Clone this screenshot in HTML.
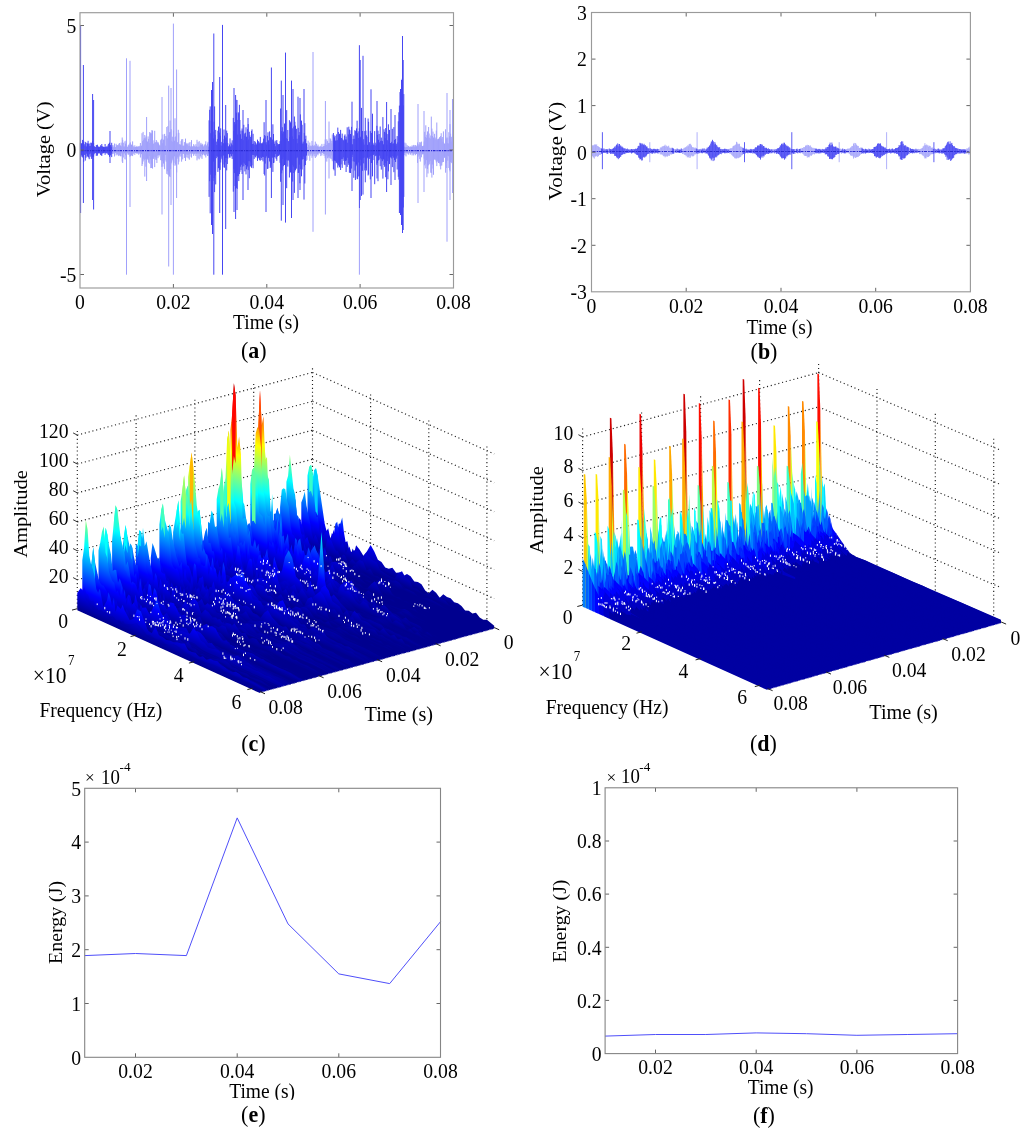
<!DOCTYPE html>
<html lang="en"><head><meta charset="utf-8"><title>Figure</title>
<style>html,body{margin:0;padding:0;background:#fff}svg{display:block}text{font-family:'Liberation Serif', 'Times New Roman', serif;fill:#000}.k0{fill:#0000a2}.k1{fill:#0000c3}.k2{fill:#0000e2}.k3{fill:#0002ff}.k4{fill:#0021ff}.k5{fill:#0041ff}.k6{fill:#0060ff}.k7{fill:#007fff}.k8{fill:#009eff}.k9{fill:#00beff}.k10{fill:#00ddff}.k11{fill:#00fcff}.k12{fill:#1cffe3}.k13{fill:#3cffc3}.k14{fill:#5bffa4}.k15{fill:#7aff85}.k16{fill:#99ff66}.k17{fill:#b9ff46}.k18{fill:#d8ff27}.k19{fill:#f7ff08}.k20{fill:#ffe800}.k21{fill:#ffc800}.k22{fill:#ffa900}.k23{fill:#ff8a00}.k24{fill:#ff6b00}.k25{fill:#ff4c00}.k26{fill:#ff2c00}.k27{fill:#ff0d00}.k28{fill:#ed0000}.k29{fill:#ce0000}.k30{fill:#ae0000}.k31{fill:#8f0000}</style>
</head><body>
<svg width="1024" height="1130" viewBox="0 0 1024 1130">
<rect width="1024" height="1130" fill="#fff"/>
<g id="pa">
<g fill="none" stroke-width="1">
<path stroke="#a0a0fb" d="M112.3 145.1V154M112.8 146.6V153.1M113.4 147.2V152.7M113.9 145.3V154.1M114.5 143.5V156.5M115 146.9V153.1M115.6 147.1V153M116.1 143.8V155.4M116.7 145.4V153.7M117.2 145.1V154.7M117.8 145.2V154.2M118.3 145.3V155.7M118.9 143.9V156.1M119.4 143V155.3M120 147.1V153.2M120.5 145.4V156.2M121.1 142.6V156.3M121.6 146.3V153.5M122.2 137.5V161.6M122.7 139.8V163M123.3 142.7V157.5M123.8 146.5V153.8M124.4 146.5V153.3M124.9 141.3V159.3M125.5 143.6V155.3M126 140.6V159.5M126.6 146.1V154.7M127.1 147V153.4M127.7 146.8V153.3M128.2 145.4V154.9M128.8 144.6V154.1M129.3 145.7V154.4M129.9 143.4V156.7M130.4 142.4V156.1M131 145V155M131.5 144.6V155.6M132.1 145.4V154.3M132.6 141.4V156.1M133.2 145.6V154.3M133.7 147.2V152.9M134.3 147.2V152.8M134.8 145.3V154.9M135.4 146.9V153M135.9 146.9V153.1M136.5 146.7V153M137 145.9V154M137.6 147V153M138.1 146.9V153.2M138.7 146.2V154.7M139.2 146.9V153.4M139.8 145.8V153.6M140.4 143V157.5M140.9 147.1V152.8M141.5 145.6V154.2M142 133.2V166M142.6 141.2V164.2M143.1 131.9V161.5M143.7 139.8V158.8M144.2 138.1V160.2M144.8 135V176.6M145.3 138.4V159.3M145.9 136.5V166.7M146.4 140.7V162.4M147 141V159.4M147.5 142V158.7M148.1 136.4V160.1M148.6 138.9V162.7M149.2 142.9V156M149.7 132V163.7M150.3 133.5V159.6M150.8 132.7V168.1M151.4 133.4V168M151.9 130.1V163.5M152.5 130.6V168.6M153 140.3V157.8M153.6 144V158.9M154.1 142.9V156.7M154.7 130.8V167.1M155.2 142.7V157.5M155.8 142.1V159.6M156.3 140V160M156.9 141.4V163M157.4 142.8V155.7M158 142V158.2M158.5 143.3V155M159.1 144.6V156.5M159.6 145.6V155M160.2 145.5V154.4M160.7 140.2V160.1M161.3 139.1V160.4M161.8 138.7V166.9M162.4 143.2V161M162.9 134.4V166.6M163.5 139.7V163.6M164 139.8V160M164.6 133.9V169.2M165.1 135.9V160.4M165.7 145.6V154.9M166.2 136.2V161.8M166.8 127V173.9M167.3 138.4V171.3M167.9 126.1V174.5M168.4 135.3V174.8M169 140.7V160.9M169.5 132.2V176.3M170.1 120.5V177.1M170.6 131.7V169.2M171.2 129.2V163.4M171.7 140.9V162.3M172.3 136.7V158.7M172.8 141.8V160.4M173.4 130.5V164.9M173.9 137.1V162.9M174.5 140.7V156.4M175 118.3V165.8M175.6 136.5V164.6M176.1 140.7V158.9M176.7 133.2V172.4M177.2 142.8V158.7M177.8 142V156.9M178.3 129.8V164.5M178.9 132.8V161.7M179.4 144.4V155.5M180 144V156.8M180.5 145V153.7M181.1 141.1V156M181.6 139.3V161.7M182.2 145.9V154.1M182.7 139.1V159.4M183.3 145.5V154M183.8 146V153.5M184.4 142.1V157.9M184.9 145.4V155M185.5 138.6V161M186 142.8V157.2M186.6 144.1V154.4M187.1 143.4V157.6M187.7 144.6V154.7M188.2 143.3V158.4M188.8 146.1V154.6M189.3 142.3V159.7M189.9 145.9V153.9M190.4 146.7V153.4M191 142.1V156.7M191.5 140.1V157.6M192.1 146.7V153.2M192.6 146.5V153.7M193.2 146.2V154.2M193.7 144.1V155.9M194.3 145.5V154.4M194.8 146.8V153.6M195.4 146.6V153.5M195.9 144.2V156M196.5 146.3V153.8M197 139.8V160.4M197.6 146.9V153.6M198.1 142.1V158.5M198.7 146.7V153.7M199.2 141.1V159.4M199.8 146.5V153.5M200.3 144.4V156.1M200.9 142.8V157.6M201.4 145V154M202 143.7V158.9M202.5 144.4V155.1M203.1 145.8V154.3M203.6 146.7V153.7M204.2 144.5V155.1M204.7 145.4V155.4M205.3 144V155.4M205.8 141.3V157.5M206.4 145.3V154.4M206.9 146.3V154.4M207.5 143.5V155.9M208 141.8V155.8M208.6 146.5V153.6M307 143.5V159.9M307.6 146.9V153.3M308.1 140.7V155.5M308.7 144.9V155.7M309.2 146.3V153.5M309.8 142.5V160.8M310.3 146.3V154.3M310.9 145.5V155.7M311.4 146.2V153.7M312 140.9V157.8M312.5 145.1V155.9M313.1 146V153.2M313.6 146.3V154.4M314.2 144.8V156.3M314.7 146.2V153.9M315.3 141.6V158M315.8 146.1V153.7M316.4 143.7V156.6M316.9 146.9V153.3M317.5 146.2V154.3M318 144.6V155.3M318.6 146.5V153.6M319.1 147.1V153M319.7 146.5V153.2M320.2 146.8V153.8M320.8 145.7V156.1M321.3 147V153.3M321.9 143.9V155.4M322.4 146.8V153M323 146.9V152.9M323.5 146.1V153.8M324.1 143.8V155.8M324.6 145.8V154M325.2 139.5V158.2M325.7 142.3V156.6M326.3 145V155.2M326.8 139.3V161.6M327.4 140.8V158.3M327.9 144.4V154.4M328.5 143.1V156.7M329 142.8V158.1M329.6 143V156.3M330.1 138.3V157.6M330.7 139.2V158.7M331.2 140.8V155.5M331.8 143.4V159.3M332.3 134.5V161.2M332.9 141V159.8M404.4 146.6V153.2M404.9 142.6V155.2M405.5 147.2V152.8M406 143.4V156.4M406.6 147V153M407.1 145.1V153.6M407.7 146.9V153.1M408.2 145.9V154.5M408.8 146V154.4M409.3 147.1V153.1M409.9 147.1V152.9M410.4 146.4V154.7M411 147.2V153.2M411.5 146.7V153.2M412.1 145.4V155.4M412.6 146.9V153M413.2 145.9V153.9M413.7 144.9V155.4M414.3 147.1V152.8M414.8 145.4V154M415.4 145.1V155.2M415.9 147.1V153.1M416.5 146.3V154.1M417 145.4V153.6M417.6 142.4V162.9M418.1 144.3V156.6M418.7 146.2V153.7M419.2 144.7V155.3M419.8 142.1V159.1M420.3 142.5V161.6M420.9 145V153.6M421.4 141.6V157.3M422 146.2V153.5M422.5 146.1V154.4M423.1 145.8V153.7M423.6 145.7V154.3M424.2 141.5V158.6M424.7 131.8V165.4M425.3 136.9V163.8M425.8 125.3V168.4M426.4 137.7V160.2M426.9 134.8V177.2M427.5 131.4V168.9M428 137.8V173.5M428.6 127V165.4M429.1 133.5V162.4M429.7 137.7V164.3M430.2 138.7V160.8M430.8 135.5V172.6M431.3 116.6V173M431.9 128.6V177.6M432.4 136V164.6M433 131.6V168.6M433.5 137.5V174.8M434.1 139.5V159.8M434.6 133.8V159.3M435.2 137.5V159M435.7 139.4V160.4M436.3 130.5V162.5M436.8 122.5V166.1M437.4 139.2V160.8M437.9 140.4V161.9M438.5 138.7V163M439 138.9V162.2M439.6 137.2V163.5M440.1 137.4V166.2M440.7 136V169.4M441.2 133.2V165.5M441.8 138.6V165.5M442.3 137V162.4M442.9 141.6V161.8M443.4 131.4V162M444 142.9V156.2M444.5 143.9V157.8M445.1 144.1V156.4M445.6 129.3V172.7M446.2 137.5V163M446.7 138.8V168M447.3 143.1V155.7M447.8 137.5V160.7M448.4 143.4V156.3M448.9 132.2V168M449.5 136.2V169.9M450 124.1V171.4M450.6 133.7V162.2M451.1 141.4V159.8M451.7 136.8V162.8M452.2 138.7V163.3M452.8 129.5V171.6M126.5 58.3V274.7M130 60.8V207M146.6 117V181M162 97V214.5M168.7 85.6V266.5M173.4 23.6V274.7M176.6 69.5V198M171 88V205M313 52V231.8M325.4 101V214.5M329 121.5V178.5M418 104V203M424 111V192M447 93V241.7M452.5 99V193M450 110V200M359.4 208V274.7M402.5 36V89"/>
<path stroke="#4646f2" d="M80.4 142.9V159.7M81 143.3V156.1M81.5 143.7V154.9M82 143.2V156.9M82.6 139.9V156.7M83.1 143V158M83.7 141.3V161.8M84.2 144.1V154.7M84.8 145.5V154.9M85.3 141.9V160.6M85.9 142.8V157.9M86.4 146.4V153.7M87 142.8V156.7M87.5 143.6V155.9M88.1 140.8V157.1M88.6 143.7V157.4M89.2 143.5V159.2M89.7 146.1V154.3M90.3 145.9V153.5M90.8 142.7V156.7M91.4 142.8V158.9M91.9 144V155.6M92.5 140.9V157.3M93 145.3V156.5M93.6 143V156.6M94.1 146.1V154.3M94.7 146.6V153.2M95.2 147.1V153.2M95.8 147V153M96.3 145.1V155.9M96.9 145.3V154.6M97.4 144.7V155.7M98 146.2V153.8M98.5 147.1V153M99.1 146.8V153.2M99.6 147.1V153.2M100.2 146.5V153.8M100.7 145.2V155M101.3 146.1V155.3M101.8 144V155.9M102.4 146.6V153.2M102.9 146.3V153.7M103.5 147V153M104 147.2V152.8M104.6 147.1V152.8M105.1 144V154.8M105.7 146.9V153.1M106.2 146.9V153.2M106.8 146.3V153.3M107.3 147.1V152.9M107.9 145.5V154.2M108.4 143.8V155.1M109 146.6V153.9M109.5 142.7V156.8M110.1 146.9V153M110.6 145.1V155.4M111.2 146.9V153.5M111.7 142.8V157.1M209.1 120.3V196.9M209.7 109.8V181.2M210.2 106.4V213.3M210.8 133.2V174.7M211.3 120.9V172M211.9 134.7V167.8M212.4 106.4V174.2M213 131.6V181M213.5 138.4V161.7M214.1 121.7V178.1M214.6 106.4V192.1M215.2 134.9V175.3M215.7 129.9V184.4M216.3 141.6V158.2M216.8 145V155.9M217.4 139.2V156.8M217.9 130.7V171.9M218.5 126.6V168.2M219 144.3V155.4M219.6 132.6V170.1M220.1 135.8V169.9M220.7 128.3V162.5M221.2 145.5V156.6M221.8 141.9V158.7M222.3 143V160.1M222.9 139.2V164.5M223.4 143.2V155.6M224 129.5V167.4M224.5 135.6V167.6M225.1 137.6V162.4M225.6 142.8V158.1M226.2 137.5V158.1M226.7 130.6V170.4M227.3 133.1V164M227.8 143.1V158.5M228.4 146.4V154.2M228.9 146.3V153.7M229.5 144.5V157.4M230 138.4V157.8M230.6 146.4V154.1M231.1 142.7V156.5M231.7 144.2V155.9M232.2 140.3V158.9M232.8 145.2V154M233.3 117.9V191.7M233.9 130.8V169.1M234.4 122.1V173.1M235 125.4V186.1M235.5 124.3V189.3M236.1 99.8V175.8M236.6 112.6V187.9M237.2 119.9V188.9M237.7 134.5V176.3M238.3 112.3V176M238.8 113.5V181.1M239.4 104.8V174.1M239.9 120V171.9M240.5 134.2V166.7M241 130.6V170.1M241.6 138.8V164.8M242.1 128.5V174M242.7 130.6V166.7M243.2 140.1V162.5M243.8 124.8V166.2M244.3 133.5V163.7M244.9 135.7V171.4M245.4 132.7V165M246 127.3V174.4M246.5 136.7V169.4M247.1 140.7V167.3M247.6 129.2V166M248.2 124.1V170.1M248.7 139.4V161.2M249.3 131.8V178.2M249.8 135.3V161.2M250.4 136.9V166.5M250.9 139.6V162.4M251.5 130.9V167.8M252 129.4V165.4M252.6 144V154.9M253.1 133.8V168.2M253.7 143.6V155M254.2 141V158.9M254.8 144.9V155.6M255.3 141.7V157M255.9 143V157.6M256.4 144.7V155.8M257 144.1V154.4M257.5 139.6V160.9M258.1 143.4V157.2M258.6 141.2V157.8M259.2 144V158.8M259.7 142.5V160.2M260.3 136.9V160.6M260.8 143.2V156.9M261.4 143.6V158M261.9 143.2V160M262.5 143.3V156.9M263 141.8V161.4M263.6 138.6V157.1M264.1 122.2V174M264.7 135V175.5M265.2 136.1V163.6M265.8 142.5V158M266.3 144.5V156.6M266.9 142.2V155.8M267.4 135.8V168.9M268 132.3V168.6M268.5 140.3V157.8M269.1 144.5V158.1M269.6 131.4V161.5M270.2 137.1V168M270.7 137.7V166.8M271.3 137.7V164.5M271.8 142.6V156.4M272.4 139.6V157.7M272.9 124.3V171.9M273.5 134V163M274 142.3V162.7M274.6 143.9V157M275.1 140.6V157.7M275.7 146.2V154M276.2 141.4V159M276.8 140V160.8M277.3 143.2V156.7M277.9 144.8V156M278.4 144.2V155.8M279 144.2V155.4M279.5 144V154.6M280.1 141.2V162.8M280.6 108.5V181.8M281.2 140.7V164.9M281.7 131.1V173.3M282.3 127.2V170.4M282.8 133.5V159.2M283.4 131.5V166.2M283.9 138.2V157.2M284.5 123.5V165.1M285 137.2V162.1M285.6 121.9V167.6M286.1 138V159.7M286.7 110.1V188.2M287.2 138.9V160.6M287.8 130V166.6M288.3 141V160M288.9 141.5V160.8M289.4 120.2V177.5M290 137V162M290.5 122.4V172.5M291.1 121.3V167.3M291.6 130.2V175.3M292.2 136.4V165M292.7 128.3V181.6M293.3 139V166.7M293.8 126.6V173M294.4 116.5V192.9M294.9 121.8V171.5M295.5 125.6V170.1M296 138.8V157.8M296.6 128.8V168.7M297.1 138.7V158.2M297.7 143.2V156.9M298.2 127.9V173M298.8 135.2V172.8M299.3 135.3V164.7M299.9 132V183.3M300.4 114.4V169.3M301 142.5V157M301.5 120.6V176.3M302.1 124.8V169.5M302.6 143.5V159.5M303.2 141.6V159M303.7 143.5V156.6M304.3 132.9V166.5M304.8 123.2V183.5M305.4 139V165.1M305.9 135.7V161M306.5 143.3V155.6M333.4 133V169M334 135.3V170.3M334.5 137.3V160.7M335.1 135.8V175.8M335.6 140.6V161.2M336.2 140.7V162.9M336.7 134.3V162.5M337.3 140.2V163.7M337.8 127.6V167.6M338.4 132V165.5M338.9 138.2V162.1M339.5 133.8V167.3M340 135.6V160.1M340.6 129.9V170M341.1 137.9V164.5M341.7 138.1V159M342.2 133.6V167.9M342.8 139.3V159M343.3 140.4V157.5M343.9 140.3V160.9M344.4 135.7V164.5M345 134.4V165.1M345.5 139.4V161M346.1 136.5V172M346.6 139.5V160.5M347.2 127.3V166.9M347.7 142.7V157.8M348.3 134.4V163.3M348.8 126.7V164.9M349.4 129.5V172.8M349.9 130.2V168.7M350.5 134V173M351 136.7V161.1M351.6 126.8V168.6M352.1 144.3V157M352.7 144.4V154.8M353.2 139V161.3M353.8 135.5V177.8M354.3 138.9V161.8M354.9 130.1V170.6M355.4 131.1V180M356 139.6V166.2M356.5 128.4V164.7M357.1 120.7V178.7M357.6 133.2V179.2M358.2 131.3V176.5M358.7 137.9V162.5M359.3 128.3V176.1M359.8 136.1V166.2M360.4 137.6V159.7M360.9 137V165.4M361.5 107.9V195.9M362 140.6V159.3M362.6 131V170.8M363.1 142.5V158M363.7 139.2V163.4M364.2 144.6V157.6M364.8 131.1V170.4M365.3 117.8V182.3M365.9 130.6V168.2M366.4 135.3V170.5M367 136.8V158.5M367.5 144.8V157.7M368.1 118.5V175.5M368.6 121.8V174.5M369.2 143.3V157.1M369.7 142.1V158.9M370.3 131.1V179.4M370.8 145.5V156.2M371.4 132.9V163M371.9 145V155.4M372.5 113.7V176.4M373 142.8V160.1M373.6 144.6V154.9M374.1 144.6V154.3M374.7 131.1V184.2M375.2 145.6V156.2M375.8 142.7V155.5M376.3 144.3V155.6M376.9 125.8V164.8M377.4 135V162.9M378 130.7V181.2M378.5 139.7V160.4M379.1 134V159.7M379.6 142.4V155.7M380.2 126.5V166.2M380.7 140.9V158.4M381.3 137.6V169.6M381.8 140.7V159.2M382.4 141.1V161.2M382.9 117.1V178.6M383.5 144.3V159.4M384 129.3V165M384.6 131.8V166.8M385.1 138.1V163M385.7 128.1V177.2M386.2 132.9V166.3M386.8 144.6V156.3M387.3 140.2V161.1M387.9 134.1V179.3M388.4 124.3V171.4M389 141.7V158.2M389.5 129.9V164.1M390.1 144.5V156.1M390.6 143V157.5M391.2 143.1V157.1M391.7 141.8V158.5M392.3 128.8V167.1M392.8 143.9V156M393.4 143.3V157.7M393.9 127.1V172.2M394.5 139.9V160.1M395 143.5V155.6M395.6 138.9V162M396.1 145.5V156.9M396.7 143.7V158.7M397.2 136.1V169.5M397.8 142.3V155.7M398.3 121.3V176.8M398.9 112.3V179.6M399.4 105.6V213M400 92.1V213M400.5 131.4V172M401.1 132V167.4M401.6 100.8V187.3M402.2 78.8V186.2M402.7 113.1V178.6M403.3 105.4V207.5M403.8 94.1V196.9M80.6 25V213M83.4 65V203M92.6 94V200M93.6 100V209.5M110 131V163M213.8 33.5V274.7M212.5 82V234M211.5 90V225M222.5 24.9V274.7M219.7 77V213M225.7 105V229M234 88V212M235.6 95V219M237 100V210M243 110V200M248 118V190M266 100V212M271.4 67.5V198M281.3 80.6V220.7M285.5 52.6V222.6M283 95V205M291.5 80.6V218M293 89V200M298 96.7V198M300 98V190M304 89V199.6M352 101.7V191M359.4 45.2V208M360.2 60V200M363 55.8V194.6M371 89.3V198M377 101V178.5M386.6 102V192M391 109V185M395 115V180M400.5 89V215M401.5 80V225M402.5 36V233M403.2 60V230"/>
<path stroke="#2c2cd4" stroke-width="1.1" stroke-dasharray="2.5 1 1.2 0.8" d="M81 150.6H452.5"/>
</g>
<path d="M173.4 288v-4M173.4 12.7v4M266.8 288v-4M266.8 12.7v4M360.1 288v-4M360.1 12.7v4M80 25.5h4M453.5 25.5h-4M80 150h4M453.5 150h-4M80 274.5h4M453.5 274.5h-4" stroke="#666" stroke-width="1" fill="none"/>
<rect x="80" y="12.7" width="373.5" height="275.3" fill="none" stroke="#9a9a9a" stroke-width="1.15"/>
<text transform="translate(80 309) scale(1.01 1.11)" font-size="19.5" text-anchor="middle">0</text>
<text transform="translate(173.4 309) scale(1.01 1.11)" font-size="19.5" text-anchor="middle">0.02</text>
<text transform="translate(266.8 309) scale(1.01 1.11)" font-size="19.5" text-anchor="middle">0.04</text>
<text transform="translate(360.1 309) scale(1.01 1.11)" font-size="19.5" text-anchor="middle">0.06</text>
<text transform="translate(453.5 309) scale(1.01 1.11)" font-size="19.5" text-anchor="middle">0.08</text>
<text transform="translate(76.4 32.8) scale(1.01 1.11)" font-size="19.5" text-anchor="end">5</text>
<text transform="translate(76.4 157.3) scale(1.01 1.11)" font-size="19.5" text-anchor="end">0</text>
<text transform="translate(76.4 281.8) scale(1.01 1.11)" font-size="19.5" text-anchor="end">-5</text>
<text transform="translate(266 329.4) scale(1 1.09)" font-size="19.5" text-anchor="middle">Time (s)</text>
<text transform="translate(50 149.3) rotate(-90) scale(1.05 1.02)" font-size="19.5" text-anchor="middle">Voltage (V)</text>
<text transform="translate(253.8 358.4) scale(1 1.085)" font-size="22" text-anchor="middle">(<tspan font-weight="bold">a</tspan>)</text>
</g>
<g id="pb">
<g fill="none" stroke-width="0.9">
<path stroke="#a9a9fb" d="M591.9 146V156.2M592.5 145.4V156M593.1 145.3V157.3M593.7 145.5V157.4M594.3 144.7V158.6M594.9 144.4V156M595.5 144.6V156.6M596.1 144.9V155.9M596.7 144.4V155.9M597.3 146V156.9M597.9 146V156.5M598.5 146.7V156M599.1 147.1V154.9M599.7 147.3V154.9M600.3 148.1V154.9M600.9 148.4V153.8M603.3 149.4V153M604.5 149.6V153M605.7 149.5V153.1M608.1 148.9V152.7M608.7 149.4V153.6M625.5 148.1V153.1M629.1 149.6V152.6M630.9 149.7V152.7M633.3 149.2V152.6M649.5 148.9V153.8M658.5 149V153.7M659.1 149.4V153.2M659.7 149.4V153.1M660.3 147.7V154.4M660.9 147.4V154.2M661.5 147.6V154.2M662.1 146.6V154.8M662.7 146.5V154.6M663.3 146.2V155.9M663.9 145.9V156.3M664.5 145.8V155.7M665.1 144.7V157.3M665.7 146.7V156.2M666.3 145.6V156.5M666.9 146.2V155.6M667.5 147.1V156.6M668.1 146.2V155.5M668.7 145.7V155.5M669.3 147.8V156M669.9 147.6V154.7M670.5 148.3V154.1M671.1 148.7V154.3M671.7 147.8V154.5M674.1 149.5V153.6M674.7 149V152.8M675.3 149.2V152.6M676.5 149.7V153M677.7 148.8V152.6M678.3 149.1V152.8M681.9 149.5V152.8M682.5 149.1V154M683.1 148.9V154M683.7 148.5V153.3M684.3 147.7V154.8M684.9 147.9V154.8M685.5 147.3V154.9M686.1 147.3V156.2M686.7 146.3V155.5M687.3 146.5V157.4M687.9 145.2V156.9M688.5 146.2V156.8M689.1 144.3V157.9M689.7 143.9V156.2M690.3 143.8V157.7M690.9 144.7V156.5M691.5 145.6V155.2M692.1 147V155.9M692.7 147.3V156.4M693.3 147.3V156.2M693.9 147.8V155.7M694.5 148.4V154.2M695.1 147.4V154.7M695.7 148.5V154M697.5 149.2V154M698.7 149.6V153.4M699.9 149.2V153.3M700.5 148.9V152.7M703.5 148.6V152.6M704.7 148.4V153.1M705.3 149.3V153.7M721.5 148.9V154.4M723.9 149.6V152.7M725.1 149.4V153.8M727.5 149.3V153.1M729.3 148.7V152.8M729.9 149.1V153.8M730.5 148.4V153.4M731.1 148.2V153.4M731.7 148.4V154.8M732.3 147.9V155.4M732.9 146.4V156.2M733.5 146.1V156.6M734.1 145.5V156.9M734.7 145.7V158.2M735.3 144.9V158.4M735.9 144.4V158.2M736.5 141.8V158.5M737.1 142.5V157.1M737.7 144.2V158.2M738.3 143.8V158.2M738.9 144.6V157.6M739.5 143.8V157.4M740.1 146.9V156.7M740.7 146.3V157.1M741.3 147.1V155.3M741.9 146.9V155.3M742.5 147.9V154.8M744.3 149V153.1M745.5 149.4V153.1M747.9 149.7V153.6M749.1 149.5V153M752.7 149.2V153.8M770.7 149.7V153.6M772.5 149.7V152.9M773.1 149.7V152.6M773.7 149.1V152.6M774.9 148.9V153.7M775.5 149.5V152.6M790.5 148.7V154.7M791.1 148.8V154.5M794.7 149.2V153M795.3 149.4V153.8M795.9 149.1V152.8M798.3 149V152.9M798.9 149.2V153.2M800.7 148.6V153.4M801.3 149.4V152.9M801.9 147.9V153M802.5 148V153.4M803.1 148.8V153.8M803.7 147.2V154.5M804.3 147V155.5M804.9 147.5V155.9M805.5 145.9V156M806.1 145.1V156M806.7 145.9V156.1M807.3 144.8V157.6M807.9 146.4V156.5M808.5 145V157.1M809.1 146.7V157.4M809.7 145.8V156.3M810.3 145.4V155.3M810.9 146.7V155.5M811.5 147.3V155.7M812.1 148.2V154.2M812.7 147.7V154.6M813.3 148.4V154M813.9 147.9V153.5M814.5 148.4V154.4M815.1 148.4V153.9M821.7 149.4V152.6M822.9 149.4V152.9M839.7 148.1V153.2M840.3 148.9V152.8M840.9 148.8V152.7M841.5 149.6V153.8M843.3 149.4V153.4M845.1 149.4V152.8M846.3 149.2V152.8M846.9 149.3V152.6M847.5 148.7V152.8M848.1 148.8V153.3M848.7 148.7V152.8M849.3 148.5V153.5M849.9 148.6V154.2M850.5 147.5V155.3M851.1 147.7V155.5M851.7 146.4V155.8M852.3 145.9V155.5M852.9 146.2V156.3M853.5 143.8V158.6M854.1 142.9V157.3M854.7 145.3V156.5M855.3 143.1V158M855.9 143.6V157.8M856.5 144.9V157M857.1 145.8V156.7M857.7 145.8V157.1M858.3 146V156.8M858.9 147.7V155.7M859.5 148V155.8M860.1 148.1V155M860.7 147.5V153.7M861.3 148.6V153.5M863.1 149.3V153M864.3 149.4V153.4M868.5 148.5V153.2M870.9 149.3V152.7M891.9 149.7V153M909.3 148.2V154.1M909.9 148.4V153.6M914.1 149V153.2M915.3 149.7V152.9M916.5 149.4V153.2M917.7 149.1V152.7M918.3 148.9V152.9M918.9 149.1V153M919.5 149.4V154.1M920.1 149.3V153.5M920.7 148.9V154.1M921.3 148.6V154M921.9 148.3V154.6M922.5 148V154.9M923.1 146.5V156M923.7 146.3V155.6M924.3 145.3V157.3M924.9 143.2V158.5M925.5 145.2V158.1M926.1 145.4V158.4M926.7 144.5V156.5M927.3 145.5V157.2M927.9 145.3V157M928.5 146.8V156.9M929.1 145.6V156.1M929.7 146V156.1M930.3 146.2V154.7M930.9 147.9V154.1M931.5 147.9V154.3M932.1 147.4V154M932.7 147.8V154.2M933.9 149V153.8M934.5 148.4V153M935.7 149.3V153.5M937.5 149V152.8M940.5 149.6V153.2M958.5 149.1V153.1M966.3 149.6V153.4M966.9 148.3V153.3M967.5 149.1V153.2M968.1 148.1V153.3M968.7 147.4V154.5M969.3 148.5V153.8M969.9 146.6V154.4M649.8 142.2V162.2M697.1 132.2V169.2M839.2 142.2V162.2M886.6 132.2V169.2"/>
<path stroke="#4b4bf3" d="M601.5 148.4V153.5M602.1 149V154M602.7 149.4V153M603.9 148.4V153M605.1 149.3V153M606.3 149.2V152.6M606.9 149.3V153.6M607.5 149.5V153.8M609.3 148.5V152.8M609.9 149.4V152.6M610.5 149.2V153.9M611.1 149.3V152.9M611.7 149.5V153.8M612.3 148.8V153.4M612.9 148.8V153.9M613.5 148.2V153.5M614.1 147.7V154M614.7 146.6V155.8M615.3 147.6V156M615.9 145.8V155.7M616.5 144.6V156.8M617.1 145.3V158.1M617.7 143.4V157.8M618.3 146.3V159.2M618.9 144.2V157.3M619.5 144V158.1M620.1 146.1V156.4M620.7 145.4V156.9M621.3 147.2V155.2M621.9 146.3V155M622.5 147.4V154.4M623.1 147.6V154.2M623.7 148.5V153.6M624.3 148.2V153.8M624.9 149V154.1M626.1 149V153.2M626.7 149.4V152.9M627.3 148.5V152.9M627.9 149.5V152.7M628.5 149.5V152.8M629.7 149.6V152.6M630.3 149.4V152.6M631.5 149V153.5M632.1 149.7V153.1M632.7 149.2V152.7M633.9 149V152.6M634.5 149.5V152.7M635.1 149V153.8M635.7 148.6V153.4M636.3 149V154.5M636.9 148.7V154.9M637.5 148.1V154.9M638.1 146.3V155.4M638.7 145.8V157.5M639.3 146.2V158M639.9 142.8V159.5M640.5 143.5V159.1M641.1 143.3V158.5M641.7 144.5V160.5M642.3 143.5V160.3M642.9 144.5V157.8M643.5 145.1V156.9M644.1 143.8V156.7M644.7 145.3V157.6M645.3 145.1V156.4M645.9 145.9V156.6M646.5 146.9V155.5M647.1 146.5V154.4M647.7 148.2V154M648.3 148.3V153.8M648.9 148.7V153.5M650.1 148V153.1M650.7 149.3V153M651.3 148.9V153.3M651.9 149.6V153.5M652.5 149.6V153.6M653.1 148.9V153.3M653.7 148.9V152.7M654.3 148.9V152.6M654.9 148.9V153.6M655.5 149.4V152.7M656.1 149.1V152.8M656.7 149.7V152.6M657.3 148.8V153.4M657.9 149.1V152.8M672.3 147.8V153.4M672.9 148.4V153.8M673.5 148.6V153.5M675.9 149.6V152.7M677.1 148.6V152.7M678.9 149.5V153M679.5 149.7V153M680.1 149.6V153M680.7 149.7V152.7M681.3 148.4V152.7M696.3 148.5V153.2M696.9 148.8V153.4M698.1 149.5V153.5M699.3 149.4V153.1M701.1 149.5V152.9M701.7 149.7V153.1M702.3 148.5V153.3M702.9 149.7V152.9M704.1 148.6V152.6M705.9 149.5V153.1M706.5 149.3V153.4M707.1 147.7V153.3M707.7 148.4V153.7M708.3 146.9V155.1M708.9 146.9V155.9M709.5 145.6V157.6M710.1 145.5V158.5M710.7 143.6V158.4M711.3 141.6V160.4M711.9 141.6V159.1M712.5 139.8V157.7M713.1 141V161.1M713.7 142.2V157.9M714.3 144.4V160.4M714.9 142.1V157.9M715.5 143.7V156.9M716.1 145.7V156.2M716.7 144.9V157.3M717.3 146.6V155.6M717.9 146.9V155.5M718.5 147.8V154.8M719.1 147.2V154.6M719.7 147.4V153.6M720.3 149.1V153.7M720.9 149.1V153.9M722.1 149.3V153.2M722.7 149.4V152.8M723.3 149.1V152.8M724.5 148.7V153.2M725.7 148.8V153M726.3 149.2V152.7M726.9 149.4V153.2M728.1 149.4V152.9M728.7 149.6V153M743.1 147.8V153.7M743.7 148.3V154M744.9 149V153.7M746.1 148.6V152.8M746.7 149.6V152.8M747.3 149.5V153M748.5 149.7V152.6M749.7 149.7V153M750.3 149.4V153M750.9 148.9V153.2M751.5 149.5V152.8M752.1 149.5V152.6M753.3 149.2V153.3M753.9 149.3V153M754.5 149.3V153.2M755.1 147.8V153.9M755.7 147.2V153.5M756.3 147.8V155.1M756.9 147.1V155.2M757.5 145.8V156.4M758.1 145.3V157.3M758.7 145.8V156.7M759.3 145.9V158M759.9 144.4V158.1M760.5 144V159.6M761.1 145.5V157.7M761.7 144.3V156.6M762.3 144.8V155.8M762.9 146.8V157.6M763.5 146V155.7M764.1 146.3V156.4M764.7 147.9V154.6M765.3 147.7V154.8M765.9 148.4V153.9M766.5 147.8V153.6M767.1 148.8V153.7M767.7 149V153.6M768.3 148.2V154M768.9 149.5V153.8M769.5 149.2V153M770.1 149.3V152.7M771.3 149.7V152.9M771.9 149.1V153.3M774.3 149.7V153.2M776.1 149.1V152.8M776.7 149.5V154M777.3 148.6V153.2M777.9 148.1V153.5M778.5 148.3V154M779.1 147.9V154.2M779.7 147.1V154.8M780.3 145.5V156.3M780.9 145.5V156.7M781.5 144V157.8M782.1 143.4V158.6M782.7 144.5V157.9M783.3 144.4V158M783.9 142.7V158.3M784.5 142.8V159.7M785.1 144.2V158M785.7 144.7V158.5M786.3 146V155.8M786.9 145.4V156.7M787.5 146.6V155.5M788.1 146V154.7M788.7 147.2V155.2M789.3 147.5V154.4M789.9 147.7V154.4M791.7 149V153.2M792.3 149.2V153.3M792.9 149.4V153.3M793.5 149.3V153.8M794.1 149.1V153.9M796.5 149.1V152.6M797.1 148.6V152.6M797.7 149.7V153.3M799.5 149V152.7M800.1 148.8V152.8M815.7 148.7V152.9M816.3 148.7V152.8M816.9 148.9V153.5M817.5 149.6V152.8M818.1 149.7V152.6M818.7 148.9V153.5M819.3 149.2V152.7M819.9 148.9V153.5M820.5 149.7V152.6M821.1 149.7V153.2M822.3 148.9V152.7M823.5 149.4V152.7M824.1 149.5V153.1M824.7 149.4V152.9M825.3 148.8V154.4M825.9 147.5V154.2M826.5 148.7V154.1M827.1 147.1V154.4M827.7 146.9V156.1M828.3 147V156.8M828.9 144.9V155.7M829.5 144.2V158.9M830.1 142.6V159M830.7 145.5V158.4M831.3 145.1V159.2M831.9 142.5V158.8M832.5 144.4V159.3M833.1 146.5V157.4M833.7 146.6V158.2M834.3 146.8V157.3M834.9 146.9V156.9M835.5 146.6V154.8M836.1 146.7V154.8M836.7 148.3V154.6M837.3 147.7V153.8M837.9 148.3V153.8M838.5 148.4V154M839.1 149V153.4M842.1 149.6V152.6M842.7 148.5V152.6M843.9 149.7V153M844.5 149.2V153.4M845.7 149.7V153.4M861.9 147.7V153.8M862.5 148.6V153M863.7 148.9V153.5M864.9 149.6V152.9M865.5 148.8V153.6M866.1 149.6V152.7M866.7 149.2V153.1M867.3 149.7V152.7M867.9 149.7V152.6M869.1 149.7V152.9M869.7 148.9V152.8M870.3 149.7V152.8M871.5 149.6V152.9M872.1 149.1V152.8M872.7 149V153.1M873.3 149.1V153.6M873.9 147.2V153.7M874.5 147V156M875.1 146.8V156.4M875.7 146.9V156.3M876.3 146.2V157.7M876.9 145.5V157.1M877.5 144V156.8M878.1 143.1V156.5M878.7 143.8V157.8M879.3 143.7V157.8M879.9 143.9V158.4M880.5 143.4V157.7M881.1 145.4V156.9M881.7 146V155.2M882.3 147.1V156.1M882.9 146.1V155.6M883.5 147.1V154.7M884.1 147.3V155.1M884.7 148.1V154.6M885.3 147.5V153.9M885.9 148.8V153.7M886.5 149.1V153.1M887.1 149.1V153.5M887.7 149.4V152.8M888.3 149.1V152.7M888.9 149.2V152.9M889.5 148.7V152.7M890.1 149.7V152.6M890.7 149.6V153.5M891.3 148.8V153.1M892.5 148.5V152.6M893.1 149.7V152.6M893.7 149.4V152.6M894.3 149.4V153.4M894.9 149V153.2M895.5 148.2V152.9M896.1 148.2V153.4M896.7 148V154M897.3 147.7V153.6M897.9 148.1V154M898.5 147.1V155.3M899.1 145V156.6M899.7 146V156M900.3 145V159.3M900.9 142.1V159.3M901.5 141.3V159.7M902.1 144.3V160M902.7 141.4V158M903.3 143.8V158.3M903.9 145.9V158.6M904.5 145.6V158.2M905.1 145.3V158.1M905.7 145.5V156.5M906.3 146.5V155.6M906.9 147.7V154.6M907.5 146.8V155.2M908.1 147.5V154.3M908.7 147.3V153.6M910.5 148.3V153M911.1 149V153M911.7 149V152.9M912.3 148.9V153.4M912.9 149.1V153.2M913.5 149.5V152.7M914.7 149.6V153.2M915.9 148.7V152.6M917.1 149.7V152.8M933.3 149V153.5M935.1 148.9V152.8M936.3 149.6V152.7M936.9 149.7V152.7M938.1 148.6V153.1M938.7 148.7V152.7M939.3 149.7V153.4M939.9 149.5V153.1M941.1 149.7V152.8M941.7 149.6V153.5M942.3 149.5V153.5M942.9 148.3V153.1M943.5 148.4V153.1M944.1 148.6V153.5M944.7 147.8V154.4M945.3 146.2V155.1M945.9 145.6V156.9M946.5 144.7V155.5M947.1 143.3V159.8M947.7 142.1V157.6M948.3 141.5V159.7M948.9 143.6V159.8M949.5 144.2V158.9M950.1 141.3V158.5M950.7 144.1V161M951.3 143.4V160.1M951.9 142.9V159.2M952.5 145V158.4M953.1 146.6V158.1M953.7 146.2V157.7M954.3 146.2V155.1M954.9 147.4V155.2M955.5 148.1V154.1M956.1 148.2V154M956.7 148.1V154.2M957.3 148.9V153.2M957.9 148.4V153.3M959.1 149.1V153.8M959.7 149V152.9M960.3 149.2V153.4M960.9 149.5V153.4M961.5 149.6V152.9M962.1 149.7V153.4M962.7 149.4V152.7M963.3 149.4V153.1M963.9 149.5V153.4M964.5 149.5V153.7M965.1 149.6V152.6M965.7 149.6V153.5M602.4 132.2V169.2M744.5 142.2V162.2M791.8 132.2V169.2M933.9 142.2V162.2"/>
<path stroke="#2a2ad0" stroke-width="1.2" stroke-dasharray="3 1.2 1.5 0.8" d="M592.5 151.5H969.4"/>
</g>
<path d="M686.2 291.8v-4M686.2 12.5v4M781 291.8v-4M781 12.5v4M875.7 291.8v-4M875.7 12.5v4M591.5 59.1h4M970.4 59.1h-4M591.5 105.6h4M970.4 105.6h-4M591.5 152.2h4M970.4 152.2h-4M591.5 198.7h4M970.4 198.7h-4M591.5 245.3h4M970.4 245.3h-4" stroke="#666" stroke-width="1" fill="none"/>
<rect x="591.5" y="12.5" width="378.9" height="279.3" fill="none" stroke="#9a9a9a" stroke-width="1.15"/>
<text transform="translate(591.5 313) scale(1.01 1.11)" font-size="19.5" text-anchor="middle">0</text>
<text transform="translate(686.2 313) scale(1.01 1.11)" font-size="19.5" text-anchor="middle">0.02</text>
<text transform="translate(781 313) scale(1.01 1.11)" font-size="19.5" text-anchor="middle">0.04</text>
<text transform="translate(875.7 313) scale(1.01 1.11)" font-size="19.5" text-anchor="middle">0.06</text>
<text transform="translate(970.4 313) scale(1.01 1.11)" font-size="19.5" text-anchor="middle">0.08</text>
<text transform="translate(586.9 19.8) scale(1.01 1.11)" font-size="19.5" text-anchor="end">3</text>
<text transform="translate(586.9 66.4) scale(1.01 1.11)" font-size="19.5" text-anchor="end">2</text>
<text transform="translate(586.9 112.9) scale(1.01 1.11)" font-size="19.5" text-anchor="end">1</text>
<text transform="translate(586.9 159.5) scale(1.01 1.11)" font-size="19.5" text-anchor="end">0</text>
<text transform="translate(586.9 206) scale(1.01 1.11)" font-size="19.5" text-anchor="end">-1</text>
<text transform="translate(586.9 252.6) scale(1.01 1.11)" font-size="19.5" text-anchor="end">-2</text>
<text transform="translate(586.9 299.1) scale(1.01 1.11)" font-size="19.5" text-anchor="end">-3</text>
<text transform="translate(779.5 334.3) scale(1 1.09)" font-size="19.5" text-anchor="middle">Time (s)</text>
<text transform="translate(561.8 151) rotate(-90) scale(1.085 1.02)" font-size="19.5" text-anchor="middle">Voltage (V)</text>
<text transform="translate(764 359.1) scale(1 1.085)" font-size="22" text-anchor="middle">(<tspan font-weight="bold">b</tspan>)</text>
</g>
<g id="pc">
<path d="M77.3 431L77.3 608.7M136.1 415.3L136.1 593M194.9 399.7L194.9 577.4M253.7 384L253.7 561.7M312.5 368.3L312.5 546M77.3 579.8L312.5 517.1M77.3 550.8L312.5 488.1M77.3 521.9L312.5 459.2M77.3 492.9L312.5 430.2M77.3 464L312.5 401.3M77.3 435.1L312.5 372.4M370.6 394.4L370.6 572.1M428.8 420.5L428.8 598.2M486.9 446.5L486.9 624.2M312.5 517.1L494.2 598.6M312.5 488.1L494.2 569.6M312.5 459.2L494.2 540.7M312.5 430.2L494.2 511.7M312.5 401.3L494.2 482.8M312.5 372.4L494.2 453.9" fill="none" stroke="#1e1e1e" stroke-width="1.15" stroke-dasharray="1.1 2.8"/>
<path d="M77.3 579.8l-4.2 -2.2M77.3 550.8l-4.2 -2.2M77.3 521.9l-4.2 -2.2M77.3 492.9l-4.2 -2.2M77.3 464l-4.2 -2.2M77.3 435.1l-4.2 -2.2" fill="none" stroke="#333" stroke-width="1"/>
<defs><linearGradient id="jc" gradientUnits="userSpaceOnUse" x1="0" y1="0" x2="0" y2="-185.2"><stop offset="0" stop-color="#00008f"/><stop offset="0.125" stop-color="#0000ff"/><stop offset="0.375" stop-color="#00ffff"/><stop offset="0.625" stop-color="#ffff00"/><stop offset="0.875" stop-color="#ff0000"/><stop offset="1" stop-color="#800000"/></linearGradient></defs>
<path d="M77.3 608.7L312.5 546L494.2 627.5L260 691.5Z" fill="#00008f"/>
<g fill="url(#jc)">
<path transform="matrix(1 0.4485 0 1 312.5 541.7)" d="M0 5.9l0 -68.7l1.7 -9.5l1.8 -2.7l1.7 6.9l7 44.7l1.8 6.3l1.7 -3.5l1.7 7.6l1.8 2.8l1.7 -11.3l1.8 8.2l1.7 -4.8l1.8 -11.6l1.7 -1.1l1.8 -6.7l1.7 13.7l1.7 9.2l1.8 -1.6l1.7 7.7l1.8 4.8l1.7 -7.4l1.8 2.6l1.7 -7.4l3.6 2.7l3.7 4.5l3.6 -6.3l3.6 -7.7l3.7 4.8l3.6 6.7l3.6 0.5l3.7 3.8l3.6 -0.3l3.6 -2.5l3.7 3.3l3.6 -2l3.6 2.1l3.7 -3.9l3.6 0.8l3.7 3.5l3.6 -1l3.6 0.6l3.7 4.5l3.6 1.2l3.6 -5.1l3.7 1.3l3.6 3.3l3.6 -5l3.7 1.1l3.6 -0.4l3.6 2.4l3.7 -0.7l3.6 1.2l3.6 2.8l3.7 -1.3l3.6 1.2l3.6 -2.4l3.7 3l3.6 0.7l3.6 -1.7l7.3 2.7V5.9z"/>
<path transform="matrix(1 0.4485 0 1 312.5 541.7)" fill="#00d2ff" d="M1.7 -72.3L3.5 -75L5.2 -68.1L5.2 -28.3L3.5 -31.4L1.7 -30.2z"/>
<path transform="matrix(1 0.4486 0 1 311.3 542)" d="M0 5.9l0 -19.8l1.7 -8.3l1.8 -2l5.2 12.7l3.5 6.7l1.8 1l1.7 -0.9l1.7 2.5l1.8 -3.8l1.7 3.7l3.5 -2.2l1.8 -0.4l1.7 -3.9l1.8 2l1.7 3l1.7 -1.5l5.3 3.1l1.7 -1.9l3.5 2.3l7.3 0.2l3.6 -1.7l3.6 0.6l3.7 -0.4l3.6 1l7.3 2.8l3.6 -1.6l7.3 1.1l3.6 -1.2l3.7 0.1l3.6 -1.7l7.3 1.5l3.6 2.5l3.6 0.3l3.7 -1.2l3.6 0.6l3.6 -0.3l7.3 0.5l3.6 -1.4l3.7 0l7.2 2l3.7 -0.2l3.6 0.4l3.6 -0.5l14.6 0l7.2 0.7l7.3 1.4V5.9z"/>
<path transform="matrix(1 0.4486 0 1 310 542.4)" d="M0 5.9l0 -22.6l1.7 -3.1l1.8 -2l3.5 6.2l1.7 5.3l1.8 2.6l1.7 -0.5l1.8 2.6l1.7 -0.2l1.7 0.6l1.8 3.5l1.7 -3.3l1.8 3.8l1.7 -0.2l1.8 -7l3.5 -0.2l1.7 1.7l1.7 4.5l1.8 0.1l1.7 -0.8l3.5 -0.8l1.8 3.7l12.6 -3.4l3.6 0l3.7 0.8l3.6 1.5l7.3 0.3l3.6 1.6l3.7 -1.1l3.6 0.2l3.6 1.5l3.7 -2.1l3.6 -0.5l3.6 0.1l3.7 2.3l7.2 -0.8l3.7 0l3.6 0.9l7.3 -0.4l7.2 0.2l3.7 -0.6l3.6 1.1l3.6 0.5l7.3 0l3.6 -0.5l10.9 0.9l7.3 -0.1l7.3 0.7l3.6 0.8V5.9z"/>
<path transform="matrix(1 0.4486 0 1 308.8 542.7)" d="M0 5.9l0 -20.3l1.7 -3.3l1.8 -5.3l1.7 4.8l1.8 3.2l1.7 2.3l1.8 5.5l1.7 1.7l1.8 1l1.7 -1.9l3.5 2.7l1.7 0.5l1.8 -0.1l1.7 -0.8l1.8 -2.5l1.7 -1.6l1.8 0.8l1.7 3.2l1.7 0.6l1.8 -0.6l1.7 1.1l1.8 0.2l1.7 1.3l1.8 -1.8l1.7 -0.3l3.6 3.4l3.7 -3.1l3.6 -1.7l3.6 -4l3.7 5.9l3.6 2.7l3.7 -1.1l3.6 2.9l3.6 -1l3.7 -0.1l3.6 0.4l3.6 1l7.3 -5.3l7.3 3.4l3.6 0.8l3.6 -0.4l3.7 0.1l3.6 0.4l3.6 1.3l3.7 -0.7l3.6 0.7l3.6 -1.5l3.7 -0.2l3.6 1.3l3.6 0.2l7.3 -0.4l3.6 0.3l3.7 0.9l14.5 -0.4l10.9 1.5V5.9z"/>
<path transform="matrix(1 0.4486 0 1 307.5 543)" d="M0 5.9l0 -73.4l1.7 -9.2l1.8 -3l1.7 7.6l1.8 26.7l1.7 15.6l1.8 -1l1.7 14.8l1.8 -8.4l1.7 9.5l3.5 -6.1l1.7 1.2l1.8 6.5l1.7 -7.7l1.8 1.4l1.7 -12.2l1.8 -2.7l1.7 9.3l1.7 13.6l1.8 -4.3l1.7 2.8l1.8 5.8l3.5 -7.9l1.7 4.6l3.6 -3.2l3.7 -0.9l3.6 5.8l3.7 -7l7.2 4.1l3.7 0l3.6 6.2l7.3 1.6l7.2 0.2l3.7 -7l3.6 -3.3l3.6 4.9l3.7 0.2l3.6 6.6l3.6 -0.9l3.7 1.8l3.6 0.6l3.6 -2.5l7.3 0.6l3.6 -1.9l3.7 0.6l3.6 -0.1l3.6 2.9l3.7 -1.4l3.6 3.2l3.6 -2.5l3.7 -0.5l3.6 0.2l7.3 0.9l3.6 2.1l3.7 1.5l3.6 -0.5l3.6 0.7V5.9z"/>
<path transform="matrix(1 0.4486 0 1 307.5 543)" fill="#35ffca" d="M1.7 -76.7L3.5 -79.7L5.2 -72.1L5.2 -48.4L3.5 -53.7L1.7 -51.6z"/>
<path transform="matrix(1 0.4487 0 1 306.3 543.4)" d="M0 5.9l0 -24.7l1.7 -3.2l1.8 -1.3l1.7 4.8l1.8 -1l1.7 4.5l1.8 6.6l3.5 1.3l1.7 4.5l1.7 -3.5l1.8 4l1.7 -0.3l1.8 2.4l1.7 -5.6l1.8 -1.1l1.7 -5.6l1.8 4.7l1.7 0.2l1.7 3.1l3.5 -0.8l3.5 0l1.8 3l1.7 -1.6l3.6 0.5l3.7 -1.6l3.6 -2.6l3.7 -4.5l3.6 6.3l3.6 2.6l7.3 2.4l3.6 0.1l3.7 -1.6l3.6 3.3l3.6 -2.1l3.7 2.1l3.6 -1.1l7.3 0.9l7.2 -0.3l7.3 1.2l3.6 -2l3.7 1l3.6 0.2l7.3 -1.5l3.6 1.3l3.6 0.1l3.7 0.6l3.6 -0.8l3.7 1.2l3.6 -0.7l3.6 0.1l3.7 0.8l3.6 -0.9l3.6 0.5l3.7 1.3l3.6 -0.2l3.6 0.6V5.9z"/>
<path transform="matrix(1 0.4487 0 1 305 543.7)" d="M0 5.9l0 -16.1l1.7 -1.2l1.8 -2.8l3.5 8.1l1.7 0.6l1.8 2.8l1.7 -0.8l3.5 1l1.7 0.1l1.8 1.2l1.7 -1.4l1.8 -0.5l1.7 0.7l1.8 -0.3l1.7 -3.2l1.8 1.4l3.4 4.2l3.5 0.2l3.5 -1l1.8 2.1l1.7 -1l3.7 -0.3l3.6 0.9l7.3 -4l3.6 2.9l3.6 1.1l3.7 0.3l7.2 -0.2l7.3 0.7l7.3 -1.9l3.6 -2.3l3.6 0.6l3.7 2.9l7.2 1l7.3 0.1l3.6 1.1l7.3 -1.6l7.3 0l3.6 1.1l7.3 -0.3l7.3 0.8l7.2 -0.5l3.7 0.7l3.6 0l3.6 -0.7l3.7 0.7l7.2 0.7V5.9z"/>
<path transform="matrix(1 0.4487 0 1 303.8 544)" d="M0 5.9l0 -11.8l1.7 0.1l1.8 -2.2l1.7 3.3l1.8 0l1.7 1.9l5.3 3.1l6.9 -0.2l1.8 0.4l1.7 -0.7l1.8 -1.3l1.7 1.6l1.8 -1.9l1.7 2l1.7 -0.5l1.8 1.4l1.7 0l1.8 0.7l3.5 -1l1.7 0.1l3.7 1l3.6 -0.2l7.3 -3.4l3.6 2.2l3.6 0.4l3.7 1.5l3.6 -0.7l3.6 0l3.7 0.4l3.6 -0.6l3.6 0.7l3.7 -1.7l3.6 -3.3l3.6 0.5l3.7 3.4l3.6 1.3l3.6 0.5l3.7 0.3l3.6 -1l40 1.1l3.6 -0.4l21.8 1.1V5.9z"/>
<path transform="matrix(1 0.4487 0 1 302.5 544.4)" d="M0 5.9l0 -20.1l1.7 -2.6l1.8 -1.2l1.7 0.4l3.5 10.4l1.8 3l3.5 0.9l1.7 1.4l1.7 -2l1.8 4.8l3.5 -2.6l1.7 1l1.8 -3.6l3.5 -3.6l1.7 4.1l5.2 1.8l3.5 0.1l1.8 0.5l1.7 1.5l3.7 0.8l3.6 -0.9l3.6 -4.7l7.3 1l3.6 3.9l3.7 -0.6l3.6 0.3l3.6 1.4l3.7 -0.4l3.6 1.6l3.6 -2.1l3.7 -0.5l3.6 1.5l3.6 -1.8l3.7 1.7l3.6 0.1l3.6 0.7l3.7 -0.9l3.6 -0.1l7.3 1.3l3.6 -1.1l10.9 0.2l3.7 0.8l7.2 -0.3l3.7 0.4l3.6 -0.5l7.3 1l3.6 -0.7l3.6 0.7l3.7 -0.1l7.2 1V5.9z"/>
<path transform="matrix(1 0.4488 0 1 301.3 544.7)" d="M0 5.9l0 -48.2l1.7 -5.2l1.8 -7.2l1.7 13.4l3.5 15.3l1.8 10l1.7 4.8l1.8 -5.1l1.7 2.4l1.7 4.5l1.8 1.3l1.7 5.5l1.8 -2.4l1.7 -4.5l1.8 -9l1.7 1.7l1.8 -1.6l3.5 7l1.7 2.4l1.7 -0.9l1.8 3.6l1.7 0.3l1.8 -2.9l1.7 0.2l3.7 5.7l3.6 -5.6l3.6 2.5l3.7 -5l3.6 0.4l3.6 7l3.7 -2.9l3.6 4.7l3.6 -0.9l3.7 1.3l3.6 -0.7l3.6 -2.4l3.7 -0.4l3.6 -1.5l3.6 0.6l3.7 3.9l3.6 -1.3l7.3 0.4l3.6 2.3l3.7 -0.1l3.6 -1.4l3.6 -0.9l3.7 -0.2l7.2 0.8l3.7 1.1l3.6 0.4l3.6 1.5l3.7 0l3.6 -0.8l3.6 2l3.7 -1.7l3.6 0.9l3.6 0.3l3.7 1.8l7.2 0.5V5.9z"/>
<path transform="matrix(1 0.4488 0 1 300.1 545)" d="M0 5.9l0 -18.7l1.7 -4.4l3.5 4.5l1.8 -0.2l1.7 6.7l1.8 1.8l1.7 -0.6l1.8 1.1l1.7 0.2l1.7 -0.3l1.8 3.1l1.7 -2.2l1.8 1.4l1.7 -2.3l1.8 -0.4l1.7 -1.7l3.5 2.8l1.8 3l1.7 -0.7l1.7 -1.8l1.8 3l1.7 -0.2l1.8 -1.5l1.7 -0.3l3.7 1.5l3.6 -1.7l3.6 0l3.7 -2l3.6 1.5l3.6 2.3l3.7 -0.8l3.6 0.3l3.6 1.7l3.7 -1.5l3.6 1.7l3.6 -1.5l3.7 -0.9l3.6 -2.5l3.6 0.2l3.7 2.8l3.6 1l10.9 1.5l7.3 -0.2l7.3 -1.3l3.6 -1.3l7.3 1.8l3.6 1.8l7.3 -0.5l3.6 0.8l3.6 -0.6l10.9 -0.2l11 1.7V5.9z"/>
<path transform="matrix(1 0.4488 0 1 298.8 545.3)" d="M0 5.9l0 -18l1.7 -1.9l5.3 4.8l1.7 4.1l1.8 -0.4l1.7 2.8l1.8 2l1.7 -0.8l1.7 -2.4l1.8 1.2l3.5 -0.3l1.7 2.2l1.8 -4l1.7 -0.6l1.8 1.4l1.7 2.5l5.2 0.8l1.8 1.8l1.7 -1.8l3.5 0.2l3.7 -0.8l3.6 0.7l3.6 -2.2l3.7 -4.4l3.6 4.8l3.6 1.5l3.7 0.3l3.6 0.9l3.6 -0.4l3.7 1.3l10.9 -0.5l3.6 0.6l10.9 -0.2l3.7 0.8l3.6 -0.4l3.6 0.9l7.3 0.1l3.6 -2.1l3.7 -1.3l3.6 -0.3l7.3 3.4l3.6 -0.3l14.5 1l7.3 -0.3l10.9 0.6l3.7 0.7V5.9z"/>
<path transform="matrix(1 0.4488 0 1 297.6 545.7)" d="M0 5.9l0 -12.1l1.7 -0.8l1.8 -1.5l3.5 4.4l1.7 1.5l1.8 0.6l1.7 -0.6l1.8 2.3l1.7 -1.2l1.7 1.9l1.8 -0.9l1.7 -0.3l1.8 1.9l3.5 -2.5l3.5 -1.5l1.7 2.5l1.8 1.4l1.7 0l3.5 -0.9l1.7 1.4l1.8 -1.1l1.7 0.7l3.7 -0.1l3.6 -0.8l7.3 -3.4l7.2 4.6l3.7 0.4l3.6 -0.6l7.3 0.7l7.2 -0.5l7.3 -2.7l3.7 -0.6l3.6 3.1l7.3 1.8l18.1 -1.2l3.7 -1.6l3.6 -0.4l7.3 2.6l3.6 0.5l10.9 0.5l3.7 -0.5l7.2 -0.2l14.6 1.2V5.9z"/>
<path transform="matrix(1 0.4489 0 1 296.3 546)" d="M0 5.9l0 -32.6l1.7 1.4l1.8 -4.6l1.7 5.1l1.8 3.3l1.7 6.7l1.8 2.6l3.5 8.3l1.7 -0.4l1.7 -1.7l1.8 6l1.7 -6.1l1.8 3.4l1.7 -0.5l1.8 -5.2l1.7 -3.2l3.5 6.8l5.2 -0.3l1.8 3.1l1.7 -0.2l1.8 -2l1.7 -0.2l3.7 2.2l3.6 1.1l3.6 -0.3l3.7 -5.4l3.6 5.6l3.6 -1.4l7.3 0.7l3.6 1.2l3.7 0.5l3.6 -1.2l3.6 0.6l3.7 -1l3.6 -0.4l7.3 3.7l3.6 -1.6l3.7 1.6l3.6 -1.7l3.6 2.3l3.7 -1.2l3.6 0.7l3.6 -0.8l3.7 -2.5l3.6 0.3l3.6 1.5l3.7 0.5l3.6 1.4l7.3 0.1l3.6 -0.8l3.7 0.5l7.2 -0.3l10.9 2.1l3.7 -0.1V5.9z"/>
<path transform="matrix(1 0.4489 0 1 295.1 546.3)" d="M0 5.9l0 -20.6l3.5 -4.3l3.5 7.2l1.7 4.7l3.5 2.9l1.8 0.7l1.7 2.4l3.5 1.4l1.7 -2.9l1.8 1.7l1.7 1l3.5 -5.2l1.8 -1.4l1.7 4.8l1.8 0.8l1.7 2.2l1.7 -0.2l1.8 -2.6l1.7 1.8l3.5 -1.3l3.7 0.3l3.6 -0.6l7.3 -2.4l3.6 2.3l3.6 1.1l3.7 2.1l3.6 -0.7l3.6 1.2l3.7 -0.1l3.6 -1.3l3.7 -0.4l3.6 -0.9l3.6 -1.6l3.7 0.5l3.6 2.4l3.6 1l3.7 -0.5l7.2 0.3l3.7 0.9l3.6 -0.3l7.3 -2.5l3.6 0.1l3.6 0.1l3.7 2l7.3 0.9l7.2 -0.4l3.7 0.5l10.9 -0.4l10.9 1.3V5.9z"/>
<path transform="matrix(1 0.4489 0 1 293.8 546.7)" d="M0 5.9l0 -22.1l1.7 -1.5l1.8 -3.7l3.5 7.8l3.5 9.7l1.7 1.8l1.8 -1l1.7 0l1.8 3.6l1.7 -2.7l3.5 0.5l1.7 0.7l3.5 -7.3l1.8 4.5l1.7 2.4l1.8 -0.9l1.7 0.5l1.7 1l7 1.8l3.7 -2.2l3.6 3.2l3.6 -2.5l3.7 -3.4l3.6 3.3l3.6 2.1l3.7 -1.8l3.6 0.2l3.6 1.2l3.7 0.7l3.6 -0.4l3.7 0.1l7.2 -2.7l3.7 -0.6l3.6 2.9l3.6 1.5l3.7 -0.1l3.6 -0.6l7.3 1.4l3.6 -1.9l14.6 -0.4l7.2 1.7l3.7 -0.4l3.6 0.7l3.6 -0.3l7.3 0.7l3.6 -0.5l7.3 0.1l3.6 0.7l3.7 0V5.9z"/>
<path transform="matrix(1 0.4489 0 1 292.6 547)" d="M0 5.9l0 -13.7l1.7 -2l5.3 3.3l3.5 6.5l1.7 -1.9l1.8 1.7l1.7 -0.8l1.8 2.3l1.7 -1.9l1.7 0.2l1.8 1.6l1.7 -1.6l1.8 0.1l1.7 -1.3l1.8 0.7l3.5 2.4l1.7 -1.2l3.5 1.5l1.7 -1.2l1.8 -0.1l1.7 -0.1l3.7 0.9l3.6 -0.9l7.3 -3.8l3.6 1.8l3.6 2.6l3.7 0.8l3.6 -0.5l3.6 1.5l3.7 -0.8l3.6 0.6l3.7 -0.1l3.6 -0.5l7.3 0.1l3.6 -0.3l3.6 0.7l7.3 0l7.3 0.7l7.2 -0.9l14.6 0.9l21.8 -0.2l18.2 0.9V5.9z"/>
<path transform="matrix(1 0.4490 0 1 291.3 547.3)" d="M0 5.9l0 -12.9l3.5 -6.5l3.5 5.4l1.7 0.3l1.8 3.8l5.2 3.9l1.8 -2.9l1.7 1.2l1.7 3l1.8 -1.9l1.7 0.7l1.8 1.9l3.5 -1.3l1.7 -2.1l1.8 1l1.7 -0.1l1.7 0.9l1.8 -0.2l1.7 1.9l1.8 -1.8l5.4 2l3.6 -1.5l3.6 -2.1l3.7 -1l3.6 1.5l3.6 2.7l7.3 0.4l3.7 -1.1l3.6 1.2l7.3 0.4l7.2 -5l3.7 0.9l3.6 2.9l3.6 0.9l3.7 -0.3l3.6 1.1l10.9 -0.2l3.7 -0.6l7.2 0.5l7.3 -0.1l3.6 0.6l10.9 -0.1l25.5 0.7V5.9z"/>
<path transform="matrix(1 0.4490 0 1 290.1 547.7)" d="M0 5.9l0 -37l1.7 -13.2l1.8 -2.2l1.7 -4.3l1.8 18.5l3.5 12.6l1.7 1.2l1.8 -1.1l1.7 8.1l1.8 4.1l1.7 -5.8l1.7 1.7l1.8 6.5l1.7 -0.9l1.8 4.6l3.5 -8.7l1.7 8.2l1.8 0.6l1.7 -3.1l1.7 4.5l1.8 -8.5l1.7 7.6l3.5 -2.4l3.7 -3.4l3.6 2.1l3.6 1.2l3.7 -3.8l3.6 0.8l3.6 7.2l3.7 -1.5l3.6 1.2l3.7 -2.8l3.6 -0.5l3.6 4.7l3.7 -2.9l3.6 -1.7l3.6 -0.8l3.7 0.3l3.6 3.7l3.6 0.5l3.7 -0.1l3.6 -1.2l3.6 0.1l3.7 1.8l3.6 0.6l3.7 -1.6l3.6 1.8l3.6 -0.2l7.3 -1.2l3.6 1.4l21.9 0.2l7.2 0.3l7.3 0.9V5.9z"/>
<path transform="matrix(1 0.4490 0 1 290.1 547.7)" fill="#009aff" d="M3.5 -46.5L5.2 -50.8L7 -32.3L7 -15.1L5.2 -24.9L3.5 -22.6z"/>
<path transform="matrix(1 0.4490 0 1 288.9 548)" d="M0 5.9l0 -15.5l1.7 -3.9l1.8 -1.1l1.7 1l1.8 2l1.7 3.5l1.8 1.1l1.7 3.9l1.8 2l3.5 -1.1l1.7 0l1.7 3.2l1.8 -0.8l3.5 1l3.5 -0.5l1.7 1l3.5 -1l1.8 1.1l3.4 0.3l1.8 -0.2l1.7 -0.7l3.7 0.6l3.6 -0.8l7.3 -6.9l7.2 7l3.7 1.2l7.3 -0.3l3.6 0.9l7.3 -1l3.6 -1.2l3.6 -2.6l3.7 -0.1l3.6 3.3l7.3 2.1l3.6 -0.4l10.9 -0.1l3.7 -0.3l3.6 -0.9l7.3 0.3l7.2 1.4l18.2 -0.1l3.7 0.4l14.5 0.4V5.9z"/>
<path transform="matrix(1 0.4490 0 1 287.6 548.4)" d="M0 5.8l0 -21l1.7 -6l1.8 -3.9l1.7 3.5l1.8 0.1l3.5 13.3l1.7 2.4l1.8 -0.9l3.5 5.1l1.7 1.4l1.7 -1l1.8 0.2l1.7 -2l1.8 3.2l1.7 -2.5l1.8 -0.5l1.7 3.9l1.8 -1.1l1.7 -2.9l1.8 3l1.7 -0.5l1.7 -1.2l1.8 2.1l1.7 -0.2l3.7 1.1l7.2 -5.3l3.7 -3.9l3.6 5.3l3.7 1.8l7.2 2.5l3.7 -1.3l3.6 2.2l3.6 -0.8l3.7 0.6l3.6 -3.1l7.3 -0.3l3.6 2.3l3.6 0.6l3.7 -0.1l7.3 0.7l3.6 -0.5l3.6 0.7l3.7 -0.4l3.6 -0.9l3.6 0.9l7.3 0.1l7.3 0.9l7.3 -0.7l3.6 0.6l7.3 -0.2l3.6 0.5l3.6 -0.3l7.3 0.6V5.8z"/>
<path transform="matrix(1 0.4491 0 1 286.4 549)" d="M0 5.6l0 -72.9l1.7 -6.7l1.8 -21.9l3.5 32l1.7 5.8l1.8 19.1l1.7 1.5l1.8 12.8l1.7 6l1.8 4.1l1.7 -4.2l1.7 -2.6l1.8 4.9l1.7 8.2l1.8 -8l1.7 8.8l1.8 0.8l1.7 -3.1l1.8 -5.7l1.7 1.6l1.8 0.9l1.7 -4.9l1.7 4.1l1.8 6.6l1.7 -5.7l3.7 6.5l7.2 -5.3l3.7 1.2l3.6 6.1l3.7 -1l3.6 1.6l3.6 -0.4l7.3 3.3l3.6 0.5l3.7 -4.6l7.2 -7.5l7.3 4.3l3.7 5l3.6 1.9l3.6 -1.1l3.7 1.9l3.6 -1l3.6 0.9l3.7 -0.9l7.2 0.7l7.3 -0.2l3.6 2.6l3.7 -0.3l3.6 0.5l3.7 -1.5l3.6 1.3l3.6 -1l3.7 1.7l3.6 -1.2l3.6 1.5l7.3 0.6V5.6z"/>
<path transform="matrix(1 0.4491 0 1 285.1 549.4)" d="M0 5.5l0 -32.7l1.7 1l1.8 -12l1.7 7.1l1.8 9.8l1.7 -0.5l3.5 5.6l1.8 0.1l1.7 9.4l3.5 -1.9l5.2 3.1l1.8 -4.5l1.7 7.5l1.8 1.2l1.7 -7.6l1.8 3.8l1.7 -2.4l3.5 5.1l1.7 0.1l1.8 -1l1.7 1.1l3.7 -0.3l3.6 -0.6l3.6 -5.8l3.7 -3.8l3.6 3.3l3.7 8.6l3.6 -0.3l3.6 -1.2l3.7 1l3.6 2.6l3.6 -1.8l3.7 0.2l3.6 -1.4l3.6 -2.7l3.7 0.5l7.3 3.7l3.6 0.9l3.6 -1l3.7 0.5l3.6 1.4l3.6 0.4l3.7 -0.4l3.6 -2.1l3.6 0.7l3.7 -0.4l7.3 2.3l3.6 0.2l7.3 -0.6l3.6 0.9l3.6 0.1l7.3 -0.6l3.6 0.8l7.3 0.5V5.5z"/>
<path transform="matrix(1 0.4491 0 1 283.9 550.1)" d="M0 5.1l0 -16.9l1.7 -4.2l1.8 -0.2l1.7 1.5l1.8 -1.7l1.7 5.9l1.8 3.1l1.7 0l3.5 4.6l1.8 -2.2l1.7 4.9l3.5 -4.4l3.5 3.8l1.7 -2.7l1.8 -0.5l3.5 3.9l1.7 -1.1l1.8 0.1l3.4 -1.3l1.8 0.2l1.7 2.9l7.3 -2l3.6 -4.1l3.7 -0.4l3.6 3.1l3.7 2.3l3.6 0.3l3.6 1.7l3.7 -2.3l3.6 1.2l3.6 -0.7l3.7 0.4l3.6 -0.3l3.6 -1.9l3.7 0l3.6 2.5l3.7 0.8l3.6 -0.6l7.3 1l7.2 0l10.9 -3l11 3.2l7.2 0.5l3.7 -0.4l10.9 0.1l14.5 0.8V5.1z"/>
<path transform="matrix(1 0.4491 0 1 282.6 550.7)" d="M0 4.9l0 -18.4l1.7 -2.3l1.8 -1.5l1.7 1.5l1.8 2.4l1.7 3.1l1.8 -0.8l1.7 4l1.8 1.1l1.7 -2.5l1.8 4.9l1.7 1.3l1.7 -1.5l3.5 1.1l1.8 -3.6l1.7 4.2l1.8 -3.3l3.5 1.1l1.7 2.4l1.8 0.5l1.7 -0.8l1.7 0.2l3.5 -1.2l3.7 2.8l3.6 -2.1l3.6 -0.5l3.7 -1.5l3.6 2l3.7 1.3l3.6 2.2l3.6 -2.5l3.7 2.4l7.2 -1.2l7.3 0.8l3.7 -2.5l7.2 1l3.7 1.1l3.6 0.4l3.6 1.3l3.7 -1l3.6 -0.1l3.6 0.7l7.3 -1.3l3.7 -0.2l3.6 1l3.6 -0.3l3.7 1l7.2 0.3l3.7 -0.2l3.6 0.4l3.6 -0.3l18.2 1.1V4.9z"/>
<path transform="matrix(1 0.4492 0 1 281.4 551.2)" d="M0 4.7l0 -13l1.7 -5l1.8 -1.3l3.5 5.3l1.7 -0.3l7 7.5l1.8 -2.2l1.7 2l1.7 -0.2l1.8 2.2l1.7 -1.2l1.8 0.7l1.7 -0.3l1.8 -1.4l1.7 2.2l1.8 -1.8l1.7 2l3.5 0.3l1.7 -1.7l1.8 0l1.7 0.9l3.7 0l3.6 0.6l3.6 -2.6l3.7 -1.8l7.3 3.8l7.2 1.6l3.7 -0.4l3.6 0.3l7.3 -0.8l3.6 -1.1l3.7 -2.6l3.6 0.9l3.6 2.5l3.7 1.4l3.6 -0.3l18.2 0.6l7.3 -0.7l3.6 0.4l3.6 -0.1l3.7 0.9l7.2 0l3.7 -0.5l7.2 0.6l3.7 -0.5l7.3 0.8l7.2 0.3V4.7z"/>
<path transform="matrix(1 0.4492 0 1 280.1 551.3)" d="M0 4.9l0 -49.2l1.7 -18l1.8 -2.4l1.7 0.4l1.8 10.5l1.7 5.2l1.8 19.4l1.7 6.7l1.8 0.7l1.7 2.7l1.8 10.1l1.7 -0.5l1.7 -2.3l1.8 3.3l1.7 -9.9l1.8 5.2l1.7 -2.8l1.8 7.9l1.7 -1.2l1.8 0.6l1.7 -4.2l1.8 6.8l1.7 -7.8l1.7 8.7l1.8 -6.5l1.7 4.3l3.7 2.4l3.6 -6.6l3.7 -2.7l3.6 -0.2l3.6 6l3.7 1.1l3.6 5.5l3.6 -2.7l3.7 3.4l3.6 -1.8l3.6 2.2l3.7 -1.4l3.6 -5.7l3.7 -4.7l7.2 9.2l3.7 3.9l3.6 -1.8l3.6 -0.9l3.7 2.7l3.6 0.1l3.6 -1.4l3.7 0.8l7.3 -2.8l3.6 2.1l7.3 0l3.6 1.2l3.6 -0.3l3.7 0.9l3.6 0.4l3.7 -1.3l3.6 1.9l3.6 -0.8l3.7 0.9l7.2 0.7V4.9z"/>
<path transform="matrix(1 0.4492 0 1 278.9 551.5)" d="M0 5.1l0 -17.2l1.7 -3.3l1.8 -1.1l1.7 0.2l1.8 3.5l1.7 -1.1l1.8 3l1.7 5.3l1.8 2.4l1.7 -0.6l1.8 2.1l1.7 -3.6l1.7 3l1.8 1.5l1.7 -2.7l1.8 -0.7l1.7 2.3l1.8 -0.5l1.7 3.1l1.8 -0.7l3.5 0.3l1.7 -2.4l1.8 -0.6l1.7 3.2l5.4 -2.1l3.6 1.2l3.7 -3.7l3.6 -2.6l3.6 2.6l3.7 4.3l10.9 0.6l3.6 0.6l7.3 -0.2l3.6 0.6l3.7 -0.3l3.6 0.5l3.6 -0.5l3.7 0.2l3.6 -0.6l3.6 1.1l3.7 0.2l3.6 -1.1l7.3 0.6l3.6 -0.4l7.3 0.3l3.6 -0.3l7.3 0.9l21.8 -0.1l10.9 0.8V5.1z"/>
<path transform="matrix(1 0.4492 0 1 277.7 552)" d="M0 4.9l0 -9.1l1.7 -2.4l1.8 -0.2l1.7 0.4l1.8 2.5l1.7 -0.8l1.8 2.9l1.7 1.2l5.3 -0.4l1.7 2.1l1.7 -0.1l1.8 -0.9l1.7 0.8l1.8 -0.8l1.7 0.5l1.8 -0.5l1.7 1.4l1.8 -0.6l1.7 0.4l1.8 -0.6l1.7 0.4l1.8 -0.9l7.1 0.8l3.6 -0.5l7.3 -5.6l7.3 6.2l3.6 0.7l3.6 -0.9l11 1l3.6 -0.5l3.6 0.4l7.3 -0.6l3.6 1l3.7 -0.3l3.6 0.3l3.6 -0.5l3.7 0.8l7.3 -0.6l3.6 0.3l7.3 -0.7l7.2 0.9l18.2 0.3l7.3 -0.3l14.5 0.7V4.9z"/>
<path transform="matrix(1 0.4493 0 1 276.4 552.6)" d="M0 4.6l0 -14.8l1.7 -5l1.8 -0.8l1.7 3.7l1.8 -1.5l1.7 6.6l1.8 0.7l1.7 -1.1l1.8 3.2l1.7 -1.4l1.8 3.1l1.7 0.2l1.7 -1.6l1.8 1.9l1.7 0.2l1.8 -1.1l1.7 2l1.8 0.5l1.7 -0.6l1.8 -2l1.7 -0.2l1.8 3.4l1.7 -1.4l1.8 -0.5l1.7 1.6l1.7 -1.4l3.7 2.2l3.6 -1.1l3.7 -5.1l3.6 -2.4l7.3 7.7l3.6 1.5l3.6 -0.7l3.7 0.5l3.6 -0.6l3.7 0.5l3.6 -1.4l3.6 0.1l3.7 -2.1l3.6 0.4l7.3 3.9l3.6 -0.6l14.6 0.2l3.6 -0.4l3.6 0.2l3.7 -0.6l7.2 1.2l11 0.3l7.2 -0.4l21.9 1.1V4.6z"/>
<path transform="matrix(1 0.4493 0 1 275.2 553.3)" d="M0 4.3l0 -13.9l1.7 -1.4l3.5 -5.4l1.8 5.4l1.7 -0.4l1.8 1.4l1.7 5.1l1.8 0.9l1.7 -0.8l1.8 0l1.7 3.5l1.8 -1.1l1.7 -1.8l1.7 2.8l1.8 -0.9l1.7 -1.6l1.8 2.1l1.7 -0.5l8.8 1.4l3.4 -0.7l7.3 0.9l3.7 -4.4l3.6 -0.8l7.3 5.3l3.6 -0.1l3.6 1l11 0.1l7.2 -0.8l3.7 -3.7l3.6 1.8l7.3 2.4l7.3 0.3l3.6 1l3.6 -0.9l3.7 0.2l3.6 -0.5l7.3 -2.1l3.6 1.7l7.3 1.6l14.5 0.4l7.3 -0.6l14.6 1.1V4.3z"/>
<path transform="matrix(1 0.4493 0 1 273.9 554.4)" d="M0 3.5l0 -44.1l1.7 -0.8l1.8 -6.8l1.7 5.9l1.8 -3.9l1.7 17.4l1.8 6.8l1.7 4.3l1.8 -1.2l1.7 1.9l1.8 7.3l1.7 -3.3l1.8 -4.8l1.7 4.8l1.7 2.6l1.8 4.4l1.7 -8.1l1.8 3.5l1.7 5.4l1.8 -0.6l1.7 2.5l1.8 -5.2l1.7 3.8l1.8 -1.4l1.7 -6l1.7 8.4l3.7 -4.9l3.6 2.9l3.7 -1.3l3.6 -9.3l7.3 12.1l3.6 -1l3.6 2.3l3.7 0.5l3.6 -0.9l3.7 -1.5l3.6 3.1l3.6 -0.7l3.7 -4.3l3.6 3.2l10.9 2.9l18.2 -1.7l3.6 -1.9l3.7 0.4l3.6 1.7l7.3 1.1l3.6 -0.1l3.7 0.8l7.2 0.4l3.7 0.6l3.6 -0.6l14.6 1V3.5z"/>
<path transform="matrix(1 0.4493 0 1 273.9 554.4)" fill="#006bff" d="M1.7 -41.4L3.5 -48.2L5.2 -42.3L5.2 -33.9L3.5 -38.7L1.7 -33.2z"/>
<path transform="matrix(1 0.4493 0 1 272.7 555.6)" d="M0 2.6l0 -15.4l1.7 -1.9l1.8 -4.4l1.7 4.1l1.8 -1.3l1.7 4l1.8 -0.1l3.5 2.4l1.7 3.6l1.8 -0.4l3.5 0.6l1.7 0.7l1.7 2.2l3.5 -1.8l3.5 1.8l1.8 -0.9l1.7 0.5l3.5 -2.5l1.8 2.1l1.7 -1.1l1.7 2.9l3.7 -0.6l3.6 -0.8l3.7 -2.7l3.6 -4.1l7.3 6l3.6 2.3l3.6 -1.7l3.7 2.2l3.6 0l3.7 -0.9l7.2 1.1l3.7 -1.6l3.6 -0.1l3.6 1.5l7.3 0.4l7.3 -0.5l3.6 1.1l3.7 0l7.2 -2.7l3.7 -0.6l10.9 3.8l3.6 -0.4l10.9 0.5l3.7 -0.5l7.3 0.2l10.9 1V2.6z"/>
<path transform="matrix(1 0.4494 0 1 271.4 555.5)" d="M0 3l0 -20.4l1.7 -4.2l3.5 -3.4l1.8 2.8l1.7 4.1l1.8 2l1.7 7.8l1.8 -1.4l1.7 0.2l1.8 1.5l1.7 4l3.5 -2.7l1.7 3l1.8 0.1l1.7 -0.6l1.8 1.5l1.7 -2.2l1.8 2.1l1.7 -1.3l1.8 0.6l1.7 -0.1l1.8 -2l1.7 2.9l1.7 -0.1l3.7 1.4l3.6 -1.9l3.7 -3.1l3.6 -5.6l3.6 5l3.7 4.1l3.6 0l3.6 1.1l14.6 0.5l3.6 -0.9l7.3 -0.3l3.6 1.8l3.7 -1.3l7.3 1.4l3.6 -0.6l3.6 0.5l3.7 -0.3l3.6 0.7l3.6 -1l3.7 0.6l10.9 0.4l3.6 -0.4l3.7 0.2l3.6 0.7l3.6 0.1l3.7 -0.6l3.6 0.6l14.6 0.5V3z"/>
<path transform="matrix(1 0.4494 0 1 270.2 555.6)" d="M0 3.3l0 -13.5l1.7 -3.1l1.8 0.3l1.7 0.6l1.8 2.9l1.7 1.3l1.8 0.4l1.7 2l1.8 0.6l1.7 1.4l1.8 -1.8l1.7 2.9l1.8 -1.6l1.7 1.9l1.7 0.7l1.8 -1.2l1.7 -0.4l1.8 0.1l1.7 1.4l1.8 -0.7l1.7 0.1l1.8 -1.2l1.7 0.1l1.8 1l3.5 0.8l3.6 -1.1l3.6 0.9l3.7 -3.4l3.6 -2.4l3.6 2.5l3.7 3.3l3.6 1.1l3.7 0.5l3.6 -0.7l10.9 0.4l3.6 -1.3l7.3 -0.8l3.7 2.1l7.2 0.3l3.7 0.7l3.6 -0.7l3.6 0.5l3.7 -0.6l3.6 0.2l7.3 -0.7l7.3 1.3l7.2 -0.3l3.7 0.6l18.2 -0.3l3.6 0.7l7.3 0.3V3.3z"/>
<path transform="matrix(1 0.4494 0 1 268.9 555.2)" d="M0 4l0 -12.5l1.7 -3.1l3.5 0.5l1.8 0.5l1.7 2.6l1.8 3.9l1.7 -0.6l3.5 1.4l1.8 1.6l1.7 -2.4l1.8 0.9l1.7 2.3l1.7 0l5.3 -1.5l1.7 2l3.5 0.6l1.8 -0.6l1.7 -1.8l3.5 1.1l5.4 0.5l3.6 -1.2l3.7 -3.4l3.6 -1.4l7.3 6.6l7.3 -0.3l3.6 0.9l3.6 0.1l7.3 -0.4l7.3 -3l3.6 -0.1l3.7 2.8l10.9 1.3l7.2 -0.1l3.7 -0.8l3.6 -0.3l3.7 -1.4l3.6 -0.1l7.3 2.5l3.6 0.4l3.6 -0.2l3.7 0.3l3.6 -0.4l25.5 0.9V4z"/>
<path transform="matrix(1 0.4494 0 1 267.7 555.3)" d="M0 4.2l0 -15.4l3.5 -3.9l1.7 -0.4l1.8 3.7l1.7 -0.9l1.8 6.2l1.7 -0.2l1.8 4.1l3.5 -2.8l1.7 2.1l1.8 -0.9l3.4 2.6l1.8 -1.4l3.5 0.8l1.7 1.4l1.8 -0.2l1.7 1.3l1.8 -1.7l1.7 0.9l1.8 -0.3l1.7 -1.6l1.8 0.8l3.6 0.2l3.6 0.9l3.7 -2l3.6 -0.6l7.3 2.8l3.6 -1.1l3.7 2.1l3.6 -0.8l7.3 -0.4l3.6 0.5l3.6 -0.7l3.7 -2.5l3.6 -0.7l3.7 3l3.6 1.7l7.3 0.4l3.6 -0.9l3.6 0.9l3.7 -0.7l7.3 0.1l3.6 -0.4l3.6 0.9l3.7 0.3l14.5 0.5l14.6 -0.2l10.9 0.6V4.2z"/>
<path transform="matrix(1 0.4495 0 1 266.5 555)" d="M0 4.9l0 -33.1l1.7 -9.4l1.8 -5.2l1.7 4.2l1.8 0.6l1.7 1.5l1.8 15.1l1.7 3.6l3.5 5.4l1.8 6l1.7 -9.8l1.8 12.3l1.7 -1.2l1.7 -8.2l1.8 7.2l1.7 2.8l1.8 -3.4l1.7 -5.3l1.8 5.9l1.7 3.7l1.8 -3.9l1.7 0.2l1.8 3l1.7 -2.4l1.8 4.9l3.6 -4.8l3.6 0.5l3.7 -2.5l7.2 -2.6l3.7 5.1l3.6 -0.4l3.7 4.2l3.6 -2l3.6 -0.9l3.7 0.3l3.6 3.6l3.6 -2.4l3.7 -1.7l3.6 0.1l3.7 2.5l3.6 -0.3l3.6 0.2l3.7 2.2l3.6 -1l3.7 1.6l3.6 0.3l3.6 -0.6l7.3 -4.3l3.6 2.4l3.7 1.2l3.6 0.2l3.7 1.9l10.9 -1.2l7.2 1.4l7.3 -0.2l7.3 0.8V4.9z"/>
<path transform="matrix(1 0.4495 0 1 266.5 555)" fill="#0075ff" d="M1.7 -37.6L3.5 -42.8L5.2 -38.6L5.2 -20.6L3.5 -23L1.7 -20z"/>
<path transform="matrix(1 0.4495 0 1 265.2 555.9)" d="M0 4.3l0 -15.5l1.7 -0.1l1.8 -4.5l1.7 4.2l3.5 2.9l1.8 4l1.7 0.5l1.8 1.3l1.7 -3l1.8 3.2l1.7 1.7l1.8 0.5l1.7 -1l1.7 1l1.8 -1.1l1.7 1l1.8 0.1l1.7 -1.9l1.8 3l1.7 -3.4l1.8 2.6l1.7 0.5l1.8 -1.6l3.5 -0.9l3.6 1.3l3.6 0.5l7.3 -5.5l7.3 4.7l3.6 1l3.7 0l3.6 1.6l3.6 -0.4l3.7 -1.3l3.6 1l3.7 -1.4l3.6 -2.2l3.6 0.3l3.7 2.6l3.6 1.7l3.6 -0.7l11 0.9l7.2 -0.8l3.7 -1.3l10.9 1.6l3.6 -0.2l3.7 0.7l14.5 -0.2l18.2 0.8V4.3z"/>
<path transform="matrix(1 0.4495 0 1 264 556.7)" d="M0 3.8l0 -11.1l1.7 0.8l1.8 -3.8l1.7 3.3l1.8 0.1l1.7 1.3l1.8 2.5l1.7 -1.6l5.3 3.5l1.7 -1l1.8 1.6l1.7 -1.9l1.7 2.6l1.8 -1.5l1.7 1.3l1.8 0.4l3.5 -2.1l1.7 -0.2l1.8 1.7l3.5 -0.8l1.7 1.4l5.4 -0.9l7.3 0.2l3.6 -0.7l3.6 1.3l3.7 -0.1l3.6 -0.6l3.7 0.8l3.6 0.3l3.6 -0.8l36.4 1.5l18.2 -1.2l3.6 0l3.7 1l7.3 0l7.2 0.5l18.2 -0.1l7.3 0.5V3.8z"/>
<path transform="matrix(1 0.4495 0 1 262.7 557.2)" d="M0 3.7l0 -17.4l1.7 0l1.8 -1.6l1.7 -2.5l1.8 2l1.7 3.7l1.8 0.4l1.7 6.2l1.8 1.2l1.7 -3.1l1.8 2.8l1.7 1.3l1.8 -1.8l1.7 -0.6l1.7 2l1.8 -1.2l1.7 2l1.8 -1.5l1.7 1.7l1.8 -2.1l1.7 2.4l1.8 -0.2l5.2 0.6l1.8 -1l3.6 0.9l3.6 0.4l7.3 -3l3.6 2.5l3.7 1.7l3.6 0.2l7.3 -1l3.6 1.6l3.7 -1.4l3.6 0.7l3.7 -1l3.6 -2.9l3.6 0l3.7 3.2l7.2 0.6l3.7 1.1l7.3 0.1l3.6 -0.6l3.6 0.6l3.7 -0.6l7.3 -0.3l10.9 1.2l18.2 -0.1l14.5 0.9V3.7z"/>
<path transform="matrix(1 0.4496 0 1 261.5 558.1)" d="M0 3.1l0 -30.7l1.7 -9.8l3.5 -2.1l5.3 20.1l1.7 5l1.8 -1.3l1.7 -3.1l1.8 9.4l1.7 1.9l1.8 0.1l1.7 -3l3.5 0.6l1.7 1.6l1.8 3.6l1.7 -6.5l1.8 4.1l1.7 -1.9l3.5 2.3l1.8 -2.6l1.7 1.8l1.8 -3.2l3.6 0.4l3.6 1.4l3.7 -0.3l3.6 -5l3.7 4.3l3.6 3.3l7.3 3.8l7.2 -0.5l3.7 -1.5l3.6 1.1l3.7 -1.2l3.6 -3.9l3.6 -0.1l3.7 4.9l3.6 2.4l7.3 -0.9l3.6 1.4l3.7 -0.4l3.6 0.1l3.6 -0.7l3.7 -1.9l3.6 -0.4l3.7 1.9l3.6 0.3l3.6 0.9l3.7 -0.2l3.6 0.5l3.6 1.3l7.3 -0.9l7.3 0.3l3.6 1l7.3 0.1V3.1z"/>
<path transform="matrix(1 0.4496 0 1 260.2 558)" d="M0 3.5l0 -85.3l3.5 -39.8l3.5 35.4l1.7 3.8l1.8 30.7l1.7 4.5l1.8 10.4l1.7 3.1l1.8 -14.5l1.7 25.8l1.8 -23.3l1.7 33.1l1.8 -4.1l1.7 -14.7l1.7 22.5l1.8 -11.3l1.7 -6.1l1.8 14.9l1.7 -24.2l1.8 1l1.7 14l1.8 1.7l1.7 -7.4l1.8 -0.5l3.6 12.7l3.6 -0.7l3.7 -19.2l3.6 3.9l7.3 20.2l3.6 6.9l3.7 -7.6l3.6 -0.6l3.6 1.7l3.7 0.6l3.6 -4l3.7 1.4l3.6 -2.4l3.6 2.5l3.7 3.8l3.6 0.7l3.7 2.6l3.6 -5l3.6 3.4l3.7 1l3.6 -3.7l3.6 1.6l3.7 3.6l7.3 -0.8l3.6 1.7l3.6 -3.5l3.7 2.1l7.3 0l3.6 0.3l3.6 3.2l7.3 0l3.6 -0.7l3.7 1l3.6 0.4V3.5z"/>
<path transform="matrix(1 0.4496 0 1 259 557.9)" d="M0 4l0 -23.8l3.5 -13.7l1.7 0l3.5 18l3.5 6.5l1.8 1.6l1.7 -1l1.8 0.6l1.7 1.4l1.8 -0.6l1.7 2.5l1.8 -1.5l1.7 0l1.7 -3.8l1.8 5l1.7 0.6l1.8 -0.4l1.7 1.7l1.8 -3.8l1.7 4.8l1.8 -6.7l1.7 6.7l1.8 -2l3.6 -2.3l3.6 1.7l3.7 -0.8l3.6 2.9l3.7 -2.8l3.6 1.6l3.6 -1l3.7 2.4l3.6 0.4l3.6 1.7l3.7 -1.8l3.6 1.2l7.3 -4.5l3.6 2.8l7.3 2l7.3 1l7.3 -0.9l3.6 -1l3.6 -0.4l3.7 0.2l3.6 -0.7l7.3 2.6l3.6 0.5l3.7 -0.6l3.6 0.1l3.7 0.9l3.6 -0.6l3.6 0.4l3.7 -0.4l14.5 1.3V4z"/>
<path transform="matrix(1 0.4496 0 1 257.7 557.8)" d="M0 4.4l0 -29l1.7 -7.9l1.8 -1.4l1.7 -8.3l1.8 12l1.7 4.5l1.8 8.8l1.7 4.8l1.8 3.2l1.7 1.6l1.8 0.1l1.7 -3.5l1.8 5.3l1.7 -3.3l1.8 -0.8l1.7 2l1.7 -1.3l1.8 7.6l1.7 -4.7l1.8 2.2l1.7 -6l1.8 4.1l1.7 1.6l3.5 -0.8l1.8 -3.5l3.6 5.3l3.6 -1.1l3.7 0l3.6 -2.7l7.3 3.6l3.6 1.3l3.7 -2.3l3.6 0.8l7.3 2.9l3.6 -1.2l3.7 0.5l3.6 -0.9l7.3 2.2l7.3 -1.7l7.2 2.4l3.7 -0.1l3.6 -1.6l3.7 -0.9l3.6 0.8l3.6 -2.1l3.7 1l7.2 3.4l7.3 -0.8l10.9 1.2l7.3 -0.6l3.7 0.8l7.2 0.3V4.4z"/>
<path transform="matrix(1 0.4496 0 1 257.7 557.8)" fill="#0071ff" d="M3.5 -33.9L5.2 -42.2L7 -30.2L7 -20L5.2 -28.3L3.5 -22.5z"/>
<path transform="matrix(1 0.4497 0 1 256.5 558.3)" d="M0 4.2l0 -100.3l3.5 -73.5l1.7 34.3l1.8 -9.9l1.7 42.7l1.8 -3.6l1.7 42.8l1.8 19l1.7 -27.2l1.8 40.1l1.7 9.4l1.8 -4.3l1.7 -9.4l1.8 -18.2l1.7 26.1l1.7 0.7l3.5 -11.9l1.8 19.6l1.7 -10.4l1.8 9.6l1.7 -10.3l1.8 0.5l1.7 -6.6l1.8 -2.8l3.6 21.6l3.6 2.1l3.7 -16.3l3.6 -7.1l3.7 10.6l3.6 3.4l3.6 8.5l3.7 -4.6l3.6 7.2l3.7 1.9l3.6 3.9l3.6 -7.6l3.7 3.5l3.6 -8.2l3.6 4.9l3.7 7.9l3.6 -1.4l3.7 2l3.6 0.6l3.6 3.6l3.7 -4l3.6 1.1l3.7 2.9l3.6 -4.3l3.6 0.1l3.7 4.2l3.6 0.8l3.7 -2l3.6 -0.7l3.6 1.5l3.7 3.2l3.6 -0.7l3.6 -2.1l3.7 2.5l3.6 -2.9l3.7 1.5l3.6 2.8l3.6 0.3V4.2z"/>
<path transform="matrix(1 0.4497 0 1 256.5 558.3)" fill="#ff4e00" d="M1.7 -129.1L3.5 -169.6L5.2 -135.3L5.2 -87L3.5 -109.3L1.7 -83z"/>
<path transform="matrix(1 0.4497 0 1 255.3 559.2)" d="M0 3.7l0 -43.7l1.7 -6.4l1.8 -13.7l1.7 0.5l1.8 13.5l1.7 20.4l1.8 -13.1l1.7 14.2l1.8 0.1l1.7 10.5l1.8 -0.5l1.7 2.2l1.8 -3.4l1.7 -0.1l1.8 2.5l1.7 0.9l1.7 -3l1.8 -1.1l1.7 2.9l1.8 4.7l1.7 -4.9l1.8 6.6l1.7 -2.6l1.8 -5.4l1.7 11l1.8 -0.8l3.6 1.9l3.6 -10.4l3.7 1.2l3.6 -5.3l7.3 12l3.6 2.5l3.7 -2.3l3.6 2.8l3.7 -2.8l3.6 -1.7l3.6 0.3l3.7 4.6l3.6 -1l3.6 0.8l3.7 1.7l3.6 -0.3l7.3 -2.1l3.6 -0.1l3.7 2.5l3.6 -1.6l3.7 0.3l3.6 -2.1l3.6 -1.2l11 4.3l21.8 1l3.6 -0.6l3.7 1.5l7.2 0.6V3.7z"/>
<path transform="matrix(1 0.4497 0 1 255.3 559.2)" fill="#00c6ff" d="M1.7 -46.4L3.5 -60.1L5.2 -59.6L5.2 -35.5L3.5 -35.8L1.7 -27.5z"/>
<path transform="matrix(1 0.4497 0 1 254 559.7)" d="M0 3.5l0 -94.4l1.7 -36.4l1.8 -7l1.7 2.4l1.8 16.6l1.7 39.4l1.8 7.6l1.7 14.3l1.8 3.9l1.7 -0.6l3.5 29.9l1.8 -4.9l1.7 6l1.8 -5.1l1.7 -12.6l1.7 1.8l1.8 -2l1.7 19.9l1.8 5.4l1.7 -3.5l1.8 -5.4l1.7 4.8l1.8 3.5l1.7 -6.2l1.8 -12.9l3.6 15.6l3.6 -5.2l3.7 -15.3l3.6 9.3l3.7 -0.7l3.6 19l3.6 0.2l3.7 -2.3l3.6 -7.1l3.7 6.6l3.6 3.1l7.3 -9.7l3.6 -2.2l3.7 10.5l3.6 -1.2l3.6 5.6l3.7 -3.5l3.6 -0.7l3.6 6.7l3.7 -7l3.6 8.2l3.7 -3.5l3.6 3.3l3.6 -1.7l3.7 -3.9l7.3 1.5l3.6 3.7l3.6 1.3l3.7 0l3.6 -3.6l3.7 1.4l3.6 2.8l3.6 -0.9l3.7 0.8l3.6 0.2l3.6 1.7V3.5z"/>
<path transform="matrix(1 0.4497 0 1 252.8 561.1)" d="M0 2.4l0 -21.8l3.5 -8.7l1.7 1.2l1.8 8.7l1.7 -1.4l5.3 11.3l1.7 1.8l1.8 -2.2l1.7 2.3l1.8 -0.1l1.7 -3.5l1.8 6.1l1.7 0.4l1.7 -4.6l1.8 4.5l1.7 -1.6l1.8 -0.3l1.7 1.7l1.8 -3.8l1.7 2l1.8 0.4l1.7 1.2l1.8 0.4l3.6 0l3.6 -3.3l3.7 0l3.6 -4l7.3 7.7l3.6 -1l3.7 2.1l7.3 0.2l7.2 -1.9l3.7 -0.3l3.6 -1.9l3.7 1.7l3.6 2.4l3.6 -1l3.7 0.5l3.6 1.3l7.3 -0.5l3.6 0.4l10.9 -1.9l3.7 1.2l3.6 0.3l3.7 1l3.6 -0.6l3.6 0.8l3.7 -0.5l7.3 0.7l7.2 -0.1l11 0.8V2.4z"/>
<path transform="matrix(1 0.4498 0 1 251.5 561.2)" d="M0 2.7l0 -21.9l1.7 -4.4l1.8 -2.2l3.5 6.4l1.7 -0.3l1.8 6.6l1.7 0.3l1.8 3.6l1.7 -1.1l1.8 3l1.7 -4.2l1.8 4l1.7 2.7l1.8 -1.7l1.7 2.7l1.7 -1.6l1.8 -3.3l1.7 4.7l1.8 -3.1l1.7 1.9l1.8 -2.2l1.7 2.6l1.8 -1.9l1.7 1.5l1.8 -1.6l7.2 3.8l3.7 -2.4l7.3 -1.7l3.6 4l3.6 1l3.7 -2.5l3.6 2.4l3.7 1.1l7.2 -1.1l3.7 -1.5l3.6 -5.3l7.3 5.4l7.3 2.7l3.6 0.1l3.7 -1.3l3.6 1.5l3.6 -0.1l3.7 -1.5l7.2 -0.6l3.7 0.3l3.6 1.3l7.3 1l3.6 -0.7l7.3 1.1l10.9 -0.8l7.3 1.1l3.7 0.1V2.7z"/>
<path transform="matrix(1 0.4498 0 1 250.3 561.1)" d="M0 3.1l0 -80.1l1.7 -14.7l1.8 -3.3l3.5 13.2l1.7 29l1.8 1.7l1.7 0.8l1.8 7.9l1.7 -13.3l1.8 37.9l1.7 -10.3l1.8 2.9l1.7 -4.7l1.8 6.7l1.7 4.9l1.7 -7.6l1.8 5l1.7 -17.4l1.8 18.7l1.7 -6.3l1.8 -4.1l3.5 10.9l1.7 -0.1l5.4 6.2l3.7 -4.9l3.6 -12.5l3.6 -1.5l3.7 18.4l3.6 -6l3.6 6.6l3.7 1.5l3.6 1.1l3.7 -4.6l3.6 7.5l3.6 0.1l3.7 -11.1l3.6 6l3.7 -1.8l3.6 2.4l3.6 4.5l3.7 1.6l3.6 -5.1l3.7 0.8l3.6 3.8l3.6 -2.1l3.7 3l3.6 0.3l3.7 -3.6l3.6 0.5l3.6 5.5l3.7 -3.7l7.3 1.3l3.6 3.5l3.6 -2.5l3.7 2.3l3.6 -2.5l3.6 2.2l7.3 2.2l3.7 0.2V3.1z"/>
<path transform="matrix(1 0.4498 0 1 250.3 561.1)" fill="#5cffa3" d="M1.7 -91.7L3.5 -95L5.2 -88.6L5.2 -39.1L3.5 -41.9L1.7 -40.5z"/>
<path transform="matrix(1 0.4498 0 1 249 562.1)" d="M0 2.4l0 -17.9l1.7 -4.3l1.8 -2l1.7 4l1.8 -2.8l3.5 5.5l1.7 4.9l3.5 0.7l1.8 3.5l1.7 -0.8l1.8 0.5l1.7 -1.1l1.8 4.3l1.7 -5.3l1.8 2.4l1.7 0.1l1.7 2.1l1.8 -2.7l3.5 1.3l1.7 -0.6l1.8 1.5l1.7 -1.8l1.8 2.8l3.6 -0.7l7.3 -3l3.6 -2.3l7.3 5.6l10.9 1.4l3.7 -0.1l3.6 -1.2l3.6 2.1l7.3 -6.2l3.7 1.6l7.2 4.2l3.7 0.9l3.6 -1.3l10.9 1l7.3 -1.8l3.7 -0.4l3.6 0.4l3.6 1.9l3.7 1l3.6 -0.5l7.3 0.3l3.6 -0.5l21.9 1.4V2.4z"/>
<path transform="matrix(1 0.4498 0 1 247.8 562.7)" d="M0 2.2l0 -15.5l3.5 -6.1l1.7 0.9l1.8 4.1l1.7 -3.3l1.8 8.2l1.7 -3.1l1.8 4.3l1.7 -2.9l1.8 0.4l1.7 1.4l1.8 0.3l1.7 1.2l1.8 4.4l1.7 -0.2l3.5 -4.2l1.7 4.4l1.8 -4.6l1.7 2.2l1.8 1.5l1.7 -0.8l1.8 -2l1.7 3.2l5.4 -0.6l3.7 0.3l3.6 -3.6l3.6 -2.2l3.7 3.1l3.6 2.2l3.7 1.6l3.6 -0.1l3.6 1l3.7 -1.2l7.2 1.7l7.3 -4.2l7.3 2.1l3.6 1.8l3.7 1l3.6 0.4l3.7 -1l3.6 0.2l14.6 -2.4l3.6 0.9l3.6 1.7l3.7 0.4l18.2 -0.1l3.6 0.7l3.7 -0.2l10.9 0.5V2.2z"/>
<path transform="matrix(1 0.4499 0 1 246.5 563.3)" d="M0 1.9l0 -12.2l1.7 -2.8l1.8 -1.2l3.5 -1.3l1.7 5.5l1.8 -1.7l1.7 3.8l1.8 1.2l3.5 0.4l1.7 -0.3l1.8 -0.9l1.7 2.7l1.8 0.9l1.7 -2.1l1.8 0.6l1.7 1.5l1.7 -1.6l1.8 1.3l1.7 -0.7l1.8 0.1l1.7 1.9l3.5 -1.7l1.8 1.3l3.6 0.1l3.7 1l3.6 -4l3.6 -1.9l3.7 3.1l7.3 3.3l3.6 -1l3.6 0.7l7.3 -0.4l3.7 0.4l3.6 -0.5l3.6 -2.8l3.7 1.6l7.2 2l7.3 0.1l3.7 0.6l7.2 -0.4l3.7 -1.2l7.3 -0.6l7.2 1.7l7.3 0.6l14.6 -0.1l18.2 1.1V1.9z"/>
<path transform="matrix(1 0.4499 0 1 245.3 562.7)" d="M0 2.8l0 -16.8l5.2 -10.5l1.8 9l1.7 -0.7l1.8 3.7l1.7 1.2l1.8 5.3l1.7 0l1.8 1.7l1.7 -2.2l1.8 -0.1l1.7 -1.2l1.8 1l3.5 -0.3l1.7 2l1.7 -1.5l1.8 3.8l1.7 -2l1.8 1.6l1.7 0.4l3.5 -2.9l1.8 2.3l3.6 -1.3l3.7 0.8l3.6 -2.8l3.6 -0.7l3.7 3.4l10.9 1.8l3.6 -1.5l3.7 2l7.3 0.6l3.6 0l3.6 -2l3.7 1.8l3.6 -1.2l3.7 2.1l3.6 -0.1l3.6 -0.9l3.7 1.2l10.9 -0.2l7.3 -1.1l3.6 1.1l3.6 0.5l3.7 -1l10.9 0.3l7.3 0.9l3.6 -0.7l14.6 1.1V2.8z"/>
<path transform="matrix(1 0.4499 0 1 244.1 562.6)" d="M0 3.2l0 -33.4l1.7 -5.7l3.5 -6.3l1.8 3.4l1.7 12.4l1.8 3.7l1.7 7.4l1.8 2.9l1.7 -0.3l1.8 2.3l1.7 -1.3l3.5 4.6l1.8 0.1l1.7 -3l1.8 4.9l1.7 -3.9l3.5 4.9l3.5 -1.8l1.7 -4.4l1.8 5l1.7 1.7l1.8 -4.2l3.6 3.8l3.7 0.7l3.6 -3.1l3.6 -2.1l3.7 0.4l3.6 3.1l3.7 2l3.6 -0.4l3.6 -2.2l3.7 0.2l3.6 3.5l3.7 -3.2l3.6 2.7l3.6 0.2l3.7 -1.2l7.3 2.6l7.2 -0.4l3.7 -0.7l3.6 1.1l3.7 -1.3l3.6 0.4l3.6 -0.9l3.7 -1.8l3.6 1l3.7 2.6l3.6 0.6l7.3 -0.9l3.6 0.9l10.9 0.7l3.7 -0.8l10.9 1.5V3.2z"/>
<path transform="matrix(1 0.4499 0 1 242.8 563.6)" d="M0 2.6l0 -15.1l1.7 -0.9l1.8 -4.8l1.7 4.6l1.8 -1.7l1.7 5.3l1.8 2.3l1.7 -0.2l1.8 1.5l1.7 0.2l1.8 3l3.5 -3.1l1.7 0l1.8 3l1.7 0.2l1.8 -2.2l1.7 2.3l7 -1.1l1.7 -1.5l1.8 3l3.5 0.1l3.6 -0.4l3.7 0.3l3.6 -0.9l3.6 -1.8l7.3 2.9l7.3 0.3l3.6 -0.5l3.7 0.7l7.3 0.5l3.6 -1l3.6 -2.6l3.7 -0.1l7.3 4.5l7.2 -0.7l3.7 0.7l7.3 -0.1l3.6 -1.1l7.3 -0.9l10.9 2.4l3.6 -0.3l7.3 0.1l3.7 0.5l7.2 -0.3l14.6 0.9V2.6z"/>
<path transform="matrix(1 0.4500 0 1 241.6 564.9)" d="M0 1.6l0 -15.3l1.7 -3.2l1.8 -1l1.7 0.3l1.8 3.1l3.5 3.4l1.7 3.8l1.8 0.6l1.7 -3l1.8 1l1.7 4.3l1.8 -2l1.7 -0.7l3.5 2.7l1.8 -1.5l1.7 0.3l1.7 2.6l1.8 -2.9l3.5 0.9l3.5 -0.7l1.7 0.5l1.8 -0.5l3.6 2.8l3.7 -1.4l7.2 -3.9l7.3 4.3l3.7 0.4l3.6 -0.8l3.6 1.2l7.3 0.4l3.7 0.8l3.6 -1l3.6 -0.5l7.3 0.9l10.9 0.2l3.7 1.1l3.6 -0.9l10.9 -0.9l7.3 0.5l3.7 0.9l10.9 0.3l3.6 -0.5l3.7 0.5l3.6 -0.4l7.3 0.2l10.9 1.1V1.6z"/>
<path transform="matrix(1 0.4500 0 1 240.3 566.4)" d="M0 0.4l0 -17.6l1.7 -2.8l1.8 0l1.7 -2.3l1.8 4l1.7 -0.9l3.5 9.1l1.8 -3.5l1.7 6.2l1.8 -4.9l1.7 0.6l1.8 0l1.7 1.6l1.8 0.2l3.5 3.9l1.7 -1.8l1.8 2l1.7 -1.9l1.7 0.8l1.8 -0.7l1.7 1.9l1.8 -0.4l1.7 -1.2l5.4 2.2l3.7 -1l7.2 -4.3l3.7 3.7l7.3 2.2l14.5 -0.3l3.7 0.5l3.6 -1.8l3.6 -3.2l3.7 1.5l3.6 2.6l3.7 2l3.6 -1.2l3.6 1l3.7 -0.6l3.6 0.5l3.7 -0.4l10.9 1l3.6 -1l14.6 1.1l7.3 -0.3l21.8 1.3V0.4z"/>
<path transform="matrix(1 0.4500 0 1 239.1 566.7)" d="M0 0.5l0 -53.3l1.7 -15.8l3.5 4.1l1.8 13.1l1.7 7l1.8 4.5l1.7 15.9l1.8 -4.1l1.7 8.7l1.8 -6l1.7 11.2l1.8 -3l1.7 1.9l1.8 -7.8l1.7 7.5l1.8 -9.6l1.7 4l1.8 10.2l1.7 0l1.7 -2.1l1.8 -3.1l1.7 3.8l1.8 1.8l1.7 -4.5l1.8 2.4l3.6 2.4l3.7 -2.3l7.2 1.3l3.7 -0.1l3.6 0.8l3.7 2.9l3.6 1l3.6 -3.6l3.7 -8.5l3.6 -16.2l3.7 18.4l3.6 6.6l3.6 -4.7l3.7 2.6l3.6 3.3l7.3 3.7l3.6 -1l3.7 -0.1l3.6 -1.2l3.7 2.5l3.6 0.8l3.6 -1.7l3.7 0.3l7.3 -0.3l3.6 2.2l3.6 -1l3.7 0.1l3.6 0.9l3.7 -0.4l3.6 0.8l3.7 -1.5l7.2 2.1l3.7 0.1l3.6 0.8V0.5z"/>
<path transform="matrix(1 0.4500 0 1 237.8 565.9)" d="M0 1.6l0 -16.2l1.7 -1.9l1.8 -5.4l1.7 3.4l1.8 1.1l3.5 7.1l1.7 0.5l1.8 2.6l1.7 -2.9l1.8 4.9l3.5 -0.3l1.7 -1.9l1.8 2.2l1.7 1.1l1.8 -1.4l1.7 0.8l1.8 -0.7l1.7 0.8l1.7 -1l5.3 2.5l1.7 -0.3l1.8 -1.4l3.6 -1l3.7 1.5l3.6 -0.3l3.6 1.1l7.3 -0.1l3.7 0.8l7.2 -1.2l3.7 -18.6l3.6 -49l3.7 50.3l3.6 17l3.6 -2.3l3.7 -0.4l3.6 3.6l3.7 1.2l3.6 0.6l3.7 -0.6l7.2 0.3l7.3 -0.3l3.7 -0.8l7.2 0.6l3.7 0.7l14.5 0.4l7.3 -0.5l3.7 0.6l3.6 -0.1l10.9 0.9V1.6z"/>
<path transform="matrix(1 0.4501 0 1 236.6 564.9)" d="M0 2.9l0 -18.2l3.5 -5.7l1.7 1.7l1.8 2.5l1.7 0.5l1.8 5.3l3.5 2.4l1.7 4l1.8 -0.2l3.5 1.3l1.7 -3l1.8 2.8l1.7 -0.3l1.8 -1.8l1.7 4.2l5.2 -0.9l1.8 -1.2l1.7 1.6l1.8 -2.6l1.7 0.4l1.8 2.4l3.6 -0.5l3.7 0.9l3.6 -1.9l3.6 0.7l7.3 -0.2l3.7 1.7l3.6 0l3.6 0.8l3.7 -10.4l3.6 -24.3l3.7 24.3l3.6 7.7l3.7 -3.7l3.6 1.3l3.6 2.6l3.7 1.6l10.9 1.1l7.3 -0.2l10.9 -1.7l7.3 2l7.3 0.6l10.9 -0.7l3.6 0.6l7.3 -0.2l10.9 0.8V2.9z"/>
<path transform="matrix(1 0.4501 0 1 235.3 563.9)" d="M0 4.3l0 -22.4l1.7 -5.5l1.8 2.3l1.7 1.1l1.8 2.2l1.7 6.6l1.8 -3.4l3.5 9.2l1.7 2.1l1.8 -3.9l1.7 4.3l1.8 -1.2l1.7 2.8l1.8 0.4l1.7 -0.8l1.8 -0.4l1.7 -1.4l1.8 1.8l1.7 -1.6l1.7 2.1l1.8 0.7l1.7 -0.7l5.3 1.3l3.6 -2.1l3.7 0.6l3.6 -2.6l7.3 1.6l3.6 2.6l3.7 -2l3.6 0.3l3.7 1l3.6 -0.5l3.6 2l7.3 -1.6l3.7 -1.8l3.6 0.4l7.3 2.7l3.6 0.5l3.7 -1l3.6 1.3l3.6 -0.7l7.3 0.1l7.3 -2.1l7.3 2.3l3.6 0.6l3.7 -0.3l10.9 0.2l21.8 1.1V4.3z"/>
<path transform="matrix(1 0.4501 0 1 234.1 564.2)" d="M0 4.3l0 -70.1l1.7 -13.3l1.8 -18.2l1.7 8.6l1.8 -1l1.7 15.4l1.8 33.6l1.7 8.2l1.8 2.5l1.7 15.3l1.8 -2.9l1.7 -13l1.8 17.8l1.7 -0.6l1.8 -10.4l1.7 -1.7l1.8 12.8l3.5 -2.2l1.7 -4l1.8 13.4l1.7 -8.4l1.7 4.6l1.8 -3.3l1.7 -1.9l1.8 11.6l3.6 -12.4l3.7 5.6l3.6 -0.6l3.7 -5.1l3.6 3.1l3.6 -0.9l3.7 3.6l3.6 0.3l3.7 2.9l3.6 -1.3l3.6 4.6l3.7 -4.1l3.6 0.3l3.7 -4.8l3.6 0.9l3.6 8.1l3.7 -1.2l7.3 -0.8l3.6 4.8l3.6 -2.7l3.7 2.4l3.6 -0.9l3.7 -1.7l3.6 -0.2l7.3 2.4l3.6 0.6l3.7 -1.2l3.6 0l7.3 2.2l3.6 0.5l11 -0.9l3.6 1l3.6 0.5V4.3z"/>
<path transform="matrix(1 0.4501 0 1 232.9 565.5)" d="M0 3.3l0 -20.7l1.7 -5.1l1.8 -1.5l1.7 2.3l1.8 4.4l1.7 2.4l1.8 1.1l3.5 7.4l5.2 3.5l3.5 0.4l1.8 -1.3l1.7 0.7l1.8 1.7l1.7 -1.1l1.8 0.4l1.7 -0.8l3.5 0.5l3.5 -0.7l7.1 2.4l3.7 -0.3l3.6 -5l3.7 -3.8l3.6 5l3.6 4l3.7 0.4l3.6 -1.1l3.7 1.5l3.6 0.3l3.6 -1.2l7.3 -0.1l3.7 -2l3.6 0.5l3.6 1.7l3.7 0l3.6 0.8l3.7 0.2l3.6 -0.2l7.3 0.4l10.9 -1.3l10.9 1.6l3.7 -0.4l7.3 0.7l10.9 -0.3l14.5 0.7V3.3z"/>
<path transform="matrix(1 0.4502 0 1 231.6 567.1)" d="M0 2.1l0 -51.3l3.5 -10.6l1.7 -2.7l5.3 37.8l1.7 -2.3l1.8 5.4l1.7 3.6l1.8 3.2l1.7 -1.3l3.5 8.3l1.8 -5.5l1.7 6.4l1.8 -5.8l1.7 1.7l1.8 -6l1.7 3.2l1.8 -1.5l1.7 1l1.7 6.4l1.8 -4.8l1.7 0.5l1.8 5.9l3.6 -0.9l3.7 -5l7.3 -2.4l3.6 2.5l3.6 8.1l3.7 -1.1l3.6 1.5l3.7 0l3.6 -2.5l3.6 1.9l7.3 -0.2l3.7 -2.1l3.6 0.5l3.6 2.2l3.7 -1.1l3.6 1.8l3.7 1.2l3.6 -0.8l3.6 -0.2l3.7 0.8l3.6 -1.7l3.7 0.4l3.6 -0.7l3.7 0.5l3.6 1.3l3.6 0.5l11 -0.9l7.2 1.6l3.7 -1.2l3.6 1.5l7.3 -0.1l3.6 0.7V2.1z"/>
<path transform="matrix(1 0.4502 0 1 231.6 567.1)" fill="#00daff" d="M3.5 -59.8L5.2 -62.5L7 -48.1L7 -31.1L5.2 -40.4L3.5 -38.7z"/>
<path transform="matrix(1 0.4502 0 1 230.4 567.4)" d="M0 2.1l0 -139.5l1.7 -15.9l1.8 -32.5l1.7 11.2l1.8 51.7l1.7 -11.9l1.8 17l1.7 63.8l1.8 -1.8l1.7 0l1.8 16.3l1.7 -5.7l1.8 13.8l1.7 0.8l1.8 -8.5l1.7 8.3l1.8 -5.4l1.7 14.2l1.8 -1.5l1.7 -0.2l1.8 -4.7l1.7 -6.7l1.7 13.3l3.5 5l1.8 -13.6l3.6 10.2l3.7 3.4l3.6 -18.3l3.7 -8.3l3.6 5.9l3.6 17.1l3.7 2.3l3.6 5.9l3.7 1.8l3.6 -12.5l3.6 10.3l3.7 4l3.6 -12l3.7 -3.9l3.6 3.3l3.6 9.2l7.3 1.9l3.7 5.3l3.6 -4.9l3.7 4.6l3.6 -7.2l3.6 1.9l3.7 4l3.6 -0.7l3.7 0.3l3.6 1.8l3.6 0.3l3.7 1.4l3.6 -4.6l3.7 2.5l3.6 1.6l3.6 -2.7l3.7 3.3l3.6 -2.8l3.7 4l3.6 -0.7l3.6 2.3V2.1z"/>
<path transform="matrix(1 0.4502 0 1 230.4 567.4)" fill="#ff0500" d="M1.7 -153.3L3.5 -185.8L5.2 -174.6L5.2 -106.3L3.5 -113.1L1.7 -93.3z"/>
<path transform="matrix(1 0.4502 0 1 229.1 567.8)" d="M0 2l0 -31.6l3.5 -14l1.7 0.1l1.8 12.6l1.7 7.4l1.8 -1.9l1.7 5.4l1.8 2l1.7 8.2l1.8 -2.8l1.7 -0.7l1.8 5.8l1.7 2.3l1.8 -5.9l3.5 6.2l3.5 -2.5l1.7 2.5l3.5 -0.7l3.5 -2.3l3.5 3.3l3.6 -2.2l3.7 0.8l3.6 -1.6l3.7 -6.1l3.6 4.4l3.6 5.3l3.7 0.4l3.6 1.2l3.7 -0.7l3.6 0.5l3.6 -0.3l3.7 -1l3.6 -2l3.7 -3.3l3.6 1.4l3.7 3.9l3.6 1.1l3.6 -0.1l3.7 0.3l3.6 1.4l3.7 -0.6l3.6 0.1l10.9 -3.1l7.3 2.3l7.3 1.6l3.6 -1.1l3.7 0.9l3.6 -0.3l3.6 0.5l7.3 -0.5l7.3 1.2l3.7 0.1V2z"/>
<path transform="matrix(1 0.4502 0 1 227.9 568)" d="M0 2.2l0 -14.7l3.5 -7.4l1.7 2.8l1.8 4l1.7 1.3l1.8 3.4l1.7 1l1.8 -1l1.7 4.3l1.8 -2.2l1.7 2.1l3.5 0.5l3.5 -1.6l1.8 0.4l1.7 -1.4l1.8 0.3l1.7 3.3l3.5 -1.3l1.8 2.1l1.7 -3.3l1.7 2.3l1.8 -0.8l3.6 0.5l3.7 -0.5l3.6 -1.4l3.7 -5.3l3.6 5l3.6 2.6l3.7 -0.8l3.6 1.5l3.7 -0.5l3.6 0.8l3.6 -1.5l3.7 1.4l3.6 -0.4l3.7 -2l3.6 0.7l7.3 2.3l10.9 -0.3l10.9 0.3l3.7 -1l7.3 0.1l3.6 0.9l7.3 0.7l7.3 -0.3l25.5 1.2V2.2z"/>
<path transform="matrix(1 0.4502 0 1 226.6 567.9)" d="M0 2.6l0 -38l1.7 -0.3l1.8 -10.2l1.7 3.5l1.8 6.6l1.7 -0.7l1.8 6.1l1.7 10.9l1.8 0.7l1.7 7.5l1.8 -4.8l1.7 9.5l1.8 -7.8l1.7 7.9l1.8 -8.4l1.7 1.5l1.8 5.2l1.7 0.4l1.8 2l1.7 -0.2l1.8 0.9l1.7 -0.9l1.8 -3.6l1.7 3.1l1.7 -3.3l1.8 4.1l3.6 -0.8l3.7 -1.8l7.3 -5.2l3.6 1l3.6 8.4l3.7 -1.2l7.3 2l7.2 -1.1l3.7 -1.9l3.6 1.6l7.3 -2.5l3.7 1.6l3.6 2.6l7.3 -1l3.6 2.8l3.7 -1.5l3.6 1.3l10.9 -1l11 1.5l3.6 -0.6l3.6 0.2l3.7 0.7l3.6 -0.2l3.7 -0.8l3.6 1.3l3.6 -0.8l11 1.4V2.6z"/>
<path transform="matrix(1 0.4502 0 1 226.6 567.9)" fill="#006fff" d="M1.7 -35.7L3.5 -45.9L5.2 -42.4L5.2 -20.3L3.5 -22L1.7 -17z"/>
<path transform="matrix(1 0.4503 0 1 225.4 568.6)" d="M0 2.2l0 -89.3l1.7 -41.9l1.8 -10.6l1.7 35.2l1.8 2.8l1.7 32.2l1.8 3.5l3.5 34.7l1.7 -2.4l1.8 2.5l1.7 -5.8l1.8 19.4l1.7 -18l1.8 12l1.7 7.3l1.8 -7.8l1.7 7.7l1.8 -3.7l1.7 -7.7l1.8 -2l1.7 5l1.8 12.3l3.4 -6.3l1.8 2.1l3.6 0.7l3.7 3.5l3.6 2.3l3.7 -2.5l3.6 5.4l7.3 -8l3.6 7.9l3.7 -7.5l7.3 8.3l3.6 -4.1l7.3 -9.4l3.6 2.9l3.7 6l3.6 4.5l3.6 -1.8l3.7 3.4l3.6 -0.5l3.7 0.9l7.2 -4l3.7 4.4l3.6 -0.5l3.7 0.8l3.6 -0.4l7.3 -1.8l3.6 3.4l3.7 -1.3l3.6 1.1l3.7 -0.1l3.6 1.1l3.6 0.3l3.7 -0.4l3.6 0.6l3.7 1.2V2.2z"/>
<path transform="matrix(1 0.4503 0 1 225.4 568.6)" fill="#e9ff16" d="M1.7 -129L3.5 -139.6L5.2 -104.4L5.2 -46.6L3.5 -62.5L1.7 -57.7z"/>
<path transform="matrix(1 0.4503 0 1 224.1 569.4)" d="M0 1.8l0 -31.3l1.7 -5.5l1.8 0l1.7 2.3l1.8 6.1l3.5 9.2l1.7 -1.7l1.8 1.8l1.7 6.9l1.8 0.6l1.7 2.2l5.3 -3.8l1.7 4.9l1.8 -3.8l3.5 2.6l1.7 -2.4l1.8 3.7l1.7 1.3l3.5 -5.3l1.8 1l1.7 6.8l3.6 -4.3l3.7 1.3l3.6 -0.7l3.7 -4.1l3.6 2.2l3.6 1.6l3.7 3.6l3.6 -0.6l3.7 0.1l3.6 -2.4l7.3 1l3.6 0.1l3.7 0.9l3.6 -0.3l10.9 1.8l3.7 -1.3l3.6 0.1l3.7 2l7.3 -1.5l3.6 0.7l3.6 0.1l3.7 0.7l3.6 0.1l3.7 -1.2l7.2 1.2l3.7 -0.5l3.6 0.9l11 -0.2l10.9 1V1.8z"/>
<path transform="matrix(1 0.4503 0 1 222.9 569.3)" d="M0 2.2l0 -17.9l1.7 -1.4l1.8 -3.8l1.7 -1.1l1.8 3.9l1.7 5.5l1.8 0.9l3.5 3.9l1.7 0.5l3.5 2l1.8 -1.8l1.7 3.1l1.8 -0.2l1.7 0.4l1.8 -1.1l1.7 2.1l1.8 -4.4l1.7 -0.5l1.8 0.5l1.7 3.3l3.5 0.4l1.8 -0.6l1.7 -1.8l3.6 2.5l3.7 0.2l3.6 -1.7l3.7 -2.5l3.6 2.6l3.6 0.1l3.7 1.8l3.6 -0.9l3.7 -0.1l3.6 2.2l3.7 -2l3.6 0.3l3.6 -0.6l3.7 -3.2l3.6 0.8l3.7 2.9l3.6 1.7l3.6 0.4l3.7 -0.9l3.6 -0.2l3.7 0.9l7.3 -0.5l3.6 0.2l3.6 -0.9l7.3 2l3.7 0.3l3.6 -0.5l7.3 0l3.6 0.4l14.6 0.1l7.3 0.8V2.2z"/>
<path transform="matrix(1 0.4503 0 1 221.7 568.2)" d="M0 3.6l0 -61.9l3.5 -33.4l1.7 28.7l1.8 -5.5l1.7 24.9l1.8 -5l1.7 9.2l1.8 -0.5l3.5 19.5l1.7 -1.6l1.8 -3.2l1.7 16.6l1.8 -2.5l1.7 -6.1l1.8 -1.6l1.7 0.3l1.8 9.6l1.7 -13.8l1.8 9.7l1.7 -2.6l1.8 0.1l1.7 6.2l1.8 2.1l1.7 -12.4l3.6 8.9l3.7 -6.5l3.6 9.8l3.7 -3l3.6 3l3.7 -4.6l3.6 4.9l3.6 2.3l3.7 -4.8l3.6 6.1l3.7 1.1l7.2 -2.9l3.7 -3.9l3.6 0.6l3.7 4.8l3.6 0.2l3.7 1.6l3.6 -1.7l7.3 0.9l3.6 1.4l3.7 -0.4l3.6 0.2l7.3 -1.5l3.6 0l3.7 0.2l3.6 1.5l3.7 -0.7l3.6 2.2l3.6 -2.2l3.7 0.4l3.6 1.9l3.7 -0.5l10.9 1.7V3.6z"/>
<path transform="matrix(1 0.4503 0 1 221.7 568.2)" fill="#3bffc4" d="M1.7 -73.4L3.5 -91.7L5.2 -63L5.2 -45.4L3.5 -66.4L1.7 -53z"/>
<path transform="matrix(1 0.4504 0 1 220.4 568.6)" d="M0 3.5l0 -18.6l1.7 -7.5l1.8 -1.4l1.7 3l1.8 -0.8l3.5 11.7l1.7 1.2l3.5 3.9l3.5 1.2l1.8 -0.5l1.7 -3.9l1.8 2.8l1.7 -0.7l3.5 -0.3l1.8 2.2l3.5 0.2l1.7 1.4l1.8 -0.3l1.7 -2.3l1.8 1l1.7 1.8l3.6 0.5l3.7 -1.3l3.6 0.1l3.7 -2l3.6 -0.4l3.7 2.8l3.6 0.7l3.6 1.2l7.3 -0.1l3.7 -0.7l3.6 0.3l3.6 -1.2l3.7 -4.2l3.6 1.5l3.7 3.6l7.3 0.3l3.6 1.1l3.6 -0.8l7.3 1.4l3.7 -0.5l7.2 -0.3l3.7 0.1l3.6 0.7l3.7 -0.7l7.3 1.2l7.2 -0.7l7.3 0.7l3.7 -0.2l10.9 0.7V3.5z"/>
<path transform="matrix(1 0.4504 0 1 219.2 568.7)" d="M0 3.8l0 -13.5l1.7 -0.6l3.5 -2.1l1.8 1.8l1.7 0.7l1.8 4.2l1.7 1.5l1.8 0.6l1.7 -0.5l1.8 -2.4l1.7 2.9l1.8 1.5l1.7 -2.7l1.8 2l3.5 -1.5l1.7 -0.3l1.8 3.4l1.7 -0.4l1.8 0.6l1.7 -1.3l1.8 -0.5l1.7 1.9l1.8 -0.6l5.3 0.2l3.7 -0.7l3.6 -1.5l3.7 1.5l7.3 1.3l3.6 0.2l3.6 -0.6l3.7 0.8l3.6 -0.9l3.7 1.3l3.6 0.6l7.3 -0.9l7.3 0.8l3.6 -0.3l3.7 0.4l7.2 -0.5l7.3 0.2l3.7 -0.5l3.6 -2.3l7.3 1l3.6 1.8l3.7 0.5l18.2 0.4l7.3 -0.2l10.9 0.8V3.8z"/>
<path transform="matrix(1 0.4504 0 1 217.9 569.3)" d="M0 3.5l0 -24.2l1.7 -0.9l1.8 -13.8l3.5 13.2l1.7 -1.3l1.8 6.9l1.7 4.8l1.8 -4.1l1.7 1.8l1.8 10.2l1.7 -8.5l1.8 6.3l1.7 -4.5l1.8 7.1l1.7 -3.5l1.8 2.2l3.5 -0.8l1.7 -1.1l1.8 3.9l1.7 -0.7l1.8 -1.5l1.7 2.4l1.8 -2.1l1.7 2.1l3.6 -1.6l3.7 2.4l3.6 -0.1l7.3 -4l3.7 2l3.6 -0.6l7.3 2.8l3.6 -0.8l3.7 1.7l7.3 -1l3.6 -3l3.6 1l3.7 2.7l3.6 0.4l3.7 -0.8l3.6 1.2l3.6 -0.4l7.3 0.3l3.7 -2l3.6 -0.4l3.7 0.2l3.6 0.9l3.6 0.5l3.7 1.4l7.3 0.7l7.2 -0.8l7.3 0.6l3.7 -0.4l10.9 1.2V3.5z"/>
<path transform="matrix(1 0.4504 0 1 216.7 570)" d="M0 3.1l0 -73.9l1.7 -10.9l1.8 -6.6l1.7 -16.4l3.5 50.5l1.8 -5.8l1.7 22.6l1.8 -1.6l3.5 23.8l1.7 -4.8l1.8 -14.4l1.7 1.3l1.8 12.4l1.7 5.7l1.8 3.8l1.7 -2.7l1.8 -8.9l1.7 -3.6l1.8 0.2l1.7 17.2l1.8 -1.9l1.7 -7.1l1.8 7.6l1.7 -8.2l3.6 8.9l3.7 -6.9l3.6 2.3l3.7 -14.2l3.6 13.2l3.7 6.9l3.6 -3.7l3.6 5.1l3.7 -6.8l3.6 4.2l3.7 2.6l3.6 3.8l3.7 -9.2l3.6 -3.3l3.6 6.5l3.7 3.4l7.3 -2.3l3.6 6.2l3.6 -0.3l3.7 -2.8l3.6 -1.6l3.7 4.1l7.3 -5.3l3.6 4l3.6 -1l11 3.9l3.6 -1.6l3.7 0.5l3.6 -0.7l3.6 2.2l3.7 -1.4l3.6 0.5l3.7 1.7l3.6 0.6V3.1z"/>
<path transform="matrix(1 0.4504 0 1 216.7 570)" fill="#51ffae" d="M3.5 -88.3L5.2 -104.7L7 -81.1L7 -45.6L5.2 -59L3.5 -49.7z"/>
<path transform="matrix(1 0.4505 0 1 215.4 571.8)" d="M0 1.7l0 -24.1l1.7 -2.6l1.8 -13.9l1.7 10.9l1.8 2.1l1.7 8l3.5 -1.9l1.8 7.1l1.7 2.7l1.8 -2.3l1.7 1.3l1.8 -2.1l1.7 6.6l1.8 -6.1l1.7 4.4l1.8 -3.8l1.7 3.5l1.8 0.9l1.7 -3.2l1.8 4.6l1.7 -0.4l1.8 1.1l1.7 -3.6l3.5 -0.2l3.6 4.6l3.7 -1.7l3.6 1.5l3.7 -3.3l3.6 3l3.7 1.5l3.6 -3l3.6 0.9l7.3 -0.3l7.3 2.2l7.3 -6.2l3.6 0.7l3.7 5.8l7.3 0.3l3.6 1l3.7 -0.7l3.6 0.4l3.6 1l3.7 -2l3.6 0.1l3.7 -2l3.6 1.6l7.3 2.3l3.6 -0.3l7.3 0.6l10.9 0l3.7 -0.6l3.6 0.9l7.3 0.7V1.7z"/>
<path transform="matrix(1 0.4505 0 1 214.2 571.3)" d="M0 2.5l0 -20.4l1.7 -3l1.8 -0.5l1.7 3.3l1.8 1.4l1.7 3l1.8 1.5l1.7 3.9l5.3 2.7l1.7 -2.9l1.8 3.8l1.7 0.2l1.8 -1.5l1.7 0.5l1.8 1.7l1.7 -1.2l1.8 -1.8l1.7 3.3l3.5 -3.3l1.8 1.7l1.7 -1.5l1.8 4.1l1.7 -1.8l3.7 -1.3l3.6 0.7l3.6 -2.7l3.7 -0.3l3.6 2.3l3.7 1.7l3.6 -0.5l3.6 1.4l3.7 -0.6l3.6 2l7.3 0l7.3 -1.3l7.3 1.1l7.3 0.1l7.3 1.1l3.6 -0.2l14.6 -3.3l7.3 2.7l7.2 0.9l14.6 0.4l3.6 -0.6l14.6 1.1V2.5z"/>
<path transform="matrix(1 0.4505 0 1 212.9 571.1)" d="M0 3l0 -11.7l1.7 -0.6l1.8 -3.6l1.7 0.2l1.8 0.6l1.7 1.9l3.5 5.7l1.8 -2.3l3.5 2.7l3.5 0.4l1.7 1.4l5.3 -0.7l1.7 -0.6l1.8 1.4l3.5 -0.2l1.7 -0.7l3.5 0.9l1.8 -1l1.7 0.3l3.7 1.6l7.2 -2.3l3.7 -0.1l7.3 1.2l3.6 1.7l7.3 -1l3.6 1.1l11 -1l3.6 -1.9l7.3 1.7l3.6 1.8l11 -0.6l3.6 0.5l7.3 -0.7l3.6 -1.2l3.7 -0.2l3.6 1.1l14.6 1.9l7.3 -0.4l7.3 0.4l3.6 -0.3l3.6 0.5l7.3 0.2V3z"/>
<path transform="matrix(1 0.4505 0 1 211.7 570.9)" d="M0 3.6l0 -10.4l1.7 -5.1l1.8 -1.9l1.7 3.2l1.8 0.2l3.5 5.5l1.7 -1l1.8 1.6l1.7 0.9l1.8 -0.3l1.7 1.8l1.8 -0.8l1.7 -1.9l1.8 0.5l1.7 1.5l1.8 -0.9l1.7 2.8l1.8 -2l1.7 1.1l1.8 -2l1.7 2.2l1.8 -0.6l1.7 0.3l3.5 1.6l3.7 -1l3.6 -0.4l3.6 -3.1l3.7 -0.3l7.3 3.8l3.6 0.9l3.7 -0.6l3.6 0.8l3.6 -0.7l7.3 -0.1l3.7 -0.6l3.6 -2.2l3.6 0.1l3.7 2.4l3.6 1.2l3.7 -0.3l7.3 0.6l7.2 0l3.7 -0.8l3.6 -1.5l3.7 -0.3l10.9 3.3l29.1 0.2l7.3 0.3V3.6z"/>
<path transform="matrix(1 0.4506 0 1 210.5 572.3)" d="M0 2.5l0 -14.7l1.7 -1.4l1.8 -5.3l3.5 7.8l1.7 1l1.8 3.8l1.7 0.3l1.8 -1.2l1.7 1.5l1.8 -0.3l1.7 2.2l1.8 -0.1l3.5 1.2l1.7 -3.5l1.8 3.3l1.7 0.6l1.8 -3l1.7 2.3l1.8 -1.1l1.7 0.7l1.8 1.2l1.7 -0.8l1.8 -1.7l1.7 1.8l7.3 1.5l3.6 -2.4l3.7 -1.7l7.3 2.3l10.9 0.4l3.6 1.2l3.7 0l3.6 0.9l7.3 -4.9l10.9 4.6l11 0l3.6 0.6l3.7 -0.5l3.6 0l7.3 -1.1l3.6 1l7.3 0.6l10.9 0.5l14.6 -0.5l10.9 1V2.5z"/>
<path transform="matrix(1 0.4506 0 1 209.2 571.8)" d="M0 3.3l0 -19.3l1.7 -2.9l1.8 -1.7l1.7 1.8l1.8 -1.6l1.7 8.5l1.8 1.6l1.7 2.5l1.8 0.6l1.7 -0.8l1.8 2.2l1.7 -2.2l1.8 4.5l1.7 -2.2l1.8 0.6l1.7 2.2l1.8 -1.4l5.2 1.5l1.8 -2.4l1.7 2.9l1.8 -2.1l1.7 -0.6l1.8 1.3l1.7 -0.6l3.7 2.7l3.6 -1.4l3.6 -4l3.7 -2.4l3.6 2.4l3.7 3.4l3.6 2.3l3.7 0l3.6 0.7l3.6 -0.6l3.7 0.2l3.6 -1.5l3.7 1.4l3.6 -0.3l3.7 0.5l3.6 -0.7l3.6 1.1l3.7 0.4l3.6 -1l3.7 0.9l7.3 0.2l7.2 -1.9l3.7 0.2l7.3 1.6l3.6 0l3.7 0.7l3.6 -0.2l7.3 0.3l10.9 -0.4l10.9 0.9V3.3z"/>
<path transform="matrix(1 0.4506 0 1 208 572.3)" d="M0 3.2l0 -53.7l1.7 0.6l1.8 -13.5l1.7 2.7l1.8 12.3l1.7 -1.7l3.5 23.3l1.8 -4l1.7 19.1l1.8 -16.8l1.7 14l1.8 2.5l3.5 -6.8l1.7 5.1l1.8 -2.7l3.5 6.5l1.7 -11l1.8 2.1l1.7 12.2l1.8 -7.4l1.7 6.4l1.8 -0.6l1.7 -4.2l3.7 -2.1l3.6 -2.9l3.6 -1.5l3.7 1.3l7.3 11.4l3.6 -0.1l3.7 -4.9l3.6 4.4l3.6 0.1l3.7 5.4l3.6 -4.5l3.7 0.7l3.6 -3.1l3.7 -0.6l3.6 2l3.6 4l3.7 0.6l3.6 -1.3l3.7 1.5l3.6 -3.3l3.7 3.3l3.6 0.6l3.6 -2.6l3.7 0.7l3.6 0.1l3.7 1.3l3.6 -0.7l3.7 -0.1l3.6 1.6l3.6 1l3.7 0l3.6 -1.9l3.7 1.2l3.6 -0.3l3.7 1.4l7.2 0.4V3.2z"/>
<path transform="matrix(1 0.4506 0 1 206.7 571.7)" d="M0 4.1l0 -15.2l1.7 -5.5l1.8 -2.4l1.7 4.9l1.8 3.2l1.7 2.2l1.8 1.5l1.7 0.2l3.5 3.6l1.8 -0.6l1.7 0.6l1.8 -1.5l1.7 2.8l1.8 -2.5l1.7 2.1l3.5 0.4l1.8 0.9l3.5 -1.9l1.7 1.2l1.8 0l1.7 -1.1l1.8 -0.4l5.4 3l3.6 -1.4l3.6 -2.3l3.7 -1.1l10.9 4.5l3.7 0.1l7.2 1.2l7.3 -0.1l3.7 -2.1l3.6 -0.7l10.9 3l3.7 0.2l3.6 -0.6l7.3 0l7.3 1l10.9 -0.3l3.7 0.5l3.6 -0.7l10.9 0.3l3.7 0.5l7.3 -0.2l14.5 0.8V4.1z"/>
<path transform="matrix(1 0.4507 0 1 205.5 573.1)" d="M0 3l0 -9l3.5 -4.4l1.7 0.7l1.8 2.2l1.7 -0.8l1.8 3.2l1.7 -0.9l1.8 -0.4l1.7 3l1.8 -0.3l1.7 2l1.8 -3.1l1.7 1.1l1.8 -0.6l1.7 1.8l1.8 -1.7l3.5 0.8l1.7 0l1.8 0.6l1.7 1.2l1.8 -0.6l1.7 0.8l1.8 -1.7l1.7 1.7l3.7 0.3l7.2 -1.8l3.7 -2.5l7.3 3.2l3.6 0.8l7.3 0.8l10.9 -0.2l7.3 -2.2l7.3 2.1l3.6 0.6l3.7 0.3l3.6 -0.6l3.7 0.6l3.6 0.2l3.7 -0.2l10.9 -3.4l7.3 2.9l7.3 1l10.9 -0.2l21.9 0.7V3z"/>
<path transform="matrix(1 0.4507 0 1 204.2 574)" d="M0 2.5l0 -14.3l1.7 -3.1l1.8 0.7l1.7 -2.5l1.8 4.5l3.5 4.1l1.7 -0.6l1.8 1.5l3.5 1.4l1.7 -0.8l3.5 2.8l3.5 -1.1l1.8 0.4l1.7 -1.7l3.5 3.4l1.8 0.7l5.2 -1.3l1.8 0.7l1.7 -1.9l3.7 1.4l7.2 -3.2l3.7 -2.1l3.6 3.7l3.7 1.8l7.3 1.1l3.6 -0.5l10.9 0.6l3.7 -1.4l3.6 -0.7l3.7 0.3l3.6 1.8l3.7 0.9l7.2 0.2l3.7 -0.6l7.3 0.9l3.6 -1.6l7.3 -0.1l7.3 1.6l25.5 0.2l14.6 0.9V2.5z"/>
<path transform="matrix(1 0.4507 0 1 203 573.9)" d="M0 2.9l0 -17.2l1.7 -7.2l1.8 -2.4l1.7 5.2l3.5 6.8l3.5 -1.8l1.8 1.7l1.7 1.1l1.8 5.2l1.7 0.9l1.8 -0.8l1.7 -2.1l1.8 3.5l1.7 0.1l1.8 -2.6l3.5 3.1l1.7 -2.6l1.8 3.1l1.7 -0.9l1.8 0.3l1.7 -0.2l1.8 0.4l1.7 -1l3.7 2.1l3.6 -2l3.6 0.2l3.7 -1.3l3.6 2.1l14.6 2l3.7 -0.9l3.6 0.6l3.6 -0.9l3.7 1l3.6 0.2l3.7 -0.8l7.3 1.3l3.6 -0.1l3.6 -0.9l3.7 1.2l7.3 0.4l3.6 -1.1l7.3 -0.4l3.6 0.2l7.3 1.5l3.7 0l3.6 -0.6l10.9 1l7.3 -0.3l3.7 0.6l7.3 0.4V2.9z"/>
<path transform="matrix(1 0.4507 0 1 201.7 574.4)" d="M0 2.7l0 -35.3l1.7 -2.4l1.8 -9.5l1.7 -4.6l1.8 14.6l1.7 -1l1.8 7.4l1.7 -0.2l1.8 11.1l1.7 -5.1l1.8 7l1.7 -1.3l1.8 7.5l3.5 -1.7l1.7 -0.2l1.8 0.3l1.7 1.5l1.8 -4.1l1.7 4.7l1.8 -4l1.7 5.7l1.8 -2l1.7 0.4l1.8 -2.4l1.7 6l3.7 -3.6l3.6 2.8l3.7 -9.2l3.6 -1.1l3.6 0.3l3.7 7.3l3.6 -1.3l3.7 2.8l3.6 0.4l3.7 3.1l3.6 -1.3l3.6 1.7l3.7 -4.2l3.6 -3.1l3.7 -0.4l3.6 4.2l3.7 2.5l3.6 0.9l3.6 -0.5l3.7 1.3l3.6 0.1l7.3 -1l7.3 0.1l7.3 1.7l3.6 -0.5l7.3 0.2l3.7 0.7l7.3 0.4l3.6 -0.6l3.6 0.7l3.7 -0.2l7.3 1.3V2.7z"/>
<path transform="matrix(1 0.4508 0 1 200.5 577.2)" d="M0 0.3l0 -15l1.7 -4.7l1.8 3.6l1.7 -1.2l3.5 5.5l1.8 -1.7l1.7 2.4l1.8 0l1.7 1.1l1.8 0.2l1.7 2.2l1.8 0.2l1.7 -0.6l1.8 1.6l1.7 -0.3l1.8 -2.4l1.7 2.5l1.8 -1l3.5 1.1l1.7 -0.7l1.8 0.6l1.7 -1.9l1.8 2l5.4 0.7l3.6 -1l3.7 0.3l3.6 -1.1l3.6 1.2l3.7 0.4l7.3 1.7l3.6 -0.6l3.7 0.9l3.6 -1.2l3.6 0.2l7.3 -2.1l3.7 0.8l3.6 1.7l7.3 1.1l3.6 -0.7l3.7 0.7l3.6 -0.1l11 -1.3l3.6 0l3.7 0.2l3.6 1l3.6 0.4l14.6 0.1l3.7 -0.3l18.2 1.5V0.3z"/>
<path transform="matrix(1 0.4508 0 1 199.3 577.4)" d="M0 0.4l0 -14.2l1.7 -6.5l1.8 2.2l1.7 1.3l1.8 0.5l3.5 7.1l1.7 -4.4l3.5 5.6l1.8 -1.5l1.7 -0.5l3.5 0.3l1.8 2.2l1.7 0l1.8 1.6l5.2 -2.4l1.8 2.7l1.7 -0.3l1.8 -2l1.7 -0.5l1.8 2.8l1.7 -2l3.7 2.2l3.6 -2.1l3.7 0.8l3.6 -1.9l3.6 2.5l3.7 1.7l3.6 0.3l3.7 -2.6l3.6 1.7l3.7 1.1l7.2 -0.4l3.7 -0.9l3.6 -1.8l14.6 3.7l10.9 -0.7l3.7 0.2l3.6 -0.7l7.3 -0.6l3.7 0.5l7.2 1.7l3.7 -0.1l3.6 0.5l3.7 -0.7l3.6 -0.1l7.3 0.6l3.7 -0.2l10.9 1.3V0.4z"/>
<path transform="matrix(1 0.4508 0 1 198 577.4)" d="M0 0.7l0 -14.3l3.5 -5.8l1.7 3.6l1.8 1.4l1.7 -0.3l3.5 1.3l1.8 3.1l1.7 1.4l1.8 -0.9l3.5 3.1l1.7 -3.9l1.8 1.4l1.7 2.3l1.8 -0.3l3.5 0.4l1.7 1.9l1.8 -0.9l1.7 -2.1l1.8 1.1l1.7 -0.7l1.8 0.3l1.7 2.9l3.7 0.6l3.6 -3.6l3.7 -0.1l3.6 -3.1l3.6 1.7l3.7 3.3l7.3 0.7l3.6 0.9l3.7 -1.9l3.6 2l3.6 -0.6l3.7 0.2l3.6 -1.3l3.7 0.4l3.6 1.2l3.7 -0.4l3.6 1.2l3.7 -1l3.6 1.4l3.6 -0.4l3.7 0.2l3.6 -0.8l3.7 -0.2l14.5 0.9l7.3 0l3.7 0.8l3.6 0l3.7 -0.7l3.6 0.7l3.7 -0.2l7.2 0.9l3.7 0.1V0.7z"/>
<path transform="matrix(1 0.4508 0 1 196.8 577.5)" d="M0 1l0 -13.8l1.7 -1.8l1.8 -4.2l1.7 2l1.8 0.5l1.7 4.1l1.8 -0.5l1.7 1.1l1.8 3.1l1.7 1.2l1.8 -1.1l1.7 3.1l1.8 0.7l3.5 -0.6l1.7 -2.6l1.8 2.2l1.7 1.1l1.8 -0.8l1.7 1.3l3.5 -2.6l1.8 -0.1l3.5 2.5l9 -0.9l3.7 -1.8l3.6 -5.5l3.6 5.1l3.7 3.5l3.6 0.6l3.7 -0.4l3.6 0l7.3 0.8l10.9 -1.7l3.7 0.3l7.3 1.6l3.6 0.1l14.6 -0.3l3.6 0.3l3.7 -1l7.3 0.5l3.6 1.2l3.7 -0.7l3.6 0.5l10.9 0.3l7.3 -0.4l14.6 1V1z"/>
<path transform="matrix(1 0.4509 0 1 195.5 575.9)" d="M0 2.9l0 -15.5l1.7 -4.1l1.8 1l1.7 -3.5l1.8 6.7l1.7 1.2l1.8 3.2l1.7 -0.1l1.8 2.1l1.7 0.6l1.8 -0.1l1.7 0.4l3.5 2l3.5 -2l1.8 1.5l1.7 0.6l1.8 -0.1l1.7 -2.1l1.8 1l1.7 2.7l3.5 -3.4l1.8 1l1.7 2.7l3.7 -0.8l3.6 -0.2l3.7 -1.2l7.2 1.3l3.7 -0.6l7.3 1l3.6 -0.7l3.7 0.2l3.6 1.5l7.3 0.5l3.6 -0.6l11 -0.6l3.6 1l7.3 -0.5l7.3 1l3.6 -1.2l7.3 0l3.7 0.7l3.6 -0.1l3.7 0.7l3.6 -0.7l14.6 1l3.6 -0.4l14.6 0.9V2.9z"/>
<path transform="matrix(1 0.4509 0 1 194.3 577.3)" d="M0 1.8l0 -46.7l1.7 -9.2l1.8 -13.4l1.7 -2.4l3.5 30.7l1.8 11.7l1.7 3.8l1.8 -0.9l1.7 5.3l1.8 7.4l1.7 -4.1l5.3 3.3l1.7 0.4l1.8 -3.2l1.7 2.7l1.8 6.3l1.7 -1.9l1.8 -0.4l1.7 -6.8l1.8 9.1l1.7 -8.3l1.8 10.1l1.7 -9.1l3.7 2.7l3.6 4.6l3.7 -11.6l3.6 0.3l3.6 4.5l3.7 7.5l3.6 -1.7l7.3 -0.7l3.7 2.7l3.6 1.4l3.7 -1.1l3.6 -1.9l3.6 -6.2l3.7 2.5l3.6 6.1l3.7 -1.9l3.6 3.5l3.7 0.6l3.6 -0.4l3.7 0.5l3.6 -1.4l3.6 1.2l3.7 -1.2l3.6 0.3l3.7 -1.5l7.3 3.2l3.6 -1.3l3.7 -0.1l3.6 0.6l3.6 -0.1l7.3 1.4l3.7 -0.2l10.9 1.1V1.8z"/>
<path transform="matrix(1 0.4509 0 1 194.3 577.3)" fill="#00f5ff" d="M3.5 -67.5L5.2 -69.9L7 -53.6L7 -34.7L5.2 -45.4L3.5 -43.8z"/>
<path transform="matrix(1 0.4509 0 1 193 576.1)" d="M0 3.3l0 -19.2l1.7 -2l1.8 -7.3l1.7 3.9l1.8 7.9l1.7 -3.9l1.8 8.3l1.7 0.4l1.8 -0.2l1.7 3.8l1.8 1.5l1.7 -3.8l1.8 4.5l1.7 -3.5l1.8 0.1l1.7 2.5l1.8 -2.3l1.7 -0.2l1.8 3l1.7 1.1l1.8 -2.7l1.7 1l1.8 2.1l1.7 -3.1l1.8 2.9l5.4 0.2l3.6 -2.6l7.3 -3.4l3.7 3.5l3.6 2.3l3.6 -0.4l3.7 1.4l10.9 0l3.7 0.5l3.6 -2.1l3.6 -2.8l3.7 -0.4l3.6 4.2l7.3 0.2l3.7 1.2l10.9 0.1l3.6 -1l3.7 0.5l3.6 -0.7l11 1.7l10.9 -0.5l3.6 0.6l11 -0.3l10.9 1.1V3.3z"/>
<path transform="matrix(1 0.4509 0 1 191.8 579.3)" d="M0 0.5l0 -12l1.7 -1.9l3.5 -1.3l1.8 4.2l1.7 -0.4l1.8 2.8l1.7 -0.7l1.8 1.7l7 2.3l1.7 -0.2l5.3 0.8l1.7 -1.2l1.8 0l1.7 0.8l3.5 0.6l1.8 -0.8l1.7 1.2l1.8 -1.2l1.7 0.5l3.7 -0.4l7.3 0.4l3.6 -2.3l3.7 1.7l3.6 1.2l7.3 -0.1l7.3 0.9l3.6 -0.7l3.7 0.8l7.3 -1.8l3.6 0.1l3.6 0.5l3.7 1.1l3.6 -0.3l14.6 0.6l7.3 -1.3l18.2 1.7l18.2 -0.1l14.6 0.9V0.5z"/>
<path transform="matrix(1 0.4510 0 1 190.5 579.5)" d="M0 0.6l0 -14.9l1.7 -2.7l1.8 -1.6l1.7 2l1.8 -1.1l5.2 8.7l1.8 -0.2l1.7 1.6l1.8 -2.2l1.7 2.8l1.8 -0.6l1.7 2.5l1.8 -2.3l1.7 1.9l3.5 0.1l3.5 -0.5l3.5 1.5l1.8 0.1l1.7 -1.5l1.8 -0.3l1.7 0.5l3.7 -1l7.3 -0.7l3.6 -1.6l3.7 2.7l3.6 0.5l3.6 1.8l11 -0.4l3.6 0.8l3.7 -0.7l3.6 1l3.7 -1.1l3.6 -0.5l3.6 0.9l11 1l3.6 -0.2l3.7 0.6l3.6 -1.3l3.7 0.6l7.2 -0.9l7.3 1.3l21.9 0.5l3.6 -0.5l14.6 1.5V0.6z"/>
<path transform="matrix(1 0.4510 0 1 189.3 580.5)" d="M0 -0.1l0 -27.6l1.7 -1l1.8 -7.3l1.7 7.9l1.8 3.4l1.7 4.9l3.5 4.8l3.5 2.8l1.8 -0.1l1.7 4l1.8 -2.2l1.7 2.4l1.8 -3.5l1.7 3l3.5 0l1.8 1.8l1.7 -2.4l1.8 2.4l1.7 -0.9l1.8 -1.9l3.5 2.5l5.4 -0.5l3.6 1.8l3.7 -3.8l3.6 2.6l3.7 1l3.6 -1.3l3.6 1.9l3.7 -1.9l3.6 3.1l3.7 -1l7.3 -0.3l3.6 -1.2l3.7 -3.4l3.6 -0.3l3.6 4.5l7.3 1.4l3.7 -0.3l3.6 0.5l3.7 -0.2l3.6 0.4l14.6 -0.6l3.6 1l7.3 -0.2l3.7 0.6l10.9 -0.3l7.3 0.7l3.6 -0.4l3.7 0.9l3.6 0.1V-0.1z"/>
<path transform="matrix(1 0.4510 0 1 188.1 580.4)" d="M0 0.4l0 -103.7l3.5 -26.2l3.5 30l1.7 20.8l3.5 20.7l1.8 23.1l1.7 -4.4l1.8 4.4l1.7 0.9l3.5 10.9l1.8 -11.3l1.7 11.8l1.8 6.7l1.7 -1.4l1.8 -7.6l1.7 8.9l1.8 -18.1l1.7 4.6l1.8 13.3l1.7 0.7l1.8 -6.3l1.7 -0.5l3.7 -4.6l3.6 -1.6l3.7 -4.3l3.6 8.1l3.7 5.2l3.6 4.3l3.6 1.7l3.7 4.5l3.6 -0.1l3.7 -4.4l3.6 0.9l3.7 -0.4l3.6 -6.9l3.7 -3l3.6 6.1l3.6 4.6l3.7 3.5l3.6 -1.3l3.7 3l3.6 -1.6l3.7 4l3.6 -4.4l3.7 -0.5l3.6 2l3.6 -2.7l3.7 3.5l3.6 1.5l3.7 -0.1l3.6 0.6l3.7 -1.1l3.6 1.1l3.7 -1.5l3.6 0.6l3.7 1.5l3.6 -0.1l3.6 1.2l3.7 0.1l3.6 0.7V0.4z"/>
<path transform="matrix(1 0.4510 0 1 188.1 580.4)" fill="#ffb700" d="M1.7 -115L3.5 -129.5L5.2 -115.4L5.2 -52.6L3.5 -58.9L1.7 -52.4z"/>
<path transform="matrix(1 0.4510 0 1 186.8 580.7)" d="M0 0.4l0 -27.8l1.7 -6.6l1.8 -4.1l1.7 6.2l1.8 3.6l1.7 -2.5l1.8 9l1.7 6l1.8 0.2l1.7 -0.6l1.8 5.9l1.7 -1.3l1.8 -3.1l1.7 5.8l1.8 -4.8l1.7 4.6l1.8 -1.5l1.7 3.1l1.8 -5.5l1.7 6.1l1.8 -0.1l1.7 0.6l1.8 -2.2l1.7 0.9l1.8 -3.6l1.7 4.7l3.7 -3.5l3.6 2.4l3.7 -3.7l3.6 0l3.7 3.2l3.6 1.5l3.6 2.2l7.3 -2.7l3.7 -0.7l3.6 3.3l3.7 -0.1l3.6 -2.4l7.3 -3.5l3.7 3.6l3.6 2.5l3.6 0l3.7 1.1l3.6 -1.7l3.7 1l3.6 -0.5l7.3 -0.2l3.7 -0.8l3.6 0.3l7.3 2.3l14.6 0l3.6 -0.6l3.7 0.9l7.2 0.1l7.3 0.9V0.4z"/>
<path transform="matrix(1 0.4511 0 1 185.6 581.8)" d="M0 -0.4l0 -16.1l1.7 -2l1.8 -4.1l3.5 5.5l1.7 0.6l1.8 2.4l3.5 0.8l1.7 5.6l1.8 0.5l1.7 -3.1l1.8 -0.1l1.7 3l3.5 -2.7l3.5 1.9l1.8 0.2l1.7 -1.4l1.8 2.2l3.5 1.2l1.7 -1.5l3.5 -1.1l3.7 2.2l3.6 -0.7l11 1.4l3.6 -1.3l3.7 2.3l3.6 0.1l7.3 -1.4l3.6 0.8l3.7 -0.1l3.6 0.6l7.3 -0.7l7.3 1.3l7.3 0l7.3 0.7l7.3 -0.6l3.6 -1.3l3.7 -0.5l7.2 2.3l3.7 0.2l7.3 -0.7l3.6 0.6l14.6 -0.1l10.9 1.2V-0.4z"/>
<path transform="matrix(1 0.4511 0 1 184.3 581.7)" d="M0 0.1l0 -70l1.7 -21.9l1.8 -6l1.7 20.5l1.8 -7.7l1.7 24.5l1.8 16.7l3.5 13.2l1.7 0.5l1.8 12.6l1.7 -7.1l1.8 4.9l1.7 -1.6l1.8 3.2l1.7 -5.5l1.8 7.3l1.7 -11.9l1.8 1.6l1.7 9.4l3.5 5.6l1.8 -4.4l1.7 -8.1l1.8 12.4l1.7 -9.7l3.7 7l10.9 -3.4l7.3 5l7.3 -1.6l3.6 -0.3l3.7 5.7l3.6 -2.4l7.3 3.5l3.7 -3.4l3.6 0.4l3.7 3.6l3.6 -2.9l3.6 0.4l3.7 3.1l3.6 0.1l3.7 -1.2l3.6 2.3l3.7 1.2l3.6 -3.1l3.7 0.2l3.6 1.3l7.3 1.2l3.6 0l3.7 -1.4l7.3 1.8l3.6 -0.1l3.7 -1.2l3.6 1.7l3.7 0.2l7.2 1.3V0.1z"/>
<path transform="matrix(1 0.4511 0 1 184.3 581.7)" fill="#40ffbf" d="M1.7 -91.8L3.5 -97.8L5.2 -77.3L5.2 -56.8L3.5 -71.8L1.7 -67.4z"/>
<path transform="matrix(1 0.4511 0 1 183.1 581)" d="M0 1.1l0 -26.3l1.7 -3.5l1.8 -1.8l1.7 0.3l1.8 8.4l1.7 5.8l1.8 -0.4l1.7 0.3l1.8 6.2l1.7 -1.8l3.5 5.4l1.8 -1.3l1.7 0.1l1.8 0.8l1.7 -2.8l1.8 1.2l1.7 -0.9l3.5 4.7l1.8 -0.8l1.7 -4.1l5.3 5.1l1.7 -1.6l7.3 0.6l7.3 -9.8l3.7 5.6l3.6 3.7l3.7 1.1l3.6 -1l3.6 2.8l3.7 -1.1l3.6 0.2l3.7 0.9l3.6 -2.1l3.7 -0.4l3.6 1.4l3.7 0.6l3.6 -0.6l3.7 1.2l3.6 -0.6l7.3 0.8l14.6 -2.4l3.6 1.3l3.7 0.3l3.6 1l3.6 -0.3l7.3 0.6l3.7 -0.4l3.6 0.6l3.7 -0.3l14.6 1.3V1.1z"/>
<path transform="matrix(1 0.4511 0 1 181.8 579.2)" d="M0 3.2l0 -20.7l1.7 -9.1l1.8 -3l1.7 4.2l1.8 7.5l1.7 1.5l1.8 5l1.7 -4.7l1.8 6.6l1.7 -1l1.8 0.1l1.7 6l1.8 -0.7l1.7 1.8l1.8 -5.5l1.7 5l1.8 0.6l1.7 -3l1.8 0.7l1.7 -0.2l1.8 1.6l1.7 -1.6l1.8 0.8l1.7 -1.5l1.8 4.2l5.4 -1.9l3.6 2l3.7 -1.2l3.6 1.8l3.7 -1.3l3.6 -0.2l3.7 1.4l7.2 -1.4l7.3 1.3l3.7 -0.4l3.6 -1.9l3.7 -2.8l3.6 0.6l3.7 3.1l3.6 0.8l3.7 1.9l3.6 0.5l7.3 -1.2l3.6 1.2l7.3 -1.2l3.7 -0.1l3.6 0.8l3.7 -0.6l3.6 0.9l3.6 -0.2l7.3 0.9l11 -0.4l14.6 0.9V3.2z"/>
<path transform="matrix(1 0.4512 0 1 180.6 580.7)" d="M0 2.1l0 -81.6l1.7 -11.4l1.8 -16.2l1.7 18.2l1.8 2.1l1.7 25.8l1.8 18.7l1.7 -22.5l1.8 36.9l1.7 -1l1.8 -0.4l1.7 12.1l1.8 -8.8l1.7 1.6l1.8 -1.7l1.7 -11.8l1.8 26.6l1.7 -16.2l1.8 0.9l1.7 8.3l1.8 -0.4l1.7 9l1.8 -12.3l1.7 6.9l1.8 -1.9l1.7 1.2l3.7 0.2l3.6 3.5l3.7 -11.2l3.6 0.9l3.7 7l3.6 -5.8l3.7 1l3.6 7.4l3.6 6.1l3.7 -2.1l7.3 0.9l3.6 -4.8l3.7 -1l3.6 1.3l3.7 5.4l3.6 -4.6l3.7 5.7l3.6 -3.3l3.6 0.1l3.7 3.8l3.6 0.4l3.7 -0.6l3.6 2.4l3.7 -3.7l3.6 -1.5l3.7 3.8l7.3 2.1l3.6 -0.9l3.6 1l7.3 -0.7l3.7 0.7l3.6 -0.7l7.3 2.6l3.7 0.1V2.1z"/>
<path transform="matrix(1 0.4512 0 1 180.6 580.7)" fill="#95ff6a" d="M1.7 -90.9L3.5 -107.1L5.2 -88.9L5.2 -54L3.5 -65.1L1.7 -55.3z"/>
<path transform="matrix(1 0.4512 0 1 179.3 579.2)" d="M0 3.9l0 -25.6l1.7 -10.6l1.8 -0.2l1.7 2l1.8 5.6l1.7 8l1.8 0.7l1.7 -2.1l1.8 10.6l1.7 -2.8l1.8 2l1.7 -3.9l1.8 1.3l1.7 5.5l1.8 1.7l1.7 -6.2l3.5 6.1l1.8 -1.1l1.7 2l1.8 -5.7l1.7 5.1l1.8 -1.7l1.7 2.7l1.8 -3.1l1.7 1.6l3.7 1.8l3.6 -2.5l7.3 1.4l3.7 -0.2l3.6 1.6l3.7 0.1l3.6 -0.7l7.3 1.7l7.3 -0.2l3.6 -2.7l3.7 -1.7l3.6 0.3l3.7 4.2l3.6 1.7l11 -1.2l3.6 0.7l7.3 -1.6l7.3 -0.7l7.3 2.6l3.6 0.6l7.3 -0.6l10.9 0.9l3.7 -0.8l14.6 1.3V3.9z"/>
<path transform="matrix(1 0.4512 0 1 178.1 580.3)" d="M0 3.1l0 -14.8l1.7 -1.5l1.8 -0.8l3.5 3.2l1.7 3.7l1.8 0.6l1.7 1.4l1.8 0.3l1.7 -0.2l3.5 1l1.8 -0.9l1.7 2.6l1.8 -3l1.7 2.5l1.8 -1l1.7 1.3l1.8 -1.4l1.7 1.9l1.8 -1.4l1.7 0.7l1.8 1.5l1.7 -1.9l1.8 0.3l1.7 1.1l3.7 0.9l7.3 -3.2l3.6 1.4l3.7 0.3l3.6 1.2l3.7 -1.4l3.6 1.8l10.9 -1.2l3.7 1.1l7.3 -3.5l3.6 -0.1l3.7 3.4l7.3 1.2l3.6 -1l14.6 0.8l3.6 -0.9l7.3 0.1l3.7 1.1l3.6 -0.3l14.6 0.6l14.6 0l7.3 0.7V3.1z"/>
<path transform="matrix(1 0.4512 0 1 176.9 581.2)" d="M0 2.6l0 -12.4l1.7 -1.4l1.8 -4.9l3.5 2.3l1.7 5.3l1.8 -0.3l1.7 3.4l1.8 -2.7l3.5 3.5l1.7 -0.1l1.8 0.7l1.7 -0.6l1.8 2.3l1.7 -1.1l1.8 0.8l3.5 -1.9l3.5 2.4l1.7 -1l1.8 0.3l1.7 -0.5l1.8 1.7l1.7 -1.1l7.3 0.8l3.7 -2l7.3 1.7l7.3 0.3l3.6 1.3l3.7 -0.1l3.6 -0.4l3.6 -1.1l3.7 1.1l3.6 -1.7l3.7 -1l3.6 0.3l3.7 1.6l10.9 1.5l7.3 -0.2l3.6 0.3l11 -0.3l3.6 0.4l7.3 -0.3l7.3 0.7l21.9 -0.1l7.3 0.6V2.6z"/>
<path transform="matrix(1 0.4513 0 1 175.6 582.5)" d="M0 1.6l0 -20l1.7 -5.8l1.8 1.6l1.7 2.6l1.8 0.3l1.7 4.7l1.8 -0.4l1.7 5.7l1.8 -0.6l1.7 2.6l1.8 0.1l1.7 -2.5l1.8 0l1.7 2.4l1.8 1.2l1.7 -2.3l1.8 4.2l1.7 -0.6l1.8 -2.6l1.7 2.7l1.8 -0.7l1.7 1.5l1.8 -1.6l1.7 0.9l1.8 -1.3l1.7 1.8l7.3 0.7l7.3 -5.7l3.7 4l3.6 1.6l3.7 0.8l3.6 -0.1l3.7 -0.5l3.6 1.6l3.6 -0.1l7.3 -1.5l3.7 -2.1l3.6 0.7l7.3 3.2l11 -0.1l3.6 -0.7l7.3 1.2l3.6 -0.6l3.7 0.4l7.3 -0.3l3.6 0.9l3.7 -0.6l3.6 0.6l3.7 -0.6l3.6 0.9l3.7 -0.6l18.2 1V1.6z"/>
<path transform="matrix(1 0.4513 0 1 174.4 582.1)" d="M0 2.3l0 -15.5l3.5 -10.6l1.7 1.6l1.8 2.8l1.7 6.6l1.8 -1.7l1.7 5.7l1.8 1l1.7 0.3l1.8 2.6l1.7 -4.6l1.8 1.6l1.7 3.4l1.8 -4.2l1.7 -0.6l1.8 4.8l1.7 -0.7l1.8 1l1.7 -3.2l1.8 3.5l1.7 -2.4l1.8 2.4l3.5 -3.3l1.7 3.9l3.7 -2.4l3.6 3.1l3.7 -2.5l14.6 1.1l3.6 1.7l3.7 0.4l3.6 -0.3l3.7 -0.9l3.6 0.3l3.6 -0.3l3.7 -2l3.6 0.3l3.7 2.1l3.6 1.1l7.3 -0.3l7.3 0.5l7.3 -0.7l3.6 -2.2l3.7 0.4l10.9 3.4l3.7 -0.8l3.6 0.7l18.3 0.2l10.9 0.7V2.3z"/>
<path transform="matrix(1 0.4513 0 1 173.1 584.8)" d="M0 0l0 -52.6l5.3 -34.3l1.7 26.6l1.8 5.4l1.7 -1.1l1.8 17.4l1.7 12.4l1.8 0.6l1.7 4l1.8 5.6l1.7 -15.1l1.8 1l1.7 18.2l1.8 -6.9l1.7 -0.9l1.8 -2.3l1.7 11.5l1.8 -4.1l1.7 4l1.8 -3.9l1.7 -0.3l1.8 -7l1.7 6.1l1.8 0l3.6 4.7l3.6 -1.8l3.7 -5.6l7.3 8.2l3.6 -1.3l3.7 1.7l3.6 -2.5l3.7 0.6l3.6 3.9l3.7 -0.4l3.6 1.9l3.6 -6.9l3.7 -4.2l3.6 4.6l7.3 5l3.7 0.5l3.6 -1.9l3.7 3.3l3.6 -2.2l3.7 1.6l3.6 -3.2l3.7 1.6l3.6 0.1l3.6 1.7l3.7 0.5l3.6 -0.8l3.7 2.7l10.9 -0.7l3.7 0.7l7.3 0.5l3.6 -1l3.6 1.7l3.7 0.3V0z"/>
<path transform="matrix(1 0.4513 0 1 173.1 584.8)" fill="#00fdff" d="M3.5 -75.1L5.3 -86.9L7 -60.3L7 -46.8L5.3 -67.3L3.5 -58.2z"/>
<path transform="matrix(1 0.4513 0 1 171.9 585.2)" d="M0 -0.1l0 -24l3.5 -12.5l1.8 1.2l1.7 7.1l1.8 -1.8l1.7 11.2l1.8 0.8l1.7 -3.4l1.8 1.1l1.7 7.7l1.8 2.5l1.7 -6.5l1.8 4.5l1.7 2.1l1.8 0l1.7 -5.2l1.8 5.8l1.7 -2.9l1.8 3.2l1.7 -2.1l1.8 -0.9l1.7 1.3l1.8 0.1l1.7 1.7l1.8 -0.6l3.6 3.8l3.6 -3.1l3.7 -4l3.6 -2.2l3.7 3.4l3.6 1.1l3.7 3.6l3.6 -1.5l3.7 -0.6l7.3 1l3.6 1.4l3.6 0.3l3.7 -5.5l3.6 1.7l3.7 3.7l3.6 1.8l3.7 0.2l3.6 -0.9l3.7 1.7l3.6 -1.5l11 0.7l3.6 -0.9l3.6 1l3.7 -0.1l3.6 1l7.3 0.2l3.7 -0.9l3.6 0.9l3.7 0.3l3.6 -0.4l3.7 0.1l10.9 1.3V-0.1z"/>
<path transform="matrix(1 0.4514 0 1 170.6 586.1)" d="M0 -0.7l0 -12.2l1.8 -0.7l1.7 -2.7l1.8 2.3l1.7 1.4l3.5 1.4l3.5 2.5l3.5 -1.4l1.8 3.1l1.7 -0.5l5.3 0l1.7 -1.3l1.8 2.1l1.7 0.5l1.8 0.2l1.7 -1.7l1.8 2.6l1.7 -2.2l1.8 0l1.7 1.2l5.4 -1.4l3.6 1.6l7.3 -3.2l3.7 1.1l3.6 2.2l7.3 0.5l3.7 0.8l3.6 -0.3l3.7 -0.9l3.6 0.8l3.7 -1.1l3.6 0.2l3.6 -0.7l3.7 2.1l7.3 0.6l3.6 -0.3l3.7 0.5l3.6 -0.2l7.3 -1.3l3.7 -1.7l3.6 -0.4l3.7 0.7l3.6 1.9l7.3 1.1l3.6 -0.4l7.3 0.3l7.3 -0.4l7.3 1l7.3 0.2V-0.7z"/>
<path transform="matrix(1 0.4514 0 1 169.4 584.4)" d="M0 1.4l0 -11.1l1.8 -3.2l1.7 -1.5l1.8 1.7l3.5 2.5l1.7 2.2l1.8 -0.6l3.5 0.9l1.7 3.5l1.8 -2.3l1.7 1.6l3.5 -0.2l1.8 1l1.7 -2l1.8 1.3l1.7 -0.3l3.5 0.7l1.8 -0.4l1.7 0.9l8.9 0.9l3.6 -1l3.7 -3.4l3.6 -2.5l7.3 6.2l3.7 0.9l3.6 -0.7l3.7 1.1l3.6 -0.6l3.7 0.4l3.6 -0.2l3.7 -1.6l3.6 -2.5l3.6 0.6l3.7 3.3l10.9 1l11 0l10.9 -1l10.9 1.5l11 0.3l3.6 -0.4l3.7 0.5l7.3 -0.4l3.6 0.7l7.3 0.4V1.4z"/>
<path transform="matrix(1 0.4514 0 1 168.1 584)" d="M0 2.1l0 -17.4l1.8 -0.4l1.7 -4.5l3.5 5.8l1.8 -0.8l1.7 4l1.8 -0.2l1.7 3.9l1.8 0.9l1.7 -0.6l1.8 0.1l1.7 2.2l1.8 -2.9l1.7 4.1l1.8 -3l1.7 -0.2l1.8 0.7l1.7 2.4l1.8 0.5l1.7 0.3l1.8 -2.6l1.7 0.9l1.8 -0.1l1.7 1.8l1.8 -2.4l3.6 -0.3l3.6 3.3l3.7 -3.5l3.6 -2.6l3.7 3.2l3.6 2.1l7.3 -0.3l3.7 1.7l3.6 -1.4l3.7 1.1l3.6 0.2l3.7 -0.9l3.6 0.3l3.6 -0.3l3.7 1.1l3.6 0.3l3.7 -1l3.6 0.2l3.7 1l3.6 0.1l7.3 -0.8l3.7 -1.2l3.6 1l11 1.3l3.6 -0.2l10.9 0.4l11 -0.1l10.9 0.9V2.1z"/>
<path transform="matrix(1 0.4514 0 1 166.9 585.1)" d="M0 1.3l0 -18.5l3.5 -3.8l1.8 -0.6l1.7 -0.1l5.3 13.7l1.7 -4.7l1.8 4.3l1.7 1.1l1.8 2.7l1.7 -3.7l3.5 -0.7l1.8 4.1l1.7 -1.2l1.8 -2.3l1.7 3.7l1.8 -0.3l1.7 -2.5l3.5 2.9l1.8 -1.8l1.7 1.5l1.8 -0.2l3.6 1.4l3.6 -0.5l3.7 -4.8l3.6 -1.1l7.3 5.2l7.3 2.4l3.7 -0.1l3.6 -1.6l3.7 -0.3l7.3 0.8l3.6 -2.5l3.7 0.4l7.2 3.6l3.7 -0.4l3.6 0.6l7.3 -0.4l7.3 1l11 -0.8l10.9 0.7l10.9 -0.5l7.3 0.5l3.7 -0.1l10.9 1V1.3z"/>
<path transform="matrix(1 0.4515 0 1 165.7 586.5)" d="M0 0.2l0 -49.7l1.8 -1.9l1.7 -12.5l1.8 2.3l1.7 10.9l3.5 15.5l3.5 9l1.8 -5.5l1.7 17.1l1.8 -12l1.7 9.4l1.8 1.3l1.7 2.2l1.8 -9.4l1.7 13.8l1.8 -3.7l1.7 2l1.8 -3.2l1.7 3.8l1.8 -8.6l3.5 4.3l1.7 -1.9l1.8 7.3l3.6 -6.7l3.7 7.3l3.6 -6l3.6 1.4l3.7 4.7l3.6 2.9l3.7 -1.3l3.6 0.9l3.7 -0.9l3.6 -4.4l3.7 4.8l3.6 1.3l3.7 -1.2l7.3 -3.4l3.6 3.2l3.6 -0.1l7.3 1.6l3.7 -2.3l3.6 3.5l3.7 -3.2l3.6 2.8l3.7 -1.2l3.6 -0.2l3.7 0.4l3.6 -0.8l3.7 0.6l3.6 2.1l3.7 -1.1l3.6 0.8l3.6 -0.3l3.7 0.6l14.6 0.6l3.6 0.9V0.2z"/>
<path transform="matrix(1 0.4515 0 1 164.4 585.3)" d="M0 1.8l0 -16.4l1.8 0.3l1.7 -5.8l1.8 1.9l1.7 0.7l3.5 6.7l1.8 1l1.7 2.1l1.8 0.9l1.7 0.3l1.8 1.8l1.7 -0.7l1.8 1.4l1.7 -0.5l1.8 0.2l1.7 -0.6l1.8 1.2l1.7 -2.4l1.8 2.1l10.5 0.5l3.6 1.2l3.7 -1.3l3.6 -2.7l3.6 -1l7.3 3.6l3.7 1l3.6 0.5l3.7 -0.3l3.6 0.4l11 -0.1l3.6 -0.5l3.7 0.1l3.6 1l7.3 0.5l7.3 -0.8l7.3 0.4l10.9 -1.3l11 1.7l3.6 -0.2l3.7 0.5l3.6 -0.4l7.3 0.1l18.2 1V1.8z"/>
<path transform="matrix(1 0.4515 0 1 163.2 585.3)" d="M0 2.1l0 -19.2l1.8 -3.7l1.7 -1.4l1.8 3.4l1.7 0.6l1.8 1.8l1.7 4.1l1.8 0.2l1.7 6.3l1.8 -0.7l1.7 1.8l1.8 -2.2l1.7 3.2l1.8 0.5l5.2 -0.9l1.8 1.6l1.7 -1.8l1.8 0.9l1.7 -0.2l1.8 0.8l1.7 -1.1l1.8 0.8l1.7 -0.4l1.8 -1.6l3.6 -0.1l3.7 3.4l3.6 -3.3l3.6 -0.7l3.7 2l3.6 0.8l3.7 0l3.6 1.1l3.7 -1l3.6 1.6l11 -1.1l7.3 0.6l3.6 -0.5l3.7 0.9l3.6 0.2l3.6 -0.3l3.7 0.9l3.6 -0.6l3.7 0.2l7.3 -1.6l3.6 -1.2l3.7 0.9l3.6 1.6l7.3 0.7l3.7 -0.3l3.6 0.7l10.9 -0.3l14.6 0.7V2.1z"/>
<path transform="matrix(1 0.4515 0 1 161.9 583.9)" d="M0 3.8l0 -15.7l3.5 -7l1.8 0.4l1.7 3.6l1.8 1.8l1.7 4.6l1.8 3.1l1.7 1.2l1.8 -0.1l1.7 2.1l1.8 1.1l1.7 -2.5l1.8 -0.3l1.7 2l5.3 0.5l1.7 1.2l1.8 -0.9l1.7 1l1.8 -1.8l1.7 -0.5l1.8 2.4l1.7 -2.2l1.8 0.1l3.6 1.3l7.3 -1.6l3.6 -1.7l3.7 0.2l3.6 3.5l3.7 -0.3l3.6 0l3.7 0.6l3.6 -0.2l3.7 0.9l7.3 -0.6l3.6 -0.9l7.3 1.4l11 0l3.6 0.5l7.3 -0.2l3.6 -0.6l3.7 -1.1l3.6 -0.3l3.7 0.4l3.6 1.5l7.3 0.8l3.7 -0.2l29.1 0.7V3.8z"/>
<path transform="matrix(1 0.4516 0 1 160.7 585.3)" d="M0 2.8l0 -18.6l1.8 -3.4l1.7 -4.8l1.8 3.3l3.5 4.2l3.5 8.6l1.7 1.6l1.8 2.7l1.7 -5.2l1.8 3.1l1.7 -0.4l1.8 2l3.5 -1.5l1.7 0.9l1.8 -0.7l1.7 3.3l1.8 -3.4l1.7 2.9l1.8 -3l1.7 1.7l1.8 2.5l1.7 -3.2l5.4 0.7l3.7 -0.5l3.6 -1.9l3.7 -1.2l3.6 3.7l3.6 1.8l3.7 0.6l3.6 -0.3l3.7 1.2l7.3 -0.6l3.6 0.6l3.7 -0.5l3.6 0.5l3.7 -1.1l3.6 -0.1l7.3 1.7l3.7 -0.3l3.6 0.5l7.3 -1.2l7.3 0l3.6 -0.6l14.6 1.8l14.6 0l18.2 0.7V2.8z"/>
<path transform="matrix(1 0.4516 0 1 159.4 586.2)" d="M0 2.2l0 -63.9l1.8 -15.2l1.7 -7.3l1.8 14.8l3.5 10.9l1.7 10.2l1.8 19.5l1.7 3.3l1.8 1.5l1.7 -1.9l1.8 3.3l1.7 7.6l1.8 -2.9l1.7 5.7l1.8 2.7l1.7 -3.1l1.8 3.4l1.7 -7.7l1.8 11.8l1.7 -1.4l3.5 -9l1.8 3.9l1.7 2l1.8 0.9l3.6 -5.8l3.7 10.2l7.3 -12l3.6 1.5l3.6 6.3l3.7 3.6l7.3 -4.5l3.6 3l7.3 2.4l3.7 -3.1l7.3 -0.5l3.6 1l3.7 3.1l3.6 1.1l3.7 -3.1l3.6 2.2l3.7 0.7l3.6 -0.6l3.6 -1.1l3.7 2.3l3.6 0.1l3.7 -1.8l3.6 1.2l3.7 0.1l3.6 1.3l3.7 -1.8l3.6 1.3l7.3 0.9l3.7 -1l7.3 1.2l3.6 -0.1l3.7 0.6V2.2z"/>
<path transform="matrix(1 0.4516 0 1 159.4 586.2)" fill="#44ffbb" d="M1.8 -76.9L3.5 -84.2L5.3 -69.4L5.3 -50.5L3.5 -61.3L1.8 -55.9z"/>
<path transform="matrix(1 0.4516 0 1 158.2 588.4)" d="M0 0.3l0 -19.3l1.8 1.1l1.7 -7.1l1.8 5.7l1.7 0.8l1.8 3.9l1.7 0.3l1.8 3.9l1.7 1.3l3.5 0.9l1.8 2.4l3.5 -2.6l1.7 0.2l1.8 2.8l1.7 -3.1l1.8 2.4l1.7 -0.7l1.8 1l1.7 -1.4l1.8 2l1.7 -0.6l3.5 -0.2l1.8 1.3l3.6 0.2l3.7 -1.5l7.3 -6.9l3.6 4.9l7.3 4.8l7.3 -1.3l7.3 0.3l3.6 0.7l3.7 -0.8l3.6 -0.1l3.7 -0.7l3.6 1.5l3.7 0.6l3.6 -0.7l3.7 -0.1l3.6 0.6l3.7 0.1l7.2 -1l7.3 -1.7l7.3 2.5l7.3 0.7l3.7 -0.2l3.6 0.4l11 -0.2l14.6 0.9V0.3z"/>
<path transform="matrix(1 0.4516 0 1 156.9 590.2)" d="M0 -1.1l0 -15.6l1.8 -1.1l1.7 -2.1l1.8 -0.4l1.7 3.7l1.8 1l1.7 3l1.8 0.2l1.7 2l1.8 -0.4l1.7 2.6l1.8 -1.7l3.5 2.9l3.5 -2l1.7 2.2l3.5 -1.1l1.8 0.1l3.5 -0.6l1.7 1.9l1.8 0.4l1.7 -0.2l1.8 -0.9l3.6 0.3l7.3 -2.5l3.7 -2.1l3.6 3l3.7 2.1l7.2 1l3.7 -1l7.3 0.7l3.6 -0.8l3.7 -1.6l7.3 -1.3l3.6 3.7l3.7 1.2l3.6 -0.6l3.7 0.4l3.6 -0.5l3.7 0.9l7.3 -1.3l3.6 -1.7l3.6 -0.6l7.3 2.8l3.7 0.8l18.2 -0.1l7.3 0.8l3.7 -0.3l7.3 0.8V-1.1z"/>
<path transform="matrix(1 0.4517 0 1 155.7 589.5)" d="M0 -0.1l0 -14.9l1.8 -0.5l1.7 -1.5l1.8 1.1l1.7 3.5l1.8 2l1.7 -0.6l1.8 1.5l1.7 -1.1l1.8 2.8l1.7 1.2l1.8 -0.9l1.7 1.6l1.8 -1.8l1.7 1.6l1.8 -1.6l1.7 2.3l1.8 0.4l1.7 -1.5l1.8 1.4l3.5 0.5l1.7 -0.9l3.5 -0.5l1.8 0.8l3.6 -0.9l3.7 0l3.6 -1.9l3.7 -1.2l3.6 1.6l3.7 2.5l7.2 0.1l3.7 0.9l18.2 0.2l3.7 -0.7l3.6 1.1l3.7 0.3l10.9 -0.4l7.3 0.4l7.3 -1.3l10.9 1.4l3.7 -0.6l7.3 0.7l3.6 -0.2l3.7 0.5l7.3 -0.2l14.6 0.7V-0.1z"/>
<path transform="matrix(1 0.4517 0 1 154.5 588.5)" d="M0 1.2l0 -13l1.8 -2.2l1.7 -3.6l1.8 5.6l1.7 -1.2l1.8 0.6l3.5 6l1.7 0.6l1.8 -0.9l1.7 2l1.8 -1.9l1.7 2l1.8 -1.1l1.7 2.3l1.8 -2.4l1.7 -0.5l1.8 2.6l3.5 -1.7l1.7 1.8l1.8 -1.1l5.2 -0.6l1.8 0.3l3.6 1.7l3.7 -0.7l7.3 -3.7l10.9 4.7l3.6 -0.3l3.7 0.5l7.3 -1l3.6 0.9l3.7 -1.5l3.6 -2.8l3.7 0.2l3.6 2.7l3.7 1.5l3.6 0.4l11 -0.1l3.6 0.7l7.3 -0.7l11 1l3.6 -0.2l7.3 0.4l3.6 -0.5l3.7 0.5l10.9 0l11 0.8V1.2z"/>
<path transform="matrix(1 0.4517 0 1 153.2 588.5)" d="M0 1.6l0 -11.8l1.8 -3.5l1.7 1.6l1.8 -0.4l1.7 1.9l1.8 -0.5l1.7 0.8l1.8 3.1l1.7 -1.6l1.8 2.7l1.7 -1.6l1.8 3.1l1.7 0l1.8 -0.6l1.7 0.7l1.8 1.4l1.7 -2.2l1.8 2.1l1.7 -1.2l5.3 1l1.7 -0.8l1.8 0.9l1.7 -0.9l1.8 0.9l3.6 0l3.7 -0.5l7.3 -5.7l7.3 6l3.6 0.4l3.7 -0.7l7.2 1.7l7.3 -0.1l7.3 -1.4l3.7 0.4l3.6 0.9l14.6 1l11 -1.5l3.6 -1.1l3.7 -0.3l7.3 2.6l10.9 0.7l10.9 -0.7l18.3 1.3V1.6z"/>
<path transform="matrix(1 0.4517 0 1 152 590.4)" d="M0 0l0 -16.8l1.8 -4.1l1.7 -0.8l1.8 1.5l1.7 0.5l1.8 4.8l1.7 -0.1l1.8 6l1.7 -1.7l1.8 1.7l1.7 -1.7l1.8 1.1l1.7 -0.1l1.8 2l3.5 0.2l1.7 1.5l1.8 -1l1.7 0.4l1.8 -1.3l1.7 2.1l1.8 -2.2l1.7 0l1.8 0.5l1.7 2.1l1.8 -1.1l3.6 1.8l7.3 -4.4l3.7 -3.8l3.6 2.2l3.7 5.8l14.5 -0.3l3.7 0.4l3.6 0.8l3.7 -1.8l3.6 -3.9l3.7 0.7l7.3 4.8l18.2 0.5l11 -3.4l3.6 2l7.3 1.8l7.3 0.1l3.6 0.4l11 -0.1l14.6 0.8V0z"/>
<path transform="matrix(1 0.4518 0 1 150.7 590.7)" d="M0 0l0 -32.4l1.8 -16l1.7 3.5l3.5 10.2l1.8 -2.9l1.7 14.1l1.8 0.7l1.7 -0.5l1.8 6.4l1.7 -0.5l1.8 6.7l1.7 -7.2l1.8 4.5l1.7 -1.5l1.8 -2.2l1.7 7.7l1.8 -9l1.7 7.3l1.8 -6.3l1.7 4.6l1.8 0.3l1.7 -4.4l3.5 7.1l5.4 -0.4l3.7 -4.5l3.6 6.7l3.7 -2.6l3.6 1.9l3.7 0.9l3.6 -0.8l3.7 1.7l7.3 -3.3l3.6 1l3.6 2.8l3.7 -1.9l3.6 0.1l7.3 1.2l3.7 2.3l3.6 -2.3l3.7 -0.3l10.9 3.4l7.3 -2l7.3 2.4l3.7 -1.7l3.6 -0.1l3.7 1l10.9 -0.5l3.6 1.5l3.7 0.3l3.6 -1.1l11 1.9V0z"/>
<path transform="matrix(1 0.4518 0 1 149.5 591.2)" d="M0 -0.1l0 -18.9l1.8 -1.4l1.7 -0.8l1.8 3.4l1.7 1.8l1.8 2.6l1.7 -1.5l1.8 4l1.7 -2.4l5.3 5.7l1.7 -3.1l1.8 2.3l1.7 -1.6l1.8 3.1l1.7 -1.1l1.8 -2.8l1.7 3.8l1.8 -1.2l1.7 2.6l1.8 -2l1.7 0.7l1.8 -1.8l3.5 2l3.6 -1.9l3.7 2.8l7.3 -8.9l3.6 3.9l3.7 3.3l7.3 2.3l3.6 -0.4l3.7 0.5l3.6 1l3.6 -0.5l3.7 -1.1l3.6 0.6l3.7 -1.3l3.6 2.3l11 0l3.6 -0.6l3.7 0.9l7.3 -0.5l3.6 0.7l7.3 -0.2l3.7 0.5l10.9 -0.4l3.7 0.5l3.6 -0.4l3.7 0.6l7.2 -0.1l11 1V-0.1z"/>
<path transform="matrix(1 0.4518 0 1 148.2 590.9)" d="M0 0.5l0 -14.6l1.8 -1.8l1.7 -5.1l1.8 4.5l1.7 -1.3l1.8 3.8l1.7 -2.2l1.8 6.5l1.7 -1.5l1.8 3.2l1.7 1.6l1.8 -1.7l1.7 2l1.8 -2.4l1.7 2.1l1.8 -3.3l1.7 2.8l1.8 -1.1l1.7 1.1l3.5 -0.3l1.8 0.5l1.7 -1.4l1.8 1.4l1.7 -1.5l1.8 1.7l3.6 -0.7l3.7 1l3.6 -4.1l3.7 -1.4l3.6 1.6l7.3 5.4l3.7 -0.9l3.6 0.4l3.7 1.7l3.6 -0.9l3.7 0l3.6 -0.7l3.6 -2.6l3.7 -0.3l3.6 2.7l11 1.3l3.6 1.2l3.7 -1l3.6 0.1l7.3 -2.4l3.7 0l3.6 0.6l3.7 1.7l3.6 1.1l3.7 0.3l3.6 -0.6l7.3 0.4l7.3 -0.4l14.6 1.5V0.5z"/>
<path transform="matrix(1 0.4518 0 1 147 593.1)" d="M0 -1.4l0 -11.7l1.8 -0.4l1.7 -4.5l1.8 3.1l1.7 0.7l1.8 3.4l1.7 -0.2l3.5 2.2l3.5 -1l1.8 1.6l1.7 -1.6l1.8 0.7l1.7 1.5l1.8 0.2l3.5 -1.1l3.5 1.6l1.7 -0.7l1.8 0.6l1.7 0.1l1.8 -1.3l1.7 0.7l1.8 1.5l3.6 -1.1l7.3 -0.6l3.7 -1.1l3.6 2.1l7.3 0.5l3.7 -0.7l14.6 0.8l3.6 -0.4l3.6 -2.1l3.7 0.4l3.6 2.7l3.7 -0.2l3.6 0.6l3.7 -0.3l3.6 1.1l3.7 -0.8l3.6 0.1l11 -3l7.3 2.5l7.3 1l7.3 -0.2l3.6 0.4l3.7 -0.5l18.2 1.5V-1.4z"/>
<path transform="matrix(1 0.4519 0 1 145.7 590.4)" d="M0 1.7l0 -17.5l1.8 0l1.7 -1.7l1.8 0.1l1.7 -0.6l1.8 4.7l1.7 1.3l3.5 3.8l1.8 1.4l1.7 -0.7l1.8 -2.2l3.5 3.7l1.7 0.1l1.8 -0.5l3.5 0.5l1.7 1.6l1.8 -3.1l1.7 1l1.8 2l1.7 -2.4l1.8 1.7l1.7 0.2l1.8 -1.2l7.3 2.4l3.6 -3.4l3.7 0l3.6 1.9l7.3 2.3l3.7 -0.9l3.6 -0.4l3.7 1.5l3.6 -1.1l7.3 1.5l3.7 -1.7l3.6 1.6l3.6 0.6l7.3 -0.9l14.6 0.4l3.7 -0.4l3.6 -1l3.7 0l7.3 1.8l7.3 0l3.6 1l14.6 -0.5l14.6 1.1V1.7z"/>
<path transform="matrix(1 0.4519 0 1 144.5 589.3)" d="M0 3.1l0 -9.3l1.8 -2.9l1.7 -2.1l1.8 -0.7l1.7 5.6l1.8 -2.2l1.7 2.3l1.8 -0.5l1.7 0.7l1.8 1.5l3.5 -0.2l1.7 2.1l1.8 -1.5l1.7 0.5l1.8 2.2l3.5 0.1l3.5 -1l1.7 -1l1.8 1.8l1.7 0.1l3.5 -0.7l1.8 1.1l3.6 -0.9l3.7 1.2l3.6 -2.8l3.7 -1l7.3 2.8l3.6 0.1l3.7 1.3l3.6 -0.5l14.6 -0.4l3.7 -1l3.6 0.2l3.7 1.8l7.2 0.5l7.3 -0.9l7.3 0.7l3.7 -1.3l7.3 -1.7l7.3 3l3.6 0.4l3.7 0.2l3.6 -0.6l11 0.6l7.3 -0.3l10.9 0.8V3.1z"/>
<path transform="matrix(1 0.4519 0 1 143.3 588.9)" d="M0 3.8l0 -16.8l3.5 -3.4l5.3 4.6l1.7 -0.2l1.8 5.5l1.7 -0.5l1.8 0.5l1.7 4.2l1.8 -1.9l1.7 1.8l1.8 -0.4l1.7 -1.3l1.8 0.7l1.7 -1.6l1.8 -0.8l1.7 3.1l1.8 -1.9l1.7 1.1l3.5 0.7l3.5 -2.3l1.8 2.2l3.6 1.3l3.7 -1.6l3.6 0.6l3.7 -0.2l3.6 1.6l3.7 0.4l7.3 0.4l3.6 -0.6l3.7 1.1l3.6 0.1l7.3 -0.3l3.7 -0.9l3.6 0.7l3.7 0.1l3.6 -0.4l3.7 0.8l10.9 -0.4l3.6 0.6l11 -0.6l3.6 0.2l3.7 0.6l7.3 0l14.6 0.6l3.6 -0.3l14.6 0.8V3.8z"/>
<path transform="matrix(1 0.4519 0 1 142 589.3)" d="M0 3.7l0 -9.2l3.5 -4.3l1.8 0l1.7 2.9l1.8 1.8l1.7 1l3.5 -0.6l1.8 2.1l1.7 1.1l1.8 0.3l1.7 -0.9l1.8 -0.1l1.7 1.2l1.8 -0.5l1.7 0.5l1.8 -1.6l1.7 2.3l1.8 -0.3l1.7 -1.2l1.8 1l1.7 -0.2l1.8 0.9l1.7 -1.4l1.8 0.9l3.6 0.1l3.7 -0.7l3.6 -0.1l3.7 -2.4l7.3 3.6l3.6 -0.2l3.7 0.8l3.6 0l3.7 -0.9l3.6 -0.1l3.7 0.4l3.6 -1l3.7 -2.7l3.6 0.1l3.7 2.9l3.6 1.1l7.3 0.6l7.3 0.1l14.6 -1.1l14.6 1.4l10.9 0l3.7 -0.4l18.2 0.9V3.7z"/>
<path transform="matrix(1 0.4519 0 1 140.8 591.6)" d="M0 1.8l0 -12.4l1.8 -0.1l1.7 -3.5l1.8 3.2l1.7 1.1l1.8 -1.4l1.7 3.4l1.8 -0.8l1.7 3l1.8 -0.2l1.7 1.9l1.8 -1.4l3.5 1l1.7 1.1l1.8 -0.8l1.7 -1.6l1.8 2.8l1.7 -1.2l3.5 1.1l1.8 0.1l3.5 -0.9l1.7 0.2l1.8 1l3.6 -1l3.7 0.8l7.3 -1.3l3.6 0.6l3.7 1.6l7.3 -0.8l10.9 1.2l14.6 -0.7l7.3 1.1l7.3 -0.2l3.7 -0.6l3.6 1.1l3.7 -0.7l3.6 0.3l3.6 -0.8l14.6 1.2l7.3 -0.4l3.7 0.4l10.9 0l14.6 0.6V1.8z"/>
<path transform="matrix(1 0.4520 0 1 139.5 593.6)" d="M0 0.1l0 -35.1l1.8 -12.4l1.7 -20.1l1.8 17.4l1.7 -5.3l3.5 19.4l1.8 6.7l1.7 9.3l1.8 0.8l1.7 4.6l1.8 0.8l1.7 -10.9l1.8 7.1l1.7 0.9l1.8 5.5l3.5 -5.7l1.7 6.4l1.8 -7.1l1.7 -0.3l1.8 7.4l1.7 -2.5l1.8 3.3l1.7 -1.5l1.8 5.2l3.6 -6.1l3.7 2.2l3.6 -5.6l3.7 2l3.6 5.1l3.7 -5.3l3.6 1.4l3.7 3.1l3.6 -1.5l3.7 4.9l3.6 -3.7l3.7 3.1l3.6 -1.2l3.7 -5.6l3.6 4.1l3.7 2.3l3.6 -1.7l3.7 4.4l3.6 -2.5l3.7 -0.7l3.6 3.3l3.7 -0.3l3.6 -1.3l3.7 -0.4l3.6 1.6l3.7 -0.6l7.2 1.5l3.7 -1.1l3.6 1.5l3.7 -1.2l3.6 1l3.7 0.1l3.6 -0.4l3.7 0.6l3.6 -0.1l3.7 0.9l3.6 -0.1V0.1z"/>
<path transform="matrix(1 0.4520 0 1 138.3 592.8)" d="M0 1.2l0 -14.3l1.8 -0.9l1.7 -4.6l1.8 1.8l1.7 5l1.8 0.1l1.7 3.1l1.8 -0.9l1.7 2.7l1.8 0.1l1.7 -1.3l1.8 3.5l3.5 -1.8l1.7 1.7l1.8 -0.5l1.7 2.1l1.8 -2.9l1.7 0.6l3.5 0.2l1.8 1.3l1.7 -2.5l1.8 1.4l3.5 -0.1l3.6 -0.9l3.7 2.4l3.6 -0.9l3.7 -2.1l3.6 2l7.3 1.4l3.7 -0.4l7.3 0.9l3.6 0l3.7 -0.5l3.6 -1.4l7.3 -1.2l3.7 2.6l3.6 0.5l3.7 -0.1l7.3 0.6l10.9 -0.3l7.3 -0.7l3.7 0.8l3.6 0.1l3.7 0.7l7.3 0.1l3.6 -0.4l3.6 0.5l11 -0.3l3.6 0.6l7.3 0.3V1.2z"/>
<path transform="matrix(1 0.4520 0 1 137 594)" d="M0 0.4l0 -14.4l1.8 -4.8l1.7 -0.6l1.8 3.6l1.7 0l1.8 -1.5l1.7 2l3.5 7.8l1.8 -1.6l1.7 1.1l1.8 1.9l1.7 0.4l1.8 -0.2l1.7 -1l3.5 0.8l1.8 -1.7l1.7 3l1.8 -4.2l1.7 2.2l1.8 1.5l1.7 -1.2l1.8 2.1l1.7 -2.6l1.8 2.8l3.6 -1.2l3.7 0.1l3.6 -4.4l3.7 0l3.6 2.4l3.7 0.9l3.6 1.7l3.7 1.2l7.3 -0.2l7.3 0.6l7.3 -3.7l3.6 0.7l3.7 2l3.6 0.1l3.7 1.4l10.9 -0.8l3.7 0.6l3.6 -0.5l3.7 -1.2l3.6 -0.3l3.7 1.1l10.9 1.5l21.9 -0.3l10.9 1V0.4z"/>
<path transform="matrix(1 0.4520 0 1 135.8 592.8)" d="M0 1.9l0 -51.1l1.8 1.7l1.7 -16.6l1.8 0.6l1.7 9.9l1.8 7.3l1.7 17.7l3.5 8l1.8 -3.1l1.7 10.5l1.8 -15.3l1.7 2.2l1.8 10.6l1.7 3.4l1.8 6.9l1.7 -16.1l1.8 -0.8l1.7 2.9l1.8 10.6l1.7 1.6l1.8 -14.5l1.7 3.2l1.8 8.9l1.7 -6.1l1.8 5l3.6 0.7l3.7 1.4l3.6 -7.3l3.7 -5.2l3.6 3l3.7 10.7l3.6 -6.2l7.3 7.6l3.7 -3.4l3.6 -2l3.7 3.1l3.6 -2.7l3.7 -0.6l3.6 4.9l11 4.3l3.6 -1.6l3.7 -0.4l3.6 -1.2l3.7 2.2l3.6 -0.6l3.7 -1.4l3.6 -2.3l3.7 2.3l3.6 1.4l7.3 -0.1l3.7 2.2l3.6 -1.4l7.3 1.9l3.7 0l3.6 -1l7.3 1.7l3.7 0.1V1.9z"/>
<path transform="matrix(1 0.4520 0 1 135.8 592.8)" fill="#00e2ff" d="M1.8 -47.5L3.5 -64.1L5.3 -63.5L5.3 -48.8L3.5 -49.3L1.8 -36.5z"/>
<path transform="matrix(1 0.4521 0 1 134.5 591.8)" d="M0 3.2l0 -12.6l1.8 -2.8l1.7 -4.4l1.8 -0.2l3.5 3.9l1.7 5.3l1.8 0l1.7 1.9l1.8 -2.2l1.7 4.6l1.8 -2l1.7 1.6l1.8 0.1l1.7 -1.7l1.8 3.3l5.2 -1.3l1.8 1.6l3.5 -0.5l1.7 0.7l3.5 -2.2l1.8 1l3.6 -1.2l3.7 0.2l3.6 -0.4l3.7 -1.1l7.3 4.2l7.3 -1.4l3.6 2.1l3.7 -0.1l3.6 -0.7l3.7 0.3l3.6 -1.9l3.7 -2.6l3.6 -0.4l3.7 3.7l3.6 1.7l14.6 0.7l3.7 -0.2l3.6 -1.1l7.3 -1.3l3.7 0.6l7.3 2l7.3 -0.1l3.6 0.5l14.6 -0.3l11 0.9V3.2z"/>
<path transform="matrix(1 0.4521 0 1 133.3 593)" d="M0 2.4l0 -13.5l1.8 -1.9l1.7 -5.3l1.8 5.6l1.7 0.3l1.8 1.7l3.5 6.2l1.7 0l1.8 -4.8l1.7 4.8l1.8 0.1l1.7 -1l1.8 1.3l1.7 0.5l1.8 -2.7l1.7 0.8l1.8 2.4l1.7 -0.2l1.8 0.8l1.7 -3.4l1.8 3.3l1.7 -0.2l1.8 -1.8l1.7 1.3l1.8 -0.2l3.6 -1.3l3.7 2.9l3.6 -0.3l3.7 -1l3.6 1.3l3.7 0l3.6 -0.5l7.3 1.3l3.7 -1.3l7.3 0.8l3.6 -0.6l3.7 -2.1l3.6 0l7.3 3.2l3.7 -0.6l3.6 0.8l11 0.4l3.6 -1.2l11 -0.4l3.6 1.3l3.7 0.6l3.6 -0.4l11 0.5l3.6 -0.6l3.7 0.8l14.6 0.3V2.4z"/>
<path transform="matrix(1 0.4521 0 1 132.1 593.2)" d="M0 2.5l0 -9.7l1.8 -4.7l1.7 1.5l1.8 -0.9l1.7 3.8l1.8 -0.8l1.7 3.1l1.8 -2.3l3.5 3.7l1.7 0.1l3.5 1l1.8 -1.2l1.7 -0.3l3.5 1.7l1.8 -0.3l1.7 0.7l1.8 -1.2l1.7 -0.6l1.8 1.5l1.7 0l3.5 -1l1.8 0.5l3.6 -0.2l7.3 0.5l3.7 -0.6l3.6 1l3.7 -0.5l3.6 0.3l3.7 1l3.6 0.4l7.3 0l11 -2.8l3.6 0.4l3.7 1.9l3.6 0.6l7.3 0.5l7.3 -0.3l3.7 0.4l3.6 -0.6l7.3 1l7.3 -0.5l14.6 0.4l14.6 -0.1l11 0.7V2.5z"/>
<path transform="matrix(1 0.4521 0 1 130.8 593.7)" d="M0 2.3l0 -10.8l1.8 -0.4l1.7 -2.2l3.5 2.9l1.8 0.5l3.5 2.5l3.5 1.3l1.7 1.4l1.8 0l1.7 -1.4l1.8 1.1l3.5 -1.3l1.7 -0.1l1.8 1l3.5 0.2l1.7 -0.4l1.8 0.5l1.7 -0.4l1.8 1.2l7.1 0.2l3.7 -1l3.6 -0.1l3.7 -1l7.3 2.1l3.6 -0.2l7.3 0.5l3.7 0.7l7.3 -0.7l3.6 -1.5l3.7 -2.2l3.6 0.7l3.7 2.2l3.6 1.3l11 0.5l3.6 -0.4l3.7 0.3l7.3 -2l3.6 -0.3l3.7 0.6l3.6 1.4l3.7 0.6l14.6 0.3l7.3 -0.4l14.6 0.9V2.3z"/>
<path transform="matrix(1 0.4522 0 1 129.6 593.7)" d="M0 2.7l0 -10.9l1.8 -1l1.7 -2l3.5 2.8l3.5 1.1l3.5 3.2l1.8 0.4l1.7 -1.8l1.8 3.4l7 -1.6l1.7 1.5l1.8 -1.3l3.5 1.8l1.7 -1.9l1.8 1.2l1.7 0.2l1.8 -0.6l3.5 0.8l3.6 -1.4l7.3 0.7l3.7 -1.2l3.6 0.9l3.7 1.5l3.6 0.2l11 -0.3l7.3 0.9l7.3 -2.2l3.6 1.2l11 1.6l7.3 -0.7l3.6 0.9l3.7 -0.5l25.5 0.4l3.7 0.4l7.3 -0.4l10.9 0.1l11 0.6V2.7z"/>
<path transform="matrix(1 0.4522 0 1 128.3 593.3)" d="M0 3.4l0 -14.4l3.5 -4.7l1.8 1.4l3.5 6.8l1.7 0.2l1.8 -0.7l1.7 3.7l1.8 0.4l1.7 -1.6l1.8 2.2l1.7 -1.4l1.8 2.2l1.7 0.2l3.5 -2.3l1.8 3.1l1.7 -0.8l3.5 1.2l1.8 -0.5l1.7 -1.8l1.8 1.4l1.7 -1.1l5.4 1.6l3.7 0l3.6 -3.3l3.7 -2.7l3.6 1.8l3.7 4.7l3.6 -0.5l3.7 1l7.3 0.2l7.3 -1.3l3.6 -1.2l3.7 -2.3l3.6 -0.1l3.7 3.4l3.6 1.6l3.7 -0.3l3.6 1.1l7.3 -0.2l3.7 -0.7l3.6 0.2l7.3 -1.4l7.3 1.8l7.3 0.5l7.3 -0.3l25.6 1V3.4z"/>
<path transform="matrix(1 0.4522 0 1 127.1 593.2)" d="M0 3.8l0 -39.2l1.8 -10l1.7 -5.9l1.8 3.6l1.7 9.2l1.8 6.4l1.7 -0.6l1.8 13.1l1.7 -2.4l1.8 11.1l1.7 -4.9l1.8 -2.1l1.7 -4.9l3.5 13.2l1.8 2.3l1.7 -3l1.8 -6.1l1.7 10.4l1.8 -7.9l1.7 5.2l1.8 -7.4l1.7 6.6l1.8 -0.6l1.7 0.2l5.4 3.2l3.7 -1.4l3.6 -3.4l3.7 -7.2l3.6 6.3l3.7 8.7l7.3 -5.8l3.6 6.1l3.7 0.5l7.3 -4.7l3.6 0.4l3.7 -3.7l3.6 -0.2l3.7 8.4l3.6 -2.1l3.7 1.7l3.6 -1.1l3.7 3.1l3.6 1.4l3.7 -3l3.6 1.3l7.3 -2.2l3.7 1.5l3.6 2.2l3.7 -2.1l3.6 1.6l3.7 0.9l3.6 -0.9l18.3 0.9l3.6 1.1l3.7 -0.2V3.8z"/>
<path transform="matrix(1 0.4522 0 1 127.1 593.2)" fill="#00a1ff" d="M1.8 -45.4L3.5 -51.3L5.3 -47.7L5.3 -22.2L3.5 -24L1.8 -21.1z"/>
<path transform="matrix(1 0.4522 0 1 125.8 594.1)" d="M0 3.3l0 -18.6l3.5 -2.2l1.8 1.7l1.7 -2l1.8 2.2l1.7 5.9l1.8 -2.1l1.7 2.2l1.8 0.9l1.7 4.8l3.5 -0.6l1.8 0.9l1.7 -0.9l1.8 0l1.7 2.1l1.8 -1l1.7 1.4l1.8 -1l3.5 0.8l1.7 -1.6l3.5 0.6l1.8 -1.8l3.6 2.4l3.7 0.1l3.6 -3.2l3.7 -1.5l7.3 5.5l7.3 -0.1l3.6 1l7.3 0.1l7.3 -0.8l7.3 1.4l14.6 -0.1l3.7 0.3l3.6 -0.6l3.7 0.1l3.6 -1.1l7.3 -1l7.3 2.3l3.7 0l10.9 0.8l14.6 0l11 0.7V3.3z"/>
<path transform="matrix(1 0.4523 0 1 124.6 595.1)" d="M0 2.6l0 -22.4l1.8 0.5l1.7 -6.2l3.5 5l1.8 3.8l1.7 2l1.8 6.6l1.7 -1.2l1.8 2.7l1.7 -0.7l1.8 2l1.7 1l1.8 -0.3l1.7 1.1l1.8 -5l1.7 3.9l1.8 -3.8l1.7 1.7l1.8 3.5l1.7 -2.8l1.8 1.6l3.5 2l1.7 0.4l1.8 -4.3l3.6 1.6l3.7 0l3.6 -1.2l3.7 -0.1l3.6 2.5l3.7 0.2l3.6 1l3.7 0.5l3.6 -2l7.3 2.5l3.7 -0.3l3.6 -1.6l7.3 -0.5l3.7 2l3.6 -0.6l11 1.6l3.6 -1.2l3.7 1.2l7.3 0.1l7.3 -0.5l7.3 1l3.6 0.1l7.3 -0.3l3.7 0.3l3.6 -0.6l7.3 0.2l11 1.1V2.6z"/>
<path transform="matrix(1 0.4523 0 1 123.3 595.7)" d="M0 2.3l0 -14.2l1.8 -1l1.7 -4.4l1.8 5.8l1.7 -0.6l1.8 2.5l1.7 -1.4l1.8 2.7l1.7 0.1l1.8 1.9l1.7 0.9l3.5 0l1.8 -0.7l1.7 2.1l1.8 -0.3l1.7 -1.4l1.8 0l3.5 3.2l1.7 -1.2l1.8 -0.7l1.7 1.3l1.8 0.8l1.7 -0.9l1.8 0.9l3.7 -2.2l3.6 1.6l3.7 -0.5l3.6 -3.2l3.7 1.5l3.6 2.2l7.3 0.6l3.7 1.3l3.6 -0.3l3.7 -0.9l3.6 0.9l7.3 -4.7l3.7 -0.1l3.6 3.3l7.3 2l3.7 0.3l3.6 -0.7l11 0l3.6 -1.7l3.7 0.2l14.6 2.5l10.9 -0.3l3.7 0.4l3.6 -0.3l14.6 0.9V2.3z"/>
<path transform="matrix(1 0.4523 0 1 122.1 596)" d="M0 2.4l0 -48.4l3.5 -26.5l1.8 10.3l1.7 6.9l1.8 12.8l1.7 2.8l1.8 14.5l1.7 -4.5l1.8 15.6l1.7 -9.4l1.8 10.2l3.5 -5l1.7 6.2l1.8 -3.1l1.7 8.1l1.8 -4.3l1.7 -1.2l1.8 -6.4l1.7 8.2l1.8 1.8l3.5 -0.6l1.8 -2.2l1.7 2.3l11 1.3l3.6 -2l3.7 3.4l3.6 -2.2l3.7 3.5l3.6 -1.2l3.7 2.2l7.3 1.2l7.3 -0.5l3.6 -3.4l3.7 -0.3l3.6 3.6l3.7 1.4l3.6 -0.4l11 0.2l3.6 -1.4l3.7 -0.5l7.3 2.7l3.6 -0.5l7.3 -0.2l3.7 1.5l7.3 0.1l3.6 -0.2l3.7 -0.9l3.6 0.8l3.7 0l10.9 1.6V2.4z"/>
<path transform="matrix(1 0.4523 0 1 122.1 596)" fill="#00f7ff" d="M1.8 -60.5L3.5 -72.5L5.3 -62.2L5.3 -45.2L3.5 -52.7L1.8 -44z"/>
<path transform="matrix(1 0.4523 0 1 120.9 597.7)" d="M0 1l0 -13.9l1.8 -1.6l1.7 -0.1l1.8 -2.7l3.5 8.1l1.7 -0.9l1.8 -2.1l1.7 5.1l1.8 0.1l5.2 1.8l3.5 -1.1l1.8 1.4l1.7 -1.1l1.8 1l1.7 -0.7l3.5 0.4l1.8 1.6l1.7 -2l3.6 0.9l1.7 1.3l3.7 -2l3.6 1l3.7 -3.3l3.6 -1.2l7.3 4.9l3.7 0.7l3.6 -1.2l3.7 1.1l7.3 0.5l7.3 -1.9l3.6 -1.8l3.7 0.2l3.6 2.1l3.7 1.3l3.6 -0.2l7.3 1.5l11 -1l3.6 -0.8l18.3 1.6l14.6 0.4l3.6 -0.5l14.6 1.2V1z"/>
<path transform="matrix(1 0.4524 0 1 119.6 602.1)" d="M0 -3.1l0 -20.9l1.8 2.3l1.7 -5.6l1.8 -0.8l3.5 7.4l3.5 3.6l1.7 3.5l1.8 1.2l1.7 2.7l1.8 -3.4l1.7 -0.9l1.8 4.3l1.7 -0.7l1.8 -2.9l1.7 3.9l1.8 0.5l1.7 -3.9l1.8 0.1l1.7 1.2l1.8 0l1.7 1.1l1.8 0.3l1.8 0l1.7 -0.7l3.7 1.3l3.6 -0.5l3.7 -2.1l3.6 -3.7l3.7 3.8l3.6 1l3.7 3.9l3.6 -0.6l3.7 0.7l3.6 -0.7l3.7 -1.4l3.6 0.4l3.7 -1.4l3.6 -2.3l3.7 0.3l3.6 3.9l7.3 1.1l11 -0.1l3.6 -0.7l7.3 0.8l7.3 -0.8l3.7 0.9l10.9 0.4l3.7 0.5l7.3 -0.6l7.3 0.2l7.3 1.1l3.6 0.1V-3.1z"/>
<path transform="matrix(1 0.4524 0 1 118.4 603.3)" d="M0 -3.9l0 -20.6l3.5 -10.4l1.8 2l1.7 8.9l1.8 2.8l1.7 -0.2l1.8 0.8l3.5 7l1.7 0.9l3.5 -2.8l1.8 3.8l1.7 -1.7l1.8 -0.4l1.7 -2.2l1.8 3.4l1.7 -0.7l1.8 -1.6l1.7 2.3l1.8 -1.7l1.7 2.9l1.8 -2.7l1.8 2.6l1.7 -0.3l3.7 0.5l7.3 -3.5l3.6 0l7.3 1.8l3.7 2.1l7.3 -1.1l3.6 3.4l3.7 -0.7l3.6 -0.1l3.7 -1.8l3.6 0.2l3.7 -1l3.6 2.2l3.7 -0.1l3.6 1.4l3.7 -0.7l7.3 1.6l7.3 -1.1l7.3 -1.6l3.6 1.6l3.7 0.4l3.6 1.2l3.7 -0.7l3.6 0.3l3.7 -0.8l10.9 1.1l3.7 -0.5l3.6 1.2l7.3 0.5V-3.9z"/>
<path transform="matrix(1 0.4524 0 1 117.1 601.8)" d="M0 -2.1l0 -45.7l1.8 -19.6l1.7 1l1.8 11.2l1.7 -0.8l1.8 15.6l1.7 -5l1.8 8.1l1.7 11.9l1.8 -2.1l1.7 1.9l1.8 8.9l1.7 -6.5l1.8 9.8l1.7 -5.7l1.8 4.6l1.7 1.6l1.8 -5.7l1.7 2.7l3.5 -4.8l3.6 8.4l1.7 -3.1l1.8 -4.8l1.7 4.8l3.7 -0.4l3.6 1.4l3.7 -4.8l3.6 -3.1l3.7 5.9l7.3 4.9l3.6 -2.5l3.7 3.5l3.6 -4.3l3.7 1l3.6 1.6l3.7 -4.5l3.6 -1.8l3.7 0.6l3.6 5.7l3.7 3.2l3.6 -2l3.7 3.2l7.3 -0.7l3.6 0.7l3.7 -0.1l3.6 -1.1l3.7 -0.4l3.6 1.9l3.7 0.9l3.6 -2.2l3.7 2.2l3.6 -0.9l3.7 1.7l3.6 -0.6l3.7 0.3l3.6 -1.1l7.3 1.7l7.3 0.9V-2.1z"/>
<path transform="matrix(1 0.4524 0 1 117.1 601.8)" fill="#00bbff" d="M0 -47.8L1.8 -67.4L3.5 -66.4L3.5 -39.4L1.8 -40L0 -28.9z"/>
<path transform="matrix(1 0.4524 0 1 115.9 600.1)" d="M0 -0.1l0 -13.3l1.8 -4.5l1.7 -0.7l1.8 0.6l1.7 -1.3l1.8 2.7l1.7 1.4l1.8 4.1l1.7 2.9l1.8 -0.2l1.7 -1.4l1.8 1l1.7 1.7l1.8 -1.5l3.5 1.2l1.7 -0.3l1.8 2.2l1.7 -1.2l1.8 0.3l1.7 -1l5.3 -0.6l1.8 0.7l1.7 -0.7l3.7 1.4l3.6 -0.4l7.3 -5l11 7.7l3.6 -0.5l11 0.6l7.3 -0.8l7.3 -0.1l3.6 0.6l7.3 0.2l3.7 0.7l3.6 -0.6l3.7 0.6l3.6 -0.8l3.7 0.5l7.3 -1.3l3.6 0.4l3.7 1.3l18.2 0l7.3 0.6l3.7 -0.2l10.9 1V-0.1z"/>
<path transform="matrix(1 0.4525 0 1 114.6 600.2)" d="M0 0.1l0 -16.5l1.8 -2.9l1.7 -4.7l1.8 2.4l1.7 1.2l1.8 5l1.7 0.7l1.8 -1.2l1.7 3.7l1.8 2.3l1.7 -1.5l1.8 3.6l3.5 -1.7l1.7 1.2l1.8 -2.1l1.7 2.3l1.8 0.6l1.7 -1.3l1.8 0.4l1.7 2.2l5.3 -0.8l1.8 0.5l1.7 -0.9l3.7 1.3l3.6 0.1l7.3 -2.5l7.3 3.5l3.7 -0.1l3.6 -1.6l3.7 2.2l3.6 0.1l3.7 -1.5l3.6 1.5l3.7 -1.1l3.6 -2.8l3.7 0.9l3.6 2l7.3 1.3l7.3 0.6l11 -0.8l3.6 -1.6l3.7 -0.1l3.6 1.8l11 1.5l21.9 -0.5l3.6 0.7l7.3 0.7V0.1z"/>
<path transform="matrix(1 0.4525 0 1 113.4 597.2)" d="M0 3.5l0 -24.4l1.8 -2l1.7 -7.1l1.8 4.1l1.7 7.3l1.8 -0.3l1.7 8l1.8 -1.7l1.7 4.6l1.8 -2.1l1.7 5.3l3.5 -4l1.8 0.3l1.7 3.5l1.8 -2.7l1.7 1.9l1.8 0.2l1.7 1.3l1.8 0.3l1.7 -0.9l1.8 2.7l1.8 -1.2l1.7 1l1.8 -1.4l1.7 1.9l3.7 -0.9l3.6 -2.1l3.7 1.3l3.6 -1.2l3.7 0l3.6 1.7l3.7 -0.4l3.6 1.9l3.7 -1.6l3.6 3l3.7 -0.6l3.6 0.2l3.7 -1.8l3.6 -2.4l3.7 0.8l7.3 3.4l3.6 -0.8l14.6 1.7l3.7 -1l3.6 -1.8l11 2.6l3.6 0.4l3.7 -0.8l3.6 0.8l3.7 0.1l3.6 -0.6l7.3 1l7.3 -0.1l7.3 0.6V3.5z"/>
<path transform="matrix(1 0.4525 0 1 112.1 598.5)" d="M0 2.5l0 -60.5l3.5 -36.9l1.8 3.9l3.5 28.6l1.7 5.2l1.8 22.7l1.7 0.9l1.8 4.2l1.7 0.4l1.8 15.3l1.7 -10.1l1.8 -2l1.7 3l1.8 11.5l1.7 -21.3l1.8 10.3l1.7 6.3l1.8 1.7l1.7 -4.2l1.8 -12.9l1.8 0.9l1.7 10l1.8 -9l1.7 1.4l3.7 12.9l3.6 -3.7l3.7 5.8l3.6 -9.6l3.7 -0.3l3.6 13l3.7 -4.4l3.6 -2.9l3.7 8.4l3.6 -7.2l3.7 9l3.6 -3.3l3.7 -4.2l3.6 -3.1l3.7 4.6l3.6 -1.9l3.7 5.5l3.6 3.9l3.7 0.4l3.6 -4.2l3.7 6l3.6 -2.1l7.3 0.8l3.7 -3.1l3.6 3.4l3.7 -2l3.6 2.5l3.7 1.4l3.6 -1.1l3.7 1.1l3.6 -0.2l3.7 -1.7l7.3 3l3.6 -0.2l7.4 1.4V2.5z"/>
<path transform="matrix(1 0.4525 0 1 112.1 598.5)" fill="#25ffda" d="M1.8 -77.7L3.5 -94.9L5.3 -91L5.3 -73.6L3.5 -76.7L1.8 -62.8z"/>
<path transform="matrix(1 0.4525 0 1 110.9 599.4)" d="M0 1.9l0 -15l1.8 -6l1.7 -3l1.8 6.1l1.7 0l1.8 2.4l1.7 4.2l1.8 -0.4l1.7 2.6l1.8 1.6l1.7 -0.4l1.8 -2.1l1.7 3.5l1.8 -3.1l3.5 1.4l1.7 2.7l3.5 -1.5l1.8 0l3.5 2l1.8 -0.7l1.7 -1.3l7.2 1.4l3.6 -0.9l3.7 0.1l3.6 -0.5l3.7 1.5l3.6 -0.3l3.7 0.8l3.6 0l3.7 1.6l3.6 -0.5l3.7 0.3l3.6 -0.7l3.7 -0.1l3.6 -1.1l3.7 0l3.6 0.7l3.7 1.8l10.9 -0.8l3.7 0.8l3.6 -0.2l3.7 -0.4l3.6 -1.3l3.7 -0.2l7.3 1.6l3.6 0l3.7 1l11 -0.4l3.6 0.4l7.3 -0.3l11 0.8V1.9z"/>
<path transform="matrix(1 0.4526 0 1 109.7 601.2)" d="M0 0.5l0 -11.6l1.8 -2.2l1.7 -5.3l1.8 1.9l3.5 5.6l1.7 -0.3l1.8 1.9l1.7 -1.4l1.8 3.4l1.7 -1.3l1.8 2.7l1.7 -0.8l1.8 1.4l1.7 -1l3.5 1.2l1.8 -1.3l1.7 1.3l1.8 -0.5l1.8 1.3l1.7 -1.1l1.8 -0.4l1.7 1l1.8 -1l1.7 1.6l3.7 -0.4l3.6 0.8l3.7 -1.2l3.6 -0.3l3.7 1.8l3.6 -0.8l3.7 -0.2l10.9 1.1l3.7 -0.1l7.3 -1.1l3.6 0.9l3.7 -0.2l3.6 0.8l7.3 0.5l14.6 -0.1l7.3 -0.9l18.3 1.6l14.6 -0.3l11 0.3l7.3 0.7V0.5z"/>
<path transform="matrix(1 0.4526 0 1 108.4 601.3)" d="M0 0.7l0 -23.7l1.8 -6.1l1.7 -0.1l1.8 0.5l3.5 9.8l1.7 2.6l1.8 1.4l1.7 0.6l1.8 4.4l1.7 0l1.8 -1.3l1.7 0l3.5 4.2l1.8 0.1l1.7 -6.7l3.5 1.7l1.8 4.4l1.8 1.5l1.7 -1.1l1.8 1.2l1.7 -1.4l1.8 -0.2l1.7 -3.4l7.3 4.1l7.3 -7.9l7.3 8.6l3.7 1.8l3.6 -2.5l3.7 -0.5l3.6 3.6l7.3 -2l3.7 0.5l7.3 -1.3l3.6 2.1l3.7 0.6l3.6 -0.5l3.7 0.7l3.6 -0.5l3.7 0.9l3.6 0.1l7.3 -2.5l3.7 -0.1l3.7 0.5l3.6 2.3l3.7 0.5l3.6 -0.9l3.7 -0.3l3.6 0.9l3.7 -0.3l14.6 0.7l7.3 1V0.7z"/>
<path transform="matrix(1 0.4526 0 1 107.2 603.5)" d="M0 -1.2l0 -15.8l3.5 -3.8l1.8 0.6l1.7 1.7l1.8 4.7l1.7 0.1l3.5 4.7l1.8 -1l1.7 1.8l3.5 -1.8l1.8 0.5l3.5 2l3.5 -0.8l5.3 2l1.7 -2l1.8 1.5l3.5 -0.1l1.7 -1.4l3.7 1.2l3.6 -0.6l3.7 -3.4l3.6 -4.6l3.7 5.3l3.6 3.8l7.3 0.9l3.7 -0.5l3.6 0.7l3.7 -0.6l3.6 0.6l7.3 -1.8l7.3 1.6l3.7 0l7.3 0.9l3.6 -0.4l11 0.3l3.7 -1.2l3.6 -0.5l7.3 2l21.9 0.2l3.7 0.5l7.3 -0.1l7.3 0.8V-1.2z"/>
<path transform="matrix(1 0.4526 0 1 105.9 605.2)" d="M0 -2.5l0 -13.1l1.8 0.5l1.7 -1.3l1.8 0.8l1.7 -1.5l1.8 0.5l1.7 3.4l1.8 2.1l3.5 -0.9l1.7 2.2l3.5 1.4l1.8 -0.2l1.7 0.4l3.5 -1.7l3.5 1.5l3.6 0.2l1.7 -0.8l1.8 0l1.7 0.9l7.2 1l7.3 -3l3.6 -2l7.3 4.2l3.7 1.4l3.6 -0.8l11 0.5l7.3 -1.4l3.6 -3.7l11 6.1l11 -0.7l7.3 0.4l3.6 -0.6l3.7 -1.8l3.6 -0.3l7.3 2.5l7.3 0.9l3.7 -0.4l3.6 0.4l3.7 -0.4l7.3 0.6l3.6 -0.3l11 1.1V-2.5z"/>
<path transform="matrix(1 0.4527 0 1 104.7 605.1)" d="M0 -2.1l0 -13l1.8 -1.1l1.7 -2.8l1.8 2.4l1.7 1.5l3.5 3.9l1.8 -2.1l1.7 1.8l3.5 0.4l1.8 0.9l1.7 2l1.8 -0.4l1.7 -1.9l1.8 0.6l1.7 1.4l1.8 0.1l5.3 -2.3l1.7 2.8l1.8 -1.4l1.7 -0.2l1.8 0.7l5.4 -0.4l3.6 0.8l3.7 -3.1l3.6 -4.1l3.7 3l3.6 4.8l3.7 -0.4l3.6 1.9l3.7 -0.4l3.6 -1.1l3.7 -0.1l3.6 1.5l3.7 -0.6l3.6 -1.2l7.3 1l3.7 1.2l7.3 -0.4l7.3 1.2l3.7 -0.4l3.6 -1.6l3.7 -1l3.6 0.2l7.3 2.2l3.7 -0.1l3.6 0.8l11 -0.4l3.6 0.7l3.7 -0.4l14.6 1.1V-2.1z"/>
<path transform="matrix(1 0.4527 0 1 103.4 606)" d="M0 -2.7l0 -14.5l1.8 -1.5l1.7 -3.5l1.8 0.6l1.7 3.8l1.8 -2.7l1.7 4.9l1.8 3.3l1.7 -4l1.8 3l1.7 0.8l3.5 0.7l1.8 0.9l3.5 -1.5l1.7 2.1l1.8 0.6l3.5 -0.6l1.8 -2.1l3.5 2.7l3.5 -0.7l1.7 1.2l7.3 0.7l3.7 -1l7.3 0.3l7.3 -0.8l7.3 2.1l3.6 -0.2l3.7 0.4l3.6 -0.5l3.7 0.6l3.6 -2.7l7.3 2.6l7.4 0.2l3.6 1.1l3.7 -0.5l7.3 0.5l3.6 -1.3l7.3 -0.7l3.7 0.5l3.6 1.3l11 0.3l3.6 0.6l14.6 -0.4l3.7 0.9l3.6 0l3.7 0.5V-2.7z"/>
<path transform="matrix(1 0.4527 0 1 102.2 605.8)" d="M0 -2.1l0 -49.9l3.5 -27.6l1.8 6.5l1.7 10.3l1.8 7.6l1.7 15.7l1.8 -2.1l1.7 -0.6l1.8 11.9l1.7 -5.1l3.5 9.2l1.8 10.9l3.5 -7.8l1.7 0.5l1.8 7.3l1.8 -0.4l1.7 -10.7l3.5 13.8l1.8 -6.5l1.7 3l1.8 -0.2l1.7 -0.9l3.7 4.8l3.6 -7.2l3.7 -1.7l7.3 4.3l3.6 0.6l3.7 4.1l3.6 0.4l11 -4l3.6 5.5l3.7 -4.5l3.6 -2.9l3.7 0.4l3.7 2.8l3.6 4.2l3.7 -2l3.6 2.8l3.7 1.6l3.6 0.6l3.7 0.1l3.6 -1.6l3.7 0.8l3.6 -3.1l3.7 1l3.6 3.5l3.7 -2.4l3.6 1.5l7.3 1.3l3.7 -0.6l3.6 0.5l3.7 -0.2l10.9 1.8l3.7 0.1V-2.1z"/>
<path transform="matrix(1 0.4527 0 1 102.2 605.8)" fill="#04fffb" d="M1.8 -64L3.5 -79.6L5.3 -73.1L5.3 -37.7L3.5 -40.9L1.8 -33.2z"/>
<path transform="matrix(1 0.4527 0 1 100.9 608.2)" d="M0 -4.2l0 -16.1l1.8 -3.4l1.7 -2.1l1.8 4.5l1.7 -2l3.5 5.1l1.8 -1.1l1.7 6.1l3.5 -3l1.8 1.2l1.7 3.8l3.5 -4l1.8 4.5l5.3 -0.4l1.7 -3l1.8 4.1l1.7 -2.9l1.8 -0.8l3.5 2.1l1.7 1.7l3.7 -1.1l3.6 0.5l3.7 -1.1l3.6 0.7l3.7 1.5l3.6 -1l3.7 0.8l7.3 -0.6l7.3 0.7l3.6 -0.8l3.7 0.4l3.7 -2.7l3.6 -0.4l3.7 2.7l3.6 1.6l3.7 -0.3l3.6 0.5l3.7 -0.1l3.6 0.7l3.7 -0.1l7.3 -2.3l3.6 0.1l3.7 1.1l3.6 0.6l7.3 0.2l3.7 0.7l3.6 -0.1l7.3 0.6l3.7 -0.8l3.6 0.6l11 0.9V-4.2z"/>
<path transform="matrix(1 0.4528 0 1 99.7 608.5)" d="M0 -4.2l0 -25.5l3.5 -1.7l1.8 0.5l1.7 4.5l1.8 2.6l1.7 -0.5l3.5 8.3l3.5 -3.6l1.8 4.7l1.7 0.9l1.8 1.8l1.7 -4.5l3.5 5.1l1.8 -6.1l1.8 3.7l1.7 -1.3l1.8 1l3.5 4.6l3.5 -4.3l1.7 2l3.7 -0.3l7.3 1l7.3 -1l3.6 2.1l3.7 -0.5l10.9 -0.2l3.7 0.2l3.7 1.4l3.6 -0.3l3.7 -3.1l3.6 2.4l3.7 1.2l14.6 0.3l7.3 0.6l10.9 -2.7l3.7 0.3l3.6 2.5l3.7 -0.2l10.9 0.8l3.7 -0.5l7.3 0.8l3.6 -0.2l3.7 0.6l7.3 0.4V-4.2z"/>
<path transform="matrix(1 0.4528 0 1 98.5 607.7)" d="M0 -3l0 -54.1l1.8 -8.8l1.7 -11.8l1.8 -5.8l1.7 25.5l1.8 4.4l1.7 12.9l1.8 4.7l1.7 3.3l1.8 0.8l1.7 8.3l1.8 -2l1.7 4.6l1.8 -11.2l1.7 10.4l1.8 -8.5l1.7 14.7l1.8 -7.8l1.8 3.7l1.7 2.6l1.8 -3.9l1.7 2.7l1.8 1.4l1.7 0l1.8 2.5l1.7 -5.3l3.7 -1.9l3.6 5.4l7.3 -18.2l3.7 10l3.6 5.7l3.7 1.7l3.6 0.7l7.3 2.8l3.7 -1.1l3.7 0l3.6 -0.8l3.7 -7.5l3.6 3.4l3.7 6.1l3.6 0.8l3.7 2.8l3.6 -0.4l3.7 -1.2l3.6 0l3.7 3.6l3.6 -3l3.7 3.2l7.3 -1.7l3.6 -0.4l3.7 1.5l3.6 0.5l3.7 0.2l7.3 -1.3l7.3 1.2l3.7 -0.5l10.9 2.7V-3z"/>
<path transform="matrix(1 0.4528 0 1 97.2 607.7)" d="M0 -2.7l0 -20.3l1.8 1.9l1.7 -4.3l1.8 1.1l1.7 5l1.8 -2.3l1.7 4.4l1.8 -0.9l1.7 2.3l1.8 3.9l1.7 -3.5l1.8 2.7l1.7 -0.9l3.5 2.9l1.8 -2.3l1.7 3.5l1.8 0l1.8 -3.6l1.7 1.9l3.5 1.5l1.8 -0.6l1.7 0.3l1.8 2l1.7 -3.5l3.7 -0.2l3.6 1.6l3.7 -1.4l3.6 -2.6l7.3 5.5l3.7 -0.1l3.6 -1l3.7 2.2l3.7 1l3.6 -1.4l3.7 0.1l3.6 -0.4l3.7 -1l3.6 0.1l3.7 1.9l3.6 1l3.7 -1.2l3.6 1l3.7 -0.5l7.3 0.7l7.3 -3.4l3.6 0l7.3 2.7l3.7 0.3l3.6 0.9l3.7 0.1l3.6 -0.6l7.4 0.9l3.6 -0.4l14.6 0.9V-2.7z"/>
<path transform="matrix(1 0.4528 0 1 96 604.7)" d="M0 0.6l0 -14.3l1.8 -2.6l3.5 -2.7l1.7 4l5.3 5.2l1.7 0.9l1.8 -1l1.7 2.4l3.5 2.5l1.8 -1.2l1.7 1.4l1.8 -1.6l1.8 0.1l1.7 0.6l1.8 1.7l1.7 -1.1l1.8 0.3l1.7 -1.1l5.3 1.2l1.7 -0.2l3.7 1l3.6 -1.9l3.7 -2.8l3.6 -0.2l7.3 4.1l3.7 0.2l3.6 1.7l3.7 -0.5l3.7 -1.3l7.3 1.3l3.6 -0.5l3.7 -2.1l3.6 -0.3l7.3 3.1l3.7 0.3l3.6 0.1l7.3 -0.6l3.7 0.6l7.3 -1l10.9 1.2l7.3 0.2l3.7 -0.3l3.7 0.7l3.6 -0.5l21.9 1V0.6z"/>
<path transform="matrix(1 0.4529 0 1 94.7 606.2)" d="M0 -0.5l0 -11l1.8 -4.7l1.7 -1.5l1.8 2.2l1.7 0.6l3.5 6.8l1.8 -0.3l3.5 1.1l1.7 -0.1l1.8 1l1.7 -2.8l1.8 3.2l1.7 -2.3l1.8 2.3l3.5 -1l1.8 1l1.7 0.5l1.8 -2.5l1.7 2.6l5.3 -0.6l1.7 0.8l3.7 -1.1l3.6 0.4l3.7 -2.7l3.6 -4.3l3.7 3.6l3.6 4.3l3.7 0.3l7.3 0.4l3.7 -0.7l3.6 0.9l7.3 -0.8l3.7 0.6l3.6 -0.7l11 1.4l3.6 0.2l3.7 -0.6l3.6 0.6l3.7 -0.9l10.9 -1.6l7.3 1.9l7.4 0.8l10.9 -0.2l3.7 0.3l3.6 -0.3l14.6 0.9V-0.5z"/>
<path transform="matrix(1 0.4529 0 1 93.5 604.3)" d="M0 1.7l0 -11.3l3.5 -4.2l1.8 2.1l1.7 -0.1l1.8 1.3l1.7 2.8l1.8 1.1l1.7 -0.4l1.8 1.3l1.7 -0.2l1.8 0.8l3.5 0l1.7 1.9l1.8 -2.6l1.8 0.4l1.7 1.4l1.8 0.7l1.7 -0.5l3.5 1.1l1.8 0.1l1.7 -1.7l1.8 -0.3l1.7 2.3l3.7 -1.7l3.6 0.9l3.7 0.4l3.6 0l3.7 -0.9l3.6 -0.1l11 2l7.3 -0.1l3.7 -1l3.6 0.5l3.7 -1.4l3.6 0.1l3.7 1.3l7.3 0.9l7.3 -0.1l7.3 0.4l7.3 -0.5l14.6 0.9l3.7 0l3.6 -0.6l3.7 0.5l3.6 -0.5l3.7 0.4l10.9 0.1l7.3 0.6V1.7z"/>
<path transform="matrix(1 0.4529 0 1 92.2 605.2)" d="M0 1.1l0 -17l3.5 -6.7l1.8 4.2l1.7 0.1l1.8 4.2l1.7 2.4l1.8 -0.8l1.7 4.8l1.8 1.2l1.7 -0.1l1.8 -2.9l1.7 2.1l1.8 1l1.7 -0.2l1.8 -1.6l3.5 0.9l1.8 0.9l1.7 -0.6l1.8 2.2l1.7 0.5l1.8 -2.2l1.7 0.7l1.8 2.2l1.7 -1.7l3.7 1l7.3 -0.9l3.6 -2.9l3.7 1.8l3.6 2.5l3.7 -0.4l3.7 1.1l3.6 -0.5l3.7 0.6l3.6 -1.5l3.7 1.1l7.3 -3.1l10.9 3.9l7.3 0.3l7.3 -0.5l7.3 0.3l7.4 -0.6l3.6 0.3l3.7 1.1l3.6 -0.4l11 0.2l3.6 0.4l3.7 -0.2l18.2 0.9V1.1z"/>
<path transform="matrix(1 0.4529 0 1 91 604.9)" d="M0 1.8l0 -15.9l1.8 -2.5l1.7 -0.3l1.8 -2.7l1.7 6.4l1.8 2.7l1.7 -0.5l1.8 2.1l1.7 -0.9l5.3 5.1l1.7 0.1l1.8 -2.4l1.7 -0.9l1.8 2.4l1.8 0.8l1.7 -0.4l1.8 -1l1.7 2.6l1.8 -3.1l1.7 2.4l1.8 0.1l1.7 -1.2l1.8 1.7l1.7 -1.6l3.7 2.4l3.6 -0.7l3.7 -3.5l3.6 -1.3l3.7 3.5l3.7 1.9l3.6 0.2l3.7 -0.4l3.6 1.8l3.7 -0.8l7.3 0.3l3.6 -0.8l3.7 -1.5l3.6 -0.2l3.7 1.7l7.3 1.1l3.6 -1l3.7 0.9l7.3 0.1l3.6 -0.4l3.7 -1.8l3.7 0.2l7.3 1.8l7.3 1l3.6 -0.6l7.3 0.1l7.3 0.6l3.7 -0.3l10.9 0.8V1.8z"/>
<path transform="matrix(1 0.4530 0 1 89.7 607.2)" d="M0 -0.2l0 -38.9l1.8 -5.2l1.7 -17.3l1.8 13.9l3.5 14.9l1.7 3.8l1.8 1.6l1.7 -0.4l3.5 4.7l3.5 8.3l1.8 -3.1l1.7 4.9l1.8 -6.4l3.5 9.3l1.8 -3.1l1.7 5.5l1.8 -2.2l1.7 -5l1.8 1.9l1.7 4.3l1.8 -0.2l1.7 -5.8l3.7 5.5l3.6 -0.1l3.7 -2.2l3.6 3.3l3.7 -2.6l3.7 3.9l3.6 0.2l3.7 -0.8l7.3 0.1l3.6 1.7l3.7 -3.5l3.6 1.1l3.7 1.9l3.6 -3.9l3.7 4.5l3.6 -0.6l3.7 3l3.6 -1.2l3.7 1l3.6 -0.3l7.4 -2.3l3.6 -0.6l3.7 -1.3l3.6 0.9l3.7 2.7l3.6 -0.9l3.7 1.5l7.3 -1l3.6 1.7l11 -1.3l7.3 1.9l3.6 0.2V-0.2z"/>
<path transform="matrix(1 0.4530 0 1 89.7 607.2)" fill="#00c4ff" d="M1.8 -44.3L3.5 -61.6L5.3 -47.7L5.3 -24.3L3.5 -31.1L1.8 -22.6z"/>
<path transform="matrix(1 0.4530 0 1 88.5 604.9)" d="M0 2.4l0 -13.8l1.8 -3.2l1.7 -0.6l1.8 -3.3l1.7 5.7l1.8 0.4l1.7 5.5l3.5 0.5l1.8 2.5l1.7 -1l1.8 0.7l1.7 -0.5l1.8 -1.2l1.7 1.9l1.8 0.2l1.8 -1.4l1.7 1.5l1.8 -1.8l1.7 0.3l3.5 3.5l1.8 -1.7l1.7 1.5l1.8 -1.3l5.4 1.5l7.3 -0.9l11 0.3l3.6 1.4l3.7 -0.9l7.3 -0.1l3.6 0.8l3.7 -0.7l3.6 0.5l3.7 -2.4l10.9 2.8l11 -0.3l14.6 0.7l18.3 0l7.3 0.5l3.6 -0.3l7.3 0.4l3.7 -0.2l11 0.7V2.4z"/>
<path transform="matrix(1 0.4530 0 1 87.3 604.5)" d="M0 3.1l0 -9.4l1.8 -1.6l1.7 -0.8l1.8 1.2l1.7 0.2l1.8 2.3l3.5 1.9l1.7 -0.5l1.8 1.9l5.2 -1l1.8 1.2l1.7 -1.1l1.8 -0.2l1.8 0.9l1.7 0.4l5.3 -0.3l1.7 1.2l1.8 -0.7l1.7 0.4l3.5 -0.3l3.7 0.6l3.6 -0.5l3.7 -3.1l3.7 -4.3l3.6 3l3.7 4.6l3.6 0.9l11 0l3.6 -0.4l3.7 0.2l3.6 -0.8l3.7 -2.2l3.6 0.1l3.7 2.4l3.6 1l3.7 -0.4l14.6 0.4l7.3 -2.4l3.7 -0.8l7.3 2.6l3.6 0.6l11 0.6l10.9 -0.2l14.7 0.5V3.1z"/>
<path transform="matrix(1 0.4530 0 1 86 607.2)" d="M0 0.8l0 -12.1l1.8 -3.4l1.7 -4.6l1.8 1.6l1.7 2.4l1.8 3.9l1.7 1.2l1.8 3l1.7 -3l1.8 4.6l1.7 -2.4l1.8 4l1.7 -1.6l1.8 1.3l1.7 -1.1l1.8 1.4l1.8 -1.6l1.7 0.9l1.8 0l1.7 -0.7l1.8 0.3l1.7 -1l1.8 0.7l1.7 -1l1.8 1l1.7 1.8l3.7 -0.2l3.6 -1.7l3.7 0.2l3.7 -0.4l3.6 0.2l3.7 2.3l3.6 -0.4l11 0.5l7.3 -0.5l3.6 0.5l3.7 -0.9l3.6 -0.3l11 2.2l3.7 -0.4l3.6 0.6l7.3 -0.2l3.7 -0.5l7.3 -1.8l3.6 1.2l7.3 1.4l21.9 0l14.7 0.7V0.8z"/>
<path transform="matrix(1 0.4531 0 1 84.8 609.7)" d="M0 -1.4l0 -17.8l1.8 -2.9l1.7 -1.5l1.8 -0.5l1.7 3.5l1.8 5.7l1.7 1l5.3 4.9l1.7 -0.4l1.8 -2.5l1.7 4l3.6 -3.4l1.7 3.3l1.8 1l3.5 -1.7l1.7 0.5l1.8 1.1l1.7 -0.6l1.8 -2.2l1.7 2.1l1.8 -1.3l5.4 1.1l3.6 -0.8l3.7 0.7l3.7 -1l7.3 2.1l3.6 -0.2l3.7 1l7.3 0.6l7.3 -0.7l7.3 -3.2l3.6 0.9l7.3 3.3l3.7 0.3l3.7 -0.4l10.9 0.8l7.3 -1.8l3.7 -0.5l7.3 1.9l10.9 0.6l14.7 -0.2l14.6 1.2V-1.4z"/>
<path transform="matrix(1 0.4531 0 1 83.5 612)" d="M0 -3.4l0 -15.8l1.8 -3.5l1.7 -0.3l1.8 -4.8l3.5 9.1l1.7 2.5l1.8 1.6l3.5 0.7l1.7 -0.2l3.5 0.6l1.8 0.9l1.8 -0.3l1.7 -1.4l1.8 3.9l1.7 -0.7l1.8 1.4l1.7 -2.5l1.8 1.6l1.7 -2.7l1.8 3.1l1.7 1.5l1.8 -4.5l1.7 3.1l3.7 -1.1l3.6 0.4l7.4 -4.5l3.6 1.7l3.7 4.6l3.6 -0.7l11 1.4l10.9 -1l7.3 -0.1l3.7 0.6l3.7 1.2l3.6 -1.1l7.3 1.6l3.7 -0.3l3.6 0.3l7.3 -0.5l3.7 0.4l7.3 -0.5l14.6 0.7l3.7 0.9l3.6 -1.2l3.7 0.8l3.6 0l11 1.1V-3.4z"/>
<path transform="matrix(1 0.4531 0 1 82.3 613.4)" d="M0 -4.4l0 -48.7l1.8 -13.4l1.7 -28.6l1.8 8.7l1.7 25.6l1.8 7.9l1.7 3.4l1.8 6.8l1.7 12l1.8 2.9l1.7 -4.7l3.5 16.4l3.6 -7.6l1.7 -9.4l1.8 5l1.7 7.3l1.8 -9.1l1.7 13.1l1.8 -7.1l3.5 2l1.7 -5l1.8 4.3l5.4 7.9l3.7 -3.1l3.6 -11l3.7 0.1l7.3 16.7l3.6 0.5l3.7 -8.2l3.6 6.8l3.7 0.1l3.6 1.3l3.7 -1.1l3.6 0l3.7 -1.6l3.6 -0.4l3.7 -1.7l3.7 5.4l3.6 -0.1l3.7 -0.9l3.6 2.9l3.7 -2.8l3.6 1.8l3.7 -2.7l3.6 0.2l3.7 -1l3.6 2.5l3.7 0.2l3.6 1.6l3.7 0.5l3.7 -2.4l3.6 0.4l3.7 1.9l3.6 -1.2l3.7 1.4l3.6 -0.1l11 1.6V-4.4z"/>
<path transform="matrix(1 0.4531 0 1 81 610.8)" d="M0 -1.5l0 -16.2l1.8 -4.7l1.7 -2.7l1.8 5.2l1.7 0.4l1.8 4.5l1.7 0.5l1.8 -1.9l1.7 4.1l1.8 1.1l1.7 3.2l1.8 -2.3l1.7 0.2l1.8 1.1l1.8 -1.9l1.7 2.6l1.8 -0.2l1.7 0.7l1.8 -1.6l1.7 0.9l1.8 2l3.5 -2l1.7 1.1l1.8 -1.7l1.7 1.9l3.7 -1l7.3 -3.1l3.7 -0.5l3.6 2.2l3.7 3.7l3.6 -1.5l3.7 1.2l3.6 0.1l3.7 -1.3l3.6 1.8l3.7 -0.1l7.3 -2.9l3.6 0.3l7.4 2.2l10.9 1.3l3.7 -0.6l3.6 0.3l7.3 -1.3l7.3 -0.1l3.7 1.2l3.6 -0.2l7.4 0.8l3.6 -0.6l7.3 0.6l3.7 -0.3l14.6 1.4V-1.5z"/>
<path transform="matrix(1 0.4532 0 1 79.8 609.2)" d="M0 0.4l0 -11.3l1.8 -0.5l1.7 -2.8l1.8 0.6l1.7 -0.1l3.5 5.1l1.8 -0.8l1.7 0l1.8 2.4l1.7 1.1l1.8 -2.1l1.7 2.7l1.8 0.1l1.8 -0.5l1.7 1.3l1.8 -1.1l1.7 -0.4l1.8 0.7l1.7 -0.2l1.8 1.2l5.2 -2.5l1.8 2.1l1.7 0.5l7.4 -1.2l3.6 0l3.7 0.8l3.6 -0.1l7.3 0.6l3.7 -0.7l3.6 1.6l3.7 -0.4l3.6 0.4l3.7 -0.8l11 -0.5l3.6 1l3.7 0.2l21.9 0.5l3.6 -0.4l3.7 0.7l7.3 -0.7l3.7 0.5l10.9 0l3.7 0.5l7.3 -0.7l14.6 1.3V0.4z"/>
<path transform="matrix(1 0.4532 0 1 78.5 609.4)" d="M0 0.6l0 -15l1.8 -1.1l1.7 -3.3l1.8 2.6l3.5 3l1.7 -0.9l3.5 5.9l5.3 -0.7l1.7 2.2l1.8 1l1.8 -1.2l1.7 1.7l1.8 -2.1l3.5 1.9l1.7 -1.7l1.8 -1l1.7 3.9l1.8 -2.7l1.7 2.3l7.2 -1.5l3.7 -0.2l3.6 -4l3.7 -2.5l3.6 3.6l3.7 4.3l3.6 0.6l11 -0.2l3.6 1.2l3.7 -0.5l3.6 -2l3.7 -2.6l3.7 0.3l7.3 4.5l3.6 -0.4l14.6 1.5l7.3 -1.3l3.7 0.5l3.6 -0.4l7.4 1.5l3.6 -0.8l3.7 0.8l3.6 -0.3l3.7 0.4l3.6 -0.5l3.7 0.8l3.6 -0.3l3.7 0.5l7.3 0.2V0.6z"/>
<path transform="matrix(1 0.4532 0 1 77.3 609.9)" d="M0 0.4l0 -17.5l3.5 -6.3l1.8 1.5l3.5 8.4l1.7 0l1.8 3.6l3.5 2.8l1.7 -1.1l1.8 0.8l1.7 0.1l3.6 -1.4l1.7 1.3l1.8 -1.9l3.5 3.4l1.7 -0.2l1.8 -2.5l1.7 1.5l3.5 1l1.8 0.9l9.1 -0.5l7.3 -7.4l7.3 6.7l3.6 1.6l3.7 0.6l3.6 -0.5l11 1.3l3.7 -3.1l3.6 -1.9l3.7 0l7.3 5.2l3.6 -0.9l3.7 0.8l3.6 -0.1l3.7 0.6l3.6 0.1l11 -2.6l7.3 2.1l3.7 0.6l3.6 -0.7l3.7 1l3.6 -0.4l7.3 0l3.7 0.5l3.6 -0.3l11 1V0.4z"/>
</g>
<path d="M150.9 611.7v1.4M158.4 613.2v1.4M163.3 617v1.8M170.2 620.4v1.9M344.5 621.4v1.7M351.4 624.5v2M353.7 624.8v2.3M357.3 625.7v2.3M361.1 629.1v2.5M362.7 632.3v2.3M365.4 632.2v1.5M369.4 633.5v1.9M162.9 621v1.9M167.4 620.9v1.7M169.5 622.5v1.4M170.7 621.6v2M174.1 624.2v1.8M176.4 626.6v1.6M338.3 558.4v2M340.1 557.6v1.7M338.9 558.8v2M339 562.8v1.3M341.4 563.6v1.7M340.7 563.1v1.5M344.7 562.5v2M343 561.1v1.5M343.4 566v1.2M344.1 562.2v1.6M345.3 565v2M153.2 622.1v2.4M152.4 620.8v1.9M153.5 620.9v1.3M155 622v2.3M155.2 624.2v1.9M156.3 624.5v1.3M158.3 623.7v2.3M157.1 625v1M158.3 625.3v1.3M159.8 622.2v2.1M159.1 622.4v1M237.4 641v1.4M237.8 640.2v0.9M237.4 641.4v1.4M239.5 641.5v1.2M243.2 640.8v1.6M240.4 643.5v1.3M245 644v1.3M243.9 644.8v1.8M244.8 645.1v0.9M248.9 645.2v1.4M249.2 645.3v2.2M164.4 584.6v2.1M167.2 587.1v1.5M167.7 588.2v1.8M171.2 587.2v1M172.8 588.5v1.8M175.8 588.2v2.3M176.8 590.5v2.3M180.2 592.9v1M181.1 593.6v2.4M182.7 593.6v2.3M186.3 593.4v1.2M147.5 594.7v1M150.4 595.9v1M154.5 597.6v1.8M156 597.2v2.4M156 598.3v2.5M161.3 602.1v1.8M163.3 600.8v1.6M163 603.8v1M168.9 604.8v2M168.2 603.9v1.5M141.7 596v1.2M141.8 597.6v1.9M144.3 598.6v1.1M147.5 598.8v1.6M150 601.9v2.5M152.1 602.5v2.1M153.6 604.9v1.3M255 624.5v2.4M261.2 625.5v2.1M264.9 630.6v2.2M267.7 631.7v1.6M271.1 630.4v1.8M275.1 631.7v1.7M271.8 602.2v2.5M273.9 604.6v2M271.7 602.9v1.3M276.5 606.3v2.3M279.7 608.7v1.6M280.7 607.9v2.4M282.1 607.1v2.4M284.4 612.2v2.1M287.6 608.5v1.2M288.5 611.6v2.4M290.6 614.4v1.2M235.6 567.6v1.3M235.4 568.2v2.4M238.1 567.9v1.3M237.8 568.8v1M236.5 573.2v2M237.7 569.3v1.7M239.2 571.4v1.1M239.9 569.9v1.6M240.8 569.8v1.1M242.1 572.3v1.5M243.7 572.7v1.4M174.4 594.9v1.6M176.7 597.3v1.2M178.7 599.3v1.6M181.5 598.8v0.9M183.7 600.2v1.6M184 600.1v1.7M187.4 602.7v1M189.9 603.3v1.3M191.1 604.3v2M194.2 604.2v1.1M326.4 555v1.4M336.6 558.6v2M341.4 561.3v1.3M345.8 563.4v2.1M160 618.5v1M163.7 620.1v1.2M165.7 624.4v2.4M169.3 624.8v1.1M173.4 625.9v2M176.5 627.1v1.3M177.5 627.1v1.2M257.8 579.3v2M263.1 580.2v0.9M266.6 581.1v1.8M270.4 585.2v1.5M275.4 585.2v2.2M182.9 608.3v2.1M183.1 608.1v2M184.6 609.3v1.4M186.9 611.6v1M187.2 612.1v2.1M192.4 613v1.8M192.9 612v1M339 614.8v2.2M345.4 616.7v2M343.5 619.9v1M348.4 619.5v2.2M351.5 621.9v2M356.8 623.4v1.8M359 624.5v1.3M361.9 626.8v2.2M345.3 584.7v1.8M348 588.2v1.3M350.4 587.8v1.8M352.9 588.5v1.8M354.4 590.2v1.7M355.9 590.7v1.2M359 591.4v2M361.4 593v0.9M363.5 593.7v1M363.4 596.6v1M187 615.5v1.6M190.2 616.8v2M190.5 618.4v2.3M192.5 617.8v1.2M194.2 619.2v2.4M193.9 618.6v2.1M195 618.9v1.6M196.7 621.7v2.2M274.4 567.7v1M272.9 569.6v2.4M278 572.2v1M278.1 570.9v1.6M279.4 571v2M261.7 623.2v1.3M264.9 622.4v1.3M268.1 623.1v1M269 624.3v1.6M271.1 627.5v1.7M273.5 627.1v1.5M277.6 628.4v2.2M277.1 628.7v2.2M283.3 630.8v1.5M281.4 632v1M232.5 634.3v2.3M233.5 633.7v1.2M233.3 632.5v2.1M234.5 634.2v1.3M235.5 633.9v1.2M237.3 635.1v2.3M238.1 637.7v1.8M239.9 636.9v2.4M242.2 636.2v1.1M242.5 638.1v1.6M242.9 637.6v1.9M133.9 614.6v2.2M137.3 616v1.2M139.1 616.3v1.1M139.5 618.6v2M146 618.5v1.1M145.7 621.7v1M149.5 623.4v1.6M151.1 625.1v2.3M153.1 623.4v1.3M340.9 577v1.4M342.6 580.2v2.1M343.4 578.6v0.9M345.2 577.4v1.7M345.4 578.7v1.8M345.6 578.9v1.6M346.5 579.6v2.2M348.9 580.9v1.7M351.9 583v2.2M351 583.2v1.3M353.1 583.9v1.8M352.2 586.3v2.2M229.8 612.9v1.4M232.2 615.1v2.1M233.3 614.2v2.3M235.5 613v1.5M236.7 615.9v2.3M311.1 624.6v1.9M312.8 624.6v1.2M313 625.1v1.5M316.2 626.2v1.6M318.8 627.8v2.5M320.4 629.2v1.3M323.1 629.8v1M322.7 630v2.4M414.9 603.2v1.4M413.8 605.5v1.4M417.4 604.4v0.9M419.9 603.8v1.2M419.2 605.3v1M422.1 604.8v1.7M425.2 607.4v1.3M424.3 606.7v2.3M425.9 608.2v0.9M429.4 607.2v1.3M308.1 556.9v1.2M314.1 560.2v2.2M317.6 562.8v1.9M321.1 565.1v2M328 565.6v1.2M222.9 602.6v1.1M223.2 600.8v2.4M224 603.3v1.4M227.9 603.7v1.4M227.1 604.7v2.1M227.1 604.7v2.2M229.2 603.8v1.5M230.4 603.9v1M230.2 605v2.2M234 607.1v1.6M233.2 608v1.6M276.2 632.2v2M276.1 634.6v1.4M280.1 633.2v1.9M282.3 635.5v1.7M281.4 636.2v2M286.1 637.8v2.1M288.2 638.9v1.8M291.1 638.4v1.1M230.4 584.1v1.8M236.6 581.3v1.7M237.1 582.9v1.1M240.8 586.7v1.7M242.2 587v1.8M246.1 590.1v1.8M248.2 589.1v1.2M249.9 588.7v1.4M224.8 657.5v1.5M230.7 657.2v1.6M238.1 660.3v2.1M240.9 661.7v1.2M300.4 579.4v1.8M302.7 580.3v1.5M305.2 581.9v2.2M304.1 580.6v1.8M306.7 580.6v1.8M307.8 583.3v1.3M307.9 585.1v1.8M311.8 585v1.5M313.3 584.7v1.3M314.9 587v2.1M316.6 586.4v2.2M283.9 635.8v2M285 636.2v1.8M287.1 635.3v2.5M288.5 636.7v2.4M289.2 639.5v1.9M291.8 640.4v2.2M292.6 640.3v2.4M216.1 589.7v2.4M218.6 590v1.7M221.9 590.3v2.4M223.2 588.9v2M225.4 592.2v1.9M227.3 594.2v1.6M229.7 594.7v1.5M228.5 593.5v1.1M233.6 592.3v1.1M222.6 612.2v1.2M225.5 616.3v1.1M232.2 616.4v2.4M236.8 616.8v2.4M238.4 621.4v1.3M241.2 623.4v1.5M164.7 631.8v1.3M169.2 631.5v1.1M172.4 632.6v1.6M173.1 635.6v1.5M176.7 635.9v2.3M177 638.6v1.6M312.9 603.3v2.2M315.7 603.4v2.1M319.8 606.5v1.7M318.3 608.1v1.5M321.7 606.8v1M321.1 608.5v1.8M326.3 608.4v2M325.8 608.6v1.9M329.4 609.6v2.3M256.9 568.2v1.5M262 569.7v1.8M265.9 574.1v1.8M269.6 576.3v1.7M269.4 576.2v2.2M302.2 616.4v1.4M303 617.4v1.2M306.8 616.7v2.1M306.4 617.3v1.6M307.4 622.8v0.9M309.3 620.5v1.9M309.2 619.2v1.2M312.5 622.8v1.2M313.8 623.9v1.6M314.3 620.1v1M316 621.1v2M318.1 625.1v1.4M157.3 621.3v1.8M155.8 624v1.1M158.4 624.3v1.3M161.2 622.1v1.4M160.6 624.7v2M162.9 623.7v2.2M164.4 626.4v2.5M165 625.9v1.8M165.7 628.9v1.4M168.8 629.2v1.3M169.5 626.2v2.4M171.3 629.7v0.9M266.6 588.8v1.1M266.1 589.4v1.8M269.8 589.3v1.3M267.9 591v1.1M269.8 590.6v1M271.7 589.5v1.4M274.1 589.6v2.1M274.5 590v1.8M275.8 592v1.8M275.5 591.3v1.4M215.4 597.5v2.4M219.6 597.2v1.5M221 598.1v1.6M225.2 598v1.9M223.5 599.7v1.2M227.2 601.9v2M230.5 601.5v2.4M233.4 603.7v1.5M234.6 606.2v0.9M235.3 604.7v2.3M232.2 604.4v1M233.3 605.8v1.7M232.9 603.6v1.5M235.6 605.5v1.4M235.9 607.2v1.9M238.5 607.1v2.4M237.2 606.9v1.9M239 608.8v2.5M223.7 609.4v2M223.4 609.7v1.6M226 611.5v2.5M227.6 611.1v2.3M229.1 611.8v2.4M228.4 612.2v1.3M230.2 613v2.1M231.3 616.3v1.1M233.5 612.4v1.9M232.2 614.6v1.9M236 616.9v1.2M236.2 615.9v1.3M222.9 652.4v2.3M224 655.8v1.3M224.2 657.1v1.7M225.8 657.8v0.9M230.8 655.7v2.4M231.1 657.9v2.4M232.3 657.8v2.3M234.4 658.4v1.3M238.8 662v1.3M238.8 660.4v1.5M240.9 661.3v1M241.5 663.9v1.4M260.6 561.3v1.3M263.2 562.6v2.2M263.5 559.7v2.4M267.5 560.1v2.2M266.9 562.1v1.9M269.8 564.5v1.5M290.8 610.3v1.4M290.1 612.8v2M292.8 611.4v2.3M292.8 613.4v2M294.5 614.8v1.8M296.2 613.8v2M295.9 612.9v1.9M298 611.8v2.4M298.3 613.1v2.1M300.3 615.3v2.2M299.5 616.2v1.6M303 613.8v2M235.3 648.2v0.9M237.5 647.8v0.9M243.5 653.7v2.4M245.4 652.5v1.5M250.3 657.5v1.7M254.8 659.1v1.7M213.6 601v1.9M212.4 604.9v1.5M214.6 602.9v2.3M219.3 601.4v1.7M221 606.4v2.3M222.9 605.6v2.2M221.9 603.2v1.8M221.2 609.7v2.3M186.4 618.6v2.1M187.3 618.9v1.2M188.2 623.8v1.4M190.9 620.2v2.3M193.5 623.4v2M197.2 624.1v1.2M196.2 624.9v1.9M200.7 623.6v1.8M200 625.6v1.2M202 628.3v1.9M208.2 625.6v1.6M291.3 629.2v2M291.3 629.9v1.8M292 628.1v1.8M294.1 627.8v2.3M294.3 630.3v1.4M295.8 628.6v1.6M296.4 631.1v2.1M294.7 629.6v1.3M297.1 628.6v0.9M299.9 630.7v2.1M298 630.8v1.4M300.7 631.4v2.2M289.2 562.1v1M294.3 566.9v1.7M297.7 570.2v1.4M304.9 573.3v1M306.4 571.5v1.4M310.6 576.2v1.7M140.6 596.7v1.8M146.4 600.8v1.4M150.3 600.9v2.2M157 603.1v1M373.6 593.4v2.4M374.6 598.2v2.2M378.2 596.9v2.5M381.4 596.4v2.3M382 601v1.8M288.7 595.6v1.3M289 597.8v1.3M291.8 595.5v2.1M289.8 598.6v2M293 595.7v2.3M294.3 598.7v2M294.9 598.4v2.3M294.7 598.2v1.1M293.6 598.2v1.9M297.9 599.1v2.1M297.2 600.4v1.6M296.4 567.8v2.4M301.3 564.7v1.7M302.1 568.3v1.5M300.4 566.5v1.7M301.6 567.6v1.1M307.1 568.3v1.5M308.6 569.7v1.2M310.1 570.7v1.2M310.2 572.3v1.4M264.5 640.3v1.3M266.9 638.9v2M268.6 642.2v2M270.5 641.4v2.4M266.3 571.6v2.1M267.1 570.6v2M268 572.4v1M268.5 571.7v1.6M268.7 574.5v1.4M270.2 572.6v1.3M271 574.7v1.6M272.7 573v1.7M273.4 574.9v2.2M274.4 573.4v1.9M274.7 572.7v1.5M274.6 574.1v1.1M379.8 581v2.3M378.9 582.1v2M381.5 578.5v1.1M381.5 579.4v2.5M383.3 583.4v1.1M384.9 581v1M385.7 584.9v2.1M388.7 581.9v2.2M388.7 583v2.4M389.3 583.1v1.4M388.6 584.1v1.2M390.4 586.7v0.9M187.4 595.5v2.1M190.1 594.3v1.7M190.6 594.7v2.5M190 596.1v1.8M191.1 595.1v2M192.1 595.8v2.4M191.5 598.7v1.3M193.9 594.8v1M193.4 596.6v0.9M194.6 597.1v1.2M196.9 596.1v2.3M197.1 597.2v1.3M261.7 637.3v1.4M262.9 641.6v2M268.8 640.3v2.3M271.2 644v1M272.5 646.1v1.7M276.8 648v2.3M281.4 649.6v1M283.2 647.4v1.7M180.2 616.8v1M181.1 619.4v2.4M186.8 622.6v1.4M189.9 622.7v1.2M194.6 625.6v1.7M200 625.4v2.1M373.4 608.1v1.5M377.1 607.6v1.5M377.2 609.3v1.8M377.9 610.5v2.2M379.2 609v1.5M378.5 610.1v1.2M380.8 611v1.8M382.1 611.2v1.2M382.9 613.8v1.5M384 612.5v1.9M387.5 613v1.5M386.7 615v1.3M167.8 631.6v0.9M174.9 630.8v1M176.1 630.6v2.3M178.6 635.9v1.2M181.1 634.3v1M185 637.3v2.2M187.8 638.2v2.5M237.8 573.7v2.4M239.2 574.7v0.9M240.1 574.3v1M241.9 575.4v1.5M241.2 575.7v1.3M245.7 578v1.1M245.4 578.9v2M247.5 579.2v2.4M247.7 577.7v1.9M249.7 580.2v1.4M252.8 579.7v1.8M251.7 581.2v1.9M175.9 621.7v2M177.4 623.7v1.6M180 622.8v1.3M183.2 624.4v2.2M97.2 603.4v1.7M104.8 606.9v2.4M107.3 611v1.4M109.7 611.3v2.3M343.2 567.9v1.4M346.6 565.5v1.6M346.3 570.1v2.3M350.3 569.9v2M351.9 569.5v1.5M353.2 570v1.8M354.8 572.9v2.3M358.5 575.7v0.9M359.6 575.6v1.1M371.8 599.6v2.5M376.6 601.1v1.4M379.6 602v1.5M382.5 603.7v1M239.4 599.7v1.1M243.7 600.6v1.7M245.4 602.5v1.1M251.2 603.7v1.2M254.3 605.9v2.4M302.5 633v1.3M302.7 632.5v1M305 636.4v1.2M308.7 635.7v1.2M311.7 635.8v2M314.6 636.6v2.3M315.6 639.4v2.2M319.1 639.7v0.9M329.1 569.9v2.2M329.6 572.3v1.9M332.9 576.6v2.4M334 571.9v2.2M337.3 573v2.5M338.9 575.7v1M341.5 575.9v2.1M343.6 575.2v1.4M344 578.2v1.7M346.4 583.1v2.4M268.2 603.6v1.7M271.6 604.4v1.1M272.7 605v1M274.8 604.4v2.1M274.7 607v2M276.7 605.3v1.9M278.1 607.6v1.7M279.5 606.8v2.3M281.2 609.1v1.1M282.1 609.1v1.9M285 610.4v0.9" stroke="#fff" stroke-width="1" fill="none"/>
<path d="M77.3 608.7l-5.3 1.4M135.8 635.2l-5.3 1.4M194.2 661.7l-5.3 1.4M252.7 688.2l-5.3 1.4M494.2 627.5l5 2.3M435.6 643.5l5 2.3M377.1 659.5l5 2.3M318.6 675.5l5 2.3M260 691.5l5 2.3" fill="none" stroke="#222" stroke-width="1"/>
<text transform="translate(68.5 582.6) scale(1.01 1.11)" font-size="19.5" text-anchor="end">20</text>
<text transform="translate(68.5 553.6) scale(1.01 1.11)" font-size="19.5" text-anchor="end">40</text>
<text transform="translate(68.5 524.7) scale(1.01 1.11)" font-size="19.5" text-anchor="end">60</text>
<text transform="translate(68.5 495.7) scale(1.01 1.11)" font-size="19.5" text-anchor="end">80</text>
<text transform="translate(68.5 466.8) scale(1.01 1.11)" font-size="19.5" text-anchor="end">100</text>
<text transform="translate(68.5 437.9) scale(1.01 1.11)" font-size="19.5" text-anchor="end">120</text>
<text transform="translate(68 628.3) scale(1.01 1.11)" font-size="19.5" text-anchor="end">0</text>
<text transform="translate(122 655.6) scale(1.01 1.11)" font-size="19.5" text-anchor="middle">2</text>
<text transform="translate(178.7 681.7) scale(1.01 1.11)" font-size="19.5" text-anchor="middle">4</text>
<text transform="translate(236.5 709) scale(1.01 1.11)" font-size="19.5" text-anchor="middle">6</text>
<text transform="translate(32.8 682.5) scale(1 1.1)" font-size="21.5">×10<tspan dy="-16" dx="1.5" font-size="13">7</tspan></text>
<text transform="translate(100.8 717.1) scale(1 1.09)" font-size="19.5" text-anchor="middle">Frequency (Hz)</text>
<text transform="translate(503.7 649.4) scale(1.01 1.11)" font-size="19.5">0</text>
<text transform="translate(444.9 665.5) scale(1.01 1.11)" font-size="19.5">0.02</text>
<text transform="translate(386.1 681.6) scale(1.01 1.11)" font-size="19.5">0.04</text>
<text transform="translate(327.3 697.7) scale(1.01 1.11)" font-size="19.5">0.06</text>
<text transform="translate(268.5 713.8) scale(1.01 1.11)" font-size="19.5">0.08</text>
<text transform="translate(398.8 721) scale(1.04 1.09)" font-size="19.5" text-anchor="middle">Time (s)</text>
<text transform="translate(27 514) rotate(-90) scale(1.05 1.02)" font-size="19.5" text-anchor="middle">Amplitude</text>
<text transform="translate(253.4 750.5) scale(1 1.085)" font-size="22" text-anchor="middle">(<tspan font-weight="bold">c</tspan>)</text>
</g>
<g id="pd">
<path d="M582.6 428.5L582.6 605.1M641.6 412.4L641.6 589.9M700.6 396.3L700.6 574.6M759.6 380.1L759.6 559.4M818.6 364L818.6 544.1M582.6 571.5L818.6 509.8M582.6 537.8L818.6 475.5M582.6 504.2L818.6 441.2M582.6 470.5L818.6 406.9M582.6 436.9L818.6 372.6M877 388.9L877 569M935.3 413.8L935.3 593.9M993.7 438.7L993.7 618.8M818.6 509.8L1001 587.6M818.6 475.5L1001 553.3M818.6 441.2L1001 519M818.6 406.9L1001 484.7M818.6 372.6L1001 450.4" fill="none" stroke="#1e1e1e" stroke-width="1.15" stroke-dasharray="1.1 2.8"/>
<path d="M582.6 571.5l-4.2 -2.2M582.6 537.8l-4.2 -2.2M582.6 504.2l-4.2 -2.2M582.6 470.5l-4.2 -2.2M582.6 436.9l-4.2 -2.2" fill="none" stroke="#333" stroke-width="1"/>
<path d="M582.6 605.1L818.6 544.1L1001 621.9L767.5 688.5Z" fill="#0000a2"/>
<g transform="matrix(1 0.4265 0 1 818.6 544.1)"><path class="k0" d="M30.6 1.6V-5.2l1.5 1l5.8 1.1l9.7 -0.6l38.5 0.9l96.3 0.6V1.6z"/><path class="k1" d="M23.3 1.6V-12.4l7.3 7.2V1.6z"/><path class="k2" d="M17.5 1.6V-18.4l5.8 6V1.6z"/><path class="k3" d="M8.8 1.6V-23.7l2.9 1.2l2.9 1.7l2.9 2.4V1.6z"/><path class="k4" d="M5.8 1.6V-24.3l1.5 -1l1.5 1.6V1.6z"/><path class="k5" d="M4.4 1.6V-33.3l1.4 9V1.6z"/><path class="k6" d="M2.9 1.6V-42.2l1.5 8.9V1.6z"/><path class="k8" d="M0 1.6V-52.8l1.5 0l1.4 10.6V1.6z"/></g>
<g transform="matrix(1 0.4267 0 1 817.4 544.4)"><path class="k0" d="M30.6 1.6V-5.8l1.5 1l1.5 0.1l1.4 1l1.5 -1.1l1.4 0.7l9.7 -0.4l9.6 0.9l19.3 -0.2l19.2 0.5l9.7 -0.2l9.6 0.8l28.9 -0.3l28.9 0.7l9.6 -0.1V1.6z"/><path class="k1" d="M23.3 1.6V-12.3l7.3 6.5V1.6z"/><path class="k2" d="M17.5 1.6V-17.4l1.5 0.7l4.3 4.4V1.6z"/><path class="k3" d="M14.6 1.6V-24.3l2.9 6.9V1.6z"/><path class="k4" d="M13.1 1.6V-31l1.5 6.7V1.6z"/><path class="k5" d="M8.8 1.6V-36.4l1.4 9.1l1.5 -6.8l1.4 3.1V1.6z"/><path class="k10" d="M5.8 1.6V-59l1.5 -5.3l1.5 27.9V1.6z"/><path class="k11" d="M4.4 1.6V-71.4l1.4 12.4V1.6z"/><path class="k21" d="M2.9 1.6V-136.8l1.5 65.4V1.6z"/><path class="k27" d="M0 1.6V-171l1.5 0l1.4 34.2V1.6z"/></g>
<g transform="matrix(1 0.4268 0 1 816.2 544.7)"><path class="k0" d="M30.6 1.6V-5.5l1.5 1.1l1.5 0.3l1.4 -0.2l1.5 0.9l1.4 -0.6l9.7 0.9l9.6 -0.3l9.6 0.5l9.7 -0.3l28.9 0.5l9.6 -0.2l28.9 0.6l19.3 -0.2l19.2 0.2V1.6z"/><path class="k1" d="M23.4 1.6V-12.4l4.3 4.4l2.9 2.5V1.6z"/><path class="k2" d="M17.5 1.6V-18l5.9 5.6V1.6z"/><path class="k3" d="M16.1 1.6V-19.2l1.4 1.2V1.6z"/><path class="k4" d="M13.1 1.6V-29.2l1.5 2.2l1.5 7.8V1.6z"/><path class="k5" d="M5.8 1.6V-32.7l1.5 0.8l1.5 3V1.6zM11.7 1.6V-36.8l1.4 7.6V1.6z"/><path class="k6" d="M8.8 1.6V-28.9l1.4 -11.9l1.5 4V1.6z"/><path class="k10" d="M4.4 1.6V-68.1l1.4 35.4V1.6z"/><path class="k15" d="M2.9 1.6V-98.7l1.5 30.6V1.6z"/><path class="k19" d="M0 1.6V-123.4l1.5 0l1.4 24.7V1.6z"/></g>
<g transform="matrix(1 0.4269 0 1 815 545)"><path class="k0" d="M24.8 1.6V-6.2l4.4 2.8l1.4 0.5l5.9 -0.1l1.4 0.4l28.9 0.2l9.7 -0.2l38.5 0.5l67.4 0V1.6z"/><path class="k1" d="M20.4 1.6V-9.8l1.5 1.5l2.9 2.1V1.6z"/><path class="k2" d="M14.6 1.6V-13l1.5 -5.5l1.4 7.2l1.5 -2.7l1.4 4.2V1.6z"/><path class="k3" d="M10.2 1.6V-21.9l1.5 7.1V1.6z"/><path class="k4" d="M11.7 1.6V-14.8l1.4 -11l1.5 12.8V1.6z"/><path class="k6" d="M8.8 1.6V-40.8l1.4 18.9V1.6z"/><path class="k7" d="M5.8 1.6V-22.6l1.5 -21.5l1.5 3.3V1.6z"/><path class="k8" d="M2.9 1.6V-31.3l1.5 -24.6l1.4 33.3V1.6z"/><path class="k9" d="M1.5 1.6V-62.2l1.4 30.9V1.6z"/><path class="k11" d="M0 1.6V-70.2l1.5 8V1.6z"/></g>
<g transform="matrix(1 0.4270 0 1 813.9 545.3)"><path class="k0" d="M26.3 1.6V-5.4l4.4 2.7l2.9 0.3l1.4 -0.3l12.6 0.4l19.2 0.1l115.7 0.2V1.6z"/><path class="k1" d="M19 1.6V-11.5l7.3 6.1V1.6z"/><path class="k2" d="M0 1.6V-18l1.5 0V1.6zM5.8 1.6V-17.8l3 0.6l2.9 1l2.9 1.5l4.4 3.2V1.6z"/><path class="k3" d="M1.5 1.6V-18l1.4 -5.4l1.5 2.1l1.4 3.5V1.6z"/></g>
<g transform="matrix(1 0.4272 0 1 812.7 545.6)"><path class="k0" d="M27.7 1.6V-6.2l3 2l1.4 0.4l1.5 -0.1l1.4 0.5l1.5 -0.3l1.5 0.5l19.2 0l28.9 0.6l19.3 -0.2l19.3 0.5l28.9 -0.2l28.9 0.4V1.6z"/><path class="k1" d="M20.4 1.6V-12.5l7.3 6.3V1.6z"/><path class="k2" d="M10.2 1.6V-18.6l4.4 1.9l5.8 4.2V1.6z"/><path class="k3" d="M0 1.6V-19.8l4.4 0.1l5.8 1.1V1.6z"/></g>
<g transform="matrix(1 0.4273 0 1 811.5 545.9)"><path class="k0" d="M32.1 1.6V-5.2l1.5 -0.3l1.4 1l1.5 -0.8l1.5 -0.3l19.2 1.4l19.3 -0.2l28.9 1.5l9.6 -0.8l19.3 1l9.6 -0.3l19.3 0.4l9.6 -0.3l9.7 0.4V1.6z"/><path class="k1" d="M23.4 1.6V-12.3l8.7 7.1V1.6z"/><path class="k2" d="M14.6 1.6V-18.4l4.4 2.6l4.4 3.5V1.6z"/><path class="k3" d="M11.7 1.6V-21.3l1.4 2.2l1.5 0.7V1.6z"/><path class="k4" d="M7.3 1.6V-30l1.5 5.7l1.4 -4.8l1.5 7.8V1.6z"/><path class="k5" d="M5.8 1.6V-35.5l1.5 5.5V1.6z"/><path class="k6" d="M4.4 1.6V-38.2l1.4 2.7V1.6z"/><path class="k7" d="M1.5 1.6V-23.5l1.4 -21.9l1.5 7.2V1.6z"/><path class="k9" d="M0 1.6V-58.8l1.5 35.3V1.6z"/></g>
<g transform="matrix(1 0.4274 0 1 810.3 546.2)"><path class="k0" d="M30.7 1.6V-6l1.4 -0.2l1.5 1.7l1.4 -1.4l1.5 1.6l11.1 -0.7l9.6 1l9.7 -0.4l9.6 0.1l9.6 0.9l9.7 -0.7l9.6 0.6l9.6 -0.4l9.7 1.1l19.2 -0.3l9.7 0.3l19.3 -0.2l9.6 0.4V1.6z"/><path class="k1" d="M23.4 1.6V-11.6l7.3 5.6V1.6z"/><path class="k2" d="M10.2 1.6V-18.7l5.9 2.2l2.9 1.7l4.4 3.2V1.6z"/><path class="k3" d="M0 1.6V-19.5l7.3 0.3l2.9 0.5V1.6z"/></g>
<g transform="matrix(1 0.4275 0 1 809.1 546.6)"><path class="k0" d="M30.7 1.6V-5.2l1.4 1l1.5 -0.3l1.4 1.2l3 0.1l19.2 0l9.7 -0.6l57.8 1.2l38.5 0l19.3 0.4V1.6z"/><path class="k1" d="M23.4 1.6V-11.5l4.3 4l3 2.3V1.6z"/><path class="k2" d="M14.6 1.6V-18.5l4.4 3.1l4.4 3.9V1.6z"/><path class="k3" d="M0 1.6V-21.6l5.8 0.2l3 0.5l5.8 2.4V1.6z"/></g>
<g transform="matrix(1 0.4277 0 1 807.9 546.9)"><path class="k0" d="M27.7 1.6V-6.1l3 2.2l1.4 0.6l1.5 0.2l1.4 -0.3l1.5 0.5l20.7 0.2l9.7 -0.3l28.9 0.5l86.7 0.5V1.6z"/><path class="k1" d="M21.9 1.6V-11.5l5.8 5.4V1.6z"/><path class="k2" d="M16.1 1.6V-17l5.8 5.5V1.6z"/><path class="k3" d="M11.7 1.6V-19.4l1.4 0.7l1.5 -1.3l1.5 3V1.6z"/><path class="k5" d="M7.3 1.6V-28l1.5 -8.2l1.4 4.7l1.5 12.1V1.6z"/><path class="k6" d="M0 1.6V-40.1l1.5 11.5l1.4 -9.7V1.6z"/><path class="k7" d="M5.8 1.6V-46.2l1.5 18.2V1.6z"/><path class="k8" d="M2.9 1.6V-38.3l1.5 -13.1l1.4 5.2V1.6z"/></g>
<g transform="matrix(1 0.4278 0 1 806.7 547.2)"><path class="k0" d="M26.3 1.6V-6.2l4.4 3l2.9 0.4l42.9 0.5l28.9 -0.3l77.1 0.6V1.6z"/><path class="k1" d="M19 1.6V-12.2l7.3 6V1.6z"/><path class="k2" d="M13.1 1.6V-16.1l1.5 -2l2.9 4.7l1.5 1.2V1.6z"/><path class="k4" d="M8.8 1.6V-29.5l1.4 4.1l1.5 -0.5l1.4 9.8V1.6z"/><path class="k5" d="M0 1.6V-30.4l1.5 -2.4V1.6zM5.8 1.6V-28.1l1.5 -8.2l1.5 6.8V1.6z"/><path class="k7" d="M4.4 1.6V-45.4l1.4 17.3V1.6z"/><path class="k8" d="M1.5 1.6V-32.8l1.4 -20.6l1.5 8V1.6z"/></g>
<g transform="matrix(1 0.4279 0 1 805.6 547.5)"><path class="k0" d="M27.7 1.6V-5.6l4.4 3l1.5 -0.2l4.4 0.4l144.5 0.4V1.6z"/><path class="k1" d="M21.9 1.6V-11.4l5.8 5.8V1.6z"/><path class="k2" d="M14.6 1.6V-18.5l4.4 4l2.9 3.1V1.6z"/><path class="k3" d="M5.8 1.6V-24.8l1.5 2.2V1.6zM11.7 1.6V-20.4l1.4 -1.1l1.5 3V1.6z"/><path class="k4" d="M7.3 1.6V-22.6l1.5 -3l1.4 -0.4l1.5 5.6V1.6z"/><path class="k5" d="M0 1.6V-35.9l1.5 -0.8l1.4 0.3l1.5 0.9l1.4 10.7V1.6z"/></g>
<g transform="matrix(1 0.4280 0 1 804.4 547.8)"><path class="k0" d="M26.3 1.6V-5.8l2.9 2.4l2.9 1.4l150.5 0.2V1.6z"/><path class="k1" d="M20.4 1.6V-12.4l5.9 6.6V1.6z"/><path class="k2" d="M16.1 1.6V-17.4l4.3 5V1.6z"/><path class="k3" d="M10.2 1.6V-22.2l2.9 2l3 2.8V1.6z"/><path class="k4" d="M8.8 1.6V-28l1.4 5.8V1.6z"/><path class="k5" d="M0 1.6V-24.1l1.5 -9.8V1.6z"/><path class="k6" d="M1.5 1.6V-33.9l1.4 -7V1.6zM5.8 1.6V-28.4l1.5 -10.4l1.5 10.8V1.6z"/><path class="k7" d="M2.9 1.6V-40.9l1.5 -7.6l1.4 20.1V1.6z"/></g>
<g transform="matrix(1 0.4282 0 1 803.2 548.1)"><path class="k0" d="M26.3 1.6V-3.8l2.9 -0.1l1.5 1.4l4.4 0.7l147.5 0.1V1.6z"/><path class="k1" d="M19 1.6V-10.5l1.4 1.7l1.5 -0.3l1.5 3l1.4 -0.2l1.5 2.5V1.6z"/><path class="k2" d="M14.6 1.6V-14l1.5 1.2l1.4 -1.3l1.5 3.6V1.6z"/><path class="k3" d="M13.1 1.6V-20.4l1.5 6.4V1.6z"/><path class="k4" d="M10.2 1.6V-27.1l1.5 0.8l1.4 5.9V1.6z"/><path class="k5" d="M5.8 1.6V-36.9l1.5 1.3l1.5 0.4l1.4 8.1V1.6z"/><path class="k6" d="M4.4 1.6V-37.6l1.4 0.7V1.6z"/><path class="k9" d="M2.9 1.6V-59.2l1.5 21.6V1.6z"/><path class="k11" d="M0 1.6V-74l1.5 0l1.4 14.8V1.6z"/></g>
<g transform="matrix(1 0.4283 0 1 802 548.4)"><path class="k0" d="M26.3 1.6V-6l1.5 1.2l1.4 0.6l1.5 -0.5l1.4 2.3l4.4 0.4l1.5 -0.3l9.6 0.3l28.9 0.1l106.1 0.1V1.6z"/><path class="k1" d="M20.4 1.6V-11.9l1.5 0l4.4 5.9V1.6z"/><path class="k2" d="M16.1 1.6V-16.7l1.4 1.5l1.5 -0.3l1.4 3.6V1.6z"/><path class="k4" d="M10.2 1.6V-29l1.5 5.4V1.6zM14.6 1.6V-30.1l1.5 13.4V1.6z"/><path class="k5" d="M11.7 1.6V-23.6l1.4 -8.4l1.5 1.9V1.6z"/><path class="k8" d="M7.3 1.6V-51.3l1.5 1l1.4 21.3V1.6z"/><path class="k10" d="M4.4 1.6V-51.8l1.4 -16.2l1.5 16.7V1.6z"/><path class="k18" d="M2.9 1.6V-118l1.5 66.2V1.6z"/><path class="k23" d="M0 1.6V-147.5l1.5 0l1.4 29.5V1.6z"/></g>
<g transform="matrix(1 0.4284 0 1 800.8 548.7)"><path class="k0" d="M26.3 1.6V-5.2l1.5 0.2l1.4 1.5l1.5 -0.8l1.4 1.5l3 -0.5l2.9 0.4l9.6 0.2l19.3 -0.3l9.6 0.5l9.7 -0.4l28.9 0.6l19.3 -0.2l9.6 0.4l38.6 -0.1V1.6z"/><path class="k1" d="M19 1.6V-11.6l2.9 2l1.5 2.3l1.4 0.6l1.5 1.5V1.6z"/><path class="k2" d="M17.5 1.6V-14l1.5 2.4V1.6z"/><path class="k3" d="M14.6 1.6V-12.4l1.5 -9.6l1.4 8V1.6z"/><path class="k5" d="M10.2 1.6V-37l1.5 20.2l1.4 -15.6l1.5 20V1.6z"/><path class="k8" d="M4.4 1.6V-54l1.4 -1.9l1.5 -0.2l1.5 5.3l1.4 13.8V1.6z"/><path class="k9" d="M2.9 1.6V-59.9l1.5 5.9V1.6z"/><path class="k13" d="M0 1.6V-74.8l1.5 -11.9l1.4 26.8V1.6z"/></g>
<g transform="matrix(1 0.4285 0 1 799.6 549)"><path class="k0" d="M30.7 1.6V-5.5l2.9 1.9l2.9 -1.2l1.5 0.5l9.6 0.2l9.7 -0.2l9.6 0.9l19.3 -0.3l9.6 0.8l9.7 -0.4l9.6 0.6l67.5 0.3V1.6z"/><path class="k1" d="M23.4 1.6V-11.7l7.3 6.2V1.6z"/><path class="k2" d="M14.6 1.6V-18.3l4.4 2.9l4.4 3.7V1.6z"/><path class="k3" d="M10.2 1.6V-23.6l1.5 3.3l1.4 1.3l1.5 0.7V1.6z"/><path class="k4" d="M7.3 1.6V-20.9l1.5 -5.3l1.4 2.6V1.6z"/><path class="k5" d="M5.8 1.6V-34.8l1.5 13.9V1.6z"/><path class="k6" d="M2.9 1.6V-37.3l1.5 -4.9l1.4 7.4V1.6z"/><path class="k7" d="M0 1.6V-46.7l1.5 0l1.4 9.4V1.6z"/></g>
<g transform="matrix(1 0.4287 0 1 798.4 549.3)"><path class="k0" d="M27.8 1.6V-6.1l1.4 0.4l1.5 0l2.9 1.3l2.9 -0.7l1.5 0.5l9.6 0.8l9.7 -0.5l9.6 0.8l9.7 0l9.6 -0.6l9.6 0.4l29 0.4l9.6 0.5l9.6 -0.3l19.3 0.7l9.7 -0.2l9.6 0.2V1.6z"/><path class="k1" d="M17.5 1.6V-12.4l10.3 6.3V1.6z"/><path class="k2" d="M7.3 1.6V-14.8l1.5 0.1V1.6zM11.7 1.6V-15.5l1.4 0.1l1.5 2.2l2.9 0.8V1.6z"/><path class="k3" d="M5.8 1.6V-23.7l1.5 8.9V1.6z"/><path class="k4" d="M8.8 1.6V-14.7l1.4 -12.7l1.5 11.9V1.6z"/><path class="k5" d="M2.9 1.6V-26.2l1.5 -7.5l1.4 10V1.6z"/><path class="k8" d="M0 1.6V-48.3l1.5 -2.4l1.4 24.5V1.6z"/></g>
<g transform="matrix(1 0.4288 0 1 797.3 549.6)"><path class="k0" d="M32.1 1.6V-5.2l1.5 -0.4l4.4 0.7l9.6 -0.2l9.7 1.6l19.3 -0.5l9.6 0.8l9.6 -0.8l9.7 0.5l38.6 0.3l9.6 0.5l9.6 -0.3l9.7 0.4l9.6 -0.1V1.6z"/><path class="k1" d="M24.8 1.6V-11.3l7.3 6.1V1.6z"/><path class="k2" d="M16.1 1.6V-18.2l2.9 2l5.8 4.9V1.6z"/><path class="k3" d="M5.8 1.6V-23l1.5 1.6l1.5 0.3l1.4 -3l1.5 1.5l1.4 2.9l3 1.5V1.6z"/><path class="k6" d="M1.5 1.6V-33.8l1.4 -9.4l1.5 0.7l1.4 19.5V1.6z"/><path class="k8" d="M0 1.6V-52.7l1.5 18.9V1.6z"/></g>
<g transform="matrix(1 0.4289 0 1 796.1 549.9)"><path class="k0" d="M26.3 1.6V-5.9l1.5 0.7l4.3 0.5l1.5 0.1l1.5 -0.5l1.4 0.5l1.5 -0.4l9.6 1.4l19.3 0.1l9.7 -0.4l19.2 0l19.3 0.4l19.3 0.9l9.7 -0.6l9.6 0.1l9.7 0.7l19.2 0V1.6z"/><path class="k1" d="M10.2 1.6V-12.4l5.9 1.5l4.4 1.9l5.8 3.1V1.6z"/><path class="k2" d="M5.8 1.6V-16.3l1.5 -1.9l1.5 2.2l1.4 3.6V1.6z"/><path class="k3" d="M0 1.6V-17.1l1.5 -6.3l1.4 8.6l1.5 -8l1.4 6.5V1.6z"/></g>
<g transform="matrix(1 0.4290 0 1 794.9 550.2)"><path class="k0" d="M30.7 1.6V-5.4l1.4 -0.4l1.5 1.4l1.5 -0.8l2.9 -0.6l19.3 1.8l9.6 -0.9l9.7 0.1l9.6 1.5l9.7 -1l38.5 1.4l19.3 -0.4l9.7 0.8l19.3 -0.3V1.6z"/><path class="k1" d="M20.5 1.6V-12.2l10.2 6.8V1.6z"/><path class="k2" d="M8.8 1.6V-16.7l5.8 1.5l5.9 3V1.6z"/><path class="k3" d="M5.8 1.6V-23.6l1.5 2.6l1.5 4.3V1.6z"/><path class="k4" d="M1.5 1.6V-18l1.4 -9.8l1.5 1.5l1.4 2.7V1.6z"/><path class="k5" d="M0 1.6V-32.6l1.5 14.6V1.6z"/></g>
<g transform="matrix(1 0.4292 0 1 793.7 550.5)"><path class="k0" d="M33.6 1.6V-5.5l1.5 0.6l1.4 -0.7l1.5 0.4l9.6 -0.5l9.7 1.3l9.6 0.4l9.7 -0.9l19.3 1.4l9.6 -0.6l9.7 0.8l9.6 -0.3l19.3 0.6l9.6 -0.2l19.3 0.7l9.7 -0.6V1.6z"/><path class="k1" d="M26.3 1.6V-11.3l5.8 5l1.5 0.8V1.6z"/><path class="k2" d="M17.5 1.6V-18.6l3 2.1l5.8 5.2V1.6z"/><path class="k3" d="M10.2 1.6V-22l3 1l1.4 -0.6l1.5 2l1.4 1V1.6z"/><path class="k6" d="M8.8 1.6V-39l1.4 17V1.6z"/><path class="k7" d="M0 1.6V-46.1l1.5 -2.2V1.6zM5.8 1.6V-49.8l3 10.8V1.6z"/><path class="k8" d="M4.4 1.6V-55.4l1.4 5.6V1.6z"/><path class="k9" d="M1.5 1.6V-48.3l1.4 -12.1l1.5 5V1.6z"/></g>
<g transform="matrix(1 0.4293 0 1 792.5 550.8)"><path class="k0" d="M27.8 1.6V-6.1l2.9 1.7l2.9 0.1l1.5 -1.1l12.5 1.7l9.7 -0.9l9.6 0.8l9.7 -0.4l9.6 1.1l19.3 0.1l9.7 -0.5l38.5 1l9.7 -0.5l9.6 0.6l9.7 -0.3V1.6z"/><path class="k1" d="M17.5 1.6V-12.3l4.4 2.4l5.9 3.8V1.6z"/><path class="k2" d="M2.9 1.6V-17.6l1.5 2V1.6zM7.3 1.6V-17.9l1.5 2.8l4.4 1l4.3 1.8V1.6z"/><path class="k3" d="M4.4 1.6V-15.6l1.4 -4.5l1.5 2.2V1.6z"/><path class="k4" d="M0 1.6V-22.1l1.5 -4.4l1.4 8.9V1.6z"/></g>
<g transform="matrix(1 0.4294 0 1 791.3 551.2)"><path class="k0" d="M26.3 1.6V-5.8l2.9 1.8l1.5 0.2l5.8 0l11.1 0.7l9.7 -0.2l19.3 0.7l9.6 -0.4l9.7 0.5l9.6 -0.3l19.3 0.5l38.6 -0.2l19.3 0.4V1.6z"/><path class="k1" d="M16.1 1.6V-12.2l10.2 6.4V1.6z"/><path class="k2" d="M10.2 1.6V-14.3l3 0.8l2.9 1.3V1.6z"/><path class="k3" d="M1.5 1.6V-21.5l1.4 6.3V1.6zM7.3 1.6V-14.9l1.5 -7l1.4 7.6V1.6z"/><path class="k4" d="M2.9 1.6V-15.2l1.5 -16l1.4 4.1l1.5 12.2V1.6z"/><path class="k5" d="M0 1.6V-37.3l1.5 15.8V1.6z"/></g>
<g transform="matrix(1 0.4295 0 1 790.1 551.5)"><path class="k0" d="M26.3 1.6V-5.7l2.9 2l3 1.2l5.8 -0.4l9.6 0.5l9.7 0.1l19.3 -0.2l9.6 0.3l96.5 0.2V1.6z"/><path class="k1" d="M19 1.6V-11.8l7.3 6.1V1.6z"/><path class="k2" d="M10.2 1.6V-18.4l1.5 1.9l2.9 1.1l4.4 3.6V1.6z"/><path class="k4" d="M8.8 1.6V-30.7l1.4 12.3V1.6z"/><path class="k5" d="M7.3 1.6V-34.9l1.5 4.2V1.6z"/><path class="k6" d="M2.9 1.6V-38.2l1.5 6.3l1.4 -7.4l1.5 4.4V1.6z"/><path class="k7" d="M1.5 1.6V-48.5l1.4 10.3V1.6z"/><path class="k8" d="M0 1.6V-54.2l1.5 5.7V1.6z"/></g>
<g transform="matrix(1 0.4297 0 1 789 551.8)"><path class="k0" d="M24.8 1.6V-5.4l1.5 0.6l1.5 1.4l1.4 0.7l1.5 0.3l2.9 -0.1l1.5 -0.4l2.9 0.5l28.9 -0.2l9.7 0.4l106.1 0.2V1.6z"/><path class="k1" d="M19 1.6V-11.1l1.5 3.3l1.4 0.9l1.5 0l1.4 1.5V1.6z"/><path class="k2" d="M13.2 1.6V-14.8l2.9 4.1l1.4 -3.2l1.5 2.8V1.6z"/><path class="k3" d="M10.2 1.6V-22.4l3 7.6V1.6z"/><path class="k5" d="M7.3 1.6V-13.2l1.5 -21.1l1.4 11.9V1.6z"/><path class="k6" d="M5.8 1.6V-40l1.5 26.8V1.6z"/><path class="k7" d="M4.4 1.6V-50l1.4 10V1.6z"/><path class="k8" d="M2.9 1.6V-54.7l1.5 4.7V1.6z"/><path class="k9" d="M0 1.6V-50.5l1.5 -11.6l1.4 7.4V1.6z"/></g>
<g transform="matrix(1 0.4298 0 1 787.8 552.1)"><path class="k0" d="M27.8 1.6V-6.2l1.4 1.1l1.5 0.2l1.5 1.3l1.4 -0.6l4.4 1.1l9.7 -0.3l9.6 0.6l9.7 -0.4l9.6 0.5l19.3 0.3l28.9 -0.2l29 0.4l28.9 -0.1V1.6z"/><path class="k1" d="M23.4 1.6V-9.8l4.4 3.6V1.6z"/><path class="k2" d="M20.5 1.6V-16.9l1.4 0.8l1.5 6.3V1.6z"/><path class="k3" d="M16.1 1.6V-20.7l2.9 -2.5l1.5 6.3V1.6z"/><path class="k5" d="M13.2 1.6V-29.5l1.4 -6.7l1.5 15.5V1.6z"/><path class="k6" d="M11.7 1.6V-39.4l1.5 9.9V1.6z"/><path class="k8" d="M8.8 1.6V-52.4l1.4 -0.8l1.5 13.8V1.6z"/><path class="k10" d="M7.3 1.6V-66.1l1.5 13.7V1.6z"/><path class="k11" d="M5.8 1.6V-71.2l1.5 5.1V1.6z"/><path class="k13" d="M4.4 1.6V-81.5l1.4 10.3V1.6z"/><path class="k18" d="M2.9 1.6V-116.9l1.5 35.4V1.6z"/><path class="k23" d="M0 1.6V-146.1l1.5 0l1.4 29.2V1.6z"/></g>
<g transform="matrix(1 0.4299 0 1 786.6 552.4)"><path class="k0" d="M30.7 1.6V-6.1l2.9 1.8l1.5 -1l1.4 0.7l1.5 -0.5l19.3 0.9l9.7 0l9.6 0.9l9.7 0.2l9.6 -0.9l19.3 1l19.3 -0.4l48.2 1V1.6z"/><path class="k1" d="M23.4 1.6V-12.1l7.3 6V1.6z"/><path class="k2" d="M16.1 1.6V-17.5l2.9 1.7l4.4 3.7V1.6z"/><path class="k3" d="M14.6 1.6V-19.3l1.5 1.8V1.6z"/><path class="k4" d="M13.2 1.6V-29.5l1.4 10.2V1.6z"/><path class="k5" d="M11.7 1.6V-36.2l1.5 6.7V1.6z"/><path class="k6" d="M8.8 1.6V-20.2l1.4 -19.5l1.5 3.5V1.6z"/><path class="k8" d="M7.3 1.6V-51.9l1.5 31.7V1.6z"/><path class="k9" d="M4.4 1.6V-61.5l2.9 9.6V1.6z"/><path class="k11" d="M2.9 1.6V-74.5l1.5 13V1.6z"/><path class="k13" d="M0 1.6V-86.6l1.5 0l1.4 12.1V1.6z"/></g>
<g transform="matrix(1 0.4300 0 1 785.4 552.7)"><path class="k0" d="M33.6 1.6V-5.9l1.5 0.3l1.5 -0.5l1.4 1.3l9.7 -1l9.6 0.2l9.7 1.3l9.6 -0.6l9.7 0.5l9.6 0.9l9.7 -0.1l9.6 0.3l9.7 -0.5l9.6 0.8l9.7 -0.4l9.6 0.6l9.7 -0.4l19.3 0.3V1.6z"/><path class="k1" d="M26.3 1.6V-11.6l5.9 5.2l1.4 0.5V1.6z"/><path class="k2" d="M19 1.6V-18.1l7.3 6.5V1.6z"/><path class="k3" d="M7.3 1.6V-23.3l2.9 0.6l3 1.1l2.9 1.5l2.9 2V1.6z"/><path class="k5" d="M5.8 1.6V-34.6l1.5 11.3V1.6z"/><path class="k7" d="M2.9 1.6V-39.9l1.5 -4.8l1.4 10.1V1.6z"/><path class="k8" d="M1.5 1.6V-51.2l1.4 11.3V1.6z"/><path class="k9" d="M0 1.6V-56.3l1.5 5.1V1.6z"/></g>
<g transform="matrix(1 0.4302 0 1 784.2 553)"><path class="k0" d="M27.8 1.6V-6.2l2.9 1.9l1.5 -0.4l1.4 0.5l4.4 -0.3l9.7 0.7l19.3 0.5l57.9 0.7l28.9 -0.1l9.7 0.4l9.6 -0.3l9.7 0.4V1.6z"/><path class="k1" d="M19 1.6V-12.4l8.8 6.2V1.6z"/><path class="k2" d="M1.5 1.6V-17.3l4.3 0.2l5.9 1.1l4.4 1.9l2.9 1.7V1.6z"/><path class="k3" d="M0 1.6V-23l1.5 5.7V1.6z"/></g>
<g transform="matrix(1 0.4303 0 1 783 553.3)"><path class="k0" d="M26.3 1.6V-6.2l4.4 3.1l2.9 0.7l14.1 -0.2l9.6 0.3l9.7 -0.2l9.6 0.3l19.3 -0.2l86.9 0.5V1.6z"/><path class="k1" d="M20.5 1.6V-11.6l5.8 5.4V1.6z"/><path class="k2" d="M11.7 1.6V-18.4l4.4 2.9l4.4 3.9V1.6z"/><path class="k3" d="M10.2 1.6V-19l1.5 0.6V1.6z"/><path class="k4" d="M7.3 1.6V-19.9l1.5 -7.1l1.4 8V1.6z"/><path class="k5" d="M4.4 1.6V-20.3l1.4 -14.2l1.5 14.6V1.6z"/><path class="k6" d="M2.9 1.6V-42.1l1.5 21.8V1.6z"/><path class="k7" d="M0 1.6V-24.6l1.5 -20.9l1.4 3.4V1.6z"/></g>
<g transform="matrix(1 0.4304 0 1 781.8 553.6)"><path class="k0" d="M24.9 1.6V-6.1l2.9 2.2l2.9 1.6l4.4 0.2l2.9 -0.2l29 0.3l115.8 0.1V1.6z"/><path class="k1" d="M19 1.6V-11.3l5.9 5.2V1.6z"/><path class="k2" d="M8.8 1.6V-17.8l4.4 2l5.8 4.5V1.6z"/><path class="k3" d="M5.8 1.6V-24.2l1.5 2.6l1.5 3.8V1.6z"/><path class="k4" d="M2.9 1.6V-18.6l1.5 -11.1l1.4 5.5V1.6z"/><path class="k5" d="M0 1.6V-36.8l1.5 5.2l1.4 13V1.6z"/></g>
<g transform="matrix(1 0.4305 0 1 780.7 553.9)"><path class="k0" d="M26.3 1.6V-6.1l4.4 3l2.9 0.5l14.1 -0.2l135.1 0.8V1.6z"/><path class="k1" d="M19 1.6V-12.5l7.3 6.4V1.6z"/><path class="k2" d="M8.8 1.6V-18.4l2.9 1l2.9 1.6l4.4 3.3V1.6z"/><path class="k3" d="M5.8 1.6V-19l3 0.6V1.6z"/><path class="k4" d="M2.9 1.6V-19.2l1.5 -9.4l1.4 9.6V1.6z"/><path class="k5" d="M1.5 1.6V-37.1l1.4 17.9V1.6z"/><path class="k6" d="M0 1.6V-38.9l1.5 1.8V1.6z"/></g>
<g transform="matrix(1 0.4306 0 1 779.5 554.2)"><path class="k0" d="M27.8 1.6V-6.2l4.4 3l4.4 0.1l1.4 -0.3l48.3 0.9l9.6 -0.3l19.3 0.2l9.7 0.4l57.9 0V1.6z"/><path class="k1" d="M21.9 1.6V-11.7l5.9 5.5V1.6z"/><path class="k2" d="M14.6 1.6V-18l1.5 -0.6l1.5 2.8l4.3 4.1V1.6z"/><path class="k3" d="M10.2 1.6V-20.8l1.5 -2.1l1.5 4l1.4 0.9V1.6z"/><path class="k4" d="M0 1.6V-29.1l1.5 -1.1V1.6z"/><path class="k6" d="M8.8 1.6V-39.7l1.4 18.9V1.6z"/><path class="k7" d="M5.9 1.6V-26.9l1.4 -18.2l1.5 5.4V1.6z"/><path class="k8" d="M4.4 1.6V-50.4l1.5 23.5V1.6z"/><path class="k9" d="M1.5 1.6V-30.2l1.4 -31.8l1.5 11.6V1.6z"/></g>
<g transform="matrix(1 0.4308 0 1 778.3 554.5)"><path class="k0" d="M24.9 1.6V-5.6l4.4 2.5l2.9 0.6l2.9 -0.5l1.5 0.5l1.4 -0.3l48.3 0.5l96.5 0.3V1.6z"/><path class="k1" d="M17.6 1.6V-10.7l7.3 5.1V1.6z"/><path class="k2" d="M8.8 1.6V-14.4l2.9 1V1.6zM14.6 1.6V-12.2l1.5 -1.5l1.5 3V1.6z"/><path class="k3" d="M4.4 1.6V-22l1.5 7.4V1.6zM11.7 1.6V-13.4l1.5 -5.6l1.4 6.8V1.6z"/><path class="k5" d="M2.9 1.6V-37.4l1.5 15.4V1.6zM5.9 1.6V-14.6l1.4 -18.7l1.5 18.9V1.6z"/><path class="k7" d="M0 1.6V-48.1l1.5 -1.2l1.4 11.9V1.6z"/></g>
<g transform="matrix(1 0.4309 0 1 777.1 554.8)"><path class="k0" d="M23.4 1.6V-5.6l4.4 2.7l1.5 0.7l1.4 0.1l152.1 0.3V1.6z"/><path class="k1" d="M13.2 1.6V-12.4l1.4 0.5l8.8 6.3V1.6z"/><path class="k2" d="M5.9 1.6V-14.5l1.4 0.2V1.6zM10.2 1.6V-16.8l1.5 3.8l1.5 0.6V1.6z"/><path class="k3" d="M4.4 1.6V-24.2l1.5 9.7V1.6zM7.3 1.6V-14.3l1.5 -7.2l1.4 4.7V1.6z"/><path class="k5" d="M1.5 1.6V-27.9l1.4 -5.6l1.5 9.3V1.6z"/><path class="k6" d="M0 1.6V-37.9l1.5 10V1.6z"/></g>
<g transform="matrix(1 0.4310 0 1 775.9 555.1)"><path class="k0" d="M24.9 1.6V-6l1.4 1.2l4.4 2.7l7.3 0.2l144.9 0.1V1.6z"/><path class="k1" d="M19 1.6V-11.6l5.9 5.6V1.6z"/><path class="k2" d="M8.8 1.6V-18.7l4.4 2.1l5.8 5V1.6z"/><path class="k3" d="M4.4 1.6V-19.6l1.5 -1.3l1.4 1.7l1.5 0.5V1.6z"/><path class="k4" d="M0 1.6V-19.7l1.5 -7.8l1.4 2l1.5 5.9V1.6z"/></g>
<g transform="matrix(1 0.4311 0 1 774.7 555.4)"><path class="k0" d="M24.9 1.6V-6l4.4 2.7l2.9 0.9l1.4 -0.5l1.5 0.5l22.2 -0.2l125.6 0.6V1.6z"/><path class="k1" d="M17.6 1.6V-11.3l7.3 5.3V1.6z"/><path class="k2" d="M10.2 1.6V-14.8l1.5 -2.2l1.5 3.3l1.4 -2.4l1.5 3.2l1.5 1.6V1.6z"/><path class="k4" d="M7.3 1.6V-28.3l1.5 -0.9l1.4 14.4V1.6z"/><path class="k5" d="M5.9 1.6V-33.9l1.4 5.6V1.6z"/><path class="k6" d="M4.4 1.6V-38.9l1.5 5V1.6z"/><path class="k7" d="M1.5 1.6V-38l1.4 -8.2l1.5 7.3V1.6z"/><path class="k8" d="M0 1.6V-52.3l1.5 14.3V1.6z"/></g>
<g transform="matrix(1 0.4313 0 1 773.5 555.7)"><path class="k0" d="M29.3 1.6V-6.2l1.4 2.2l1.5 0.8l1.4 -0.2l1.5 0.3l1.5 -0.4l1.4 0.6l29 0.2l9.7 -0.4l9.6 0.3l9.7 -0.2l9.6 0.6l77.3 0.2V1.6z"/><path class="k1" d="M21.9 1.6V-10.9l1.5 1.4l1.5 0.5l1.4 -0.1l3 2.9V1.6z"/><path class="k2" d="M19 1.6V-14.7l1.5 -3.9l1.4 7.7V1.6z"/><path class="k3" d="M16.1 1.6V-23.8l1.5 -0.2l1.4 9.3V1.6z"/><path class="k4" d="M11.7 1.6V-30.8l1.5 9.3V1.6z"/><path class="k5" d="M13.2 1.6V-21.5l1.4 -11.1l1.5 8.8V1.6z"/><path class="k6" d="M10.2 1.6V-42.7l1.5 11.9V1.6z"/><path class="k7" d="M8.8 1.6V-49.4l1.4 6.7V1.6z"/><path class="k9" d="M4.4 1.6V-55.4l1.5 -6.8V1.6z"/><path class="k11" d="M5.9 1.6V-62.2l1.4 -10.7l1.5 23.5V1.6z"/><path class="k16" d="M2.9 1.6V-104.4l1.5 49V1.6z"/><path class="k20" d="M0 1.6V-130.5l1.5 0l1.4 26.1V1.6z"/></g>
<g transform="matrix(1 0.4314 0 1 772.3 556.1)"><path class="k0" d="M29.3 1.6V-5.7l4.4 2.7l1.4 -0.8l1.5 0l1.4 0.7l19.4 -0.4l38.6 1l19.3 -0.3l29 0.6l38.6 -0.1V1.6z"/><path class="k1" d="M21.9 1.6V-12.3l7.4 6.6V1.6z"/><path class="k2" d="M17.6 1.6V-16.8l1.4 0.7l1.5 2.4l1.4 1.4V1.6z"/><path class="k4" d="M14.6 1.6V-29.6l1.5 2l1.5 10.8V1.6z"/><path class="k5" d="M11.7 1.6V-32.5l1.5 -3.1l1.4 6V1.6z"/><path class="k7" d="M10.2 1.6V-45.5l1.5 13V1.6z"/><path class="k8" d="M7.3 1.6V-54.1l1.5 1.7l1.4 6.9V1.6z"/><path class="k11" d="M5.9 1.6V-74.4l1.4 20.3V1.6z"/><path class="k12" d="M4.4 1.6V-76.4l1.5 2V1.6z"/><path class="k14" d="M1.5 1.6V-78.4l1.4 -12.3l1.5 14.3V1.6z"/><path class="k15" d="M0 1.6V-98.8l1.5 20.4V1.6z"/></g>
<g transform="matrix(1 0.4315 0 1 771.2 556.4)"><path class="k0" d="M24.9 1.6V-5.1l2.9 1.4l1.5 0l1.4 0.7l1.5 0.3l2.9 0.2l1.5 -0.4l1.4 0.3l19.4 0.2l9.6 -0.2l29 0.1l9.6 0.3l77.3 0.2V1.6z"/><path class="k1" d="M20.5 1.6V-10.1l1.4 3.2l1.5 0.1l1.5 1.7V1.6z"/><path class="k2" d="M13.2 1.6V-16.1l1.4 2.9l1.5 -4.5l1.5 3.8l1.4 1.2l1.5 2.6V1.6z"/><path class="k4" d="M7.3 1.6V-26.3l1.5 -4.2V1.6zM11.7 1.6V-26.7l1.5 10.6V1.6z"/><path class="k5" d="M8.8 1.6V-30.5l1.4 -2.1l1.5 5.9V1.6z"/><path class="k6" d="M2.9 1.6V-43l1.5 24.5V1.6z"/><path class="k7" d="M4.4 1.6V-18.5l1.5 -28.9l1.4 21.1V1.6z"/><path class="k8" d="M0 1.6V-53.7l1.5 0l1.4 10.7V1.6z"/></g>
<g transform="matrix(1 0.4316 0 1 770 556.7)"><path class="k0" d="M24.9 1.6V-5.7l4.4 2.9l1.4 0.5l1.5 0.1l5.8 -0.2l19.4 0.3l125.5 0.2V1.6z"/><path class="k1" d="M17.6 1.6V-11.9l1.4 1.6l5.9 4.6V1.6z"/><path class="k2" d="M13.2 1.6V-17.9l1.4 4.4l3 1.6V1.6z"/><path class="k3" d="M11.7 1.6V-22.8l1.5 4.9V1.6z"/><path class="k4" d="M0 1.6V-27l1.5 -1V1.6zM8.8 1.6V-30.2l2.9 7.4V1.6z"/><path class="k5" d="M7.3 1.6V-34.3l1.5 4.1V1.6z"/><path class="k6" d="M1.5 1.6V-28l1.4 -12.9l1.5 -2l2.9 8.6V1.6z"/></g>
<g transform="matrix(1 0.4318 0 1 768.8 557)"><path class="k0" d="M23.4 1.6V-5.4l5.9 3.1l4.4 0.1l4.3 -0.3l19.4 0.4l125.5 0.2V1.6z"/><path class="k1" d="M17.6 1.6V-10.5l1.4 2.4l3 1.6l1.4 1.1V1.6z"/><path class="k2" d="M11.7 1.6V-16.3l1.5 -2.2l1.4 6.1l1.5 -1l1.5 2.9V1.6z"/><path class="k3" d="M8.8 1.6V-23.6l1.4 -1.3l1.5 8.6V1.6z"/><path class="k5" d="M5.9 1.6V-36.4l1.4 4l1.5 8.8V1.6z"/><path class="k6" d="M2.9 1.6V-33.5l1.5 -7l1.5 4.1V1.6z"/><path class="k7" d="M0 1.6V-43.2l1.5 -4.8l1.4 14.5V1.6z"/></g>
<g transform="matrix(1 0.4319 0 1 767.6 557.3)"><path class="k0" d="M24.9 1.6V-6l2.9 2.1l2.9 1.6l4.4 0.2l1.5 -0.3l40.1 0.4l106.2 0.1V1.6z"/><path class="k1" d="M17.6 1.6V-12.3l7.3 6.3V1.6z"/><path class="k2" d="M0 1.6V-18l5.9 0.2l2.9 0.6l4.4 1.9l4.4 3V1.6z"/></g>
<g transform="matrix(1 0.4320 0 1 766.4 557.6)"><path class="k0" d="M22 1.6V-6.2l4.3 2.9l3 1.3l153.7 0.2V1.6z"/><path class="k1" d="M17.6 1.6V-10.9l1.4 2.6l3 2.1V1.6z"/><path class="k2" d="M8.8 1.6V-16.4l1.4 3V1.6zM13.2 1.6V-17.9l4.4 7V1.6z"/><path class="k3" d="M10.2 1.6V-13.4l1.5 -7.5l1.5 3V1.6z"/><path class="k4" d="M0 1.6V-28.8l1.5 -0.1V1.6zM7.3 1.6V-26.7l1.5 10.3V1.6z"/><path class="k5" d="M5.9 1.6V-35.4l1.4 8.7V1.6z"/><path class="k6" d="M1.5 1.6V-28.9l1.4 -14.3l3 7.8V1.6z"/></g>
<g transform="matrix(1 0.4321 0 1 765.2 557.9)"><path class="k0" d="M24.9 1.6V-6l2.9 2.5l2.9 1.7l152.3 0.1V1.6z"/><path class="k1" d="M20.5 1.6V-11.1l4.4 5.1V1.6z"/><path class="k2" d="M14.6 1.6V-18.1l5.9 7V1.6z"/><path class="k3" d="M2.9 1.6V-23.8l3 0.3l2.9 1l2.9 1.8l2.9 2.6V1.6z"/><path class="k4" d="M0 1.6V-23.9l1.5 -4.2l1.4 4.3V1.6z"/></g>
<g transform="matrix(1 0.4323 0 1 764 558.2)"><path class="k0" d="M26.3 1.6V-5l4.4 2.9l3 0.2l149.3 0.1V1.6z"/><path class="k1" d="M20.5 1.6V-10.9l5.8 5.9V1.6z"/><path class="k2" d="M13.2 1.6V-18l2.9 2.5l4.4 4.6V1.6z"/><path class="k3" d="M0 1.6V-21.7l1.5 -2.5l1.4 1.8l1.5 0.9l4.4 1l2.9 1.4l1.5 1.1V1.6z"/></g>
<g transform="matrix(1 0.4324 0 1 762.9 558.5)"><path class="k0" d="M26.4 1.6V-5.7l4.3 2.8l1.5 0.4l1.5 -0.4l1.4 0.4l1.5 -0.4l11.1 0.4l58 0.4l77.3 0.1V1.6z"/><path class="k1" d="M19 1.6V-11.7l7.4 6V1.6z"/><path class="k2" d="M2.9 1.6V-18.1l1.5 0.1V1.6zM10.2 1.6V-17.2l4.4 2.3l4.4 3.2V1.6z"/><path class="k3" d="M0 1.6V-18.1l1.5 -3.5l1.4 3.5V1.6zM7.3 1.6V-22.4l2.9 5.2V1.6z"/><path class="k4" d="M4.4 1.6V-18l1.5 -7.2l1.4 2.8V1.6z"/></g>
<g transform="matrix(1 0.4325 0 1 761.7 558.8)"><path class="k0" d="M29.3 1.6V-5.5l4.4 2.5l1.4 0l1.5 -0.7l1.5 0.5l9.6 0.4l29 0l9.7 0.3l9.6 -0.2l19.4 0.4l67.6 0V1.6z"/><path class="k1" d="M22 1.6V-12.2l7.3 6.7V1.6z"/><path class="k2" d="M17.6 1.6V-16.1l4.4 3.9V1.6z"/><path class="k3" d="M14.6 1.6V-22.2l3 6.1V1.6z"/><path class="k4" d="M1.5 1.6V-26.2l1.4 -1.8V1.6zM11.7 1.6V-19.9l1.5 -6.1l1.4 3.8V1.6z"/><path class="k5" d="M10.2 1.6V-35l1.5 15.1V1.6z"/><path class="k6" d="M0 1.6V-42.6l1.5 16.4V1.6zM7.3 1.6V-42.9l1.5 2.8l1.4 5.1V1.6z"/><path class="k8" d="M2.9 1.6V-28l1.5 -26.3l1.5 3.1l1.4 8.3V1.6z"/></g>
<g transform="matrix(1 0.4326 0 1 760.5 559.1)"><path class="k0" d="M27.8 1.6V-5.4l2.9 1.8l1.5 0.3l5.9 -0.3l19.3 0.7l9.7 -0.4l19.3 0.5l9.6 -0.1l9.7 0.5l29 -0.2l19.3 0.5l19.4 -0.3l9.6 0.3V1.6z"/><path class="k1" d="M19 1.6V-12l8.8 6.6V1.6z"/><path class="k2" d="M7.3 1.6V-16.9l5.9 1.6l5.8 3.3V1.6z"/><path class="k3" d="M2.9 1.6V-17.3l1.5 -7.5l1.5 2.5l1.4 5.4V1.6z"/><path class="k4" d="M0 1.6V-30.7l1.5 2l1.4 11.4V1.6z"/></g>
<g transform="matrix(1 0.4328 0 1 759.3 559.4)"><path class="k0" d="M24.9 1.6V-6l1.5 1.4l1.4 0.2l1.5 1.3l2.9 0l1.5 0.4l1.4 -0.4l1.5 0l11.1 0.1l9.7 0.5l9.7 -0.5l9.6 0.6l9.7 0.1l29 -0.2l67.6 0.5V1.6z"/><path class="k1" d="M20.5 1.6V-11.5l1.5 4.3l1.4 -1.2l1.5 2.4V1.6z"/><path class="k2" d="M16.1 1.6V-15.8l1.5 6.1l1.4 -4.6l1.5 2.8V1.6z"/><path class="k3" d="M11.7 1.6V-20.8l2.9 -1.1l1.5 6.1V1.6z"/><path class="k5" d="M10.2 1.6V-32l1.5 11.2V1.6z"/><path class="k6" d="M7.3 1.6V-26.8l1.5 -13.7l1.4 8.5V1.6z"/><path class="k7" d="M4.4 1.6V-29.1l1.5 -15.2l1.4 17.5V1.6z"/><path class="k12" d="M2.9 1.6V-75.5l1.5 46.4V1.6z"/><path class="k15" d="M0 1.6V-94.4l1.5 0l1.4 18.9V1.6z"/></g>
<g transform="matrix(1 0.4329 0 1 758.1 559.7)"><path class="k0" d="M29.3 1.6V-4.4l8.8 2.1l144.9 0.4V1.6z"/><path class="k1" d="M23.4 1.6V-6.8l1.5 0.6l1.5 -2.9l2.9 4.7V1.6z"/><path class="k2" d="M17.6 1.6V-15.2l1.4 -1.8l1.5 4.7l1.5 -0.7l1.4 6.2V1.6z"/><path class="k3" d="M16.1 1.6V-24l1.5 8.8V1.6z"/><path class="k4" d="M14.6 1.6V-28.5l1.5 4.5V1.6z"/><path class="k5" d="M10.3 1.6V-35l1.4 3.2l1.5 -3.5l1.4 6.8V1.6z"/><path class="k8" d="M5.9 1.6V-43.3l1.4 -12.4V1.6z"/><path class="k9" d="M4.4 1.6V-60.5l1.5 17.2V1.6zM7.3 1.6V-55.7l1.5 -3l1.5 23.7V1.6z"/><path class="k22" d="M2.9 1.6V-137.6l1.5 77.1V1.6z"/><path class="k27" d="M0 1.6V-172l1.5 0l1.4 34.4V1.6z"/></g>
<g transform="matrix(1 0.4330 0 1 756.9 560)"><path class="k0" d="M24.9 1.6V-5.8l1.5 0.4l1.4 1.4l1.5 0.1l1.5 1.2l1.4 0.6l1.5 -0.7l1.4 0.6l1.5 0.2l146.5 0.2V1.6z"/><path class="k1" d="M19 1.6V-11.8l1.5 2.2l1.5 1.3l1.4 0.5l1.5 2V1.6z"/><path class="k2" d="M14.6 1.6V-14.5l1.5 -0.4l1.5 -1.9l1.4 5V1.6z"/><path class="k3" d="M11.7 1.6V-16.3l1.5 -3l1.4 4.8V1.6z"/><path class="k5" d="M8.8 1.6V-31.7l1.5 -3.6l1.4 19V1.6z"/><path class="k6" d="M4.4 1.6V-39.5l1.5 0.1l1.4 -1.2l1.5 8.9V1.6z"/><path class="k12" d="M2.9 1.6V-75.4l1.5 35.9V1.6z"/><path class="k15" d="M0 1.6V-94.2l1.5 0l1.4 18.8V1.6z"/></g>
<g transform="matrix(1 0.4331 0 1 755.7 560.3)"><path class="k0" d="M24.9 1.6V-5.1l1.5 -0.7l1.4 2.5l3 0.1l1.4 0.8l1.5 0.2l4.4 0.1l19.3 -0.2l125.7 0.4V1.6z"/><path class="k1" d="M20.5 1.6V-8.2l1.5 0.4l1.4 -0.4l1.5 3.1V1.6z"/><path class="k2" d="M17.6 1.6V-17.6l2.9 9.4V1.6z"/><path class="k3" d="M13.2 1.6V-12.7l1.4 -9l3 4.1V1.6z"/><path class="k4" d="M10.3 1.6V-21.6l1.4 -6.1l1.5 15V1.6z"/><path class="k5" d="M4.4 1.6V-35.1l1.5 11.9l1.4 -8.6l1.5 -2.8l1.5 13V1.6z"/><path class="k8" d="M0 1.6V-54.2l1.5 0V1.6z"/><path class="k9" d="M1.5 1.6V-54.2l1.4 -3l1.5 22.1V1.6z"/></g>
<g transform="matrix(1 0.4333 0 1 754.6 560.7)"><path class="k0" d="M29.3 1.6V-5.6l2.9 2.1l3 0.1l1.4 0.5l1.5 -0.2l19.3 0.4l19.3 -0.2l58 0.8l48.4 0V1.6z"/><path class="k1" d="M23.4 1.6V-11.3l5.9 5.7V1.6z"/><path class="k2" d="M16.1 1.6V-18.6l7.3 7.3V1.6z"/><path class="k3" d="M7.3 1.6V-24.9l1.5 2.1l2.9 1.2l4.4 3V1.6z"/><path class="k5" d="M1.5 1.6V-23.7l1.4 -12.5l1.5 5.1l1.5 -3l1.4 9.2V1.6z"/><path class="k7" d="M0 1.6V-48.1l1.5 24.4V1.6z"/></g>
<g transform="matrix(1 0.4334 0 1 753.4 561)"><path class="k0" d="M29.3 1.6V-5.4l1.5 1.1l2.9 1.4l1.5 -0.3l2.9 0.4l29 -0.2l29 0.6l19.3 -0.2l19.4 0.4l48.3 0V1.6z"/><path class="k1" d="M22 1.6V-12.4l7.3 7V1.6z"/><path class="k2" d="M16.1 1.6V-18.5l1.5 1.9l4.4 4.2V1.6z"/><path class="k3" d="M5.9 1.6V-22.4l1.4 -1l1.5 1.6V1.6zM11.7 1.6V-20.7l1.5 -0.6l1.4 2.4l1.5 0.4V1.6z"/><path class="k5" d="M8.8 1.6V-21.8l1.5 -12.1l1.4 13.2V1.6z"/><path class="k8" d="M2.9 1.6V-22.6l1.5 -33.4l1.5 33.6V1.6z"/><path class="k10" d="M1.5 1.6V-66.3l1.4 43.7V1.6z"/><path class="k11" d="M0 1.6V-69.4l1.5 3.1V1.6z"/></g>
<g transform="matrix(1 0.4335 0 1 752.2 561.3)"><path class="k0" d="M26.4 1.6V-5.7l2.9 2.1l2.9 1.2l1.5 -0.3l1.5 0.3l2.9 -0.3l9.7 0.4l29 0.2l29 -0.2l77.3 0.4V1.6z"/><path class="k1" d="M19 1.6V-12.1l7.4 6.4V1.6z"/><path class="k2" d="M10.3 1.6V-17.8l4.3 2.2l4.4 3.5V1.6z"/><path class="k3" d="M7.3 1.6V-19l1.5 -4.2l1.5 5.4V1.6z"/><path class="k4" d="M4.4 1.6V-19.1l1.5 -10.6l1.4 10.7V1.6z"/><path class="k5" d="M2.9 1.6V-36.3l1.5 17.2V1.6z"/><path class="k6" d="M0 1.6V-22.7l1.5 -16.4l1.4 2.8V1.6z"/></g>
<g transform="matrix(1 0.4336 0 1 751 561.6)"><path class="k0" d="M24.9 1.6V-5.3l1.5 0.4l4.4 2.4l1.4 0.3l5.9 -0.4l38.7 0.5l106.3 0.1V1.6z"/><path class="k1" d="M17.6 1.6V-11.4l1.4 1.9l5.9 4.2V1.6z"/><path class="k2" d="M16.1 1.6V-18l1.5 6.6V1.6z"/><path class="k3" d="M10.3 1.6V-24.9l1.4 11.3V1.6zM14.6 1.6V-20.6l1.5 2.6V1.6z"/><path class="k4" d="M11.7 1.6V-13.6l1.5 -12.9l1.4 5.9V1.6z"/><path class="k6" d="M7.3 1.6V-14.7l1.5 -26.2l1.5 16V1.6z"/><path class="k8" d="M2.9 1.6V-33.9l1.5 -16.8l1.5 -1.6l1.4 37.6V1.6z"/><path class="k11" d="M0 1.6V-38.3l1.5 -30.6l1.4 35V1.6z"/></g>
<g transform="matrix(1 0.4338 0 1 749.8 561.9)"><path class="k0" d="M26.4 1.6V-5.9l4.4 2.5l1.4 -0.7l1.5 0.6l4.4 -0.4l9.7 0.6l9.6 -0.2l29 0.9l9.7 -0.5l9.7 0.6l19.3 -0.2l9.7 0.3l48.3 0V1.6z"/><path class="k1" d="M16.1 1.6V-12.2l10.3 6.3V1.6z"/><path class="k2" d="M7.3 1.6V-14.9l4.4 0.9l4.4 1.8V1.6z"/><path class="k3" d="M2.9 1.6V-23.6l1.5 -0.3l1.5 -1l1.4 10V1.6z"/><path class="k4" d="M0 1.6V-21.7l1.5 -4.4l1.4 2.5V1.6z"/></g>
<g transform="matrix(1 0.4339 0 1 748.6 562.2)"><path class="k0" d="M30.8 1.6V-5.9l1.4 1V1.6zM36.6 1.6V-4.9l1.5 -0.8l19.3 1.4l9.7 -1.1l19.3 1.8l9.7 -0.3l9.7 0.4l9.7 -0.7l9.6 0.9l29 0.5l9.7 -0.5l19.3 0.2V1.6z"/><path class="k1" d="M20.5 1.6V-12.1l8.8 5.6l1.5 0.6V1.6zM32.2 1.6V-4.9l1.5 -1.5l1.5 0l1.4 1.5V1.6z"/><path class="k2" d="M11.7 1.6V-15.8l5.9 2.1l2.9 1.6V1.6z"/><path class="k5" d="M8.8 1.6V-16.3l1.5 -15.5l1.4 16V1.6z"/><path class="k6" d="M7.3 1.6V-41.5l1.5 25.2V1.6z"/><path class="k7" d="M5.9 1.6V-46.7l1.4 5.2V1.6z"/><path class="k8" d="M4.4 1.6V-51.9l1.5 5.2V1.6z"/><path class="k9" d="M0 1.6V-29.2l1.5 -29.8l1.4 2l1.5 5.1V1.6z"/></g>
<g transform="matrix(1 0.4340 0 1 747.4 562.5)"><path class="k0" d="M33.7 1.6V-5.7l1.5 -0.5V1.6zM47.8 1.6V-6l9.6 1.3l9.7 -1l9.7 1.4l9.6 0.6l9.7 -1l9.7 0.2l19.3 1.3l9.7 0l9.7 -0.5l9.6 0.9l9.7 -0.4l9.7 0.6l9.7 -0.4V1.6z"/><path class="k1" d="M24.9 1.6V-12.4l7.3 6l1.5 0.7V1.6zM35.2 1.6V-6.2l2.9 -0.4l9.7 0.6V1.6z"/><path class="k2" d="M17.6 1.6V-17.9l7.3 5.5V1.6z"/><path class="k3" d="M13.2 1.6V-21.9l1.5 2.4l2.9 1.6V1.6z"/><path class="k4" d="M10.3 1.6V-26.3l1.4 -1.1l1.5 5.5V1.6z"/><path class="k5" d="M8.8 1.6V-36.3l1.5 10V1.6z"/><path class="k6" d="M5.9 1.6V-34.4l1.4 -6.9l1.5 5V1.6z"/><path class="k8" d="M2.9 1.6V-44.2l1.5 -7.4l1.5 17.2V1.6z"/><path class="k9" d="M0 1.6V-30.7l1.5 -30.4l1.4 16.9V1.6z"/></g>
<g transform="matrix(1 0.4341 0 1 746.3 562.8)"><path class="k0" d="M29.3 1.6V-5.8l2.9 1.8l1.5 -0.4l1.5 0.6l1.4 0.1l1.5 -0.4l9.7 -0.7l9.6 1.2l9.7 -0.7l9.7 1.1l19.3 -0.4l9.7 0.5l9.7 -0.3l9.6 0.4l19.4 0l19.3 0.6l19.4 -0.3V1.6z"/><path class="k1" d="M20.5 1.6V-12.2l8.8 6.4V1.6z"/><path class="k2" d="M14.7 1.6V-15.6l1.4 -0.5l1.5 2l2.9 1.9V1.6z"/><path class="k3" d="M13.2 1.6V-20.9l1.5 5.3V1.6z"/><path class="k4" d="M10.3 1.6V-23.6l1.4 -2.3l1.5 5V1.6z"/><path class="k5" d="M5.9 1.6V-34.7l1.4 2l1.5 -1.6l1.5 10.7V1.6z"/><path class="k6" d="M4.4 1.6V-40.9l1.5 6.2V1.6z"/><path class="k8" d="M0 1.6V-52.3l1.5 25.8l1.4 -27l1.5 12.6V1.6z"/></g>
<g transform="matrix(1 0.4342 0 1 745.1 563.1)"><path class="k0" d="M30.8 1.6V-5.2l2.9 1.8l14.1 0.5l9.6 -0.8l9.7 0.9l9.7 -0.6l9.7 0.8l19.3 0.1l9.7 -0.4l9.6 0.5l19.4 -0.2l19.3 0.4l19.4 0V1.6z"/><path class="k1" d="M23.4 1.6V-11.9l4.4 4.3l3 2.4V1.6z"/><path class="k2" d="M16.1 1.6V-18.6l3 2.4l4.3 4.3V1.6z"/><path class="k3" d="M1.5 1.6V-23.1l2.9 0.1l4.4 0.7l4.4 1.8l2.9 1.9V1.6z"/><path class="k4" d="M0 1.6V-29.4l1.5 6.3V1.6z"/></g>
<g transform="matrix(1 0.4344 0 1 743.9 563.4)"><path class="k0" d="M30.8 1.6V-5.1l2.9 1.9l1.5 -0.6l1.4 0.5l1.5 -0.6l9.7 0.8l19.3 0.3l9.7 -0.5l19.3 0.4l9.7 -0.1l19.4 0.6l19.3 -0.2l9.7 0.3l29 0V1.6z"/><path class="k1" d="M23.4 1.6V-11.9l7.4 6.8V1.6z"/><path class="k2" d="M17.6 1.6V-17.5l5.8 5.6V1.6z"/><path class="k3" d="M11.7 1.6V-21.3l1.5 0.8V1.6zM16.1 1.6V-18.8l1.5 1.3V1.6z"/><path class="k4" d="M13.2 1.6V-20.5l1.5 -5.8l1.4 7.5V1.6z"/><path class="k5" d="M8.8 1.6V-26.7l1.5 -7.6l1.4 13V1.6z"/><path class="k6" d="M4.4 1.6V-41.6l1.5 4.4V1.6z"/><path class="k7" d="M5.9 1.6V-37.2l1.4 -7.9l1.5 18.4V1.6z"/><path class="k11" d="M2.9 1.6V-71.5l1.5 29.9V1.6z"/><path class="k13" d="M0 1.6V-84.9l1.5 0l1.4 13.4V1.6z"/></g>
<g transform="matrix(1 0.4345 0 1 742.7 563.7)"><path class="k0" d="M30.8 1.6V-5.3l2.9 1.9l1.5 -0.4l1.4 0.7l1.5 0.1l9.7 -0.5l19.3 0.7l19.4 -0.1l48.3 0.6l48.4 0V1.6z"/><path class="k1" d="M23.5 1.6V-12.1l1.4 0.2l1.5 2.9l1.4 -0.4l1.5 3.1l1.5 1V1.6z"/><path class="k2" d="M19.1 1.6V-18.5l2.9 4.9l1.5 1.5V1.6z"/><path class="k3" d="M16.1 1.6V-19.9l1.5 -4.4l1.5 5.8V1.6z"/><path class="k4" d="M10.3 1.6V-27.3l1.4 2.3l1.5 -2.8l1.5 1.1l1.4 6.8V1.6z"/><path class="k8" d="M7.3 1.6V-26.8l1.5 -23.8l1.5 23.3V1.6z"/><path class="k11" d="M4.4 1.6V-57l1.5 -12.3l1.4 42.5V1.6z"/><path class="k23" d="M2.9 1.6V-147.8l1.5 90.8V1.6z"/><path class="k29" d="M0 1.6V-184.8l1.5 0l1.4 37V1.6z"/></g>
<g transform="matrix(1 0.4346 0 1 741.5 564)"><path class="k0" d="M30.8 1.6V-3.8l1.4 0.8l1.5 -1.2l1.5 1.4l1.4 0.4l20.9 -0.3l38.7 0.5l87 0.2V1.6z"/><path class="k1" d="M24.9 1.6V-8.9l1.5 1.1l1.4 1.7l1.5 -1l1.5 3.3V1.6z"/><path class="k2" d="M19.1 1.6V-16.9l1.4 3.2l1.5 -1.7l2.9 6.5V1.6z"/><path class="k3" d="M16.1 1.6V-20.8l1.5 1.1l1.5 2.8V1.6z"/><path class="k5" d="M13.2 1.6V-35.7l1.5 3.3l1.4 11.6V1.6z"/><path class="k6" d="M11.7 1.6V-37.8l1.5 2.1V1.6z"/><path class="k7" d="M8.8 1.6V-35.7l1.5 -12.5l1.4 10.4V1.6z"/><path class="k11" d="M7.3 1.6V-71.6l1.5 35.9V1.6z"/><path class="k13" d="M4.4 1.6V-62.3l1.5 -21.5l1.4 12.2V1.6z"/><path class="k18" d="M2.9 1.6V-114.1l1.5 51.8V1.6z"/><path class="k22" d="M0 1.6V-142.6l1.5 0l1.4 28.5V1.6z"/></g>
<g transform="matrix(1 0.4347 0 1 740.3 564.3)"><path class="k0" d="M23.5 1.6V-5.6l4.4 2.6l2.9 0.8l5.8 -0.2l20.9 0.3l125.7 0.2V1.6z"/><path class="k1" d="M14.7 1.6V-11.8l1.4 -0.2l1.5 2.5l1.5 -0.1l1.4 2l3 2V1.6z"/><path class="k2" d="M11.7 1.6V-14.4l3 2.6V1.6z"/><path class="k3" d="M5.9 1.6V-19.5l1.4 -0.1l1.5 2.3l1.5 -4.6l1.4 7.5V1.6z"/><path class="k5" d="M4.4 1.6V-35.5l1.5 16V1.6z"/><path class="k6" d="M2.9 1.6V-42.1l1.5 6.6V1.6z"/><path class="k8" d="M0 1.6V-52.6l1.5 0l1.4 10.5V1.6z"/></g>
<g transform="matrix(1 0.4349 0 1 739.1 564.6)"><path class="k0" d="M26.4 1.6V-5.8l4.4 2.8l1.5 0.4l1.4 -0.3l1.5 0.4l1.4 -0.4l1.5 0.3l29 -0.1l19.4 0.5l96.7 0.2V1.6z"/><path class="k1" d="M19.1 1.6V-11.8l1.4 0.6l1.5 1.8l4.4 3.6V1.6z"/><path class="k2" d="M17.6 1.6V-13l1.5 1.2V1.6z"/><path class="k3" d="M11.7 1.6V-23.3l1.5 3.8l1.5 -3.2l1.4 3.5l1.5 6.2V1.6z"/><path class="k5" d="M8.8 1.6V-22.2l1.5 -13.6l1.4 12.5V1.6z"/><path class="k7" d="M2.9 1.6V-47.9l1.5 1.7l1.5 28.2l1.4 -28.6l1.5 24.4V1.6z"/><path class="k9" d="M0 1.6V-61.9l1.5 1.5l1.4 12.5V1.6z"/></g>
<g transform="matrix(1 0.4350 0 1 738 564.9)"><path class="k0" d="M27.9 1.6V-5.9l1.4 1l1.5 0.6l1.5 0l1.4 0.9l1.5 -0.7l12.6 0.7l19.3 -0.4l19.4 1.1l9.7 -0.6l19.3 0.7l19.4 -0.2l19.3 0.4l29.1 0V1.6z"/><path class="k1" d="M19.1 1.6V-12l8.8 6.1V1.6z"/><path class="k2" d="M5.9 1.6V-16.7l4.4 0.7l2.9 0.9l5.9 3.1V1.6z"/><path class="k3" d="M0 1.6V-23.3l1.5 1.8l1.4 4.7l1.5 -2l1.5 2.1V1.6z"/></g>
<g transform="matrix(1 0.4351 0 1 736.8 565.3)"><path class="k0" d="M32.3 1.6V-5.8l1.4 -0.1l3 0.5l1.4 1.2l19.4 -0.7l19.3 0.2l9.7 1.4l19.4 -0.7l9.6 0.6l19.4 0.6l9.7 -0.4l9.6 0.5l29.1 0.1V1.6z"/><path class="k1" d="M24.9 1.6V-11.6l4.4 3.8l3 2V1.6z"/><path class="k2" d="M16.1 1.6V-18.1l4.4 2.9l4.4 3.6V1.6z"/><path class="k3" d="M11.7 1.6V-21.6l1.5 2.1l2.9 1.4V1.6z"/><path class="k4" d="M7.3 1.6V-21.1l1.5 -7.6l2.9 7.1V1.6z"/><path class="k5" d="M0 1.6V-35.2l1.5 11.3V1.6zM5.9 1.6V-36.7l1.4 15.6V1.6z"/><path class="k6" d="M1.5 1.6V-23.9l1.4 -16.3l1.5 -0.6l1.5 4.1V1.6z"/></g>
<g transform="matrix(1 0.4352 0 1 735.6 565.6)"><path class="k0" d="M29.3 1.6V-6l1.5 -0.2l1.5 0.2l1.4 1.6l1.5 -1l1.5 0.5l11.1 0.7l9.7 -0.9l9.7 1l19.3 0.7l9.7 -0.8l9.7 0.1l9.6 1l29.1 -0.2l38.7 0.6V1.6z"/><path class="k1" d="M14.7 1.6V-11.5l5.8 2.2l5.9 2.9l1.5 -0.2l1.4 0.6V1.6z"/><path class="k2" d="M4.4 1.6V-12.9l1.5 -5V1.6zM8.8 1.6V-18.1l1.5 0.3l1.4 3.5l1.5 1.1l1.5 1.7V1.6z"/><path class="k3" d="M2.9 1.6V-20.7l1.5 7.8V1.6zM5.9 1.6V-17.9l1.4 -0.8l1.5 0.6V1.6z"/><path class="k5" d="M0 1.6V-35.9l1.5 1.6l1.4 13.6V1.6z"/></g>
<g transform="matrix(1 0.4354 0 1 734.4 565.9)"><path class="k0" d="M32.3 1.6V-5.5l1.4 1l1.5 -0.6l1.5 1l11.1 0.6l9.7 -0.9l9.7 1l19.3 0.3l9.7 -0.4l9.7 0.6l9.6 -0.4l19.4 0.1l9.7 0.5l19.3 -0.2l19.4 0.3V1.6z"/><path class="k1" d="M24.9 1.6V-12l7.4 6.5V1.6z"/><path class="k2" d="M17.6 1.6V-18.6l7.3 6.6V1.6z"/><path class="k3" d="M4.4 1.6V-23.4l1.5 -0.8V1.6zM8.8 1.6V-24.7l1.5 -0.1l1.4 2.9l3 1.4l2.9 1.9V1.6z"/><path class="k5" d="M0 1.6V-23.5l1.5 -9.8V1.6zM5.9 1.6V-24.2l1.4 -9l1.5 8.5V1.6z"/><path class="k7" d="M1.5 1.6V-33.3l1.4 -12.3l1.5 22.2V1.6z"/></g>
<g transform="matrix(1 0.4355 0 1 733.2 566.2)"><path class="k0" d="M26.4 1.6V-6.1l2.9 1.7l1.5 0l1.5 0.6l2.9 -0.7l1.5 0.4l1.4 -0.3l9.7 0.2l9.7 0.9l9.7 0.3l29 0.3l19.4 -0.4l48.3 0.8l19.4 -0.2V1.6z"/><path class="k1" d="M16.1 1.6V-12.2l3 1.5l7.3 4.6V1.6z"/><path class="k2" d="M4.4 1.6V-14.9l2.9 0.1l3 0.6l5.8 2V1.6z"/><path class="k3" d="M0 1.6V-23l1.5 2.7l1.4 0l1.5 5.4V1.6z"/></g>
<g transform="matrix(1 0.4356 0 1 732 566.5)"><path class="k0" d="M26.4 1.6V-5.7l2.9 1.8l3 1.1l1.4 0l1.5 -0.6l1.5 -0.1l1.4 0.8l19.4 -0.3l19.3 0.5l9.7 -0.2l19.4 0.4l29 -0.2l48.4 0.4V1.6z"/><path class="k1" d="M17.6 1.6V-11.9l8.8 6.2V1.6z"/><path class="k2" d="M2.9 1.6V-16.6l3 0.6V1.6zM8.8 1.6V-16.5l1.5 1.3l4.4 1.6l2.9 1.7V1.6z"/><path class="k3" d="M5.9 1.6V-16l1.4 -2.7l1.5 2.2V1.6z"/><path class="k4" d="M0 1.6V-20.6l1.5 -4.7l1.4 8.7V1.6z"/></g>
<g transform="matrix(1 0.4357 0 1 730.8 566.8)"><path class="k0" d="M27.9 1.6V-5.7l2.9 2.3l1.5 0.8l1.4 -0.1l1.5 0.4l1.5 -0.3l49.8 0.5l9.7 -0.2l9.7 0.3l77.4 0V1.6z"/><path class="k1" d="M22 1.6V-11.7l5.9 6V1.6z"/><path class="k2" d="M16.1 1.6V-17.9l5.9 6.2V1.6z"/><path class="k3" d="M0 1.6V-23.6l1.5 0V1.6zM4.4 1.6V-23.4l1.5 0.1l1.4 -0.5l1.5 1.3l4.4 2.2l2.9 2.4V1.6z"/><path class="k4" d="M1.5 1.6V-23.6l1.4 -4.8l1.5 5V1.6z"/></g>
<g transform="matrix(1 0.4359 0 1 729.7 567.1)"><path class="k0" d="M26.4 1.6V-6l2.9 2.4l3 1.5l5.8 -0.2l9.7 0.3l19.4 -0.2l29 0.3l87.1 0V1.6z"/><path class="k1" d="M20.5 1.6V-12.1l5.9 6.1V1.6z"/><path class="k2" d="M14.7 1.6V-18.1l5.8 6V1.6z"/><path class="k3" d="M7.3 1.6V-22.1l1.5 0.5l1.5 -0.8l1.4 -1.9l1.5 5.1l1.5 1.1V1.6z"/><path class="k5" d="M4.4 1.6V-22.6l1.5 -14l1.4 14.5V1.6z"/><path class="k6" d="M2.9 1.6V-41.7l1.5 19.1V1.6z"/><path class="k8" d="M1.5 1.6V-52.1l1.4 10.4V1.6z"/><path class="k9" d="M0 1.6V-56.3l1.5 4.2V1.6z"/></g>
<g transform="matrix(1 0.4360 0 1 728.5 567.4)"><path class="k0" d="M27.9 1.6V-5.3l1.4 0l1.5 2.2l1.5 -1l1.4 1.4l1.5 -0.3l2.9 0.8l145.3 0.4V1.6z"/><path class="k1" d="M23.5 1.6V-10.8l1.4 2.3l1.5 0.6l1.5 2.6V1.6z"/><path class="k2" d="M19.1 1.6V-15l1.4 1.7l1.5 -2.6l1.5 5.1V1.6z"/><path class="k3" d="M16.1 1.6V-18.1l1.5 -5.7l1.5 8.8V1.6z"/><path class="k4" d="M13.2 1.6V-20.8l1.5 -4.9l1.4 7.6V1.6z"/><path class="k5" d="M10.3 1.6V-34.4l1.4 1.3l1.5 12.3V1.6z"/><path class="k6" d="M8.8 1.6V-39.3l1.5 4.9V1.6z"/><path class="k8" d="M4.4 1.6V-55l1.5 10.6V1.6z"/><path class="k9" d="M5.9 1.6V-44.4l1.4 -12.5l1.5 17.6V1.6z"/><path class="k21" d="M2.9 1.6V-134.4l1.5 79.4V1.6z"/><path class="k26" d="M0 1.6V-168l1.5 0l1.4 33.6V1.6z"/></g>
<g transform="matrix(1 0.4361 0 1 727.3 567.7)"><path class="k0" d="M24.9 1.6V-4.9l1.5 0.8l1.5 -0.1l1.4 0.7l1.5 0.1l2.9 0.9l4.4 -0.3l19.4 0.5l9.7 -0.2l9.7 0.3l106.5 0.2V1.6z"/><path class="k1" d="M22 1.6V-9l1.5 1.7l1.4 2.4V1.6z"/><path class="k2" d="M14.7 1.6V-16l1.4 -1.2l1.5 7.9l1.5 -5.8l1.4 1.4l1.5 4.7V1.6z"/><path class="k4" d="M11.7 1.6V-24.7l1.5 -2.4l1.5 11.1V1.6z"/><path class="k5" d="M8.8 1.6V-28.4l1.5 -8l1.4 11.7V1.6z"/><path class="k8" d="M5.9 1.6V-32.1l1.4 -20.8l1.5 24.5V1.6z"/><path class="k11" d="M2.9 1.6V-68.5l1.5 -0.2l1.5 36.6V1.6z"/><path class="k13" d="M0 1.6V-85.8l1.5 0.2l1.4 17.1V1.6z"/></g>
<g transform="matrix(1 0.4362 0 1 726.1 568)"><path class="k0" d="M27.9 1.6V-5.2l2.9 1.8l1.5 0.5l4.4 -0.5l20.8 0.8l125.9 0.5V1.6z"/><path class="k1" d="M19.1 1.6V-12.2l8.8 7V1.6z"/><path class="k2" d="M14.7 1.6V-17.6l1.4 2.6l1.5 1.7l1.5 1.1V1.6z"/><path class="k3" d="M10.3 1.6V-21l1.4 3.5l1.5 -1.8l1.5 1.7V1.6z"/><path class="k4" d="M5.9 1.6V-28.7l1.4 -0.5l3 8.2V1.6z"/><path class="k6" d="M4.4 1.6V-43.5l1.5 14.8V1.6z"/><path class="k7" d="M0 1.6V-48.1l1.5 0l1.4 3.6l1.5 1V1.6z"/></g>
<g transform="matrix(1 0.4363 0 1 724.9 568.3)"><path class="k0" d="M29.3 1.6V-5.4l3 2l1.4 -0.1l1.5 0.6l1.5 -0.5l1.4 0l19.4 0.6l29.1 -0.2l19.3 0.6l9.7 -0.2l9.7 0.4l29 -0.2l29.1 0.4V1.6z"/><path class="k1" d="M22 1.6V-11.9l7.3 6.5V1.6z"/><path class="k2" d="M14.7 1.6V-18l2.9 2.1l4.4 4V1.6z"/><path class="k3" d="M0 1.6V-21.4l7.3 0.4l3 0.8l4.4 2.2V1.6z"/></g>
<g transform="matrix(1 0.4365 0 1 723.7 568.6)"><path class="k0" d="M24.9 1.6V-6.1l5.9 3.1l4.4 -0.6l1.5 0.1l1.4 0.6l9.7 -0.6l9.7 0.8l9.7 -0.2l58.1 0.7l58.1 0V1.6z"/><path class="k1" d="M14.7 1.6V-12l2.9 1.4l7.3 4.5V1.6z"/><path class="k2" d="M0 1.6V-16.5l1.5 1.3l1.4 0.2l1.5 0.8l1.5 -2.1l1.4 2.4l3 0.5l4.4 1.4V1.6z"/></g>
<g transform="matrix(1 0.4366 0 1 722.5 568.9)"><path class="k0" d="M29.3 1.6V-5.4l3 2.1l1.4 0.3l1.5 -0.2l1.5 0.4l11.1 -0.2l9.7 0.4l19.4 -0.3l29 0.5l19.4 -0.2l9.7 0.4l48.4 0V1.6z"/><path class="k1" d="M22 1.6V-12.2l7.3 6.8V1.6z"/><path class="k2" d="M16.1 1.6V-17.6l5.9 5.4V1.6z"/><path class="k3" d="M0 1.6V-22.3l1.5 0l1.4 -0.9l1.5 1l4.4 0.7l4.4 1.9l2.9 2V1.6z"/></g>
<g transform="matrix(1 0.4367 0 1 721.4 569.2)"><path class="k0" d="M26.4 1.6V-5.3l4.4 2.4l1.5 -0.2l5.9 0.4l19.3 -0.4l9.7 0.4l29.1 0l9.6 0.4l19.4 -0.2l58.1 0.4V1.6z"/><path class="k1" d="M19.1 1.6V-10.2l7.3 4.9V1.6z"/><path class="k2" d="M17.6 1.6V-12.7l1.5 2.5V1.6z"/><path class="k3" d="M14.7 1.6V-22.7l1.4 3.5l1.5 6.5V1.6z"/><path class="k4" d="M10.3 1.6V-27.4l1.4 5.6l1.5 -4.8l1.5 3.9V1.6z"/><path class="k5" d="M0 1.6V-20.1l1.5 -12.1l1.4 -3.8V1.6z"/><path class="k6" d="M5.9 1.6V-32.5l1.4 -10.9l1.5 2.4l1.5 13.6V1.6z"/><path class="k9" d="M2.9 1.6V-36l1.5 -22.3l1.5 25.8V1.6z"/></g>
<g transform="matrix(1 0.4368 0 1 720.2 569.5)"><path class="k0" d="M27.9 1.6V-5.9l4.4 2.7l1.5 0.2l1.4 -0.7l1.5 -0.1l1.5 0.3l19.3 0.6l9.7 -0.3l29.1 0.7l19.3 -0.2l19.4 0.4l48.4 0V1.6z"/><path class="k1" d="M20.5 1.6V-11.9l7.4 6V1.6z"/><path class="k2" d="M7.3 1.6V-18.5l3 0.7l2.9 1.1l2.9 1.6l4.4 3.2V1.6z"/><path class="k3" d="M0 1.6V-18.9l1.5 -4.8l1.4 4.8l1.5 -1.1l1.5 1.3l1.4 0.2V1.6z"/></g>
<g transform="matrix(1 0.4370 0 1 719 569.8)"><path class="k0" d="M29.4 1.6V-5.7l2.9 2l1.5 -0.3l1.4 0.6l3 -0.2l9.6 0.7l19.4 0.1l9.7 -0.3l19.4 0.5l87.2 0.3V1.6z"/><path class="k1" d="M22 1.6V-12.1l7.4 6.4V1.6z"/><path class="k2" d="M13.2 1.6V-18.6l4.4 2.8l4.4 3.7V1.6z"/><path class="k3" d="M4.4 1.6V-20.9l2.9 0.4l1.5 -2.9l1.5 3l2.9 1.8V1.6z"/><path class="k4" d="M1.5 1.6V-26.8l1.4 1.3l1.5 4.6V1.6z"/><path class="k6" d="M0 1.6V-41.3l1.5 14.5V1.6z"/></g>
<g transform="matrix(1 0.4371 0 1 717.8 570.2)"><path class="k0" d="M27.9 1.6V-6.1l4.4 2.8l1.5 -0.2l2.9 0.3l11.1 -0.7l19.4 0.7l19.4 -0.2l19.4 0.7l77.5 0.4V1.6z"/><path class="k1" d="M20.5 1.6V-11.7l7.4 5.6V1.6z"/><path class="k2" d="M1.5 1.6V-18l1.4 0V1.6zM5.9 1.6V-17.9l4.4 0.8l2.9 1l4.4 2.4l2.9 2V1.6z"/><path class="k3" d="M2.9 1.6V-18l1.5 -6.8l1.5 6.9V1.6z"/><path class="k4" d="M0 1.6V-30.7l1.5 12.7V1.6z"/></g>
<g transform="matrix(1 0.4372 0 1 716.6 570.5)"><path class="k0" d="M29.4 1.6V-5.7l2.9 1.9l1.5 -0.3l1.4 0.6l1.5 -0.5l1.5 0.8l9.7 -0.8l19.3 0.5l9.7 0.6l19.4 -0.3l19.4 0.2l9.7 0.6l58.1 0V1.6z"/><path class="k1" d="M22 1.6V-11.7l7.4 6V1.6z"/><path class="k2" d="M13.2 1.6V-17.8l4.4 2.6l4.4 3.5V1.6z"/><path class="k4" d="M10.3 1.6V-23.8l1.4 -7.1l1.5 13.1V1.6z"/><path class="k6" d="M7.3 1.6V-20.8l1.5 -17.1l1.5 14.1V1.6z"/><path class="k8" d="M4.4 1.6V-27.8l1.5 -24.4l1.4 31.4V1.6z"/><path class="k10" d="M2.9 1.6V-62.8l1.5 35V1.6z"/><path class="k11" d="M0 1.6V-72l1.5 3l1.4 6.2V1.6z"/></g>
<g transform="matrix(1 0.4373 0 1 715.4 570.8)"><path class="k0" d="M29.4 1.6V-5.5l2.9 1.8l1.5 0l1.4 -0.6l1.5 0.9l1.5 -0.4l9.7 0.6l19.3 0.2l19.4 -0.4l9.7 0.1l9.7 0.6l9.7 -0.3l9.7 0.4l58.1 0.4V1.6z"/><path class="k1" d="M22 1.6V-11.4l7.4 5.9V1.6z"/><path class="k2" d="M8.8 1.6V-18.6l2.9 0.8l3 1.3l4.4 2.8l2.9 2.3V1.6z"/><path class="k3" d="M5.9 1.6V-19.2l1.4 -3.4l1.5 4V1.6z"/><path class="k4" d="M1.5 1.6V-26.2l1.4 6.3l1.5 -8.4l1.5 9.1V1.6z"/><path class="k5" d="M0 1.6V-35l1.5 8.8V1.6z"/></g>
<g transform="matrix(1 0.4375 0 1 714.2 571.1)"><path class="k0" d="M26.4 1.6V-6.2l3 2l1.4 -0.3l3 0.6l1.4 0.6l1.5 -0.5l11.2 0.1l9.6 0.7l9.7 -0.5l58.2 0.6l9.7 0.4l9.6 -0.3l19.4 0.6l19.4 -0.2V1.6z"/><path class="k1" d="M19.1 1.6V-12.2l1.5 0.7l1.4 3l3 1.8l1.4 0.5V1.6z"/><path class="k2" d="M13.2 1.6V-17.3l1.5 5V1.6zM17.6 1.6V-15.7l1.5 3.5V1.6z"/><path class="k3" d="M14.7 1.6V-12.3l1.4 -8.2l1.5 4.8V1.6z"/><path class="k4" d="M7.3 1.6V-30.3l1.5 1.8V1.6z"/><path class="k5" d="M11.7 1.6V-34.4l1.5 17.1V1.6z"/><path class="k6" d="M8.8 1.6V-28.5l1.5 -10.8l1.4 4.9V1.6z"/><path class="k7" d="M4.4 1.6V-38.4l1.5 -10.2l1.4 18.3V1.6z"/><path class="k11" d="M0 1.6V-46.9l1.5 -24l1.4 1.6l1.5 30.9V1.6z"/></g>
<g transform="matrix(1 0.4376 0 1 713.1 571.4)"><path class="k0" d="M27.9 1.6V-5.9l2.9 1.8l1.5 -0.3l1.5 0.3l1.4 0.8l3 -0.9l9.7 1.1l38.7 -0.1l19.4 0.5l9.7 -0.3l9.7 0.6l38.7 0.2l19.4 -0.2V1.6z"/><path class="k1" d="M20.6 1.6V-11.3l2.9 2.2l1.5 -0.3l1.4 2.5l1.5 1V1.6z"/><path class="k2" d="M16.1 1.6V-16.8l1.5 -0.2l1.5 1.8l1.5 3.9V1.6z"/><path class="k4" d="M13.2 1.6V-18.9l1.5 -7.5l1.4 9.6V1.6z"/><path class="k5" d="M11.7 1.6V-34.9l1.5 16V1.6z"/><path class="k6" d="M7.3 1.6V-41.7l1.5 8V1.6z"/><path class="k7" d="M8.8 1.6V-33.7l1.5 -11.8l1.4 10.6V1.6z"/><path class="k10" d="M4.4 1.6V-62.6l1.5 -0.8l1.4 21.7V1.6z"/><path class="k19" d="M2.9 1.6V-120.7l1.5 58.1V1.6z"/><path class="k24" d="M0 1.6V-150.9l1.5 0l1.4 30.2V1.6z"/></g>
<g transform="matrix(1 0.4377 0 1 711.9 571.7)"><path class="k0" d="M27.9 1.6V-6.1l1.5 0.5l1.4 1.7l3 -0.3l1.4 0.5l1.5 0.1l1.5 -0.5l9.7 1.1l29 -0.3l58.2 0.9l9.7 -0.2l38.7 0.3V1.6z"/><path class="k1" d="M22 1.6V-10l3 1.8l1.4 1.5l1.5 0.6V1.6z"/><path class="k2" d="M16.2 1.6V-15.3l1.4 2.3l1.5 -2.5l1.5 1.6l1.4 3.9V1.6z"/><path class="k3" d="M13.2 1.6V-20.5l1.5 -4.1l1.5 9.3V1.6z"/><path class="k6" d="M10.3 1.6V-36.5l1.4 -5.5l1.5 21.5V1.6z"/><path class="k7" d="M4.4 1.6V-47l1.5 10.3V1.6z"/><path class="k8" d="M8.8 1.6V-52.8l1.5 16.3V1.6z"/><path class="k9" d="M5.9 1.6V-36.7l1.4 -21l1.5 4.9V1.6z"/><path class="k13" d="M2.9 1.6V-84.7l1.5 37.7V1.6z"/><path class="k17" d="M0 1.6V-105.9l1.5 0l1.4 21.2V1.6z"/></g>
<g transform="matrix(1 0.4378 0 1 710.7 572)"><path class="k0" d="M29.4 1.6V-6.2l2.9 2.2l1.5 0.5l2.9 0.3l1.5 -0.6l19.4 0.8l19.3 -0.1l9.7 0.5l19.4 0.2l9.7 -0.4l19.4 0.5l48.4 0.1V1.6z"/><path class="k1" d="M23.5 1.6V-11.7l5.9 5.5V1.6z"/><path class="k2" d="M16.2 1.6V-18.5l7.3 6.8V1.6z"/><path class="k3" d="M8.8 1.6V-22.1l1.5 -1l1.4 2l4.5 2.6V1.6z"/><path class="k4" d="M4.4 1.6V-26.3l1.5 -0.6l1.4 -3.8l1.5 8.6V1.6z"/><path class="k8" d="M2.9 1.6V-51.3l1.5 25V1.6z"/><path class="k10" d="M0 1.6V-64.2l1.5 0l1.4 12.9V1.6z"/></g>
<g transform="matrix(1 0.4380 0 1 709.5 572.3)"><path class="k0" d="M29.4 1.6V-5.7l4.4 2.8l1.4 -0.5l3 0.4l9.7 -0.3l19.4 0.7l9.6 -0.4l19.4 0.6l87.3 0.1V1.6z"/><path class="k1" d="M23.5 1.6V-11.3l5.9 5.6V1.6z"/><path class="k2" d="M16.2 1.6V-18.2l7.3 6.9V1.6z"/><path class="k3" d="M10.3 1.6V-21.6l4.4 2.1l1.5 1.3V1.6z"/><path class="k4" d="M4.4 1.6V-28.3l1.5 5.6V1.6z"/><path class="k5" d="M8.8 1.6V-35.3l1.5 13.7V1.6z"/><path class="k6" d="M5.9 1.6V-22.7l1.4 -17.5l1.5 4.9V1.6z"/><path class="k8" d="M2.9 1.6V-55.2l1.5 26.9V1.6z"/><path class="k9" d="M1.5 1.6V-59.5l1.4 4.3V1.6z"/><path class="k10" d="M0 1.6V-62.3l1.5 2.8V1.6z"/></g>
<g transform="matrix(1 0.4381 0 1 708.3 572.6)"><path class="k0" d="M29.4 1.6V-5.1l2.9 2l1.5 0.4l4.4 -0.4l9.7 0.6l29.1 -0.2l48.4 0.6l58.2 0V1.6z"/><path class="k1" d="M22 1.6V-12.2l4.4 4.6l3 2.5V1.6z"/><path class="k2" d="M16.2 1.6V-18l5.8 5.8V1.6z"/><path class="k3" d="M2.9 1.6V-23.1l1.5 -0.5V1.6zM7.3 1.6V-22.6l4.4 1.6l4.5 3V1.6z"/><path class="k4" d="M4.4 1.6V-23.6l1.5 -1.5l1.4 2.5V1.6z"/><path class="k5" d="M0 1.6V-23.2l1.5 -9.6l1.4 9.7V1.6z"/></g>
<g transform="matrix(1 0.4382 0 1 707.1 572.9)"><path class="k0" d="M25 1.6V-5.4l4.4 2.6l1.4 0.4l4.4 -0.1l3 0.3l9.7 -0.2l38.8 0.4l9.6 -0.2l87.3 0.3V1.6z"/><path class="k1" d="M16.2 1.6V-11.6l8.8 6.2V1.6z"/><path class="k2" d="M8.8 1.6V-14.7l1.5 0l5.9 3.1V1.6z"/><path class="k3" d="M4.4 1.6V-22.9l1.5 3.4l1.4 -0.9l1.5 5.7V1.6z"/><path class="k4" d="M0 1.6V-27.2l1.5 -3l1.4 2.2l1.5 5.1V1.6z"/></g>
<g transform="matrix(1 0.4383 0 1 705.9 573.2)"><path class="k0" d="M23.5 1.6V-5.8l4.4 2.8l2.9 1l7.4 -0.2l145.4 0.4V1.6z"/><path class="k1" d="M14.7 1.6V-12l8.8 6.2V1.6z"/><path class="k2" d="M2.9 1.6V-18.1l1.5 3V1.6zM8.8 1.6V-17.2l1.5 3.2l4.4 2V1.6z"/><path class="k3" d="M4.4 1.6V-15.1l1.5 -3.6l1.4 -0.8l1.5 2.3V1.6z"/><path class="k4" d="M0 1.6V-30.3l1.5 1.4l1.4 10.8V1.6z"/></g>
<g transform="matrix(1 0.4384 0 1 704.8 573.5)"><path class="k0" d="M23.5 1.6V-5.7l5.9 3.5l2.9 0.3l5.9 -0.2l145.4 0.3V1.6z"/><path class="k1" d="M14.7 1.6V-12.1l8.8 6.4V1.6z"/><path class="k2" d="M8.8 1.6V-14.7l3 1.1l2.9 1.5V1.6z"/><path class="k3" d="M7.3 1.6V-21.8l1.5 7.1V1.6z"/><path class="k4" d="M2.9 1.6V-22.3l1.5 -2.9l1.5 -1.9l1.4 5.3V1.6z"/><path class="k5" d="M0 1.6V-26.6l1.5 -9.1l1.4 13.4V1.6z"/></g>
<g transform="matrix(1 0.4386 0 1 703.6 573.8)"><path class="k0" d="M25 1.6V-5.6l4.4 2.6l2.9 0.7l3 -0.3l2.9 0.2l9.7 -0.2l9.7 0.4l9.7 -0.3l19.4 0.4l96.9 0.2V1.6z"/><path class="k1" d="M16.2 1.6V-11.9l8.8 6.3V1.6z"/><path class="k2" d="M0 1.6V-17.7l1.5 1.5V1.6zM4.4 1.6V-15.6l5.9 1l2.9 1.1l3 1.6V1.6z"/><path class="k3" d="M1.5 1.6V-16.2l1.4 -2.6l1.5 3.2V1.6z"/></g>
<g transform="matrix(1 0.4387 0 1 702.4 574.1)"><path class="k0" d="M26.4 1.6V-5.6l4.5 2.2l1.4 -1.1l1.5 1.1l1.5 0.2l1.4 -1l1.5 0.3l29.1 0.9l9.7 -0.5l9.7 0.8l9.7 -0.2l19.4 0.5l19.4 -0.4l19.3 0.1l9.7 0.4l19.4 -0.2V1.6z"/><path class="k1" d="M13.2 1.6V-12.4l4.4 1.8l8.8 5V1.6z"/><path class="k2" d="M10.3 1.6V-14.9l1.5 2.1l1.4 0.4V1.6z"/><path class="k3" d="M2.9 1.6V-24.7l1.5 10.9l1.5 -10.3l2.9 5.4l1.5 3.8V1.6z"/><path class="k4" d="M1.5 1.6V-25.8l1.4 1.1V1.6z"/><path class="k5" d="M0 1.6V-31.6l1.5 5.8V1.6z"/></g>
<g transform="matrix(1 0.4388 0 1 701.2 574.4)"><path class="k0" d="M32.3 1.6V-5.5l1.5 0.2l1.5 -0.3l1.4 1.3l11.2 -0.9l9.7 1l9.7 0.4l9.7 -0.6l9.7 1l19.4 0.4l9.7 -0.9l9.7 0.8l9.7 0.2l9.7 -0.4l19.4 0.8l19.3 -0.4V1.6z"/><path class="k1" d="M25 1.6V-11.3l7.3 5.8V1.6z"/><path class="k2" d="M14.7 1.6V-18.5l5.9 3.6l4.4 3.6V1.6z"/><path class="k3" d="M5.9 1.6V-23.8l1.4 0.9l1.5 2.5l3 0.7l2.9 1.2V1.6z"/><path class="k4" d="M4.4 1.6V-29l1.5 5.2V1.6z"/><path class="k5" d="M0 1.6V-36l1.5 7.8l1.4 -3.7l1.5 2.9V1.6z"/></g>
<g transform="matrix(1 0.4389 0 1 700 574.8)"><path class="k0" d="M27.9 1.6V-5.8l3 1.1l1.4 -1.2l1.5 -0.3V1.6zM36.7 1.6V-4.7l11.2 -1.3l19.4 0.6l9.7 1.2l38.8 0.6l9.7 0.5l29.1 -0.3l19.4 0.6l9.7 -0.1V1.6z"/><path class="k1" d="M17.6 1.6V-10.5l10.3 4.7V1.6zM33.8 1.6V-6.2l1.5 -0.1l1.4 1.6V1.6z"/><path class="k2" d="M16.2 1.6V-16.3l1.4 5.8V1.6z"/><path class="k3" d="M11.8 1.6V-21.2l1.4 0.1l1.5 1l1.5 3.8V1.6z"/><path class="k4" d="M10.3 1.6V-27.1l1.5 5.9V1.6z"/><path class="k5" d="M7.3 1.6V-33.5l1.5 -2.9l1.5 9.3V1.6z"/><path class="k7" d="M4.4 1.6V-34.8l1.5 -8.8l1.4 10.1V1.6z"/><path class="k11" d="M2.9 1.6V-71.4l1.5 36.6V1.6z"/><path class="k14" d="M0 1.6V-89.3l1.5 0l1.4 17.9V1.6z"/></g>
<g transform="matrix(1 0.4391 0 1 698.8 575.1)"><path class="k0" d="M30.9 1.6V-6l2.9 1.5l1.5 -1l2.9 0.3l9.7 -0.8l9.7 1.9l9.7 -0.6l9.7 0.7l9.7 -0.3l9.7 0.9l19.4 -0.7l9.7 0.7l19.4 -0.1l9.7 0.6l9.7 -0.3l19.4 0.3V1.6z"/><path class="k1" d="M25 1.6V-10.2l5.9 4.2V1.6z"/><path class="k2" d="M22 1.6V-15.8l1.5 1.6l1.5 4V1.6z"/><path class="k3" d="M16.2 1.6V-15.7l1.4 -6l1.5 3.3l1.5 -0.8l1.4 3.4V1.6z"/><path class="k4" d="M11.8 1.6V-19.8l1.4 -7V1.6z"/><path class="k5" d="M13.2 1.6V-26.8l1.5 -7.5l1.5 18.6V1.6z"/><path class="k6" d="M5.9 1.6V-39.9l1.4 14.4V1.6z"/><path class="k8" d="M10.3 1.6V-52.9l1.5 33.1V1.6z"/><path class="k10" d="M7.3 1.6V-25.5l1.5 -36.7l1.5 9.3V1.6z"/><path class="k11" d="M4.4 1.6V-73.1l1.5 33.2V1.6z"/><path class="k22" d="M2.9 1.6V-137.6l1.5 64.5V1.6z"/><path class="k27" d="M0 1.6V-172l1.5 0l1.4 34.4V1.6z"/></g>
<g transform="matrix(1 0.4392 0 1 697.6 575.4)"><path class="k0" d="M30.9 1.6V-6l1.4 0.9l3 0.2l1.4 0.5l1.5 -0.7l9.7 0.2l19.4 1.6l29.1 -0.7l9.7 1.2l9.7 -0.6l9.7 0.6l29.1 0.3l9.7 -0.4l19.4 0.2V1.6z"/><path class="k1" d="M23.5 1.6V-11.9l7.4 5.9V1.6z"/><path class="k2" d="M17.6 1.6V-16.4l5.9 4.5V1.6z"/><path class="k3" d="M14.7 1.6V-21.4l1.5 -1.1l1.4 6.1V1.6z"/><path class="k4" d="M7.3 1.6V-28.3l1.5 -0.1V1.6zM13.2 1.6V-26.5l1.5 5.1V1.6z"/><path class="k5" d="M4.4 1.6V-35.4l2.9 7.1V1.6z"/><path class="k6" d="M8.8 1.6V-28.4l1.5 -10.6l1.5 1.3l1.4 11.2V1.6z"/><path class="k11" d="M2.9 1.6V-72.2l1.5 36.8V1.6z"/><path class="k14" d="M0 1.6V-90.3l1.5 0l1.4 18.1V1.6z"/></g>
<g transform="matrix(1 0.4393 0 1 696.4 575.7)"><path class="k0" d="M29.4 1.6V-5.7l2.9 1.9l1.5 -0.2l1.5 0.6l1.4 -0.6l1.5 0l38.8 1.1l9.7 -0.5l19.4 0.6l9.7 -0.2l19.4 0.7l9.7 -0.4l9.7 0.5l29.1 0V1.6z"/><path class="k1" d="M22 1.6V-11.8l7.4 6.1V1.6z"/><path class="k2" d="M11.8 1.6V-18.5l5.8 3.2l4.4 3.5V1.6z"/><path class="k3" d="M8.8 1.6V-19.3l3 0.8V1.6z"/><path class="k4" d="M5.9 1.6V-24.2l1.4 -4.7l1.5 9.6V1.6z"/><path class="k6" d="M2.9 1.6V-42.3l1.5 1.8l1.5 16.3V1.6z"/><path class="k8" d="M0 1.6V-54.8l1.5 1.9l1.4 10.6V1.6z"/></g>
<g transform="matrix(1 0.4394 0 1 695.3 576)"><path class="k0" d="M29.4 1.6V-5.6l2.9 2l3 -0.1l1.4 0.6l30.6 -0.2l19.4 0.8l19.4 -0.3l38.8 0.6l38.8 0.1V1.6z"/><path class="k1" d="M22 1.6V-12.3l7.4 6.7V1.6z"/><path class="k2" d="M14.7 1.6V-18.4l4.4 3.4l2.9 2.7V1.6z"/><path class="k3" d="M10.3 1.6V-20.5l4.4 2.1V1.6z"/><path class="k4" d="M7.3 1.6V-21.3l1.5 -7l1.5 7.8V1.6z"/><path class="k6" d="M4.4 1.6V-36.2l1.5 -2.4l1.4 17.3V1.6z"/><path class="k7" d="M0 1.6V-47.4l1.5 -1.1l1.4 3.8l1.5 8.5V1.6z"/></g>
<g transform="matrix(1 0.4396 0 1 694.1 576.3)"><path class="k0" d="M29.4 1.6V-5.4l2.9 1.9l1.5 0.4l2.9 -0.6l1.5 0.3l9.7 -0.1l19.4 0.7l19.4 -0.3l9.7 0.5l87.3 0.4V1.6z"/><path class="k1" d="M22 1.6V-11.7l7.4 6.3V1.6z"/><path class="k2" d="M14.7 1.6V-17.8l1.5 -0.5l1.4 3l4.4 3.6V1.6z"/><path class="k4" d="M8.8 1.6V-22.9l1.5 -2.2l2.9 -0.2l1.5 7.5V1.6z"/><path class="k7" d="M2.9 1.6V-44.4l1.5 15.8V1.6zM7.3 1.6V-44.3l1.5 21.4V1.6z"/><path class="k8" d="M4.4 1.6V-28.6l1.5 -21.2l1.4 5.5V1.6z"/><path class="k10" d="M1.5 1.6V-65.6l1.4 21.2V1.6z"/><path class="k11" d="M0 1.6V-68.7l1.5 3.1V1.6z"/></g>
<g transform="matrix(1 0.4397 0 1 692.9 576.6)"><path class="k0" d="M26.5 1.6V-5.7l2.9 1.8l2.9 0.2l1.5 0.8l1.5 0l1.4 -0.7l1.5 0.4l9.7 -0.1l19.4 0.7l48.5 0.3l19.4 -0.3l48.5 0.6V1.6z"/><path class="k1" d="M16.2 1.6V-12.3l10.3 6.6V1.6z"/><path class="k2" d="M11.8 1.6V-18.2l1.4 4.6l3 1.3V1.6z"/><path class="k3" d="M5.9 1.6V-19.3l1.4 0.8l1.5 -3.6l1.5 1.1l1.5 2.8V1.6z"/><path class="k5" d="M2.9 1.6V-22.7l1.5 -11.5l1.5 14.9V1.6z"/><path class="k6" d="M0 1.6V-42.4l1.5 1.9l1.4 17.8V1.6z"/></g>
<g transform="matrix(1 0.4398 0 1 691.7 576.9)"><path class="k0" d="M29.4 1.6V-5.2l2.9 2l1.5 0.3l2.9 -0.4l1.5 0.5l9.7 -0.2l9.7 0.5l9.7 -0.4l19.4 0.6l38.8 -0.2l58.2 0.4V1.6z"/><path class="k1" d="M22 1.6V-12.1l7.4 6.9V1.6z"/><path class="k2" d="M16.2 1.6V-17.5l5.8 5.4V1.6z"/><path class="k3" d="M14.7 1.6V-20.8l1.5 3.3V1.6z"/><path class="k4" d="M2.9 1.6V-28.5l1.5 -1.1V1.6zM7.3 1.6V-21.9l1.5 -4.8l1.5 5.7l1.5 -8.2l2.9 8.4V1.6z"/><path class="k6" d="M4.4 1.6V-29.6l1.5 -8.5l1.4 16.2V1.6z"/><path class="k7" d="M1.5 1.6V-47.8l1.4 19.3V1.6z"/><path class="k8" d="M0 1.6V-51.3l1.5 3.5V1.6z"/></g>
<g transform="matrix(1 0.4399 0 1 690.5 577.2)"><path class="k0" d="M29.4 1.6V-5.6l2.9 2l1.5 0.6l4.4 -0.3l77.6 1l68 0.1V1.6z"/><path class="k1" d="M23.5 1.6V-11.1l5.9 5.5V1.6z"/><path class="k2" d="M16.2 1.6V-17.9l7.3 6.8V1.6z"/><path class="k3" d="M7.4 1.6V-22l4.4 1.4l4.4 2.7V1.6z"/><path class="k4" d="M5.9 1.6V-25.4l1.5 3.4V1.6z"/><path class="k5" d="M2.9 1.6V-35.7l1.5 3.2l1.5 7.1V1.6z"/><path class="k6" d="M0 1.6V-22.5l1.5 -19.3l1.4 6.1V1.6z"/></g>
<g transform="matrix(1 0.4400 0 1 689.3 577.5)"><path class="k0" d="M32.3 1.6V-5.2l1.5 0.3l1.5 1l1.5 0.5l1.4 -1.4l19.4 1.5l9.7 -0.2l9.7 0.4l19.4 -0.3l29.2 0.9l9.7 -0.2l48.5 0.2V1.6z"/><path class="k1" d="M25 1.6V-12l4.4 4.4l2.9 2.4V1.6z"/><path class="k2" d="M19.1 1.6V-17.8l5.9 5.8V1.6z"/><path class="k3" d="M13.2 1.6V-22.1l3 1.9l2.9 2.4V1.6z"/><path class="k4" d="M8.8 1.6V-29.7l1.5 -0.2l2.9 7.8V1.6z"/><path class="k6" d="M5.9 1.6V-38.9l1.5 1.1l1.4 8.1V1.6z"/><path class="k7" d="M2.9 1.6V-24.6l1.5 -23.3l1.5 9V1.6z"/><path class="k9" d="M0 1.6V-37.7l1.5 -19.9l1.4 33V1.6z"/></g>
<g transform="matrix(1 0.4402 0 1 688.1 577.8)"><path class="k0" d="M33.8 1.6V-5.8l1.5 -0.1l1.5 1.4l11.1 0.7l9.7 -0.6l19.4 0.9l9.7 -0.6l9.7 0.8l9.8 0.2l9.7 -0.3l19.4 0.6l9.7 -0.2l9.7 0.4l9.7 -0.3l19.4 0.5V1.6z"/><path class="k1" d="M26.5 1.6V-11.6l5.8 5.3l1.5 0.5V1.6z"/><path class="k2" d="M19.1 1.6V-18.5l7.4 6.9V1.6z"/><path class="k3" d="M1.5 1.6V-24.5l4.4 0.2V1.6zM10.3 1.6V-23.5l4.4 2l4.4 3V1.6z"/><path class="k4" d="M0 1.6V-29.9l1.5 5.4V1.6zM5.9 1.6V-24.3l1.5 -6.5l2.9 7.3V1.6z"/></g>
<g transform="matrix(1 0.4403 0 1 687 578.1)"><path class="k0" d="M27.9 1.6V-5.4l1.5 -0.4l1.5 1l2.9 -1l1.5 1.3l1.5 -0.9l1.4 -0.1l9.7 1.2l29.1 -0.4l9.8 0.9l9.7 0.1l9.7 0.6l9.7 -0.7l9.7 0.7l58.2 0.3V1.6z"/><path class="k1" d="M11.8 1.6V-12.2l2.9 0.7l4.4 1.6l8.8 4.5V1.6z"/><path class="k2" d="M2.9 1.6V-13l1.5 -2.8l3 3l4.4 0.6V1.6z"/><path class="k3" d="M0 1.6V-15.1l1.5 -3.7l1.4 5.8V1.6z"/></g>
<g transform="matrix(1 0.4404 0 1 685.8 578.4)"><path class="k0" d="M30.9 1.6V-5.8l1.5 0.8l2.9 0.6l1.5 -1.1l1.4 1.4l19.4 -0.6l9.7 1.1l9.8 -0.7l29.1 1.2l9.7 -0.2l9.7 0.6l29.1 -0.3l9.7 0.5l9.7 -0.4l9.7 0.4V1.6z"/><path class="k1" d="M23.5 1.6V-11.6l7.4 5.8V1.6z"/><path class="k2" d="M13.2 1.6V-18.1l4.4 2.2l5.9 4.3V1.6z"/><path class="k3" d="M0 1.6V-20l1.5 0l1.4 -2.7l1.5 2.8l1.5 -0.3l7.3 2.1V1.6z"/></g>
<g transform="matrix(1 0.4405 0 1 684.6 578.7)"><path class="k0" d="M27.9 1.6V-5.7l1.5 0.9l1.5 -0.2l1.5 1.2l1.4 -1.1l3 0.5l1.4 0.7l9.7 -0.9l19.5 0.7l9.7 0.9l29.1 -0.6l9.7 0.8l9.7 0.2l58.2 0.3V1.6z"/><path class="k1" d="M17.6 1.6V-11.8l10.3 6.1V1.6z"/><path class="k2" d="M13.2 1.6V-13.6l4.4 1.8V1.6z"/><path class="k3" d="M4.4 1.6V-21.2l1.5 0.2l1.5 4.5V1.6zM10.3 1.6V-17.5l1.5 -6l1.4 9.9V1.6z"/><path class="k4" d="M7.4 1.6V-16.5l1.4 -13.9l1.5 12.9V1.6z"/><path class="k7" d="M2.9 1.6V-46.2l1.5 25V1.6z"/><path class="k8" d="M0 1.6V-54.2l1.5 0.7l1.4 7.3V1.6z"/></g>
<g transform="matrix(1 0.4407 0 1 683.4 579)"><path class="k0" d="M29.4 1.6V-5.1l1.5 -0.5l1.5 2.2l1.4 -0.7l1.5 0l1.5 0.9l1.4 -0.5l9.7 0.6l9.7 -0.6l9.8 0.9l9.7 -0.6l9.7 0.5l19.4 0.3l38.8 0.2l9.7 -0.2l29.1 0.4V1.6z"/><path class="k1" d="M25 1.6V-8.4l1.5 1.1l1.4 0.2l1.5 2V1.6z"/><path class="k2" d="M19.1 1.6V-13l1.5 1.1l1.5 -0.6l1.4 -3.5l1.5 7.6V1.6z"/><path class="k4" d="M13.2 1.6V-30.9l1.5 2.4V1.6zM17.6 1.6V-27.8l1.5 14.8V1.6z"/><path class="k5" d="M14.7 1.6V-28.5l1.5 -4.2l1.4 4.9V1.6z"/><path class="k7" d="M11.8 1.6V-46.3l1.4 15.4V1.6z"/><path class="k8" d="M10.3 1.6V-52.1l1.5 5.8V1.6z"/><path class="k9" d="M7.4 1.6V-45.7l1.4 -10.6l1.5 4.2V1.6z"/><path class="k14" d="M4.4 1.6V-57.2l1.5 -30.2l1.5 41.7V1.6z"/><path class="k23" d="M2.9 1.6V-148.3l1.5 91.1V1.6z"/><path class="k29" d="M0 1.6V-185.3l1.5 0l1.4 37V1.6z"/></g>
<g transform="matrix(1 0.4408 0 1 682.2 579.4)"><path class="k0" d="M29.4 1.6V-3.9l1.5 -1.7l1.5 2.1l1.4 -0.8l1.5 1.6l1.5 -0.5l1.4 0.3l9.7 0.3l9.8 -0.3l29.1 0.7l9.7 -0.4l19.4 0.5l67.9 0V1.6z"/><path class="k1" d="M25 1.6V-12.1l1.5 3.9l1.4 1.4l1.5 2.9V1.6z"/><path class="k2" d="M17.6 1.6V-16.2l1.5 3.1V1.6zM22.1 1.6V-10.2l1.4 -2.4l1.5 0.5V1.6z"/><path class="k3" d="M19.1 1.6V-13.1l1.5 -7.6l1.5 10.5V1.6z"/><path class="k4" d="M16.2 1.6V-26.2l1.4 10V1.6z"/><path class="k5" d="M13.2 1.6V-32l1.5 0.6l1.5 5.2V1.6z"/><path class="k7" d="M7.4 1.6V-29.2l1.4 -15.4V1.6zM11.8 1.6V-48.7l1.4 16.7V1.6z"/><path class="k9" d="M8.8 1.6V-44.6l1.5 -11.4l1.5 7.3V1.6z"/><path class="k11" d="M4.4 1.6V-59.5l1.5 -14.5l1.5 44.8V1.6z"/><path class="k18" d="M2.9 1.6V-112.7l1.5 53.2V1.6z"/><path class="k22" d="M0 1.6V-140.9l1.5 0l1.4 28.2V1.6z"/></g>
<g transform="matrix(1 0.4409 0 1 681 579.7)"><path class="k0" d="M29.4 1.6V-5l3 2l2.9 0.4l1.5 -0.3l69.4 0.5l9.7 0.3l68 0.1V1.6z"/><path class="k1" d="M23.5 1.6V-10.8l5.9 5.8V1.6z"/><path class="k2" d="M16.2 1.6V-18.5l7.3 7.7V1.6z"/><path class="k3" d="M11.8 1.6V-21.8l4.4 3.3V1.6z"/><path class="k4" d="M8.8 1.6V-23.1l1.5 -6.1l1.5 7.4V1.6z"/><path class="k5" d="M7.4 1.6V-33l1.4 9.9V1.6z"/><path class="k7" d="M2.9 1.6V-47l1.5 -0.9l1.5 2l1.5 12.9V1.6z"/><path class="k9" d="M1.5 1.6V-58.7l1.4 11.7V1.6z"/><path class="k11" d="M0 1.6V-68.9l1.5 10.2V1.6z"/></g>
<g transform="matrix(1 0.4410 0 1 679.8 580)"><path class="k0" d="M27.9 1.6V-6.1l4.5 2.8l2.9 -0.6l2.9 0.6l19.5 0l9.7 0.6l19.4 -0.2l9.7 0.3l9.7 -0.3l9.7 0.4l29.1 0.3l38.9 -0.1V1.6z"/><path class="k1" d="M20.6 1.6V-12.2l7.3 6.1V1.6z"/><path class="k2" d="M16.2 1.6V-15.5l1.5 0.1l1.4 2l1.5 1.2V1.6z"/><path class="k3" d="M11.8 1.6V-17.7l2.9 -3.9l1.5 6.1V1.6z"/><path class="k5" d="M2.9 1.6V-33.4l1.5 -0.3V1.6zM10.3 1.6V-34.1l1.5 16.4V1.6z"/><path class="k6" d="M4.4 1.6V-33.7l1.5 -4.9l1.5 -2.5l1.4 2l1.5 5V1.6z"/><path class="k10" d="M1.5 1.6V-65.8l1.4 32.4V1.6z"/><path class="k11" d="M0 1.6V-68.9l1.5 3.1V1.6z"/></g>
<g transform="matrix(1 0.4412 0 1 678.7 580.3)"><path class="k0" d="M30.9 1.6V-6l1.5 0.8l1.4 -0.2l1.5 0.5l1.5 0.9l11.2 -0.8l9.7 1.2l9.7 -0.8l9.7 0l9.7 0.9l9.7 -0.1l9.7 0.6l77.7 0.5V1.6z"/><path class="k1" d="M23.5 1.6V-12l7.4 6V1.6z"/><path class="k2" d="M14.7 1.6V-18.1l3 1.7l5.8 4.4V1.6z"/><path class="k3" d="M8.8 1.6V-20.2l1.5 -3l1.5 3.8l2.9 1.3V1.6z"/><path class="k4" d="M7.4 1.6V-30.2l1.4 10V1.6z"/><path class="k5" d="M5.9 1.6V-34l1.5 3.8V1.6z"/><path class="k6" d="M2.9 1.6V-25.4l1.5 -12.4l1.5 3.8V1.6z"/><path class="k7" d="M0 1.6V-24.9l1.5 -19.9l1.4 19.4V1.6z"/></g>
<g transform="matrix(1 0.4413 0 1 677.5 580.6)"><path class="k0" d="M32.4 1.6V-6.1l1.4 1l1.5 -0.7l1.5 1.4l1.5 0.1l19.4 -1l9.7 1.6l19.4 -0.7l9.7 0.3l9.7 0.9l19.4 -0.5l58.3 1.2V1.6z"/><path class="k1" d="M25 1.6V-12.3l7.4 6.2V1.6z"/><path class="k2" d="M17.7 1.6V-18.1l7.3 5.8V1.6z"/><path class="k3" d="M5.9 1.6V-22.2l1.5 0.2l1.4 -2.7l1.5 3.3l1.5 0l5.9 3.3V1.6z"/><path class="k6" d="M2.9 1.6V-33.5l1.5 -6.8l1.5 18.1V1.6z"/><path class="k7" d="M1.5 1.6V-47.7l1.4 14.2V1.6z"/><path class="k8" d="M0 1.6V-49.9l1.5 2.2V1.6z"/></g>
<g transform="matrix(1 0.4414 0 1 676.3 580.9)"><path class="k0" d="M30.9 1.6V-5.7l1.5 0.7l1.4 -0.2l1.5 0.5l3 -0.5l9.7 0.9l9.7 0.4l9.7 -0.9l9.7 1.2l9.7 -0.3l9.7 0.6l29.1 0l19.5 0.6l19.4 -0.3l19.4 0.5V1.6z"/><path class="k1" d="M22.1 1.6V-11.9l8.8 6.2V1.6z"/><path class="k2" d="M13.2 1.6V-16.5l3 -0.5l1.5 2.4l4.4 2.7V1.6z"/><path class="k4" d="M5.9 1.6V-25.9l1.5 4.8V1.6zM11.8 1.6V-26l1.4 9.5V1.6z"/><path class="k5" d="M7.4 1.6V-21.1l1.4 -13.8l1.5 3.2l1.5 5.7V1.6z"/><path class="k6" d="M1.5 1.6V-39.3l1.4 7.6V1.6z"/><path class="k7" d="M0 1.6V-44.3l1.5 5V1.6z"/><path class="k8" d="M2.9 1.6V-31.7l1.5 -19.9l1.5 25.7V1.6z"/></g>
<g transform="matrix(1 0.4415 0 1 675.1 581.2)"><path class="k0" d="M28 1.6V-5.4l1.4 -0.1l3 1.4l1.4 0.2l1.5 -0.6l1.5 0.7l1.5 -0.7l19.4 0.9l19.4 -0.3l9.7 0.5l9.7 -0.5l9.7 0.7l19.5 0.4l19.4 -0.3l19.4 0.5l9.7 -0.3l9.7 0.4V1.6z"/><path class="k1" d="M14.7 1.6V-12l4.4 1.8l8.9 4.8V1.6z"/><path class="k3" d="M10.3 1.6V-16.1l1.5 -8.3l1.4 3.4l1.5 9V1.6z"/><path class="k5" d="M5.9 1.6V-17.1l1.5 -16.2l1.4 0.9l1.5 16.3V1.6z"/><path class="k6" d="M2.9 1.6V-16l1.5 -27.1l1.5 26V1.6z"/><path class="k7" d="M0 1.6V-22.8l1.5 -21.1l1.4 27.9V1.6z"/></g>
<g transform="matrix(1 0.4416 0 1 673.9 581.5)"><path class="k0" d="M29.4 1.6V-6.1l1.5 1.1l1.5 0.3l1.4 1.3l1.5 -1.1l1.5 1.1l1.5 -1.2l9.7 0.7l19.4 0.6l19.4 -0.2l19.4 0.2l9.8 0.7l19.4 -0.3l48.5 0.7V1.6z"/><path class="k1" d="M22.1 1.6V-12.1l7.3 6V1.6z"/><path class="k2" d="M11.8 1.6V-18.6l5.9 3.1l4.4 3.4V1.6z"/><path class="k3" d="M0 1.6V-20l7.4 0.3l4.4 1.1V1.6z"/></g>
<g transform="matrix(1 0.4418 0 1 672.7 581.8)"><path class="k0" d="M26.5 1.6V-5.6l2.9 1.6l1.5 -0.2l1.5 0.8l4.4 -0.7l1.5 0.4l9.7 0.3l19.4 -0.2l9.7 0.5l38.9 0.2l9.7 0.4l58.2 0.3V1.6z"/><path class="k1" d="M16.2 1.6V-11.5l10.3 5.9V1.6z"/><path class="k2" d="M5.9 1.6V-14l2.9 0.3V1.6zM11.8 1.6V-15.7l1.4 3.1l1.5 -1.2l1.5 2.3V1.6z"/><path class="k3" d="M8.8 1.6V-13.7l1.5 -8.1l1.5 6.1V1.6z"/><path class="k4" d="M1.5 1.6V-28.4l1.4 7.4V1.6z"/><path class="k5" d="M2.9 1.6V-21l1.5 -10.6l1.5 17.6V1.6z"/><path class="k7" d="M0 1.6V-44.1l1.5 15.7V1.6z"/></g>
<g transform="matrix(1 0.4419 0 1 671.5 582.1)"><path class="k0" d="M26.5 1.6V-6l4.4 2.7l1.5 0.3l4.4 -0.4l1.5 0.5l19.4 0.2l19.4 -0.4l68 0.9l9.7 -0.2l19.4 0.4l9.8 -0.2V1.6z"/><path class="k1" d="M19.1 1.6V-11.1l7.4 5.1V1.6z"/><path class="k2" d="M16.2 1.6V-16.9l2.9 5.8V1.6z"/><path class="k3" d="M11.8 1.6V-24.4l1.4 8.7l1.5 -4.3l1.5 3.1V1.6z"/><path class="k5" d="M8.8 1.6V-21.6l1.5 -9.9l1.5 7.1V1.6z"/><path class="k6" d="M7.4 1.6V-41l1.4 19.4V1.6z"/><path class="k7" d="M4.4 1.6V-36l1.5 -10.2l1.5 5.2V1.6z"/><path class="k9" d="M1.5 1.6V-30.9l1.4 -25.5l1.5 20.4V1.6z"/><path class="k10" d="M0 1.6V-63.7l1.5 32.8V1.6z"/></g>
<g transform="matrix(1 0.4420 0 1 670.4 582.4)"><path class="k0" d="M26.5 1.6V-5.3l1.5 0.3l1.4 1.5l1.5 0.7l1.5 -0.2l54.4 0.7l38.9 -0.1l19.4 0.4l9.7 -0.2l29.2 0.2V1.6z"/><path class="k1" d="M17.7 1.6V-11.6l4.4 3.1l1.4 0.3l1.5 1.9l1.5 1V1.6z"/><path class="k2" d="M14.7 1.6V-17.8l1.5 5.3l1.5 0.9V1.6z"/><path class="k4" d="M5.9 1.6V-29.6l1.5 3.9l1.4 -1.4l1.5 -2.4l1.5 6.6l1.4 -4.3l1.5 9.4V1.6z"/><path class="k8" d="M2.9 1.6V-46.8l1.5 -3.6l1.5 20.8V1.6z"/><path class="k9" d="M1.5 1.6V-58.5l1.4 11.7V1.6z"/><path class="k11" d="M0 1.6V-71.1l1.5 12.6V1.6z"/></g>
<g transform="matrix(1 0.4421 0 1 669.2 582.7)"><path class="k0" d="M28 1.6V-5.7l1.4 1.2l1.5 0.4l1.5 -0.2l1.5 1.8l1.4 -0.5l32.1 0.8l9.7 -0.2l19.5 0.3l87.4 0.1V1.6z"/><path class="k1" d="M23.5 1.6V-9.1l4.5 3.4V1.6z"/><path class="k2" d="M20.6 1.6V-12.3l1.5 -0.3l1.4 3.5V1.6z"/><path class="k3" d="M16.2 1.6V-24.8l1.5 13.1l1.4 -7.8l1.5 7.2V1.6z"/><path class="k4" d="M14.7 1.6V-28.6l1.5 3.8V1.6z"/><path class="k5" d="M11.8 1.6V-35.5l1.4 2.2l1.5 4.7V1.6z"/><path class="k7" d="M10.3 1.6V-45.9l1.5 10.4V1.6z"/><path class="k8" d="M5.9 1.6V-44.4l1.5 -7.5l1.4 -0.4l1.5 6.4V1.6z"/><path class="k10" d="M4.4 1.6V-66.1l1.5 21.7V1.6z"/><path class="k17" d="M2.9 1.6V-109.5l1.5 43.4V1.6z"/><path class="k22" d="M0 1.6V-136.9l1.5 0l1.4 27.4V1.6z"/></g>
<g transform="matrix(1 0.4423 0 1 668 583)"><path class="k0" d="M28 1.6V-5l1.4 1l5.9 1.5l3 -0.5l9.7 0.6l9.7 -0.4l9.7 0.4l9.7 -0.2l29.2 0.4l77.7 0.2V1.6z"/><path class="k1" d="M23.6 1.6V-10.3l4.4 5.3V1.6z"/><path class="k2" d="M19.1 1.6V-12.5l1.5 1.2l1.5 -1.5l1.5 2.5V1.6z"/><path class="k3" d="M16.2 1.6V-16.5l1.5 -5.9l1.4 9.9V1.6z"/><path class="k5" d="M11.8 1.6V-33.6l1.4 -1.3l1.5 3.3l1.5 15.1V1.6z"/><path class="k6" d="M5.9 1.6V-41.3l1.5 2.6l1.4 -0.6V1.6z"/><path class="k7" d="M8.8 1.6V-39.3l1.5 -9.5l1.5 15.2V1.6z"/><path class="k12" d="M2.9 1.6V-66.4l1.5 -10.2l1.5 35.3V1.6z"/><path class="k13" d="M0 1.6V-83l1.5 -2.8l1.4 19.4V1.6z"/></g>
<g transform="matrix(1 0.4424 0 1 666.8 583.3)"><path class="k0" d="M29.4 1.6V-5.6l3 2l2.9 0.6l1.5 -0.7l1.5 0.4l38.8 0.7l19.5 -0.3l38.8 0.7l9.7 -0.3l38.9 0.4V1.6z"/><path class="k1" d="M23.6 1.6V-11l5.8 5.4V1.6z"/><path class="k2" d="M16.2 1.6V-17.7l7.4 6.7V1.6z"/><path class="k3" d="M8.8 1.6V-21.4l1.5 0.5V1.6zM14.7 1.6V-21.8l1.5 4.1V1.6z"/><path class="k4" d="M10.3 1.6V-20.9l1.5 -9.2l2.9 8.3V1.6z"/><path class="k7" d="M5.9 1.6V-24.8l1.5 -19.7l1.4 23.1V1.6z"/><path class="k8" d="M4.4 1.6V-52.8l1.5 28V1.6z"/><path class="k10" d="M1.5 1.6V-43.5l1.4 -22.2l1.5 12.9V1.6z"/><path class="k11" d="M0 1.6V-71.5l1.5 28V1.6z"/></g>
<g transform="matrix(1 0.4425 0 1 665.6 583.6)"><path class="k0" d="M26.5 1.6V-6l2.9 1.8l1.5 0l3 1.1l4.4 -0.6l9.7 0.8l9.7 -0.8l9.7 0.1l9.7 0.8l38.9 -0.1l29.2 0.6l38.8 0.2V1.6z"/><path class="k1" d="M16.2 1.6V-12.4l10.3 6.4V1.6z"/><path class="k2" d="M2.9 1.6V-15.3l1.5 0l3 -1.5l1.4 2l3 0.7l4.4 1.7V1.6z"/><path class="k4" d="M0 1.6V-17.1l1.5 -7.8l1.4 9.6V1.6z"/></g>
<g transform="matrix(1 0.4426 0 1 664.4 583.9)"><path class="k0" d="M29.4 1.6V-5.4l3 1.9l1.5 0.4l1.4 -0.2l1.5 0.3l1.5 -0.6l9.7 0l9.7 0.7l29.2 -0.1l38.8 0.7l19.5 -0.2l38.8 0.4V1.6z"/><path class="k1" d="M22.1 1.6V-11.7l7.3 6.3V1.6z"/><path class="k2" d="M14.7 1.6V-17.4l3 2l4.4 3.7V1.6z"/><path class="k3" d="M7.4 1.6V-20.1l1.4 -1.5l1.5 2.2l1.5 0.6l1.5 -0.5l1.4 1.9V1.6z"/><path class="k4" d="M4.4 1.6V-26l1.5 -2.2l1.5 8.1V1.6z"/><path class="k7" d="M2.9 1.6V-45.9l1.5 19.9V1.6z"/><path class="k8" d="M0 1.6V-32.1l1.5 -17.9l1.4 4.1V1.6z"/></g>
<g transform="matrix(1 0.4428 0 1 663.2 584.3)"><path class="k0" d="M29.4 1.6V-5.4l3 2l1.5 0.3l1.4 0l1.5 -0.5l1.5 0.3l9.7 -0.1l9.7 0.6l9.7 -0.2l9.8 0.4l29.1 0.3l19.4 -0.3l58.3 0.5V1.6z"/><path class="k1" d="M22.1 1.6V-12.1l7.3 6.7V1.6z"/><path class="k2" d="M14.7 1.6V-18.3l3 2.2l4.4 4V1.6z"/><path class="k3" d="M11.8 1.6V-19.9l1.5 0.3l1.4 1.3V1.6z"/><path class="k5" d="M0 1.6V-25.6l1.5 -5.4V1.6zM5.9 1.6V-24l1.5 -12.3l1.4 1.6l1.5 3.7l1.5 11.1V1.6z"/><path class="k6" d="M4.4 1.6V-38.6l1.5 14.6V1.6z"/><path class="k8" d="M1.5 1.6V-31l1.4 -24.5l1.5 16.9V1.6z"/></g>
<g transform="matrix(1 0.4429 0 1 662.1 584.6)"><path class="k0" d="M29.4 1.6V-5.3l3 2l1.5 0.1l1.4 0.5l22.4 -0.4l9.7 0.4l9.8 -0.1l29.1 0.5l77.8 0.2V1.6z"/><path class="k1" d="M22.1 1.6V-12.2l7.3 6.9V1.6z"/><path class="k2" d="M16.2 1.6V-17.7l5.9 5.5V1.6z"/><path class="k3" d="M11.8 1.6V-20.5l2.9 1.5l1.5 1.3V1.6z"/><path class="k4" d="M8.8 1.6V-27.9l1.5 0.4l1.5 7V1.6z"/><path class="k7" d="M0 1.6V-47.8l1.5 4.3l1.4 -0.8V1.6zM5.9 1.6V-22.2l1.5 -23.2l1.4 17.5V1.6z"/><path class="k9" d="M2.9 1.6V-44.3l1.5 -11.5l1.5 33.6V1.6z"/></g>
<g transform="matrix(1 0.4430 0 1 660.9 584.9)"><path class="k0" d="M29.5 1.6V-5.5l2.9 2l2.9 0.5l1.5 -0.5l1.5 0l19.4 0.8l29.2 -0.2l9.7 0.5l19.4 -0.2l19.5 0.1l9.7 0.4l38.9 -0.1V1.6z"/><path class="k1" d="M23.6 1.6V-11l5.9 5.5V1.6z"/><path class="k2" d="M16.2 1.6V-17.8l7.4 6.8V1.6z"/><path class="k3" d="M0 1.6V-22.5l4.4 0.1l3 0.4l2.9 0.8l3 1.4l2.9 2V1.6z"/></g>
<g transform="matrix(1 0.4431 0 1 659.7 585.2)"><path class="k0" d="M28 1.6V-5.9l2.9 2.1l1.5 0.3l15.6 0.6l9.7 0.2l9.7 -0.3l38.9 0.6l29.2 -0.1l48.6 0.4V1.6z"/><path class="k1" d="M20.6 1.6V-12.2l7.4 6.3V1.6z"/><path class="k2" d="M11.8 1.6V-18.2l5.9 3.5l2.9 2.5V1.6z"/><path class="k3" d="M0 1.6V-21.2l1.5 1.2l5.9 0.5l4.4 1.3V1.6z"/></g>
<g transform="matrix(1 0.4432 0 1 658.5 585.5)"><path class="k0" d="M28 1.6V-5.8l4.4 3l2.9 -0.2l3 0.3l38.9 0.5l19.4 -0.2l19.5 0.3l68 0.1V1.6z"/><path class="k1" d="M22.1 1.6V-11.4l5.9 5.6V1.6z"/><path class="k2" d="M16.2 1.6V-17l5.9 5.6V1.6z"/><path class="k3" d="M13.3 1.6V-21.8l1.4 0.1l1.5 4.7V1.6z"/><path class="k4" d="M8.8 1.6V-28.8l1.5 -1.9l1.5 1.1l1.5 7.8V1.6z"/><path class="k5" d="M4.4 1.6V-33.7l1.5 8.9V1.6z"/><path class="k6" d="M5.9 1.6V-24.8l1.5 -18.2l1.4 14.2V1.6z"/><path class="k9" d="M2.9 1.6V-61.1l1.5 27.4V1.6z"/><path class="k10" d="M0 1.6V-47.7l1.5 -18.2l1.4 4.8V1.6z"/></g>
<g transform="matrix(1 0.4434 0 1 657.3 585.8)"><path class="k0" d="M23.6 1.6V-6.1l5.9 3.3l1.4 0.2l1.5 -0.5l1.5 0.4l1.4 -0.3l1.5 0.3l20.9 0l9.8 0.4l29.1 -0.2l48.6 0.5l38.9 -0.1V1.6z"/><path class="k1" d="M14.7 1.6V-11.1l1.5 -1.1l1.5 2.6l5.9 3.5V1.6z"/><path class="k2" d="M5.9 1.6V-15.9l1.5 2.8V1.6zM10.3 1.6V-17.3l1.5 3.5l1.5 -1.8l1.4 4.5V1.6z"/><path class="k4" d="M4.4 1.6V-25.4l1.5 9.5V1.6zM7.4 1.6V-13.1l1.4 -12.9l1.5 8.7V1.6z"/><path class="k5" d="M0 1.6V-36.4l1.5 17.2V1.6z"/><path class="k6" d="M1.5 1.6V-19.2l1.4 -21.4l1.5 15.2V1.6z"/></g>
<g transform="matrix(1 0.4435 0 1 656.1 586.1)"><path class="k0" d="M29.5 1.6V-5.9l2.9 2.2l5.9 0.9l19.4 -0.5l9.8 0.7l9.7 0.1l9.7 -0.4l9.7 0.5l19.5 -0.2l9.7 0.4l58.3 0.1V1.6z"/><path class="k1" d="M23.6 1.6V-11.8l5.9 5.9V1.6z"/><path class="k2" d="M17.7 1.6V-17.8l5.9 6V1.6z"/><path class="k3" d="M0 1.6V-24.4l7.4 0.7l2.9 0.9l3 1.5l4.4 3.5V1.6z"/></g>
<g transform="matrix(1 0.4436 0 1 654.9 586.4)"><path class="k0" d="M29.5 1.6V-5.6l2.9 2.1l4.4 0.8l1.5 -0.2l9.7 0.3l9.7 -0.6l9.8 0.7l19.4 0.1l9.7 -0.3l9.8 0.4l77.7 0.1V1.6z"/><path class="k1" d="M23.6 1.6V-11.1l5.9 5.5V1.6z"/><path class="k2" d="M16.2 1.6V-18.2l7.4 7.1V1.6z"/><path class="k3" d="M11.8 1.6V-21l1.5 -0.3l1.4 2l1.5 1.1V1.6z"/><path class="k4" d="M8.8 1.6V-29.4l1.5 1.6l1.5 6.8V1.6z"/><path class="k6" d="M4.4 1.6V-30.9l1.5 -8V1.6z"/><path class="k7" d="M0 1.6V-39.7l1.5 -6.5V1.6zM5.9 1.6V-38.9l1.5 -5.1l1.4 14.6V1.6z"/><path class="k9" d="M1.5 1.6V-46.2l1.4 -13.2l1.5 28.5V1.6z"/></g>
<g transform="matrix(1 0.4437 0 1 653.8 586.7)"><path class="k0" d="M29.5 1.6V-5.1l1.4 1.9l1.5 -0.2l1.5 0.7l2.9 0.4l147.3 0.4V1.6z"/><path class="k1" d="M23.6 1.6V-10.9l1.4 2.4l1.5 0l3 3.4V1.6z"/><path class="k2" d="M17.7 1.6V-13.1l1.5 -5.2l1.4 7.9l1.5 -2.3l1.5 1.8V1.6z"/><path class="k3" d="M14.7 1.6V-22l1.5 -1.6l1.5 10.5V1.6z"/><path class="k4" d="M11.8 1.6V-26.4l1.5 -4.1l1.4 8.5V1.6z"/><path class="k8" d="M8.8 1.6V-30.9l1.5 -24.4l1.5 28.9V1.6z"/><path class="k11" d="M4.4 1.6V-50.9l1.5 -19.6l1.5 -2.5l1.4 42.1V1.6z"/><path class="k16" d="M2.9 1.6V-101.9l1.5 51V1.6z"/><path class="k20" d="M0 1.6V-127.4l1.5 0l1.4 25.5V1.6z"/></g>
<g transform="matrix(1 0.4439 0 1 652.6 587)"><path class="k0" d="M28 1.6V-4.4l1.5 0.3l1.4 1.1l1.5 0l1.5 0.8l1.5 -0.1l1.4 0.6l147.4 0V1.6z"/><path class="k1" d="M22.1 1.6V-10.8l1.5 3.4l1.4 -1.5l3 4.5V1.6z"/><path class="k2" d="M16.2 1.6V-13.7l1.5 1.5l1.5 -1.8l1.4 0l1.5 3.2V1.6z"/><path class="k3" d="M13.3 1.6V-23l1.4 -1.7l1.5 11V1.6z"/><path class="k5" d="M11.8 1.6V-32.1l1.5 9.1V1.6z"/><path class="k6" d="M10.3 1.6V-37.9l1.5 5.8V1.6z"/><path class="k7" d="M7.4 1.6V-41.4l1.4 -7.2l1.5 10.7V1.6z"/><path class="k9" d="M4.4 1.6V-37.8l1.5 -22.8l1.5 19.2V1.6z"/><path class="k13" d="M2.9 1.6V-80.9l1.5 43.1V1.6z"/><path class="k16" d="M0 1.6V-101.2l1.5 0l1.4 20.3V1.6z"/></g>
<g transform="matrix(1 0.4440 0 1 651.4 587.3)"><path class="k0" d="M26.5 1.6V-5.2l4.4 3.1l5.9 0.3l147.4 0.1V1.6z"/><path class="k1" d="M20.6 1.6V-11.7l5.9 6.5V1.6z"/><path class="k2" d="M14.7 1.6V-18.4l5.9 6.7V1.6z"/><path class="k3" d="M10.3 1.6V-23.7l1.5 2.8l2.9 2.5V1.6z"/><path class="k4" d="M8.8 1.6V-25.8l1.5 2.1V1.6z"/><path class="k5" d="M5.9 1.6V-26.7l1.5 -5.5l1.4 6.4V1.6z"/><path class="k6" d="M1.5 1.6V-43.1l1.4 8.6l1.5 -6.4l1.5 14.2V1.6z"/><path class="k7" d="M0 1.6V-47.2l1.5 4.1V1.6z"/></g>
<g transform="matrix(1 0.4441 0 1 650.2 587.6)"><path class="k0" d="M26.5 1.6V-5.9l4.4 2.9l1.5 0.5l1.5 0l1.5 -0.5l2.9 0l9.7 0.5l19.5 -0.2l9.7 0.3l107 0.5V1.6z"/><path class="k1" d="M19.2 1.6V-11.8l7.3 5.9V1.6z"/><path class="k2" d="M16.2 1.6V-14l1.5 0.3l1.5 1.9V1.6z"/><path class="k3" d="M13.3 1.6V-22.5l1.4 3.3l1.5 5.2V1.6z"/><path class="k4" d="M5.9 1.6V-29.3l1.5 0V1.6zM10.3 1.6V-16.9l1.5 -9.2l1.5 3.6V1.6z"/><path class="k5" d="M7.4 1.6V-29.3l1.4 -5.3l1.5 17.7V1.6z"/><path class="k7" d="M2.9 1.6V-44.7l1.5 -4.5l1.5 19.9V1.6z"/><path class="k8" d="M1.5 1.6V-54.2l1.4 9.5V1.6z"/><path class="k9" d="M0 1.6V-61l1.5 6.8V1.6z"/></g>
<g transform="matrix(1 0.4442 0 1 649 587.9)"><path class="k0" d="M29.5 1.6V-5.9l2.9 2l1.5 0.6l1.5 -0.4l1.4 0.5l11.2 0.3l9.8 -0.6l9.7 0.4l19.4 -0.2l19.5 0.7l9.7 -0.2l19.5 0.4l9.7 -0.3l38.9 0.5V1.6z"/><path class="k1" d="M22.1 1.6V-12.3l7.4 6.4V1.6z"/><path class="k2" d="M14.7 1.6V-18l3 1.9l4.4 3.8V1.6z"/><path class="k3" d="M11.8 1.6V-23.3l1.5 4.5l1.4 0.8V1.6z"/><path class="k4" d="M5.9 1.6V-28l1.5 -0.4l1.4 8l1.5 -6.5l1.5 3.6V1.6z"/><path class="k5" d="M2.9 1.6V-25.9l1.5 -6l1.5 3.9V1.6z"/><path class="k8" d="M0 1.6V-33.9l1.5 -18.1l1.4 26.1V1.6z"/></g>
<g transform="matrix(1 0.4443 0 1 647.8 588.2)"><path class="k0" d="M29.5 1.6V-5.6l2.9 1.7l25.4 -0.3l9.7 0.7l9.7 -0.3l9.7 0.8l9.8 0.2l9.7 -0.4l9.7 0.6l9.8 -0.5l9.7 0.1l9.7 0.7l9.7 -0.3l29.2 0.3V1.6z"/><path class="k1" d="M20.6 1.6V-12.2l8.9 6.6V1.6z"/><path class="k2" d="M5.9 1.6V-18.1l4.4 0.7l3 1l2.9 1.4l4.4 2.8V1.6z"/><path class="k4" d="M1.5 1.6V-25.7l1.4 2.7l1.5 -4l1.5 8.9V1.6z"/><path class="k5" d="M0 1.6V-33.4l1.5 7.7V1.6z"/></g>
<g transform="matrix(1 0.4445 0 1 646.6 588.5)"><path class="k0" d="M29.5 1.6V-5.7l1.4 1l1.5 0.1l1.5 0.8l2.9 -0.2l1.5 0.7l9.7 -0.4l19.5 0.7l9.7 -0.5l9.8 0.4l19.4 -0.1l48.6 0.8l29.2 -0.1V1.6z"/><path class="k1" d="M22.1 1.6V-11.6l7.4 5.9V1.6z"/><path class="k2" d="M13.3 1.6V-17.4l4.4 2.5l4.4 3.3V1.6z"/><path class="k3" d="M10.3 1.6V-18.4l1.5 -1.9l1.5 2.9V1.6z"/><path class="k4" d="M5.9 1.6V-22.7l1.5 -7.9l1.4 3.7l1.5 8.5V1.6z"/><path class="k5" d="M1.5 1.6V-32.1l1.4 10.3l1.5 -15.2l1.5 14.3V1.6z"/><path class="k6" d="M0 1.6V-38.6l1.5 6.5V1.6z"/></g>
<g transform="matrix(1 0.4446 0 1 645.5 588.9)"><path class="k0" d="M29.5 1.6V-5.7l2.9 2.1l4.4 0.6l21 -0.2l29.2 0.3l9.7 0.4l87.5 0.3V1.6z"/><path class="k1" d="M23.6 1.6V-11l5.9 5.3V1.6z"/><path class="k2" d="M16.2 1.6V-17.7l3 2.4l4.4 4.3V1.6z"/><path class="k3" d="M5.9 1.6V-22l2.9 0.6l3 1.1l4.4 2.6V1.6z"/><path class="k4" d="M2.9 1.6V-22.2l1.5 -2.9l1.5 3.1V1.6z"/><path class="k5" d="M0 1.6V-32.1l1.5 0.6l1.4 9.3V1.6z"/></g>
<g transform="matrix(1 0.4447 0 1 644.3 589.2)"><path class="k0" d="M26.5 1.6V-5.7l3 2.1l2.9 1.2l25.4 -0.2l48.6 0.5l77.8 0.2V1.6z"/><path class="k1" d="M19.2 1.6V-11.9l7.3 6.2V1.6z"/><path class="k2" d="M10.3 1.6V-17.5l4.4 2.2l4.5 3.4V1.6z"/><path class="k3" d="M5.9 1.6V-18.5l1.5 -2.6l1.4 2.2l1.5 1.4V1.6z"/><path class="k4" d="M0 1.6V-27.3l1.5 -0.4l1.4 -1.8l1.5 4.4l1.5 6.6V1.6z"/></g>
<g transform="matrix(1 0.4448 0 1 643.1 589.5)"><path class="k0" d="M26.5 1.6V-5.5l3 2.1l2.9 1.2l151.9 0.4V1.6z"/><path class="k1" d="M20.6 1.6V-11.1l5.9 5.6V1.6z"/><path class="k2" d="M11.8 1.6V-18.2l4.4 3l4.4 4.1V1.6z"/><path class="k3" d="M4.4 1.6V-20.3l1.5 -3.9l1.5 4.3l4.4 1.7V1.6z"/><path class="k5" d="M0 1.6V-27.1l1.5 -9.3l1.4 5.2l1.5 10.9V1.6z"/></g>
<g transform="matrix(1 0.4450 0 1 641.9 589.8)"><path class="k0" d="M28 1.6V-5.5l3 2.1l1.4 0.5l5.9 0.5l19.5 -0.3l29.2 0.5l97.3 0.2V1.6z"/><path class="k1" d="M20.6 1.6V-12.3l7.4 6.8V1.6z"/><path class="k2" d="M16.2 1.6V-16.2l4.4 3.9V1.6z"/><path class="k3" d="M13.3 1.6V-18.2l1.4 -4.8l1.5 6.8V1.6z"/><path class="k5" d="M10.3 1.6V-36.2l1.5 4.9l1.5 13.1V1.6z"/><path class="k6" d="M7.4 1.6V-24.3l1.4 -17.2l1.5 5.3V1.6z"/><path class="k8" d="M5.9 1.6V-53l1.5 28.7V1.6z"/><path class="k9" d="M2.9 1.6V-49.5l1.5 -9.5l1.5 6V1.6z"/><path class="k11" d="M0 1.6V-73.1l1.5 3.3l1.4 20.3V1.6z"/></g>
<g transform="matrix(1 0.4451 0 1 640.7 590.1)"><path class="k0" d="M28 1.6V-5.8l3 2l1.4 0.5l4.5 -0.2l1.4 0.3l9.8 0.4l29.2 0.3l9.7 -0.4l19.4 0.4l19.5 -0.1l29.2 0.5l29.2 0V1.6z"/><path class="k1" d="M20.6 1.6V-11.9l7.4 6.1V1.6z"/><path class="k2" d="M14.7 1.6V-18.3l3 4.1l2.9 2.3V1.6z"/><path class="k3" d="M11.8 1.6V-20l1.5 -1l1.4 2.7V1.6z"/><path class="k4" d="M10.3 1.6V-25.4l1.5 5.4V1.6z"/><path class="k5" d="M7.4 1.6V-29l1.4 -8l1.5 11.6V1.6z"/><path class="k6" d="M4.4 1.6V-40.6l1.5 -0.5l1.5 12.1V1.6z"/><path class="k9" d="M2.9 1.6V-57l1.5 16.4V1.6z"/><path class="k11" d="M0 1.6V-71.3l1.5 0l1.4 14.3V1.6z"/></g>
<g transform="matrix(1 0.4452 0 1 639.5 590.4)"><path class="k0" d="M26.5 1.6V-6.1l1.5 1.4V1.6zM31 1.6V-3.4l1.4 -0.1l4.5 0.6l11.2 0.3l136.2 0.5V1.6z"/><path class="k1" d="M23.6 1.6V-9.6l1.5 -0.6l1.4 4.1V1.6zM28 1.6V-4.7l1.5 -1.5l1.5 2.8V1.6z"/><path class="k2" d="M17.7 1.6V-15.3l1.5 4.6l2.9 -5.3l1.5 6.4V1.6z"/><path class="k3" d="M16.2 1.6V-23.7l1.5 8.4V1.6z"/><path class="k5" d="M13.3 1.6V-28.4l1.4 -4.9l1.5 9.6V1.6z"/><path class="k6" d="M8.8 1.6V-41.8l1.5 7.4V1.6z"/><path class="k7" d="M10.3 1.6V-34.4l1.5 -10.7l1.5 16.7V1.6z"/><path class="k9" d="M7.4 1.6V-57.7l1.4 15.9V1.6z"/><path class="k11" d="M5.9 1.6V-70.8l1.5 13.1V1.6z"/><path class="k13" d="M4.4 1.6V-85.3l1.5 14.5V1.6z"/><path class="k22" d="M2.9 1.6V-141.3l1.5 56V1.6z"/><path class="k28" d="M0 1.6V-176.6l1.5 0l1.4 35.3V1.6z"/></g>
<g transform="matrix(1 0.4453 0 1 638.3 590.7)"><path class="k0" d="M29.5 1.6V-5.3l2.9 2.1l1.5 0.6l1.5 0.1l2.9 -0.6l48.7 0.8l38.9 -0.1l9.8 0.3l48.6 0.1V1.6z"/><path class="k1" d="M23.6 1.6V-11l2.9 3.1l1.5 1l1.5 1.6V1.6z"/><path class="k2" d="M17.7 1.6V-17.3l5.9 6.3V1.6z"/><path class="k3" d="M16.2 1.6V-22.6l1.5 5.3V1.6z"/><path class="k4" d="M13.3 1.6V-20.9l1.4 -5.8l1.5 4.1V1.6z"/><path class="k5" d="M11.8 1.6V-35.9l1.5 15V1.6z"/><path class="k7" d="M4.4 1.6V-38.2l1.5 -9.9l1.5 24.7l1.4 -20.9l1.5 -3.2l1.5 11.6V1.6z"/><path class="k16" d="M2.9 1.6V-99l1.5 60.8V1.6z"/><path class="k20" d="M0 1.6V-123.8l1.5 0l1.4 24.8V1.6z"/></g>
<g transform="matrix(1 0.4454 0 1 637.2 591)"><path class="k0" d="M29.5 1.6V-5.3l2.9 1.8l1.5 0.2l4.4 -0.3l19.5 0.6l9.7 -0.2l19.5 0.8l9.7 -0.4l9.8 0.5l19.4 -0.3l29.2 0.5l29.2 -0.1V1.6z"/><path class="k1" d="M22.1 1.6V-11.8l7.4 6.5V1.6z"/><path class="k2" d="M14.7 1.6V-18.4l7.4 6.6V1.6z"/><path class="k3" d="M11.8 1.6V-19.4l2.9 1V1.6z"/><path class="k4" d="M10.3 1.6V-28.6l1.5 9.2V1.6z"/><path class="k5" d="M8.8 1.6V-33.9l1.5 5.3V1.6z"/><path class="k6" d="M7.4 1.6V-38.9l1.4 5V1.6z"/><path class="k7" d="M5.9 1.6V-44.2l1.5 5.3V1.6z"/><path class="k8" d="M4.4 1.6V-52.6l1.5 8.4V1.6z"/><path class="k9" d="M2.9 1.6V-57.1l1.5 4.5V1.6z"/><path class="k11" d="M0 1.6V-71.4l1.5 0l1.4 14.3V1.6z"/></g>
<g transform="matrix(1 0.4456 0 1 636 591.3)"><path class="k0" d="M26.5 1.6V-6.1l4.5 2.4l1.4 -1.1l3 0.1l1.5 0.8l1.4 -0.4l9.8 -0.1l19.4 1.3l29.2 -0.4l29.2 0.8l29.2 0.3l29.2 -0.2V1.6z"/><path class="k1" d="M16.2 1.6V-11.8l5.9 3l4.4 2.7V1.6z"/><path class="k2" d="M0 1.6V-16.3l1.5 -1.2l1.4 1.7l1.5 -1.4V1.6zM8.8 1.6V-14.9l1.5 1.3l1.5 -1l1.5 1.7l2.9 1.1V1.6z"/><path class="k3" d="M4.4 1.6V-17.2l1.5 -6.7l1.5 2l1.4 7V1.6z"/></g>
<g transform="matrix(1 0.4457 0 1 634.8 591.6)"><path class="k0" d="M26.5 1.6V-6l1.5 0.8l1.5 0.3l1.5 0.1l1.4 -0.4l3 1.4l1.5 -1.4l1.4 1.2l9.8 0.6l9.7 -0.9l9.7 0.5l19.5 0.1l19.5 0.9l9.7 -0.3l19.5 0.3l9.7 -0.2l9.7 0.6l29.2 -0.2V1.6z"/><path class="k1" d="M13.3 1.6V-12.2l5.9 2.3l7.3 3.9V1.6z"/><path class="k2" d="M8.8 1.6V-13.1l1.5 -4.9l1.5 5.3l1.5 0.5V1.6z"/><path class="k3" d="M2.9 1.6V-16.7l1.5 -5.9V1.6z"/><path class="k4" d="M4.4 1.6V-22.6l1.5 -5.8l1.5 3.2l1.4 12.1V1.6z"/><path class="k5" d="M0 1.6V-21.1l1.5 -13.1l1.4 17.5V1.6z"/></g>
<g transform="matrix(1 0.4458 0 1 633.6 591.9)"><path class="k0" d="M28 1.6V-6.1l4.4 2.7l1.5 -0.9l3 1l1.4 -1.1l9.8 1l9.7 -0.3l9.7 0.5l9.8 0.1l9.7 -0.4l19.5 0.9l19.5 0.1l9.7 -0.4l19.5 0.5l9.7 -0.2l19.5 0.3V1.6z"/><path class="k1" d="M19.2 1.6V-12.3l8.8 6.2V1.6z"/><path class="k2" d="M7.4 1.6V-16.9l5.9 1.5l5.9 3.1V1.6z"/><path class="k3" d="M0 1.6V-17.2l1.5 -4.3l1.4 0.6l1.5 3.8l1.5 -4.8l1.5 5V1.6z"/></g>
<g transform="matrix(1 0.4459 0 1 632.4 592.2)"><path class="k0" d="M28 1.6V-5.9l3 1.7l1.4 0.3l1.5 -0.7l1.5 0.9l1.5 0.2l11.2 -0.1l9.7 0.6l9.8 -0.9l9.7 1.1l19.5 -0.6l9.7 0.7l9.7 -0.2l48.7 0.7l19.5 0V1.6z"/><path class="k1" d="M19.2 1.6V-11.9l8.8 6V1.6z"/><path class="k2" d="M10.3 1.6V-15.8l1.5 0.4l1.5 -0.4l1.4 1.5l4.5 2.4V1.6z"/><path class="k3" d="M5.9 1.6V-24.2l1.5 7.8V1.6z"/><path class="k4" d="M7.4 1.6V-16.4l1.4 -11.5l1.5 12.1V1.6z"/><path class="k6" d="M4.4 1.6V-39.7l1.5 15.5V1.6z"/><path class="k7" d="M0 1.6V-45.3l1.5 7.6l1.4 -5.8l1.5 3.8V1.6z"/></g>
<g transform="matrix(1 0.4461 0 1 631.2 592.5)"><path class="k0" d="M32.5 1.6V-5.2l25.3 1.5l19.5 0.1l9.7 0.6l9.8 -0.4l48.6 0.7l39 0V1.6z"/><path class="k1" d="M25.1 1.6V-11.4l4.4 4l3 2.2V1.6z"/><path class="k2" d="M17.7 1.6V-17.8l3 2.3l4.4 4.1V1.6z"/><path class="k3" d="M0 1.6V-22.7l5.9 0.2l3 0.5l4.4 1.5l4.4 2.7V1.6z"/></g>
<g transform="matrix(1 0.4462 0 1 630 592.8)"><path class="k0" d="M28 1.6V-5.5l1.5 0.9l3 0.7l2.9 0.2l1.5 -0.3l1.5 0.4l9.7 -0.3l19.5 1l19.4 -0.3l9.8 0.4l38.9 0l9.8 0.4l9.7 -0.3l9.7 0.5l19.5 -0.2V1.6z"/><path class="k1" d="M17.7 1.6V-12l10.3 6.5V1.6z"/><path class="k2" d="M8.9 1.6V-15.1l2.9 0.7l1.5 -2l1.5 3l2.9 1.4V1.6z"/><path class="k3" d="M7.4 1.6V-21.1l1.5 6V1.6z"/><path class="k5" d="M0 1.6V-24.8l1.5 -8.8l1.5 18.1l1.4 -20.4l1.5 3.6l1.5 11.2V1.6z"/></g>
<g transform="matrix(1 0.4463 0 1 628.9 593.1)"><path class="k0" d="M25.1 1.6V-6.1l5.9 3.5l4.4 -0.3l22.4 0.6l9.8 -0.3l9.7 0.3l9.7 -0.2l97.4 0.6V1.6z"/><path class="k1" d="M17.7 1.6V-11.5l7.4 5.4V1.6z"/><path class="k2" d="M7.4 1.6V-16.4l1.5 0.9V1.6zM13.3 1.6V-14l1.5 -0.4l2.9 2.9V1.6z"/><path class="k3" d="M8.9 1.6V-15.5l1.4 -9.1l1.5 4.3l1.5 6.3V1.6z"/><path class="k5" d="M5.9 1.6V-36l1.5 19.6V1.6z"/><path class="k6" d="M3 1.6V-31.5l1.4 -8.6l1.5 4.1V1.6z"/><path class="k7" d="M0 1.6V-44.3l1.5 -3.1l1.5 15.9V1.6z"/></g>
<g transform="matrix(1 0.4464 0 1 627.7 593.5)"><path class="k0" d="M26.6 1.6V-5.3l4.4 3l1.5 0.3l151.9 0.2V1.6z"/><path class="k1" d="M20.7 1.6V-11.1l5.9 5.8V1.6z"/><path class="k2" d="M13.3 1.6V-18l2.9 2.4l4.5 4.5V1.6z"/><path class="k3" d="M8.9 1.6V-21.7l1.4 0.5l1.5 2.2l1.5 1V1.6z"/><path class="k4" d="M1.5 1.6V-27.7l1.5 -1.6V1.6zM5.9 1.6V-21.1l1.5 -6.5l1.5 5.9V1.6z"/><path class="k5" d="M0 1.6V-34.5l1.5 6.8V1.6zM3 1.6V-29.3l1.4 -5.3l1.5 13.5V1.6z"/></g>
<g transform="matrix(1 0.4465 0 1 626.5 593.8)"><path class="k0" d="M26.6 1.6V-5.6l2.9 2.2l3 1.4l2.9 -0.2l149 0.4V1.6z"/><path class="k1" d="M20.7 1.6V-11.5l5.9 5.9V1.6z"/><path class="k2" d="M13.3 1.6V-18.3l1.5 1.1l5.9 5.7V1.6z"/><path class="k3" d="M7.4 1.6V-21.1l1.5 -1.2l1.4 0.5l1.5 2.5l1.5 1V1.6z"/><path class="k4" d="M1.5 1.6V-29.8l1.5 0V1.6zM5.9 1.6V-26.9l1.5 5.8V1.6z"/><path class="k5" d="M3 1.6V-29.8l1.4 -2l1.5 4.9V1.6z"/><path class="k6" d="M0 1.6V-40.8l1.5 11V1.6z"/></g>
<g transform="matrix(1 0.4467 0 1 625.3 594.1)"><path class="k0" d="M23.6 1.6V-5.5l1.5 0.4l1.5 1.4l2.9 0.7l1.5 0.9l1.5 0.1l5.9 -0.2l146 0.4V1.6z"/><path class="k1" d="M17.7 1.6V-10.3l1.5 0.9l1.5 1.8l2.9 2.1V1.6z"/><path class="k2" d="M13.3 1.6V-17l1.5 4.2l1.4 -2.7l1.5 5.2V1.6z"/><path class="k3" d="M10.3 1.6V-22.6l1.5 -1.3l1.5 6.9V1.6z"/><path class="k4" d="M8.9 1.6V-29.8l1.4 7.2V1.6z"/><path class="k6" d="M4.4 1.6V-38l1.5 18.7l1.5 -18.3l1.5 7.8V1.6z"/><path class="k7" d="M3 1.6V-46.7l1.4 8.7V1.6z"/><path class="k8" d="M0 1.6V-54.3l3 7.6V1.6z"/></g>
<g transform="matrix(1 0.4468 0 1 624.1 594.4)"><path class="k0" d="M28 1.6V-5.7l1.5 2.8l1.5 -2.4l1.5 1.9l1.4 0.4l1.5 -0.1l1.5 1.2l1.5 0.1l146.1 0.1V1.6z"/><path class="k1" d="M23.6 1.6V-7.7l1.5 -2.8l2.9 4.8V1.6z"/><path class="k2" d="M19.2 1.6V-16.4l2.9 1.1l1.5 7.6V1.6z"/><path class="k3" d="M14.8 1.6V-21.2l1.4 5l1.5 -6.6l1.5 6.4V1.6z"/><path class="k5" d="M13.3 1.6V-32.9l1.5 11.7V1.6z"/><path class="k6" d="M11.8 1.6V-41.4l1.5 8.5V1.6z"/><path class="k7" d="M10.3 1.6V-43.4l1.5 2V1.6z"/><path class="k8" d="M5.9 1.6V-50.1l1.5 -1l1.5 -0.5l1.4 8.2V1.6z"/><path class="k14" d="M4.4 1.6V-87.8l1.5 37.7V1.6z"/><path class="k19" d="M3 1.6V-120.5l1.4 32.7V1.6z"/><path class="k24" d="M0 1.6V-150.6l1.5 0l1.5 30.1V1.6z"/></g>
<g transform="matrix(1 0.4469 0 1 622.9 594.7)"><path class="k0" d="M28 1.6V-5.5l1.5 0.9l1.5 1.6l1.5 0.5l2.9 -0.3l1.5 1.1l147.6 0V1.6z"/><path class="k1" d="M22.1 1.6V-10.5l1.5 1.1l1.5 2.4l1.5 0.4l1.4 1.1V1.6z"/><path class="k2" d="M17.7 1.6V-12.6l1.5 -5.7l2.9 7.8V1.6z"/><path class="k3" d="M16.2 1.6V-21.2l1.5 8.6V1.6z"/><path class="k4" d="M13.3 1.6V-27.7l1.5 1.9l1.4 4.6V1.6z"/><path class="k5" d="M11.8 1.6V-37l1.5 9.3V1.6z"/><path class="k7" d="M5.9 1.6V-43.3l1.5 0.5l1.5 -6.3l1.4 1.1l1.5 11V1.6z"/><path class="k12" d="M4.4 1.6V-80.2l1.5 36.9V1.6z"/><path class="k13" d="M3 1.6V-84.2l1.4 4V1.6z"/><path class="k17" d="M0 1.6V-105.2l1.5 0l1.5 21V1.6z"/></g>
<g transform="matrix(1 0.4470 0 1 621.7 595)"><path class="k0" d="M25.1 1.6V-4.7l1.5 0.1l1.4 1.7l1.5 -0.1l3 1.1l152 0.2V1.6z"/><path class="k1" d="M19.2 1.6V-9.4l1.5 1.2l1.4 -0.6l1.5 1.7l1.5 2.4V1.6z"/><path class="k2" d="M13.3 1.6V-16l1.5 3.2l1.4 1l1.5 -4.6l1.5 7V1.6z"/><path class="k3" d="M5.9 1.6V-22.7l1.5 -0.2V1.6zM11.8 1.6V-24.1l1.5 8.1V1.6z"/><path class="k4" d="M10.3 1.6V-27.8l1.5 3.7V1.6z"/><path class="k5" d="M4.4 1.6V-35.4l1.5 12.7V1.6zM7.4 1.6V-22.9l1.5 -9.1l1.4 4.2V1.6z"/><path class="k7" d="M1.5 1.6V-35.3l1.5 -10.1l1.4 10V1.6z"/><path class="k12" d="M0 1.6V-74.9l1.5 39.6V1.6z"/></g>
<g transform="matrix(1 0.4472 0 1 620.5 595.3)"><path class="k0" d="M26.6 1.6V-5.4l4.4 2.6l1.5 0.1l1.4 -0.4l14.2 0.6l136.4 0.6V1.6z"/><path class="k1" d="M17.7 1.6V-11.7l8.9 6.3V1.6z"/><path class="k2" d="M7.4 1.6V-15.9l2.9 0.6l1.5 -1.7l1.5 2.4l4.4 2.9V1.6z"/><path class="k4" d="M4.4 1.6V-24.4l1.5 -4.4l1.5 12.9V1.6z"/><path class="k5" d="M3 1.6V-35.2l1.4 10.8V1.6z"/><path class="k6" d="M0 1.6V-25.2l1.5 -12.8l1.5 2.8V1.6z"/></g>
<g transform="matrix(1 0.4473 0 1 619.4 595.6)"><path class="k0" d="M28 1.6V-5.4l3 1.8l1.5 0l1.4 0.5l24 -0.4l9.7 0.8l9.7 -0.4l29.3 0.5l19.5 -0.1l29.2 0.5l29.2 0V1.6z"/><path class="k1" d="M19.2 1.6V-11.6l8.8 6.2V1.6z"/><path class="k2" d="M7.4 1.6V-16.3l2.9 0.6l1.5 -2.7l1.5 3.6l5.9 3.2V1.6z"/><path class="k5" d="M3 1.6V-36.6l1.4 15.6l1.5 -10.1l1.5 14.8V1.6z"/><path class="k6" d="M0 1.6V-42.9l3 6.3V1.6z"/></g>
<g transform="matrix(1 0.4474 0 1 618.2 595.9)"><path class="k0" d="M28 1.6V-6l4.5 3l2.9 0.4l3 -0.3l9.7 0l39 0.7l19.5 -0.3l29.2 0.4l48.7 0.1V1.6z"/><path class="k1" d="M22.1 1.6V-11.6l5.9 5.6V1.6z"/><path class="k2" d="M16.2 1.6V-17.2l5.9 5.6V1.6z"/><path class="k3" d="M8.9 1.6V-22l1.4 1.5V1.6zM14.8 1.6V-22.8l1.4 5.6V1.6z"/><path class="k4" d="M4.4 1.6V-25.1l1.5 -4.9V1.6zM13.3 1.6V-26.7l1.5 3.9V1.6z"/><path class="k5" d="M10.3 1.6V-20.5l1.5 -10.7l1.5 4.5V1.6z"/><path class="k7" d="M5.9 1.6V-30l1.5 -16.9l1.5 24.9V1.6z"/><path class="k8" d="M0 1.6V-46.1l1.5 -7.2V1.6z"/><path class="k10" d="M1.5 1.6V-53.3l1.5 -11.2l1.4 39.4V1.6z"/></g>
<g transform="matrix(1 0.4475 0 1 617 596.2)"><path class="k0" d="M26.6 1.6V-5l4.4 2.8l1.5 0.3l2.9 -0.2l42 0.3l107.1 0V1.6z"/><path class="k1" d="M19.2 1.6V-12.2l7.4 7.2V1.6z"/><path class="k2" d="M11.8 1.6V-18.5l4.4 3l3 3.3V1.6z"/><path class="k3" d="M8.9 1.6V-19.8l1.4 -2.5l1.5 3.8V1.6z"/><path class="k6" d="M5.9 1.6V-42.3l1.5 4.7l1.5 17.8V1.6z"/><path class="k7" d="M4.4 1.6V-47l1.5 4.7V1.6z"/><path class="k8" d="M1.5 1.6V-48.8l1.5 -2.8l1.4 4.6V1.6z"/><path class="k9" d="M0 1.6V-58.3l1.5 9.5V1.6z"/></g>
<g transform="matrix(1 0.4476 0 1 615.8 596.5)"><path class="k0" d="M22.1 1.6V-5.6l4.5 2.6l2.9 1.1l155 0.2V1.6z"/><path class="k1" d="M11.8 1.6V-11.6l1.5 0.7l1.5 0.1l1.4 1.4l5.9 3.8V1.6z"/><path class="k2" d="M10.3 1.6V-17.1l1.5 5.5V1.6z"/><path class="k3" d="M7.4 1.6V-12.7l1.5 -6.9l1.4 2.5V1.6z"/><path class="k4" d="M3 1.6V-30.5l2.9 5.5l1.5 12.3V1.6z"/><path class="k5" d="M0 1.6V-31.8l1.5 -1.1l1.5 2.4V1.6z"/></g>
<g transform="matrix(1 0.4478 0 1 614.6 596.8)"><path class="k0" d="M29.5 1.6V-5.7l3 2.2l1.5 0.4l2.9 -0.3l21 0.8l19.5 -0.2l19.5 0.5l9.7 -0.3l9.7 0.4l9.8 -0.3l58.5 0.5V1.6z"/><path class="k1" d="M23.6 1.6V-11.5l5.9 5.8V1.6z"/><path class="k2" d="M17.7 1.6V-17.6l5.9 6.1V1.6z"/><path class="k3" d="M0 1.6V-24l3 0l4.4 0.5l2.9 0.9l3 1.5l4.4 3.5V1.6z"/></g>
<g transform="matrix(1 0.4479 0 1 613.4 597.1)"><path class="k0" d="M32.5 1.6V-5.3l1.5 1l1.4 -0.9l1.5 -0.1l1.5 1.2l9.7 -0.9l9.8 0.4l9.7 1.3l19.5 0.2l19.5 -0.7l9.8 0.4l9.7 -0.1l9.7 0.8l9.8 0.2l39 -0.1V1.6z"/><path class="k1" d="M25.1 1.6V-11.4l4.4 3.9l3 2.2V1.6z"/><path class="k2" d="M16.2 1.6V-18.3l3 2l5.9 4.9V1.6z"/><path class="k3" d="M4.4 1.6V-24l1.5 2.4V1.6zM11.8 1.6V-23.9l1.5 3.4l1.5 1.4l1.4 0.8V1.6z"/><path class="k4" d="M10.3 1.6V-27.6l1.5 3.7V1.6z"/><path class="k5" d="M5.9 1.6V-21.6l1.5 -14.4l1.5 5l1.4 3.4V1.6z"/><path class="k8" d="M0 1.6V-45.5l1.5 -7.6l1.5 3.7l1.4 25.4V1.6z"/></g>
<g transform="matrix(1 0.4480 0 1 612.2 597.4)"><path class="k0" d="M32.5 1.6V-6.1l4.4 1.8l1.5 -0.8l9.7 -0.6l9.8 1.3l9.7 0.3l9.8 -0.1l19.5 0.7l19.5 -0.2l9.7 0.8l9.8 -0.5l19.4 0.1l9.8 0.7l9.7 -0.5l9.8 0.4V1.6z"/><path class="k1" d="M23.6 1.6V-11.7l7.4 5.5l1.5 0.1V1.6z"/><path class="k2" d="M13.3 1.6V-17.7l4.4 2l5.9 4V1.6z"/><path class="k3" d="M7.4 1.6V-19.2l1.5 0.3l1.4 -3.1l1.5 2.9l1.5 1.4V1.6z"/><path class="k4" d="M0 1.6V-27.1l1.5 5.6V1.6z"/><path class="k5" d="M1.5 1.6V-21.5l1.5 -14.9l1.4 0.2l1.5 3.7l1.5 13.3V1.6z"/></g>
<g transform="matrix(1 0.4481 0 1 611.1 597.7)"><path class="k0" d="M34 1.6V-5.2l1.4 -0.8l3 1.8l9.7 -1.6l9.8 1.2l9.7 0.7l9.8 0.3l9.7 -0.9l9.8 1l9.7 0.4l9.8 -0.8l29.2 1.2l39 -0.3V1.6z"/><path class="k1" d="M26.6 1.6V-11.3l4.4 3.9l3 2.2V1.6z"/><path class="k2" d="M19.2 1.6V-17.7l3 2.3l4.4 4.1V1.6z"/><path class="k3" d="M13.3 1.6V-21.3l5.9 3.6V1.6z"/><path class="k4" d="M8.9 1.6V-29.8l1.4 7.5l1.5 -2.6l1.5 3.6V1.6z"/><path class="k5" d="M7.4 1.6V-34.7l1.5 4.9V1.6z"/><path class="k6" d="M4.4 1.6V-39.8l1.5 0.6l1.5 4.5V1.6z"/><path class="k10" d="M3 1.6V-63l1.4 23.2V1.6z"/><path class="k12" d="M0 1.6V-78.7l1.5 0l1.5 15.7V1.6z"/></g>
<g transform="matrix(1 0.4483 0 1 609.9 598)"><path class="k0" d="M32.5 1.6V-5.9l1.5 1l1.4 0V1.6zM38.4 1.6V-5.5l9.7 1l9.8 -0.9l9.7 0.4l19.5 1.6l29.3 0.2l9.7 -0.4l9.8 0.1l9.7 0.6l39 0.1V1.6z"/><path class="k1" d="M25.1 1.6V-11.8l7.4 5.9V1.6zM35.4 1.6V-4.9l1.5 -1.4l1.5 0.8V1.6z"/><path class="k2" d="M19.2 1.6V-16.4l1.5 0.8l1.5 1.4l1.4 0.2l1.5 2.2V1.6z"/><path class="k3" d="M17.7 1.6V-21.2l1.5 4.8V1.6z"/><path class="k4" d="M16.2 1.6V-29.7l1.5 8.5V1.6z"/><path class="k5" d="M14.8 1.6V-35.5l1.4 5.8V1.6z"/><path class="k6" d="M11.8 1.6V-32.8l1.5 -8l1.5 5.3V1.6z"/><path class="k7" d="M8.9 1.6V-41l1.4 -5.7l1.5 13.9V1.6z"/><path class="k9" d="M7.4 1.6V-58l1.5 17V1.6z"/><path class="k10" d="M5.9 1.6V-63.9l1.5 5.9V1.6z"/><path class="k11" d="M4.4 1.6V-68.1l1.5 4.2V1.6z"/><path class="k23" d="M3 1.6V-144.3l1.4 76.2V1.6z"/><path class="k29" d="M0 1.6V-180.3l1.5 0l1.5 36V1.6z"/></g>
<g transform="matrix(1 0.4484 0 1 608.7 598.4)"><path class="k0" d="M34 1.6V-4.5l1.4 -1.1l1.5 -0.5l1.5 1.5l9.7 0.3l9.8 -0.5l9.7 1.1l9.8 0l9.7 0.4l9.8 -0.8l9.7 0.4l9.8 -0.1l19.5 0.8l9.7 0.1l9.8 -0.4l9.7 0.6l19.5 0.1V1.6z"/><path class="k1" d="M22.2 1.6V-12.3l8.8 6.3l1.5 -0.3l1.5 1.8V1.6z"/><path class="k2" d="M17.7 1.6V-16.2l1.5 2l1.5 -0.6l1.5 2.5V1.6z"/><path class="k3" d="M14.8 1.6V-16.8l1.4 -5.7l1.5 6.3V1.6z"/><path class="k4" d="M10.3 1.6V-28.6l1.5 8.8V1.6z"/><path class="k5" d="M11.8 1.6V-19.8l1.5 -12.9l1.5 15.9V1.6z"/><path class="k8" d="M7.4 1.6V-32.8l1.5 -19.1l1.4 23.3V1.6z"/><path class="k9" d="M5.9 1.6V-55.5l1.5 22.7V1.6z"/><path class="k11" d="M4.4 1.6V-71.1l1.5 15.6V1.6z"/><path class="k18" d="M3 1.6V-113.2l1.4 42.1V1.6z"/><path class="k22" d="M0 1.6V-141.5l1.5 0l1.5 28.3V1.6z"/></g>
<g transform="matrix(1 0.4485 0 1 607.5 598.7)"><path class="k0" d="M32.5 1.6V-5.7l1.5 1l1.5 0.3l1.4 -0.8l11.3 1.5l19.5 0.4l9.7 -0.5l29.2 0.2l29.3 1l9.7 -0.4l9.8 0.4l9.7 -0.3l9.8 0.6l9.7 0V1.6z"/><path class="k1" d="M26.6 1.6V-10.9l5.9 5.2V1.6z"/><path class="k2" d="M19.2 1.6V-17.8l7.4 6.9V1.6z"/><path class="k3" d="M14.8 1.6V-20.9l1.4 0.7l3 2.4V1.6z"/><path class="k4" d="M5.9 1.6V-23.7l1.5 -6.4V1.6zM11.8 1.6V-22.3l1.5 -3.6l1.5 5V1.6z"/><path class="k6" d="M7.4 1.6V-30.1l1.5 -10.9l1.4 3.7l1.5 15V1.6z"/><path class="k9" d="M3 1.6V-42.2l1.4 -18.3l1.5 36.8V1.6z"/><path class="k11" d="M0 1.6V-72.9l1.5 2.7l1.5 28V1.6z"/></g>
<g transform="matrix(1 0.4486 0 1 606.3 599)"><path class="k0" d="M29.5 1.6V-6.1l3 2.1l1.5 0.5l1.5 -0.6l1.4 0.8l1.5 -0.7l9.8 0.8l19.5 0.3l29.2 -0.1l9.8 0.4l9.7 -0.2l19.5 0.4l9.8 -0.2l19.4 0.5l19.5 0V1.6z"/><path class="k1" d="M23.6 1.6V-11.5l5.9 5.4V1.6z"/><path class="k2" d="M16.2 1.6V-18l7.4 6.5V1.6z"/><path class="k3" d="M7.4 1.6V-21.8l1.5 -0.6l1.4 1.3l3 1.3l2.9 1.8V1.6z"/><path class="k4" d="M0 1.6V-26.4l1.5 4.1V1.6zM5.9 1.6V-24.7l1.5 2.9V1.6z"/><path class="k5" d="M1.5 1.6V-22.3l1.5 -12.6l1.4 3.1l1.5 7.1V1.6z"/></g>
<g transform="matrix(1 0.4487 0 1 605.1 599.3)"><path class="k0" d="M29.5 1.6V-5.2l3 2.1l1.5 0.5l2.9 -0.5l1.5 0.4l9.8 0.2l29.2 -0.2l19.5 0.4l87.8 0.2V1.6z"/><path class="k1" d="M23.6 1.6V-10.8l5.9 5.6V1.6z"/><path class="k2" d="M16.3 1.6V-18.2l7.3 7.4V1.6z"/><path class="k3" d="M1.5 1.6V-23.4l1.5 0V1.6zM8.9 1.6V-22.5l2.9 1.2l4.5 3.1V1.6z"/><path class="k4" d="M0 1.6V-25.7l1.5 2.3V1.6zM3 1.6V-23.4l1.4 -5.5l1.5 -0.3l3 6.7V1.6z"/></g>
<g transform="matrix(1 0.4489 0 1 603.9 599.6)"><path class="k0" d="M26.6 1.6V-6l4.4 3.1l1.5 0.5l3 0.2l1.4 -0.3l1.5 0.3l19.5 -0.2l29.3 0.4l19.5 -0.2l78 0.3V1.6z"/><path class="k1" d="M20.7 1.6V-11.6l5.9 5.6V1.6z"/><path class="k2" d="M13.3 1.6V-17.8l3 2.2l4.4 4V1.6z"/><path class="k3" d="M5.9 1.6V-20.5l3 0.7l1.4 -0.8l1.5 2l1.5 0.8V1.6z"/><path class="k4" d="M4.4 1.6V-29l1.5 8.5V1.6z"/><path class="k5" d="M3 1.6V-36.8l1.4 7.8V1.6z"/><path class="k6" d="M0 1.6V-34.1l1.5 -5.6l1.5 2.9V1.6z"/></g>
<g transform="matrix(1 0.4490 0 1 602.8 599.9)"><path class="k0" d="M26.6 1.6V-6l4.4 3.2l1.5 0.4l5.9 0.2l146.3 0.4V1.6z"/><path class="k1" d="M20.7 1.6V-11.8l5.9 5.8V1.6z"/><path class="k2" d="M13.3 1.6V-18.3l3 2.2l4.4 4.3V1.6z"/><path class="k3" d="M4.4 1.6V-21.4l1.5 0.2l1.5 -1.4l1.5 2.1l4.4 2.2V1.6z"/><path class="k6" d="M1.5 1.6V-38.9l1.5 -2.2l1.4 19.7V1.6z"/><path class="k8" d="M0 1.6V-51.4l1.5 12.5V1.6z"/></g>
<g transform="matrix(1 0.4491 0 1 601.6 600.2)"><path class="k0" d="M29.6 1.6V-5.2l2.9 2.1l3 0.1l1.4 0.4l1.5 -0.4l39 0.6l107.3 0.5V1.6z"/><path class="k1" d="M23.6 1.6V-11l6 5.8V1.6z"/><path class="k2" d="M17.7 1.6V-17.3l5.9 6.3V1.6z"/><path class="k3" d="M0 1.6V-24.2l5.9 0.3l3 0.7l4.4 2.2l4.4 3.7V1.6z"/></g>
<g transform="matrix(1 0.4492 0 1 600.4 600.5)"><path class="k0" d="M31 1.6V-5.9l3 2.1l1.5 -0.1l1.4 -0.5l1.5 0.9l9.8 -0.6l9.7 1.1l19.5 -0.5l29.3 0.9l29.2 -0.2l19.6 0.5l29.2 0.1V1.6z"/><path class="k1" d="M25.1 1.6V-11.5l5.9 5.6V1.6z"/><path class="k2" d="M19.2 1.6V-17.4l5.9 5.9V1.6z"/><path class="k3" d="M13.3 1.6V-23.6l1.5 2.7l4.4 3.5V1.6z"/><path class="k4" d="M11.8 1.6V-27.6l1.5 4V1.6z"/><path class="k5" d="M8.9 1.6V-30.2l1.4 -1.7l1.5 4.3V1.6z"/><path class="k6" d="M3 1.6V-28.8l1.4 -13.6l1.5 18.2l1.5 -16.2l1.5 10.2V1.6z"/><path class="k9" d="M1.5 1.6V-61.5l1.5 32.7V1.6z"/><path class="k10" d="M0 1.6V-64.4l1.5 2.9V1.6z"/></g>
<g transform="matrix(1 0.4494 0 1 599.2 600.8)"><path class="k0" d="M31 1.6V-5.9l1.5 0.7l1.5 0.2l1.5 -0.9l1.4 0.6l1.5 -0.6l9.8 2.1l9.7 -1.4l19.5 1.1l9.8 -0.2l9.7 0.8l9.8 -0.2l19.5 0.7l29.3 -0.1l29.2 0.4V1.6z"/><path class="k1" d="M23.6 1.6V-11.3l7.4 5.4V1.6z"/><path class="k2" d="M8.9 1.6V-18.4l2.9 0.7l4.5 1.7l7.3 4.7V1.6z"/><path class="k3" d="M0 1.6V-21l1.5 0.3l1.5 1.8l5.9 0.5V1.6z"/></g>
<g transform="matrix(1 0.4495 0 1 598 601.1)"><path class="k0" d="M32.5 1.6V-5.7l3 1.6l2.9 -0.6l9.8 0.6l9.7 -0.6l19.5 1.3l19.5 -0.6l9.8 1l9.8 0.2l48.7 -0.2l19.5 0.6V1.6z"/><path class="k1" d="M25.1 1.6V-12l7.4 6.3V1.6z"/><path class="k2" d="M17.7 1.6V-18.2l4.5 3.5l2.9 2.7V1.6z"/><path class="k3" d="M0 1.6V-23.4l1.5 0.7l4.4 0.1l4.4 0.8l4.5 1.8l2.9 1.8V1.6z"/></g>
<g transform="matrix(1 0.4496 0 1 596.8 601.4)"><path class="k0" d="M26.6 1.6V-5.5l3 1.6l1.4 0.2l7.4 -0.2l9.8 0.7l136.5 1V1.6z"/><path class="k1" d="M16.3 1.6V-11.2l10.3 5.7V1.6z"/><path class="k2" d="M13.3 1.6V-16.2l1.5 -0.3l1.5 5.3V1.6z"/><path class="k3" d="M5.9 1.6V-13.8l1.5 -9.3V1.6zM11.8 1.6V-20.8l1.5 4.6V1.6z"/><path class="k4" d="M7.4 1.6V-23.1l1.5 -2.3l1.4 -0.9l1.5 5.5V1.6z"/><path class="k5" d="M4.4 1.6V-36.5l1.5 22.7V1.6z"/><path class="k8" d="M3 1.6V-54l1.4 17.5V1.6z"/><path class="k10" d="M0 1.6V-67.6l1.5 0l1.5 13.6V1.6z"/></g>
<g transform="matrix(1 0.4497 0 1 595.6 601.7)"><path class="k0" d="M28.1 1.6V-5.8l1.5 1l1.4 0l1.5 1l5.9 0.5l9.8 -0.3l19.5 0.1l9.8 0.9l19.5 -0.4l39 0.7l29.3 -0.2l9.7 0.4l9.8 -0.2V1.6z"/><path class="k1" d="M22.2 1.6V-10.3l1.4 0.8l1.5 -0.2l1.5 2.8l1.5 1.1V1.6z"/><path class="k2" d="M17.7 1.6V-16.4l1.5 3.9l1.5 -1.2l1.5 3.4V1.6z"/><path class="k3" d="M16.3 1.6V-21.4l1.4 5V1.6z"/><path class="k4" d="M14.8 1.6V-29l1.5 7.6V1.6z"/><path class="k5" d="M10.3 1.6V-34.1l1.5 2l1.5 -0.9l1.5 4V1.6z"/><path class="k8" d="M7.4 1.6V-41.1l1.5 -8.9l1.4 15.9V1.6z"/><path class="k9" d="M4.4 1.6V-40.8l1.5 -15.7l1.5 15.4V1.6z"/><path class="k16" d="M3 1.6V-102.3l1.4 61.5V1.6z"/><path class="k20" d="M0 1.6V-127.8l1.5 0l1.5 25.5V1.6z"/></g>
<g transform="matrix(1 0.4498 0 1 594.5 602)"><path class="k0" d="M32.5 1.6V-5.8l1.5 0.9l3 -0.1l11.2 0.9l9.7 -0.7l9.8 1.2l9.8 0l9.7 0.4l19.5 -0.5l19.5 1l9.8 0.1l9.8 -0.4l9.7 0.3l9.8 -0.3l19.5 0.2V1.6z"/><path class="k1" d="M26.6 1.6V-11.1l5.9 5.3V1.6z"/><path class="k2" d="M19.2 1.6V-18l7.4 6.9V1.6z"/><path class="k3" d="M14.8 1.6V-21.1l4.4 3.1V1.6z"/><path class="k4" d="M13.3 1.6V-29.5l1.5 8.4V1.6z"/><path class="k5" d="M10.3 1.6V-23l1.5 -8l1.5 1.5V1.6z"/><path class="k6" d="M4.4 1.6V-41.4l1.5 4.2l1.5 11.3l1.5 -16.4l1.4 19.3V1.6z"/><path class="k9" d="M3 1.6V-60.8l1.4 19.4V1.6z"/><path class="k11" d="M0 1.6V-69.6l1.5 0l1.5 8.8V1.6z"/></g>
<g transform="matrix(1 0.4500 0 1 593.3 602.3)"><path class="k0" d="M48.2 1.6V-4.8l9.7 -0.9l9.8 1.4l9.8 -1.4l9.7 2l9.8 -0.8l9.7 0l9.8 1l9.7 -0.8l19.6 0.9l9.7 -0.2l9.8 0.5l9.7 -0.2l9.8 0.7V1.6z"/><path class="k1" d="M19.2 1.6V-12.2l10.4 5.7l2.9 0.2l1.5 -1.2l1.5 0.8l12.7 1.9V1.6z"/><path class="k2" d="M7.4 1.6V-15.9l1.5 0.8V1.6zM11.8 1.6V-16.3l1.5 2l5.9 2.1V1.6z"/><path class="k3" d="M5.9 1.6V-22.5l1.5 6.6V1.6zM8.9 1.6V-15.1l1.4 -4.4l1.5 3.2V1.6z"/><path class="k4" d="M1.5 1.6V-27.8l1.5 3.9V1.6z"/><path class="k5" d="M3 1.6V-23.9l1.4 -8.2l1.5 9.6V1.6z"/><path class="k6" d="M0 1.6V-37.2l1.5 9.4V1.6z"/></g>
<g transform="matrix(1 0.4501 0 1 592.1 602.6)"><path class="k0" d="M38.4 1.6V-6.1l9.8 0l9.8 1.7l9.7 -1l19.5 0.6l19.5 1.1l9.8 -0.7l9.8 0.4l9.7 0.8l9.8 0.1l9.7 -0.4l19.5 0.8l9.8 -0.6V1.6z"/><path class="k1" d="M26.6 1.6V-11.7l7.4 5.7l3 -1.4l1.4 1.3V1.6z"/><path class="k2" d="M17.7 1.6V-18.3l6 4.1l2.9 2.5V1.6z"/><path class="k3" d="M11.8 1.6V-20.9l1.5 0l4.4 2.6V1.6z"/><path class="k4" d="M7.4 1.6V-25.2l1.5 2.2l1.4 -5.1l1.5 7.2V1.6z"/><path class="k5" d="M0 1.6V-35.8l1.5 8.7V1.6z"/><path class="k6" d="M4.4 1.6V-22l1.5 -19.2l1.5 16V1.6z"/><path class="k8" d="M1.5 1.6V-27.1l1.5 -23.2l1.4 28.3V1.6z"/></g>
<g transform="matrix(1 0.4502 0 1 590.9 603)"><path class="k0" d="M29.6 1.6V-6.1l1.4 0.9l1.5 -0.2l1.5 0.2l1.5 0.7l2.9 -1l19.6 0.7l19.5 1.2l9.7 -0.6l9.8 0.9l19.5 -0.3l19.5 0.2l9.8 0.6l29.3 0.3l9.7 -0.2V1.6z"/><path class="k1" d="M20.7 1.6V-11.7l8.9 5.6V1.6z"/><path class="k2" d="M13.3 1.6V-17.9l1.5 2.5l1.5 1.4l4.4 2.3V1.6z"/><path class="k3" d="M7.4 1.6V-19.1l1.5 0.3l1.4 2.4l1.5 -4.6l1.5 3.1V1.6z"/><path class="k4" d="M0 1.6V-25.9l1.5 -1.1V1.6z"/><path class="k5" d="M1.5 1.6V-27l1.5 -6.9l1.4 16.5l1.5 -16.5l1.5 14.8V1.6z"/></g>
<g transform="matrix(1 0.4503 0 1 589.7 603.3)"><path class="k0" d="M31.1 1.6V-5.1l2.9 1.5l1.5 -0.8l2.9 0.9l9.8 0.3l9.8 -0.7l9.7 0.7l9.8 0.2l9.7 -0.3l19.6 0.7l19.5 -0.3l39 0.7l19.5 -0.2V1.6z"/><path class="k1" d="M23.7 1.6V-11.4l7.4 6.3V1.6z"/><path class="k2" d="M14.8 1.6V-18.4l2.9 1.9l6 5.1V1.6z"/><path class="k3" d="M4.4 1.6V-21.4l6 1l4.4 2V1.6z"/><path class="k4" d="M0 1.6V-28.2l1.5 6.7l1.5 -3.4l1.4 3.5V1.6z"/></g>
<g transform="matrix(1 0.4504 0 1 588.5 603.6)"><path class="k0" d="M23.7 1.6V-5.7l4.4 2.4l5.9 0.8l3 -0.4l1.4 0.5l9.8 -0.4l58.6 0.7l9.7 -0.2l68.3 0.3V1.6z"/><path class="k1" d="M14.8 1.6V-10.4l4.4 1.9l4.5 2.8V1.6z"/><path class="k2" d="M13.3 1.6V-13.2l1.5 2.8V1.6z"/><path class="k3" d="M4.4 1.6V-23.9l1.5 0.9V1.6zM8.9 1.6V-16.2l1.5 -6.2l1.4 3l1.5 6.2V1.6z"/><path class="k4" d="M5.9 1.6V-23l1.5 -6.2l1.5 13V1.6z"/><path class="k5" d="M1.5 1.6V-27.8l1.5 -3.3l1.4 7.2V1.6z"/><path class="k7" d="M0 1.6V-45.3l1.5 17.5V1.6z"/></g>
<g transform="matrix(1 0.4506 0 1 587.3 603.9)"><path class="k0" d="M28.1 1.6V-5.5l4.4 3.1l1.5 0.1l1.5 -0.2l51.7 0.5l9.8 -0.2l87.8 0.3V1.6z"/><path class="k1" d="M22.2 1.6V-11.7l5.9 6.2V1.6z"/><path class="k2" d="M16.3 1.6V-18.3l5.9 6.6V1.6z"/><path class="k3" d="M5.9 1.6V-24.1l4.5 1.5l2.9 1.8l3 2.5V1.6z"/><path class="k5" d="M4.4 1.6V-33.9l1.5 9.8V1.6z"/><path class="k8" d="M0 1.6V-51.1l1.5 18.4l1.5 -16.6l1.4 15.4V1.6z"/></g>
<g transform="matrix(1 0.4507 0 1 586.2 604.2)"><path class="k0" d="M28.1 1.6V-5l4.4 2.5l3 -0.2l3 0.4l9.7 -0.4l29.3 0.6l107.4 0.1V1.6z"/><path class="k1" d="M20.7 1.6V-11.6l7.4 6.6V1.6z"/><path class="k2" d="M11.8 1.6V-18.3l4.5 2.8l4.4 3.9V1.6z"/><path class="k3" d="M0 1.6V-22.8l1.5 2.5l4.4 0.2l3 0.6l2.9 1.2V1.6z"/></g>
<g transform="matrix(1 0.4508 0 1 585 604.5)"><path class="k0" d="M28.1 1.6V-5.8l3 2l2.9 1l1.5 -0.3l12.7 0.4l9.8 -0.5l9.7 0.4l39.1 0.2l19.5 0.4l39.1 -0.1l9.7 0.3l9.8 -0.2V1.6z"/><path class="k1" d="M22.2 1.6V-10.7l5.9 4.9V1.6z"/><path class="k2" d="M13.3 1.6V-17.2l1.5 0.8V1.6zM17.7 1.6V-18.3l1.5 5.1l1.5 0.8l1.5 1.7V1.6z"/><path class="k3" d="M14.8 1.6V-16.4l1.5 -4.3l1.4 2.4V1.6z"/><path class="k4" d="M10.4 1.6V-29.8l1.4 4.2l1.5 8.4V1.6z"/><path class="k7" d="M7.4 1.6V-27.6l1.5 -16.3l1.5 14.1V1.6z"/><path class="k8" d="M4.4 1.6V-46.2l1.5 -7l1.5 25.6V1.6z"/><path class="k9" d="M1.5 1.6V-59.3l1.5 1.5l1.4 11.6V1.6z"/><path class="k11" d="M0 1.6V-73.1l1.5 13.8V1.6z"/></g>
<g transform="matrix(1 0.4509 0 1 583.8 604.8)"><path class="k0" d="M29.6 1.6V-5.7l2.9 2l3 0l1.5 0.4l11.2 -0.2l19.5 0.7l9.8 -0.6l48.8 1.1l19.5 -0.2l9.8 0.3l9.8 -0.3l19.5 0.3V1.6z"/><path class="k1" d="M22.2 1.6V-12.1l7.4 6.4V1.6z"/><path class="k2" d="M19.2 1.6V-14.7l3 2.6V1.6z"/><path class="k3" d="M14.8 1.6V-22.9l1.5 4.8l1.4 -2.6l1.5 6V1.6z"/><path class="k5" d="M13.3 1.6V-32l1.5 9.1V1.6z"/><path class="k6" d="M10.4 1.6V-41.3l1.4 0.6l1.5 8.7V1.6z"/><path class="k8" d="M7.4 1.6V-35.2l1.5 -16l1.5 9.9V1.6z"/><path class="k9" d="M5.9 1.6V-60.8l1.5 25.6V1.6z"/><path class="k10" d="M4.4 1.6V-62.7l1.5 1.9V1.6z"/><path class="k17" d="M3 1.6V-104.7l1.4 42V1.6z"/><path class="k21" d="M0 1.6V-130.9l1.5 0l1.5 26.2V1.6z"/></g>
<g transform="matrix(1 0.4511 0 1 582.6 605.1)"><path class="k0" d="M26.6 1.6V-5.8l3 0.6l1.5 1.4l1.4 0.6l1.5 -0.8l3 0.9l1.5 -0.4l9.7 0.7l19.5 0.3l78.1 0l39.1 0.4V1.6z"/><path class="k1" d="M20.7 1.6V-11.3l1.5 3l1.5 -0.6l1.4 1l1.5 2.1V1.6z"/><path class="k2" d="M16.3 1.6V-16.5l4.4 5.2V1.6z"/><path class="k3" d="M11.8 1.6V-23.6l4.5 7.1V1.6z"/><path class="k4" d="M8.9 1.6V-29.3l2.9 5.7V1.6z"/><path class="k5" d="M5.9 1.6V-35.7l3 6.4V1.6z"/><path class="k6" d="M3 1.6V-41.9l2.9 6.2V1.6z"/><path class="k7" d="M0 1.6V-46.3l1.5 1.8l1.5 2.6V1.6z"/></g>
<path d="M598.4 598.2v1.2M601.3 597.1v1.8M598.7 602.9v2.5M603.3 604.5v1.7M605.1 602.1v1.7M606.9 602.2v1.7M609.9 605.5v1.1M600.1 603.5v1.7M602.1 603.5v2.3M604.3 605.1v1.9M606.4 606v2.2M610.1 607v1.6M613.4 608.4v1.5M616.9 607.8v1M605.2 606.8v1M610.1 606.4v1.8M613.5 607.6v1M613.3 609.2v2.3M615.4 610.5v1.3M617.6 611.6v1.8M620.5 612.8v2.2M611.4 598v1.2M612 598.4v1M614 596.6v2.3M615 598.7v2.2M615.4 602.7v2.3M619.1 598.4v1.3M622.1 600.9v1.9M614.2 597.6v1.9M617.8 601.6v2.3M617.1 602.3v2.3M624.5 602.5v1.7M624.1 602v2.2M624.9 603.4v1.6M628.7 605.7v1.4M617.8 604.2v1M621.8 603.2v1M622.9 603.3v1.7M626.3 606.5v2.1M628.5 606.4v1.2M629 609.1v2M630.5 607.8v1.6M624.6 592.2v1.4M625.5 590.7v2M628.4 592.9v2.4M629.9 593.5v2M635 593.9v1.5M637 595.5v1M637 599.6v1.6M627.2 593.6v1.9M632.8 596.7v2M633.2 595.9v1.6M635.9 600.6v1.9M637.8 598.3v0.9M641.4 601.6v1.4M641.5 600.5v2.1M632.6 599.2v1.9M636.1 600.2v1.1M638.8 599.2v1.1M642 601.6v2.1M643.4 603.7v1.8M646 603.1v2.3M648.2 606.1v1M639.2 587.8v2.4M640.7 587v1.7M642.2 588.8v2M642.6 591v1.9M646.4 592.3v2.4M651.3 595.4v1.8M649.3 594.6v2.2M642.3 589.8v1.7M644.8 590.7v1.2M648.5 593.9v1.5M649.7 596v1.7M652.4 594.3v1.2M654.5 597.2v1.8M656.6 596.6v1.2M646.3 594.6v2.3M647.7 595.7v1.5M653.1 597.8v2.2M654.2 598.4v1.5M656.4 599.8v2.4M658.7 600.8v1.6M662 599.9v1.6M652.2 582.9v1.6M656 586.9v0.9M657.4 586.1v1.3M659.3 584.8v1.6M662 586.5v2M664.8 592.2v1.3M667.8 592.4v1.1M657.9 586.7v1.4M660.6 586.7v1.9M662.8 591.8v0.9M666.3 589.1v1.8M666.9 593.5v1.4M669.5 591.2v1.4M673.1 592.8v1.9M663.8 591.4v1.6M668 592.7v1.5M668.7 592.6v1.3M670.8 595.1v0.9M673.3 595.9v1.4M674.5 595.4v2.2M678.3 595.8v1.2M665.6 582.7v1.8M668.5 578.8v1.9M669.2 585.2v1.1M675 584.7v1.2M675.8 585v2M677.8 584.9v1.7M679 586.8v2.3M671.6 582.5v1.9M675.8 585.6v1.5M675.8 586.3v1.8M678.5 588.9v2.3M681.1 588.6v2.4M682.5 586.7v2.4M685 590.2v1.1M676.6 586.4v2.2M677.9 589.7v1.6M680.9 590.2v1.9M684.9 591.8v2.5M683.8 593v2M687.8 593.8v1M689.9 592.3v2.3M681.8 575.5v2M686.4 575.5v2.4M688.5 577.9v1.4M691.5 580.9v2.5M692 579.3v1.1M694.4 579.1v1.3M694.7 584.6v1.7M687.7 579.3v1.4M692.1 580.1v1M689.2 583.5v2.3M694.6 583.9v1.9M697 583.5v1.3M699.8 584.3v1.5M702 585v1.2M692.4 583.6v1.8M694.6 585.3v1.5M696.9 585.8v1.9M700.8 587.5v1.5M703.9 587.6v2.4M703.5 587.6v2.4M706.1 590.5v2.5M695.7 573.4v1.4M699.7 571.6v1.7M701.2 576.6v1.2M701.9 574.7v2.5M705.6 573.7v1M706 577v1.3M709.3 576.6v1.8M700.9 578.6v1.3M704.2 579v2.1M705.6 579.6v2.4M709.7 579.2v1.1M709.5 581.9v1.9M714.4 582.4v1.3M715.6 581.7v1.6M706.9 579.4v1.5M708.2 582.3v1.6M707.6 581.6v1.7M713.5 582.4v1M714.4 582.3v1.2M717.8 586.4v1.8M719.3 585.1v1M713.1 566.3v1.1M715 571.1v2.3M716.5 571.2v1.9M719 574.3v1.8M722.1 572.4v2.1M724.8 573.1v1.5M726 571.7v0.9M717.3 573.9v1.6M719.4 574.1v1.8M720.7 575.2v1.5M725.4 574.4v1.6M727.2 575.3v2.4M727.5 578.5v1.9M731.1 580v1.4M719.6 576.2v2M724.3 577v2.3M727.6 577v2.2M726.4 579v1M732.6 579.9v0.9M731.5 580.3v2.5M735.2 582.4v1.3M727.4 563v2.1M728 566.7v1M731.9 567.7v1.1M732 569.1v1.8M735 569.1v1M739.8 571.2v1.8M740.5 572.3v1.1M729.3 569.8v2.2M733.5 568.1v2.1M735 571.6v1.4M738.6 571.2v2.4M739.9 574.8v2.5M745.4 574v1.9M745.4 572.9v1M735 572.3v1.1M738.3 572.5v1.4M741.9 572.5v1.3M742.9 575.6v1.5M745.7 575.4v1M744.8 577v2.3M749.4 578.9v2M741.5 559.4v2.2M743.6 562.6v1.9M745.9 563.1v2.3M748.2 565.6v2.2M752.6 565.9v0.9M750.6 565.6v1.1M754.2 565v1.4M747.2 565.8v1.1M749.1 567.3v1.1M751.1 565.9v1.4M753.1 567.1v1.9M753.4 568.3v1.3M757.3 571.1v1M760.2 568.9v1.7M750.4 568.7v1.3M755.1 569.2v1.7M755.9 571.1v1.6M757.5 571.7v1.1M760 572.7v1.5M764.8 573.2v1.8M765.1 574.2v1.4M755.5 556.7v1.6M757.7 559.6v1.9M760.2 561.3v1.2M762.4 560.1v1.4M764.6 559.8v1.2M768.2 564.6v1M768.6 562.6v2.2M759.9 562.9v2M764.9 562v2M766 560.7v1.5M769.2 563.1v1.6M769.6 562.3v1.2M773.1 565.5v1M775.2 564.7v2.1M767.3 564.7v2.4M767.5 565.7v1.4M768.6 567.5v2.4M773.5 567.7v1.4M772.3 567.5v1.3M777 569.3v1.3M777.4 570.4v1.6M770.4 554.6v2.2M774.7 555.4v1.6M780 555.5v2.4M779.1 557.1v1.4M781.6 554.9v1.9M783.2 555.9v1.3M785.4 558.9v1.6M776.2 555.5v2M778 558.6v1.3M780.5 560.4v1.7M782.8 558.4v1.9M786 561.2v1.9M786.8 563.3v1.4M790 564.4v1.7M783.2 561.2v1.9M783.7 560.4v2.3M785.7 562.2v1.4M787.1 562.2v2.5M789 563.1v2.4M793.9 565v1.2M796.1 566.3v1.2M787.3 547.8v2.3M786.8 549.4v2.5M789.5 548.8v1.6M793.8 554v1.6M796.7 551.4v1.3M797.8 555v1.2M800.3 556.5v2.2M792.5 551.8v1.6M793.8 553.2v1.8M796.6 554v1.2M797.6 556.8v2.4M800.4 557v1.9M803.1 558.4v2.3M805.7 557.3v1.1M796.6 557v2.2M797.3 556v1.3M800.4 558.5v2.1M803.7 558.9v2.3M807.2 560.7v1M807 561.4v1M809.5 561.3v2.4M801.4 547.1v1.4M802.9 548v2.1M805.2 545.5v1.4M810.2 547.5v1.3M811.5 547.7v1.7M814.3 548.5v2.4M815.7 549.2v1.8M805.6 548.2v1.5M807.4 551.6v2.5M810.4 552.5v2.3M813.3 550.9v1.7M815 555.4v1.4M816.5 552v1M821.7 553.8v1.5M810.6 553.3v1.1M813.4 552.5v1.9M815.2 554v1.1M818.8 553.7v0.9M821.8 555.5v2.5M822.6 556.3v2M823.5 558.5v2.4M817.3 544.1v1.7M820.9 544v1.2M819.6 541.1v2.1M821.4 544v1.6M826.4 545.1v1M826 545.7v2.5M831.1 548.9v2M820.8 545.9v1.4M823.3 546v1.2M826.5 547.1v2.1M827.4 549.3v2.4M831 546.4v1.6M832.6 550.2v1.3M835.8 551.9v2.3M823 548v0.9M827.7 551.2v2.1M830.8 551.8v1M830 552.2v1M835.4 553.2v2.4M838.2 554.5v1.6M839.6 554.4v2.2M829.9 537.4v0.9M831.7 536.7v1.7M837.3 539v1.9M837.1 539.6v2.2M839 540.7v0.9M840.4 544.1v0.9M846.5 544.2v1.3M834.4 543.1v1.8M836.2 542.5v1.8M837.5 544.4v1.1M841.2 544.4v1.7M844.9 544.8v1.1M848.2 544.8v2M850 548.4v2.5M838.9 543.3v1.4M841.8 545v1.6M844.7 545.5v2.2M847 548.8v1.1M850.7 547.8v2.1M852.8 550.4v1M853.5 550v1.2" stroke="#fff" stroke-width="1" fill="none"/>
<path d="M582.6 605.1l-5.3 1.4M641.8 631.8l-5.3 1.4M700.9 658.5l-5.3 1.4M760.1 685.2l-5.3 1.4M1001 621.9l5.1 2.2M942.6 638.5l5.1 2.2M884.2 655.2l5.1 2.2M825.9 671.9l5.1 2.2M767.5 688.5l5.1 2.2" fill="none" stroke="#222" stroke-width="1"/>
<text transform="translate(573.3 574.3) scale(1.01 1.11)" font-size="19.5" text-anchor="end">2</text>
<text transform="translate(573.3 540.6) scale(1.01 1.11)" font-size="19.5" text-anchor="end">4</text>
<text transform="translate(573.3 507) scale(1.01 1.11)" font-size="19.5" text-anchor="end">6</text>
<text transform="translate(573.3 473.3) scale(1.01 1.11)" font-size="19.5" text-anchor="end">8</text>
<text transform="translate(573.3 439.7) scale(1.01 1.11)" font-size="19.5" text-anchor="end">10</text>
<text transform="translate(572.5 624.3) scale(1.01 1.11)" font-size="19.5" text-anchor="end">0</text>
<text transform="translate(626.2 650.2) scale(1.01 1.11)" font-size="19.5" text-anchor="middle">2</text>
<text transform="translate(683.4 677.6) scale(1.01 1.11)" font-size="19.5" text-anchor="middle">4</text>
<text transform="translate(742.2 704.4) scale(1.01 1.11)" font-size="19.5" text-anchor="middle">6</text>
<text transform="translate(538.6 679) scale(1 1.1)" font-size="21.5">×10<tspan dy="-16" dx="1.5" font-size="13">7</tspan></text>
<text transform="translate(607.1 713.7) scale(1 1.09)" font-size="19.5" text-anchor="middle">Frequency (Hz)</text>
<text transform="translate(1010.6 645) scale(1.01 1.11)" font-size="19.5">0</text>
<text transform="translate(951.3 661.2) scale(1.01 1.11)" font-size="19.5">0.02</text>
<text transform="translate(892 677.4) scale(1.01 1.11)" font-size="19.5">0.04</text>
<text transform="translate(832.7 693.6) scale(1.01 1.11)" font-size="19.5">0.06</text>
<text transform="translate(773.4 709.8) scale(1.01 1.11)" font-size="19.5">0.08</text>
<text transform="translate(903.5 718.5) scale(1.04 1.09)" font-size="19.5" text-anchor="middle">Time (s)</text>
<text transform="translate(543 510) rotate(-90) scale(1.05 1.02)" font-size="19.5" text-anchor="middle">Amplitude</text>
<text transform="translate(763.4 751.4) scale(1 1.085)" font-size="22" text-anchor="middle">(<tspan font-weight="bold">d</tspan>)</text>
</g>
<g id="pe">
<polyline points="84.7 955.6 135.5 953.5 186.4 955.6 237.2 817.9 288 923.9 338.8 973.9 389.7 983.6 440.5 921.7" fill="none" stroke="#4f4ffa" stroke-width="1"/>
<path d="M135.5 1057.3v-4M135.5 788.3v4M237.2 1057.3v-4M237.2 788.3v4M338.8 1057.3v-4M338.8 788.3v4M84.7 1003.5h4M440.5 1003.5h-4M84.7 949.7h4M440.5 949.7h-4M84.7 895.9h4M440.5 895.9h-4M84.7 842.1h4M440.5 842.1h-4" stroke="#666" stroke-width="1" fill="none"/>
<rect x="84.7" y="788.3" width="355.8" height="269" fill="none" stroke="#858585" stroke-width="1.1"/>
<text transform="translate(135.5 1078.3) scale(1.01 1.11)" font-size="19.5" text-anchor="middle">0.02</text>
<text transform="translate(237.2 1078.3) scale(1.01 1.11)" font-size="19.5" text-anchor="middle">0.04</text>
<text transform="translate(338.8 1078.3) scale(1.01 1.11)" font-size="19.5" text-anchor="middle">0.06</text>
<text transform="translate(440.5 1078.3) scale(1.01 1.11)" font-size="19.5" text-anchor="middle">0.08</text>
<text transform="translate(81.1 1064.6) scale(1.01 1.11)" font-size="19.5" text-anchor="end">0</text>
<text transform="translate(81.1 1010.8) scale(1.01 1.11)" font-size="19.5" text-anchor="end">1</text>
<text transform="translate(81.1 957) scale(1.01 1.11)" font-size="19.5" text-anchor="end">2</text>
<text transform="translate(81.1 903.2) scale(1.01 1.11)" font-size="19.5" text-anchor="end">3</text>
<text transform="translate(81.1 849.4) scale(1.01 1.11)" font-size="19.5" text-anchor="end">4</text>
<text transform="translate(81.1 795.6) scale(1.01 1.11)" font-size="19.5" text-anchor="end">5</text>
<text transform="translate(262.1 1098.4) scale(1 1.09)" font-size="19.5" text-anchor="middle">Time (s)</text>
<rect x="225" y="1099.8" width="76" height="5" fill="#fff"/>
<text transform="translate(62 922.4) rotate(-90) scale(1.02 1.02)" font-size="19.5" text-anchor="middle">Energy (J)</text>
<text transform="translate(84.9 783.2) scale(1 1)" font-size="17.2">×</text>
<text transform="translate(101 783.9) scale(1 1.11)" font-size="18.8">10</text>
<text transform="translate(119.6 771) scale(1 1)" font-size="13.2">-4</text>
<text transform="translate(253.3 1122.1) scale(1 1.085)" font-size="22" text-anchor="middle">(<tspan font-weight="bold">e</tspan>)</text>
</g>
<g id="pf">
<polyline points="605.1 1036.1 655.5 1034.5 705.8 1034.5 756.2 1032.9 806.5 1033.7 856.9 1035.3 907.2 1034.5 957.6 1033.7" fill="none" stroke="#4f4ffa" stroke-width="1"/>
<path d="M655.5 1053.6v-4M655.5 787.8v4M756.2 1053.6v-4M756.2 787.8v4M856.9 1053.6v-4M856.9 787.8v4M605.1 1000.4h4M957.6 1000.4h-4M605.1 947.3h4M957.6 947.3h-4M605.1 894.1h4M957.6 894.1h-4M605.1 841h4M957.6 841h-4" stroke="#666" stroke-width="1" fill="none"/>
<rect x="605.1" y="787.8" width="352.5" height="265.8" fill="none" stroke="#858585" stroke-width="1.1"/>
<text transform="translate(655.5 1073.8) scale(1.01 1.11)" font-size="19.5" text-anchor="middle">0.02</text>
<text transform="translate(756.2 1073.8) scale(1.01 1.11)" font-size="19.5" text-anchor="middle">0.04</text>
<text transform="translate(856.9 1073.8) scale(1.01 1.11)" font-size="19.5" text-anchor="middle">0.06</text>
<text transform="translate(957.6 1073.8) scale(1.01 1.11)" font-size="19.5" text-anchor="middle">0.08</text>
<text transform="translate(601.5 1060.9) scale(1.01 1.11)" font-size="19.5" text-anchor="end">0</text>
<text transform="translate(601.5 1007.7) scale(1.01 1.11)" font-size="19.5" text-anchor="end">0.2</text>
<text transform="translate(601.5 954.6) scale(1.01 1.11)" font-size="19.5" text-anchor="end">0.4</text>
<text transform="translate(601.5 901.4) scale(1.01 1.11)" font-size="19.5" text-anchor="end">0.6</text>
<text transform="translate(601.5 848.3) scale(1.01 1.11)" font-size="19.5" text-anchor="end">0.8</text>
<text transform="translate(601.5 795.1) scale(1.01 1.11)" font-size="19.5" text-anchor="end">1</text>
<text transform="translate(780.6 1094.3) scale(1 1.09)" font-size="19.5" text-anchor="middle">Time (s)</text>
<text transform="translate(566 921) rotate(-90) scale(1.02 1.02)" font-size="19.5" text-anchor="middle">Energy (J)</text>
<text transform="translate(606.6 782.7) scale(1 1)" font-size="17.2">×</text>
<text transform="translate(621 783.4) scale(1 1.11)" font-size="18.8">10</text>
<text transform="translate(639.3 771) scale(1 1)" font-size="13.2">-4</text>
<text transform="translate(763.9 1122.7) scale(1 1.085)" font-size="22" text-anchor="middle">(<tspan font-weight="bold">f</tspan>)</text>
</g>
</svg></body></html>
